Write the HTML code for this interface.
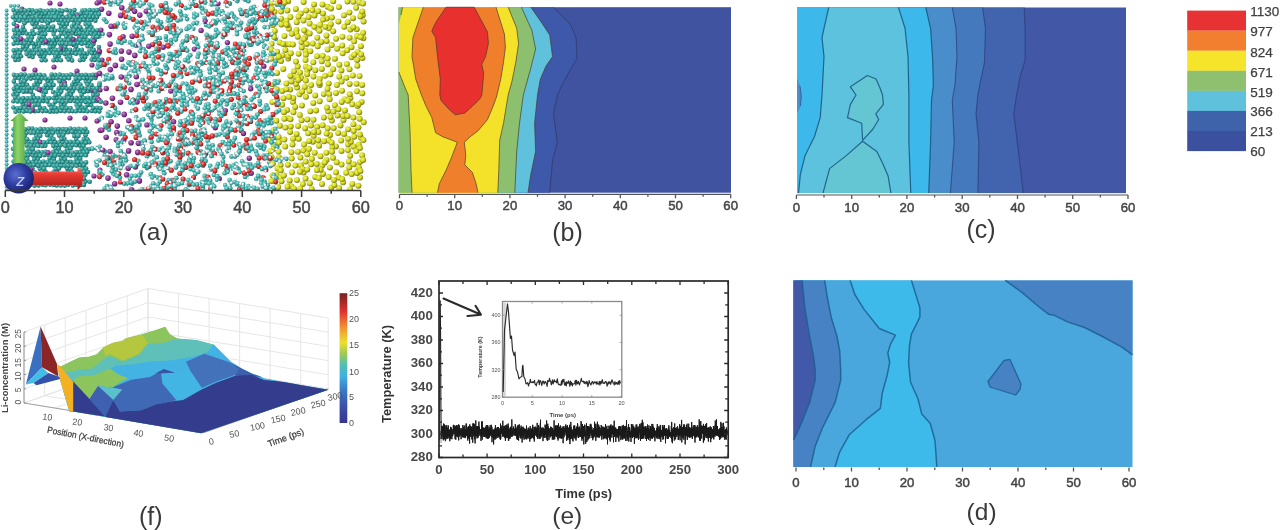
<!DOCTYPE html>
<html><head><meta charset="utf-8"><title>Figure</title>
<style>
html,body{margin:0;padding:0;background:#fff;}
body{width:1280px;height:530px;overflow:hidden;}
svg{display:block;font-family:"Liberation Sans", Arial, sans-serif;}
</style></head><body>
<svg width="1280" height="530" viewBox="0 0 1280 530">
<rect width="1280" height="530" fill="#fff"/>
<g>
<rect x="398.8" y="7.2" width="332.2" height="185.5" fill="#4053a0"/>
<polygon points="398.8,7.2 553.5,7.2 570.5,24.5 576.0,37.7 577.0,58.5 570.5,69.8 563.0,83.0 557.3,95.0 553.5,113.9 557.3,142.2 552.5,161.0 549.7,192.7 398.8,192.7" fill="#3e59a9"/>
<polygon points="398.8,7.2 530.8,7.2 540.3,20.8 549.7,34.9 552.5,56.6 546.0,66.0 540.3,79.2 537.5,95.0 534.6,123.3 535.6,151.6 530.8,174.2 528.0,192.7 398.8,192.7" fill="#5fc1dc"/>
<polygon points="398.8,7.2 521.4,7.2 531.8,30.2 535.6,49.0 530.8,68.0 526.1,85.0 523.3,95.0 519.5,123.3 516.7,151.6 514.8,192.7 398.8,192.7" fill="#8dc06e"/>
<polygon points="398.8,7.2 508.2,7.2 516.7,28.3 518.6,43.4 515.8,62.3 512.0,81.1 508.2,95.0 503.5,123.3 499.7,140.3 498.8,170.5 497.8,192.7 398.8,192.7" fill="#f4e12a"/>
<polygon points="423.3,7.2 412.9,37.7 412.0,56.6 415.8,79.2 421.4,95.0 426.1,106.3 431.8,117.6 435.6,132.7 442.2,136.5 457.3,142.2 451.6,157.3 445.9,170.5 439.3,183.7 437.5,192.7 478.0,192.7 476.1,183.7 472.4,172.4 464.8,164.8 465.8,155.4 464.3,142.2 470.5,136.5 478.0,130.8 487.5,119.5 493.1,106.3 496.5,97.0 500.7,79.2 503.5,62.3 505.4,47.2 504.4,34.0 496.0,7.2" fill="#f07f2c"/>
<polygon points="446.0,7.2 474.2,7.2 487.5,32.0 488.4,43.4 485.6,56.6 481.8,64.2 483.7,73.6 482.7,85.0 481.8,95.0 479.9,98.8 472.4,106.3 464.8,113.0 455.4,114.8 449.7,110.0 441.2,100.7 439.8,95.0 440.3,79.2 437.5,56.6 435.6,37.7 431.8,31.1 435.6,22.6" fill="#e8302f"/>
<polygon points="398.8,7.2 402.5,7.2 401.0,15.0 398.8,24.5" fill="#8dc06e"/>
<polygon points="398.8,72.0 402.0,80.0 406.0,90.0 408.2,95.0 410.1,132.7 411.0,170.5 412.0,192.7 398.8,192.7" fill="#8dc06e"/>
<polyline points="553.5,7.2 570.5,24.5 576.0,37.7 577.0,58.5 570.5,69.8 563.0,83.0 557.3,95.0 553.5,113.9 557.3,142.2 552.5,161.0 549.7,192.7" fill="none" stroke="rgba(40,40,70,0.55)" stroke-width="0.90" stroke-linejoin="round"/>
<polyline points="530.8,7.2 540.3,20.8 549.7,34.9 552.5,56.6 546.0,66.0 540.3,79.2 537.5,95.0 534.6,123.3 535.6,151.6 530.8,174.2 528.0,192.7" fill="none" stroke="rgba(70,55,40,0.75)" stroke-width="0.90" stroke-linejoin="round"/>
<polyline points="521.4,7.2 531.8,30.2 535.6,49.0 530.8,68.0 526.1,85.0 523.3,95.0 519.5,123.3 516.7,151.6 514.8,192.7" fill="none" stroke="rgba(70,55,40,0.75)" stroke-width="0.90" stroke-linejoin="round"/>
<polyline points="508.2,7.2 516.7,28.3 518.6,43.4 515.8,62.3 512.0,81.1 508.2,95.0 503.5,123.3 499.7,140.3 498.8,170.5 497.8,192.7" fill="none" stroke="rgba(70,55,40,0.75)" stroke-width="0.90" stroke-linejoin="round"/>
<polyline points="423.3,7.2 412.9,37.7 412.0,56.6 415.8,79.2 421.4,95.0 426.1,106.3 431.8,117.6 435.6,132.7 442.2,136.5 457.3,142.2 451.6,157.3 445.9,170.5 439.3,183.7 437.5,192.7" fill="none" stroke="rgba(70,55,40,0.75)" stroke-width="0.90" stroke-linejoin="round"/>
<polyline points="496.0,7.2 504.4,34.0 505.4,47.2 503.5,62.3 500.7,79.2 496.5,97.0 493.1,106.3 487.5,119.5 478.0,130.8 470.5,136.5 464.3,142.2 465.8,155.4 464.8,164.8 472.4,172.4 476.1,183.7 478.0,192.7" fill="none" stroke="rgba(70,55,40,0.75)" stroke-width="0.90" stroke-linejoin="round"/>
<polyline points="446.0,7.2 474.2,7.2 487.5,32.0 488.4,43.4 485.6,56.6 481.8,64.2 483.7,73.6 482.7,85.0 481.8,95.0 479.9,98.8 472.4,106.3 464.8,113.0 455.4,114.8 449.7,110.0 441.2,100.7 439.8,95.0 440.3,79.2 437.5,56.6 435.6,37.7 431.8,31.1 435.6,22.6 446.0,7.2" fill="none" stroke="rgba(70,55,40,0.75)" stroke-width="0.90" stroke-linejoin="round"/>
<polyline points="402.5,7.2 401.0,15.0" fill="none" stroke="rgba(70,55,40,0.75)" stroke-width="0.90" stroke-linejoin="round"/>
<polyline points="398.8,72.0 402.0,80.0 406.0,90.0 408.2,95.0 410.1,132.7 411.0,170.5 412.0,192.7" fill="none" stroke="rgba(70,55,40,0.75)" stroke-width="0.90" stroke-linejoin="round"/>
</g>
<line x1="399.5" y1="194.3" x2="730.7" y2="194.3" stroke="#555" stroke-width="1.2"/>
<line x1="399.5" y1="194.3" x2="399.5" y2="198.3" stroke="#555" stroke-width="1.3"/>
<text x="399.5" y="210.2" font-size="13.2" text-anchor="middle" font-weight="normal" fill="#444" stroke="#444" stroke-width="0.45">0</text>
<line x1="427.1" y1="194.3" x2="427.1" y2="196.8" stroke="#555" stroke-width="1.3"/>
<line x1="454.7" y1="194.3" x2="454.7" y2="198.3" stroke="#555" stroke-width="1.3"/>
<text x="454.7" y="210.2" font-size="13.2" text-anchor="middle" font-weight="normal" fill="#444" stroke="#444" stroke-width="0.45">10</text>
<line x1="482.3" y1="194.3" x2="482.3" y2="196.8" stroke="#555" stroke-width="1.3"/>
<line x1="509.9" y1="194.3" x2="509.9" y2="198.3" stroke="#555" stroke-width="1.3"/>
<text x="509.9" y="210.2" font-size="13.2" text-anchor="middle" font-weight="normal" fill="#444" stroke="#444" stroke-width="0.45">20</text>
<line x1="537.5" y1="194.3" x2="537.5" y2="196.8" stroke="#555" stroke-width="1.3"/>
<line x1="565.1" y1="194.3" x2="565.1" y2="198.3" stroke="#555" stroke-width="1.3"/>
<text x="565.1" y="210.2" font-size="13.2" text-anchor="middle" font-weight="normal" fill="#444" stroke="#444" stroke-width="0.45">30</text>
<line x1="592.7" y1="194.3" x2="592.7" y2="196.8" stroke="#555" stroke-width="1.3"/>
<line x1="620.3" y1="194.3" x2="620.3" y2="198.3" stroke="#555" stroke-width="1.3"/>
<text x="620.3" y="210.2" font-size="13.2" text-anchor="middle" font-weight="normal" fill="#444" stroke="#444" stroke-width="0.45">40</text>
<line x1="647.9" y1="194.3" x2="647.9" y2="196.8" stroke="#555" stroke-width="1.3"/>
<line x1="675.5" y1="194.3" x2="675.5" y2="198.3" stroke="#555" stroke-width="1.3"/>
<text x="675.5" y="210.2" font-size="13.2" text-anchor="middle" font-weight="normal" fill="#444" stroke="#444" stroke-width="0.45">50</text>
<line x1="703.1" y1="194.3" x2="703.1" y2="196.8" stroke="#555" stroke-width="1.3"/>
<line x1="730.7" y1="194.3" x2="730.7" y2="198.3" stroke="#555" stroke-width="1.3"/>
<text x="730.7" y="210.2" font-size="13.2" text-anchor="middle" font-weight="normal" fill="#444" stroke="#444" stroke-width="0.45">60</text>
<text x="567.5" y="240.5" font-size="25.0" text-anchor="middle" font-weight="normal" fill="#3a3a3a">(b)</text>
<g>
<rect x="797.2" y="7.5" width="328.8" height="185.6" fill="#4257a5"/>
<polygon points="797.2,7.5 1024.2,7.5 1025.1,28.3 1025.1,60.4 1020.4,75.5 1016.6,95.0 1013.8,113.9 1018.5,151.6 1023.2,193.1 797.2,193.1" fill="#4264ae"/>
<polygon points="797.2,7.5 982.6,7.5 985.5,28.3 984.5,62.3 979.8,85.0 977.9,95.0 976.0,113.9 978.9,142.2 977.9,193.1 797.2,193.1" fill="#4479bd"/>
<polygon points="797.2,7.5 952.3,7.5 956.0,28.3 957.0,56.6 955.0,85.0 952.3,100.0 954.2,142.2 950.4,193.1 797.2,193.1" fill="#4a8dcb"/>
<polygon points="797.2,7.5 925.8,7.5 930.6,28.3 932.5,56.6 933.4,85.0 931.5,100.0 930.6,142.2 928.7,193.1 797.2,193.1" fill="#3db8ea"/>
<polygon points="797.2,7.5 898.5,7.5 905.0,28.3 908.0,56.6 908.9,95.0 908.9,142.2 910.8,193.1 797.2,193.1" fill="#5cc2de"/>
<polygon points="797.2,7.5 828.7,7.5 824.0,28.3 822.0,37.7 824.0,56.6 823.0,75.5 822.0,95.0 820.2,117.6 814.5,136.5 805.1,155.4 800.4,174.2 798.5,193.1 797.2,193.1" fill="#3db8ea"/>
<polygon points="867.4,75.5 876.0,79.0 880.0,88.0 882.5,95.0 883.4,104.4 875.8,113.9 878.7,119.5 873.0,129.0 862.6,140.3 861.7,123.3 847.5,117.6 850.4,104.4 856.0,95.0 850.4,86.8" fill="#64c5d3"/>
<polygon points="862.6,141.2 876.8,151.6 882.5,162.9 888.1,176.1 891.0,193.1 823.0,193.1 829.6,168.6 846.6,155.4" fill="#64c5d3"/>
<polygon points="797.2,78.0 800.0,86.0 801.3,96.0 800.5,106.0 797.2,113.5" fill="#4a8dcb"/>
<polyline points="828.7,7.5 824.0,28.3 822.0,37.7 824.0,56.6 823.0,75.5 822.0,95.0 820.2,117.6 814.5,136.5 805.1,155.4 800.4,174.2 798.5,193.1" fill="none" stroke="rgba(25,85,125,0.85)" stroke-width="1.20" stroke-linejoin="round"/>
<polyline points="898.5,7.5 905.0,28.3 908.0,56.6 908.9,95.0 908.9,142.2 910.8,193.1" fill="none" stroke="rgba(25,85,125,0.85)" stroke-width="1.20" stroke-linejoin="round"/>
<polyline points="925.8,7.5 930.6,28.3 932.5,56.6 933.4,85.0 931.5,100.0 930.6,142.2 928.7,193.1" fill="none" stroke="rgba(25,85,125,0.85)" stroke-width="1.20" stroke-linejoin="round"/>
<polyline points="952.3,7.5 956.0,28.3 957.0,56.6 955.0,85.0 952.3,100.0 954.2,142.2 950.4,193.1" fill="none" stroke="rgba(40,60,120,0.7)" stroke-width="1.10" stroke-linejoin="round"/>
<polyline points="982.6,7.5 985.5,28.3 984.5,62.3 979.8,85.0 977.9,95.0 976.0,113.9 978.9,142.2 977.9,193.1" fill="none" stroke="rgba(40,60,120,0.7)" stroke-width="1.10" stroke-linejoin="round"/>
<polyline points="1024.2,7.5 1025.1,28.3 1025.1,60.4 1020.4,75.5 1016.6,95.0 1013.8,113.9 1018.5,151.6 1023.2,193.1" fill="none" stroke="rgba(40,60,120,0.7)" stroke-width="1.10" stroke-linejoin="round"/>
<polyline points="867.4,75.5 876.0,79.0 880.0,88.0 882.5,95.0 883.4,104.4 875.8,113.9 878.7,119.5 873.0,129.0 862.6,140.3 861.7,123.3 847.5,117.6 850.4,104.4 856.0,95.0 850.4,86.8 867.4,75.5" fill="none" stroke="rgba(25,85,125,0.85)" stroke-width="1.20" stroke-linejoin="round"/>
<polyline points="823.0,193.1 829.6,168.6 846.6,155.4 862.6,141.2 876.8,151.6 882.5,162.9 888.1,176.1 891.0,193.1" fill="none" stroke="rgba(25,85,125,0.85)" stroke-width="1.20" stroke-linejoin="round"/>
<polyline points="800.0,86.0 801.3,96.0 800.5,106.0" fill="none" stroke="rgba(40,60,120,0.6)" stroke-width="1.00" stroke-linejoin="round"/>
</g>
<line x1="796.4" y1="195.0" x2="1128.0" y2="195.0" stroke="#555" stroke-width="1.2"/>
<line x1="796.4" y1="195.0" x2="796.4" y2="199.0" stroke="#555" stroke-width="1.3"/>
<text x="796.4" y="211.8" font-size="13.2" text-anchor="middle" font-weight="normal" fill="#444" stroke="#444" stroke-width="0.45">0</text>
<line x1="824.0" y1="195.0" x2="824.0" y2="197.5" stroke="#555" stroke-width="1.3"/>
<line x1="851.7" y1="195.0" x2="851.7" y2="199.0" stroke="#555" stroke-width="1.3"/>
<text x="851.7" y="211.8" font-size="13.2" text-anchor="middle" font-weight="normal" fill="#444" stroke="#444" stroke-width="0.45">10</text>
<line x1="879.3" y1="195.0" x2="879.3" y2="197.5" stroke="#555" stroke-width="1.3"/>
<line x1="906.9" y1="195.0" x2="906.9" y2="199.0" stroke="#555" stroke-width="1.3"/>
<text x="906.9" y="211.8" font-size="13.2" text-anchor="middle" font-weight="normal" fill="#444" stroke="#444" stroke-width="0.45">20</text>
<line x1="934.6" y1="195.0" x2="934.6" y2="197.5" stroke="#555" stroke-width="1.3"/>
<line x1="962.2" y1="195.0" x2="962.2" y2="199.0" stroke="#555" stroke-width="1.3"/>
<text x="962.2" y="211.8" font-size="13.2" text-anchor="middle" font-weight="normal" fill="#444" stroke="#444" stroke-width="0.45">30</text>
<line x1="989.8" y1="195.0" x2="989.8" y2="197.5" stroke="#555" stroke-width="1.3"/>
<line x1="1017.5" y1="195.0" x2="1017.5" y2="199.0" stroke="#555" stroke-width="1.3"/>
<text x="1017.5" y="211.8" font-size="13.2" text-anchor="middle" font-weight="normal" fill="#444" stroke="#444" stroke-width="0.45">40</text>
<line x1="1045.1" y1="195.0" x2="1045.1" y2="197.5" stroke="#555" stroke-width="1.3"/>
<line x1="1072.7" y1="195.0" x2="1072.7" y2="199.0" stroke="#555" stroke-width="1.3"/>
<text x="1072.7" y="211.8" font-size="13.2" text-anchor="middle" font-weight="normal" fill="#444" stroke="#444" stroke-width="0.45">50</text>
<line x1="1100.4" y1="195.0" x2="1100.4" y2="197.5" stroke="#555" stroke-width="1.3"/>
<line x1="1128.0" y1="195.0" x2="1128.0" y2="199.0" stroke="#555" stroke-width="1.3"/>
<text x="1128.0" y="211.8" font-size="13.2" text-anchor="middle" font-weight="normal" fill="#444" stroke="#444" stroke-width="0.45">60</text>
<text x="981.0" y="237.5" font-size="25.0" text-anchor="middle" font-weight="normal" fill="#3a3a3a">(c)</text>
<rect x="1187.2" y="10.60" width="58.8" height="20.15" fill="#e73234"/>
<rect x="1187.2" y="30.66" width="58.8" height="20.15" fill="#f17f2f"/>
<rect x="1187.2" y="50.72" width="58.8" height="20.15" fill="#f5e42a"/>
<rect x="1187.2" y="70.78" width="58.8" height="20.15" fill="#8fc070"/>
<rect x="1187.2" y="90.84" width="58.8" height="20.15" fill="#5fc1dc"/>
<rect x="1187.2" y="110.90" width="58.8" height="20.15" fill="#3e63ab"/>
<rect x="1187.2" y="130.96" width="58.8" height="20.15" fill="#3c50a0"/>
<text x="1250.3" y="16.1" font-size="13.5" text-anchor="start" font-weight="normal" fill="#404040" stroke="#404040" stroke-width="0.25">1130</text>
<text x="1250.3" y="35.6" font-size="13.5" text-anchor="start" font-weight="normal" fill="#404040" stroke="#404040" stroke-width="0.25">977</text>
<text x="1250.3" y="56.6" font-size="13.5" text-anchor="start" font-weight="normal" fill="#404040" stroke="#404040" stroke-width="0.25">824</text>
<text x="1250.3" y="77.1" font-size="13.5" text-anchor="start" font-weight="normal" fill="#404040" stroke="#404040" stroke-width="0.25">671</text>
<text x="1250.3" y="96.9" font-size="13.5" text-anchor="start" font-weight="normal" fill="#404040" stroke="#404040" stroke-width="0.25">519</text>
<text x="1250.3" y="115.7" font-size="13.5" text-anchor="start" font-weight="normal" fill="#404040" stroke="#404040" stroke-width="0.25">366</text>
<text x="1250.3" y="135.6" font-size="13.5" text-anchor="start" font-weight="normal" fill="#404040" stroke="#404040" stroke-width="0.25">213</text>
<text x="1250.3" y="156.3" font-size="13.5" text-anchor="start" font-weight="normal" fill="#404040" stroke="#404040" stroke-width="0.25">60</text>
<g>
<rect x="793.5" y="280.4" width="339.0" height="186.6" fill="#49a7de"/>
<polygon points="793.5,280.4 911.4,280.4 915.2,292.6 919.9,307.7 919.9,317.2 911.4,334.2 909.5,345.5 908.6,362.5 910.5,382.0 918.0,399.0 921.8,414.1 930.3,423.5 935.0,440.5 936.9,467.0 793.5,467.0" fill="#3db9ea"/>
<polygon points="793.5,280.4 850.1,280.4 854.8,294.5 864.2,309.6 879.3,328.5 895.4,335.1 890.7,343.6 887.8,353.0 889.7,362.5 886.9,376.3 882.2,393.3 880.3,408.4 866.1,419.7 849.2,434.8 839.7,451.8 835.0,467.0 793.5,467.0" fill="#49a7de"/>
<polygon points="793.5,280.4 824.6,280.4 827.5,298.3 831.2,317.2 836.9,336.0 839.7,351.1 840.7,370.0 840.7,380.1 835.0,402.7 822.7,427.3 815.2,446.1 810.5,467.0 793.5,467.0" fill="#4682c4"/>
<polygon points="793.5,280.4 802.0,280.4 804.8,307.7 809.5,336.0 813.3,354.9 815.2,370.0 815.2,380.1 809.5,402.7 802.0,421.6 795.4,436.7 793.5,440.0 793.5,440.0" fill="#4159a8"/>
<polygon points="1005.3,280.4 1022.3,292.6 1035.5,304.0 1048.7,314.3 1054.3,315.3 1067.5,321.9 1084.5,327.5 1103.4,337.0 1122.3,347.4 1132.5,354.9 1132.5,280.4" fill="#4682c4"/>
<polygon points="1004.0,360.5 1010.0,359.4 1021.0,384.0 1020.0,389.5 1015.6,395.0 990.0,387.0 988.0,381.5" fill="#4682c4"/>
<polyline points="802.0,280.4 804.8,307.7 809.5,336.0 813.3,354.9 815.2,370.0 815.2,380.1 809.5,402.7 802.0,421.6 795.4,436.7 793.5,440.0" fill="none" stroke="rgba(28,95,145,0.85)" stroke-width="1.50" stroke-linejoin="round"/>
<polyline points="824.6,280.4 827.5,298.3 831.2,317.2 836.9,336.0 839.7,351.1 840.7,370.0 840.7,380.1 835.0,402.7 822.7,427.3 815.2,446.1 810.5,467.0" fill="none" stroke="rgba(28,95,145,0.85)" stroke-width="1.50" stroke-linejoin="round"/>
<polyline points="850.1,280.4 854.8,294.5 864.2,309.6 879.3,328.5 895.4,335.1 890.7,343.6 887.8,353.0 889.7,362.5 886.9,376.3 882.2,393.3 880.3,408.4 866.1,419.7 849.2,434.8 839.7,451.8 835.0,467.0" fill="none" stroke="rgba(28,95,145,0.85)" stroke-width="1.50" stroke-linejoin="round"/>
<polyline points="911.4,280.4 915.2,292.6 919.9,307.7 919.9,317.2 911.4,334.2 909.5,345.5 908.6,362.5 910.5,382.0 918.0,399.0 921.8,414.1 930.3,423.5 935.0,440.5 936.9,467.0" fill="none" stroke="rgba(28,95,145,0.85)" stroke-width="1.50" stroke-linejoin="round"/>
<polyline points="1005.3,280.4 1022.3,292.6 1035.5,304.0 1048.7,314.3 1054.3,315.3 1067.5,321.9 1084.5,327.5 1103.4,337.0 1122.3,347.4 1132.5,354.9" fill="none" stroke="rgba(28,95,145,0.85)" stroke-width="1.50" stroke-linejoin="round"/>
<polyline points="1004.0,360.5 1010.0,359.4 1021.0,384.0 1020.0,389.5 1015.6,395.0 990.0,387.0 988.0,381.5 1004.0,360.5" fill="none" stroke="rgba(28,95,145,0.85)" stroke-width="1.30" stroke-linejoin="round"/>
</g>
<line x1="796.0" y1="467.5" x2="796.0" y2="471.5" stroke="#555" stroke-width="1.3"/>
<text x="796.0" y="487.3" font-size="13.2" text-anchor="middle" font-weight="normal" fill="#444" stroke="#444" stroke-width="0.45">0</text>
<line x1="823.8" y1="467.5" x2="823.8" y2="470.0" stroke="#555" stroke-width="1.3"/>
<line x1="851.5" y1="467.5" x2="851.5" y2="471.5" stroke="#555" stroke-width="1.3"/>
<text x="851.5" y="487.3" font-size="13.2" text-anchor="middle" font-weight="normal" fill="#444" stroke="#444" stroke-width="0.45">10</text>
<line x1="879.2" y1="467.5" x2="879.2" y2="470.0" stroke="#555" stroke-width="1.3"/>
<line x1="907.0" y1="467.5" x2="907.0" y2="471.5" stroke="#555" stroke-width="1.3"/>
<text x="907.0" y="487.3" font-size="13.2" text-anchor="middle" font-weight="normal" fill="#444" stroke="#444" stroke-width="0.45">20</text>
<line x1="934.8" y1="467.5" x2="934.8" y2="470.0" stroke="#555" stroke-width="1.3"/>
<line x1="962.5" y1="467.5" x2="962.5" y2="471.5" stroke="#555" stroke-width="1.3"/>
<text x="962.5" y="487.3" font-size="13.2" text-anchor="middle" font-weight="normal" fill="#444" stroke="#444" stroke-width="0.45">30</text>
<line x1="990.2" y1="467.5" x2="990.2" y2="470.0" stroke="#555" stroke-width="1.3"/>
<line x1="1018.0" y1="467.5" x2="1018.0" y2="471.5" stroke="#555" stroke-width="1.3"/>
<text x="1018.0" y="487.3" font-size="13.2" text-anchor="middle" font-weight="normal" fill="#444" stroke="#444" stroke-width="0.45">40</text>
<line x1="1045.8" y1="467.5" x2="1045.8" y2="470.0" stroke="#555" stroke-width="1.3"/>
<line x1="1073.5" y1="467.5" x2="1073.5" y2="471.5" stroke="#555" stroke-width="1.3"/>
<text x="1073.5" y="487.3" font-size="13.2" text-anchor="middle" font-weight="normal" fill="#444" stroke="#444" stroke-width="0.45">50</text>
<line x1="1101.2" y1="467.5" x2="1101.2" y2="470.0" stroke="#555" stroke-width="1.3"/>
<line x1="1129.0" y1="467.5" x2="1129.0" y2="471.5" stroke="#555" stroke-width="1.3"/>
<text x="1129.0" y="487.3" font-size="13.2" text-anchor="middle" font-weight="normal" fill="#444" stroke="#444" stroke-width="0.45">60</text>
<text x="981.6" y="520.3" font-size="24.5" text-anchor="middle" font-weight="normal" fill="#3a3a3a">(d)</text>
<g>
<rect x="439.5" y="431" width="2.6" height="12" fill="#c8c8c8"/>
<polyline points="439.6,440.0 440.0,300.5 440.6,330.0 440.9,400.0 441.1,425.0 441.2,439.0 441.3,430.6 441.4,432.5 441.5,434.0 441.6,429.3 441.6,432.4 441.7,432.4 441.8,425.6 441.9,436.4 442.0,434.7 442.1,430.0 442.2,431.7 442.3,434.4 442.4,431.4 442.5,431.5 442.5,426.7 442.6,434.6 442.7,432.9 442.8,433.5 442.9,426.4 443.0,438.8 443.1,433.0 443.2,430.9 443.3,440.3 443.4,432.2 443.4,426.7 443.5,430.8 443.6,423.5 443.7,436.5 443.8,430.8 443.9,429.5 444.0,436.6 444.1,426.0 444.2,434.5 444.3,424.3 444.3,429.8 444.4,427.7 444.5,438.1 444.6,439.3 444.7,431.1 444.8,435.7 444.9,431.7 445.0,434.6 445.1,429.5 445.2,425.7 445.2,425.4 445.3,433.9 445.4,441.2 445.5,433.5 445.6,430.4 445.7,439.9 445.8,433.3 445.9,432.8 446.0,433.4 446.1,431.9 446.1,431.2 446.2,426.8 446.3,434.4 446.4,432.0 446.5,437.1 446.6,431.0 446.7,425.0 446.8,432.0 446.9,439.0 447.0,430.9 447.0,428.9 447.1,427.7 447.2,428.3 447.3,431.2 447.4,427.8 447.5,438.2 447.6,431.3 447.7,432.8 447.8,438.0 447.9,438.3 447.9,431.6 448.0,433.7 448.1,435.3 448.2,431.6 448.3,425.5 448.4,435.0 448.5,435.9 448.6,434.0 448.7,436.9 448.8,431.6 448.8,430.1 448.9,431.2 449.0,437.5 449.1,438.4 449.2,435.0 449.3,434.5 449.4,435.0 449.5,432.4 449.6,432.1 449.7,429.8 449.7,432.2 449.8,441.2 449.9,435.8 450.0,431.1 450.1,430.6 450.2,429.0 450.3,433.9 450.4,433.9 450.5,426.8 450.6,434.3 450.6,430.2 450.7,438.0 450.8,433.0 450.9,439.1 451.0,430.6 451.1,431.3 451.2,433.6 451.3,436.5 451.4,434.6 451.5,427.6 451.5,433.1 451.6,432.5 451.7,430.7 451.8,429.9 451.9,439.2 452.0,430.9 452.1,429.1 452.2,434.9 452.3,432.9 452.4,432.1 452.4,435.4 452.5,434.3 452.6,433.8 452.7,436.2 452.8,433.5 452.9,430.0 453.0,431.0 453.1,430.4 453.2,433.2 453.3,428.2 453.3,425.3 453.4,432.7 453.5,427.2 453.6,424.8 453.7,433.9 453.8,429.6 453.9,434.3 454.0,430.3 454.1,428.0 454.2,427.6 454.2,430.4 454.3,431.3 454.4,429.2 454.5,431.3 454.6,426.4 454.7,432.5 454.8,425.4 454.9,431.6 455.0,435.1 455.1,436.7 455.1,439.1 455.2,426.3 455.3,435.4 455.4,437.1 455.5,436.2 455.6,428.8 455.7,434.0 455.8,439.7 455.9,426.6 456.0,434.3 456.0,436.7 456.1,429.7 456.2,434.7 456.3,428.2 456.4,429.2 456.5,425.1 456.6,433.2 456.7,432.0 456.8,436.1 456.9,428.7 456.9,431.9 457.0,436.1 457.1,434.6 457.2,427.2 457.3,435.0 457.4,430.5 457.5,433.9 457.6,433.6 457.7,437.2 457.8,432.9 457.8,425.2 457.9,427.1 458.0,435.3 458.1,431.4 458.2,436.8 458.3,433.5 458.4,429.5 458.5,436.6 458.6,429.3 458.7,424.4 458.7,440.4 458.8,424.9 458.9,434.9 459.0,436.1 459.1,433.0 459.2,425.8 459.3,436.4 459.4,426.8 459.5,427.2 459.6,431.0 459.6,435.5 459.7,433.6 459.8,435.6 459.9,430.7 460.0,431.7 460.1,428.0 460.2,431.2 460.3,434.7 460.4,431.2 460.5,434.3 460.5,430.2 460.6,430.1 460.7,432.6 460.8,431.6 460.9,434.7 461.0,433.1 461.1,439.2 461.2,431.5 461.3,431.5 461.4,428.3 461.4,432.5 461.5,435.1 461.6,429.5 461.7,432.2 461.8,435.2 461.9,431.9 462.0,430.4 462.1,436.2 462.2,432.8 462.3,433.9 462.3,437.0 462.4,436.9 462.5,431.0 462.6,430.4 462.7,433.5 462.8,431.9 462.9,425.0 463.0,437.4 463.1,432.5 463.2,435.3 463.2,427.8 463.3,437.4 463.4,430.1 463.5,432.0 463.6,426.9 463.7,431.7 463.8,431.5 463.9,431.7 464.0,434.1 464.1,432.6 464.1,436.2 464.2,430.6 464.3,428.5 464.4,432.3 464.5,434.9 464.6,437.3 464.7,435.6 464.8,425.5 464.9,433.9 465.0,438.1 465.0,432.6 465.1,430.4 465.2,433.6 465.3,430.4 465.4,434.9 465.5,432.3 465.6,437.8 465.7,434.3 465.8,429.6 465.9,434.8 465.9,436.1 466.0,430.2 466.1,430.7 466.2,423.4 466.3,435.9 466.4,430.1 466.5,424.1 466.6,425.5 466.7,431.5 466.8,435.4 466.8,432.1 466.9,434.2 467.0,428.1 467.1,427.2 467.2,435.9 467.3,434.3 467.4,432.3 467.5,437.4 467.6,428.7 467.7,430.8 467.7,436.4 467.8,440.6 467.9,432.4 468.0,439.0 468.1,430.1 468.2,433.7 468.3,431.7 468.4,426.2 468.5,433.4 468.6,436.0 468.6,431.8 468.7,432.1 468.8,437.8 468.9,427.5 469.0,426.6 469.1,429.8 469.2,427.7 469.3,437.7 469.4,433.6 469.5,429.0 469.5,430.0 469.6,443.6 469.7,430.0 469.8,424.3 469.9,433.6 470.0,434.9 470.1,433.3 470.2,428.9 470.3,427.9 470.4,434.7 470.4,432.2 470.5,426.0 470.6,437.0 470.7,435.4 470.8,431.5 470.9,431.4 471.0,433.3 471.1,429.7 471.2,427.1 471.3,433.7 471.3,426.8 471.4,433.9 471.5,426.8 471.6,432.0 471.7,431.9 471.8,439.4 471.9,428.2 472.0,426.9 472.1,429.9 472.2,428.0 472.2,430.1 472.3,434.0 472.4,435.4 472.5,438.9 472.6,429.5 472.7,442.7 472.8,440.1 472.9,431.6 473.0,423.5 473.1,432.1 473.1,432.7 473.2,423.4 473.3,432.7 473.4,431.6 473.5,429.3 473.6,434.8 473.7,436.3 473.8,430.5 473.9,433.3 474.0,429.8 474.0,429.3 474.1,432.7 474.2,434.4 474.3,430.2 474.4,423.8 474.5,434.7 474.6,426.2 474.7,432.9 474.8,439.3 474.9,432.3 474.9,427.8 475.0,426.7 475.1,443.4 475.2,432.3 475.3,434.5 475.4,436.0 475.5,432.2 475.6,431.2 475.7,428.7 475.8,420.4 475.8,426.5 475.9,432.1 476.0,431.7 476.1,434.0 476.2,431.9 476.3,433.0 476.4,435.5 476.5,428.9 476.6,431.3 476.7,426.1 476.7,436.2 476.8,432.5 476.9,434.3 477.0,438.4 477.1,436.6 477.2,432.2 477.3,435.5 477.4,426.8 477.5,434.1 477.6,432.9 477.6,426.1 477.7,437.6 477.8,429.7 477.9,435.1 478.0,430.8 478.1,436.3 478.2,437.5 478.3,429.2 478.4,426.4 478.5,431.9 478.5,435.7 478.6,431.0 478.7,430.0 478.8,434.3 478.9,421.6 479.0,429.8 479.1,427.0 479.2,433.5 479.3,429.5 479.4,428.1 479.4,431.0 479.5,426.7 479.6,432.3 479.7,429.7 479.8,430.9 479.9,429.6 480.0,436.0 480.1,432.0 480.2,434.4 480.3,434.3 480.3,429.3 480.4,434.6 480.5,433.8 480.6,433.6 480.7,430.8 480.8,430.7 480.9,435.5 481.0,440.9 481.1,429.2 481.2,434.5 481.2,431.0 481.3,435.5 481.4,434.1 481.5,436.5 481.6,421.5 481.7,430.1 481.8,428.5 481.9,432.0 482.0,429.6 482.1,429.9 482.1,435.1 482.2,439.8 482.3,421.4 482.4,431.2 482.5,433.6 482.6,432.4 482.7,431.1 482.8,427.1 482.9,428.7 483.0,435.2 483.0,436.6 483.1,432.8 483.2,429.1 483.3,432.8 483.4,431.5 483.5,434.5 483.6,432.9 483.7,430.0 483.8,433.1 483.9,427.8 483.9,435.6 484.0,437.0 484.1,427.8 484.2,434.0 484.3,428.5 484.4,436.6 484.5,435.9 484.6,431.5 484.7,436.3 484.8,430.7 484.8,429.9 484.9,430.2 485.0,431.9 485.1,431.1 485.2,433.0 485.3,430.0 485.4,435.4 485.5,431.8 485.6,430.5 485.7,426.8 485.7,435.2 485.8,436.8 485.9,431.8 486.0,427.4 486.1,433.4 486.2,438.3 486.3,425.1 486.4,434.3 486.5,431.2 486.6,429.1 486.6,434.3 486.7,427.3 486.8,433.6 486.9,437.5 487.0,433.1 487.1,429.0 487.2,425.5 487.3,427.4 487.4,425.2 487.5,438.6 487.5,431.4 487.6,428.3 487.7,427.3 487.8,428.2 487.9,425.5 488.0,427.4 488.1,438.9 488.2,429.5 488.3,429.3 488.4,433.6 488.4,438.1 488.5,437.6 488.6,430.5 488.7,433.4 488.8,433.0 488.9,434.5 489.0,433.4 489.1,428.7 489.2,427.5 489.3,433.1 489.3,427.8 489.4,437.7 489.5,432.6 489.6,428.4 489.7,431.1 489.8,430.4 489.9,431.9 490.0,436.1 490.1,426.8 490.2,425.1 490.2,433.7 490.3,431.7 490.4,433.0 490.5,434.1 490.6,431.7 490.7,435.5 490.8,428.9 490.9,432.7 491.0,429.2 491.1,428.0 491.1,434.8 491.2,434.6 491.3,424.8 491.4,428.0 491.5,433.5 491.6,436.6 491.7,429.8 491.8,431.7 491.9,426.9 492.0,442.2 492.0,434.3 492.1,435.9 492.2,435.0 492.3,436.0 492.4,434.8 492.5,431.1 492.6,435.3 492.7,432.7 492.8,437.5 492.9,429.5 492.9,430.3 493.0,435.0 493.1,437.4 493.2,433.0 493.3,429.6 493.4,431.9 493.5,430.5 493.6,444.4 493.7,435.9 493.8,437.3 493.8,435.9 493.9,430.2 494.0,437.0 494.1,438.9 494.2,434.7 494.3,432.3 494.4,436.6 494.5,431.0 494.6,435.4 494.7,429.6 494.7,428.6 494.8,434.6 494.9,433.7 495.0,439.8 495.1,431.3 495.2,432.5 495.3,428.0 495.4,425.1 495.5,425.5 495.6,434.2 495.6,427.8 495.7,436.8 495.8,437.9 495.9,431.3 496.0,438.9 496.1,433.3 496.2,436.8 496.3,431.5 496.4,436.1 496.5,428.7 496.5,434.8 496.6,430.6 496.7,431.9 496.8,434.9 496.9,433.1 497.0,432.1 497.1,435.2 497.2,435.5 497.3,427.0 497.4,434.6 497.4,435.0 497.5,429.5 497.6,433.9 497.7,427.2 497.8,438.0 497.9,431.5 498.0,432.1 498.1,437.1 498.2,431.8 498.3,434.7 498.3,428.3 498.4,430.2 498.5,427.0 498.6,431.6 498.7,436.4 498.8,433.3 498.9,435.8 499.0,428.4 499.1,429.0 499.2,430.6 499.2,434.6 499.3,433.8 499.4,431.8 499.5,434.8 499.6,431.8 499.7,432.3 499.8,437.5 499.9,430.1 500.0,433.1 500.1,438.7 500.1,432.8 500.2,428.4 500.3,430.0 500.4,440.0 500.5,423.6 500.6,428.0 500.7,428.3 500.8,438.7 500.9,433.8 501.0,431.4 501.0,427.4 501.1,433.8 501.2,432.8 501.3,429.7 501.4,426.6 501.5,428.1 501.6,433.2 501.7,433.6 501.8,432.7 501.9,431.8 501.9,425.5 502.0,432.6 502.1,428.4 502.2,432.6 502.3,434.2 502.4,429.8 502.5,428.4 502.6,436.3 502.7,433.8 502.8,429.9 502.8,420.7 502.9,432.2 503.0,434.9 503.1,436.8 503.2,429.8 503.3,429.9 503.4,430.7 503.5,435.7 503.6,427.8 503.7,432.0 503.7,428.8 503.8,433.4 503.9,426.0 504.0,433.9 504.1,430.5 504.2,431.5 504.3,434.5 504.4,436.9 504.5,425.8 504.6,436.3 504.6,434.6 504.7,431.3 504.8,437.9 504.9,433.1 505.0,437.4 505.1,430.1 505.2,429.0 505.3,437.2 505.4,440.8 505.5,434.9 505.5,435.9 505.6,430.6 505.7,427.2 505.8,434.2 505.9,438.3 506.0,425.1 506.1,430.5 506.2,424.9 506.3,432.8 506.4,435.8 506.4,427.6 506.5,430.8 506.6,437.6 506.7,432.1 506.8,427.6 506.9,427.3 507.0,424.5 507.1,435.4 507.2,429.5 507.3,436.5 507.3,435.8 507.4,429.8 507.5,430.3 507.6,435.4 507.7,433.0 507.8,438.0 507.9,426.0 508.0,431.0 508.1,429.0 508.2,423.5 508.2,430.0 508.3,434.0 508.4,440.6 508.5,430.9 508.6,427.2 508.7,440.7 508.8,433.0 508.9,431.4 509.0,428.2 509.1,428.5 509.1,438.2 509.2,431.3 509.3,430.3 509.4,430.4 509.5,438.5 509.6,430.1 509.7,438.3 509.8,433.4 509.9,433.3 510.0,429.0 510.0,435.0 510.1,438.7 510.2,432.2 510.3,428.8 510.4,427.4 510.5,433.1 510.6,431.3 510.7,432.0 510.8,432.4 510.9,426.6 510.9,435.4 511.0,433.3 511.1,432.1 511.2,433.3 511.3,436.0 511.4,432.6 511.5,429.1 511.6,436.9 511.7,430.7 511.8,429.6 511.8,419.4 511.9,432.4 512.0,428.3 512.1,430.4 512.2,434.2 512.3,432.5 512.4,436.4 512.5,433.6 512.6,430.8 512.7,431.1 512.7,430.4 512.8,434.9 512.9,432.5 513.0,430.8 513.1,435.7 513.2,432.8 513.3,430.6 513.4,426.5 513.5,434.1 513.6,433.3 513.6,432.6 513.7,430.7 513.8,429.1 513.9,431.5 514.0,433.3 514.1,431.9 514.2,431.8 514.3,430.6 514.4,433.7 514.5,433.3 514.5,429.5 514.6,435.4 514.7,435.5 514.8,435.6 514.9,431.9 515.0,431.6 515.1,427.9 515.2,435.3 515.3,424.1 515.4,430.9 515.4,431.1 515.5,435.7 515.6,432.4 515.7,428.6 515.8,426.8 515.9,429.6 516.0,432.8 516.1,432.6 516.2,431.6 516.3,429.7 516.3,431.6 516.4,436.3 516.5,428.1 516.6,432.5 516.7,438.7 516.8,434.6 516.9,430.6 517.0,435.0 517.1,429.5 517.2,432.4 517.2,438.5 517.3,439.8 517.4,425.7 517.5,435.1 517.6,440.0 517.7,430.3 517.8,433.4 517.9,438.3 518.0,430.5 518.1,434.2 518.1,432.2 518.2,424.9 518.3,433.7 518.4,431.7 518.5,436.0 518.6,440.6 518.7,435.1 518.8,431.0 518.9,434.2 519.0,433.2 519.0,436.4 519.1,426.8 519.2,427.9 519.3,424.4 519.4,434.8 519.5,432.3 519.6,429.9 519.7,429.6 519.8,430.2 519.9,428.8 519.9,431.1 520.0,430.5 520.1,437.8 520.2,433.7 520.3,429.2 520.4,430.1 520.5,437.1 520.6,434.2 520.7,433.6 520.8,435.2 520.8,438.6 520.9,427.7 521.0,429.5 521.1,425.6 521.2,434.3 521.3,430.9 521.4,429.8 521.5,429.4 521.6,435.1 521.7,431.8 521.7,430.3 521.8,437.3 521.9,428.3 522.0,427.5 522.1,442.5 522.2,431.0 522.3,430.3 522.4,429.6 522.5,431.9 522.6,435.5 522.6,435.3 522.7,434.5 522.8,431.3 522.9,426.6 523.0,433.9 523.1,438.3 523.2,436.6 523.3,431.7 523.4,435.5 523.5,430.9 523.5,432.2 523.6,427.6 523.7,431.2 523.8,432.9 523.9,431.7 524.0,435.4 524.1,439.7 524.2,437.6 524.3,431.2 524.4,429.5 524.4,429.9 524.5,428.6 524.6,432.5 524.7,434.0 524.8,433.1 524.9,433.2 525.0,433.0 525.1,431.9 525.2,429.5 525.3,439.1 525.3,436.5 525.4,428.9 525.5,428.9 525.6,430.1 525.7,432.5 525.8,437.3 525.9,436.4 526.0,436.6 526.1,436.6 526.2,436.7 526.2,435.3 526.3,434.2 526.4,431.9 526.5,425.6 526.6,431.9 526.7,439.4 526.8,430.3 526.9,430.0 527.0,436.4 527.1,432.7 527.1,430.5 527.2,438.5 527.3,434.8 527.4,435.4 527.5,430.2 527.6,434.3 527.7,433.9 527.8,435.4 527.9,436.9 528.0,436.8 528.0,433.1 528.1,435.1 528.2,427.9 528.3,434.9 528.4,428.8 528.5,430.9 528.6,429.4 528.7,432.2 528.8,427.7 528.9,438.6 528.9,433.5 529.0,428.7 529.1,432.6 529.2,436.6 529.3,436.5 529.4,436.3 529.5,431.8 529.6,431.1 529.7,430.9 529.8,434.7 529.8,441.6 529.9,437.9 530.0,438.6 530.1,437.7 530.2,426.1 530.3,431.6 530.4,430.7 530.5,437.3 530.6,439.0 530.7,429.8 530.7,432.6 530.8,434.6 530.9,430.5 531.0,429.9 531.1,429.8 531.2,435.9 531.3,428.9 531.4,436.8 531.5,432.7 531.6,435.3 531.6,438.4 531.7,429.8 531.8,429.2 531.9,434.1 532.0,428.4 532.1,429.6 532.2,432.0 532.3,433.0 532.4,427.6 532.5,430.9 532.5,434.7 532.6,437.6 532.7,424.8 532.8,437.5 532.9,435.8 533.0,428.2 533.1,426.7 533.2,434.0 533.3,430.8 533.4,430.0 533.4,435.7 533.5,431.0 533.6,433.0 533.7,434.2 533.8,435.9 533.9,439.2 534.0,439.0 534.1,433.3 534.2,431.5 534.3,441.6 534.3,434.9 534.4,434.1 534.5,428.1 534.6,435.4 534.7,429.4 534.8,430.6 534.9,427.2 535.0,430.4 535.1,432.6 535.2,426.6 535.2,428.9 535.3,432.1 535.4,427.5 535.5,427.5 535.6,429.2 535.7,426.9 535.8,434.8 535.9,428.5 536.0,435.4 536.1,436.0 536.1,427.8 536.2,432.6 536.3,430.5 536.4,428.0 536.5,431.1 536.6,431.5 536.7,435.2 536.8,436.4 536.9,428.1 537.0,430.8 537.0,434.5 537.1,437.0 537.2,422.9 537.3,437.4 537.4,431.7 537.5,438.4 537.6,430.8 537.7,429.2 537.8,432.6 537.9,436.9 537.9,432.5 538.0,438.9 538.1,435.1 538.2,426.1 538.3,428.6 538.4,427.9 538.5,425.2 538.6,427.5 538.7,428.6 538.8,430.0 538.8,432.2 538.9,431.1 539.0,426.6 539.1,431.7 539.2,436.2 539.3,436.1 539.4,432.9 539.5,434.8 539.6,435.9 539.7,437.7 539.7,439.0 539.8,431.2 539.9,431.3 540.0,438.1 540.1,438.5 540.2,438.4 540.3,423.3 540.4,431.5 540.5,419.7 540.6,435.2 540.6,432.6 540.7,432.6 540.8,431.9 540.9,437.5 541.0,431.3 541.1,436.4 541.2,434.6 541.3,433.8 541.4,434.2 541.5,432.8 541.5,428.1 541.6,435.2 541.7,435.2 541.8,431.8 541.9,435.2 542.0,435.9 542.1,427.4 542.2,431.8 542.3,430.7 542.4,428.9 542.4,433.7 542.5,429.1 542.6,430.7 542.7,433.4 542.8,433.8 542.9,433.7 543.0,441.1 543.1,430.4 543.2,433.4 543.3,427.7 543.3,434.3 543.4,436.9 543.5,437.1 543.6,429.9 543.7,431.3 543.8,437.3 543.9,432.0 544.0,436.1 544.1,428.6 544.2,437.8 544.2,436.4 544.3,434.2 544.4,429.3 544.5,431.8 544.6,433.0 544.7,433.4 544.8,432.0 544.9,431.5 545.0,433.2 545.1,437.8 545.1,424.6 545.2,427.0 545.3,426.4 545.4,429.7 545.5,425.6 545.6,434.6 545.7,432.8 545.8,431.4 545.9,429.7 546.0,433.0 546.0,433.1 546.1,433.7 546.2,429.6 546.3,434.9 546.4,426.7 546.5,437.3 546.6,420.4 546.7,430.1 546.8,427.7 546.9,435.5 546.9,426.6 547.0,439.5 547.1,426.4 547.2,440.3 547.3,434.1 547.4,432.5 547.5,434.1 547.6,441.0 547.7,435.9 547.8,423.7 547.8,437.1 547.9,433.3 548.0,426.1 548.1,435.4 548.2,427.7 548.3,433.1 548.4,433.3 548.5,429.9 548.6,434.9 548.7,428.4 548.7,433.1 548.8,430.3 548.9,431.7 549.0,439.9 549.1,432.8 549.2,428.2 549.3,431.9 549.4,430.4 549.5,432.5 549.6,433.0 549.6,432.7 549.7,432.7 549.8,430.3 549.9,434.2 550.0,436.5 550.1,430.0 550.2,432.2 550.3,432.6 550.4,437.3 550.5,436.6 550.5,429.6 550.6,432.7 550.7,426.6 550.8,428.6 550.9,432.5 551.0,434.9 551.1,436.1 551.2,431.2 551.3,427.1 551.4,433.9 551.4,431.7 551.5,434.1 551.6,433.0 551.7,435.2 551.8,435.0 551.9,435.7 552.0,430.6 552.1,436.3 552.2,430.4 552.3,432.7 552.3,439.7 552.4,433.8 552.5,427.9 552.6,438.2 552.7,436.3 552.8,436.8 552.9,433.2 553.0,435.9 553.1,431.5 553.2,429.7 553.2,438.4 553.3,431.0 553.4,430.5 553.5,430.7 553.6,439.7 553.7,435.8 553.8,431.0 553.9,432.2 554.0,434.4 554.1,420.3 554.1,426.1 554.2,435.9 554.3,431.5 554.4,429.7 554.5,430.9 554.6,435.5 554.7,439.3 554.8,433.0 554.9,434.6 555.0,429.2 555.0,434.3 555.1,435.6 555.2,426.6 555.3,430.4 555.4,435.5 555.5,425.5 555.6,430.9 555.7,434.7 555.8,425.8 555.9,430.9 555.9,432.6 556.0,435.9 556.1,427.4 556.2,436.7 556.3,433.6 556.4,437.1 556.5,436.9 556.6,433.7 556.7,434.3 556.8,425.6 556.8,427.1 556.9,428.5 557.0,431.0 557.1,436.0 557.2,425.4 557.3,431.2 557.4,427.2 557.5,426.3 557.6,438.2 557.7,432.8 557.7,438.8 557.8,437.0 557.9,428.8 558.0,425.2 558.1,440.5 558.2,430.8 558.3,427.9 558.4,435.1 558.5,423.4 558.6,429.8 558.6,431.1 558.7,433.0 558.8,432.7 558.9,435.3 559.0,431.0 559.1,431.1 559.2,434.7 559.3,433.6 559.4,436.7 559.5,431.4 559.5,432.0 559.6,427.9 559.7,438.2 559.8,427.0 559.9,433.2 560.0,428.9 560.1,433.7 560.2,435.3 560.3,426.0 560.4,431.6 560.4,425.5 560.5,437.9 560.6,430.7 560.7,426.3 560.8,429.7 560.9,437.5 561.0,438.2 561.1,437.4 561.2,429.3 561.3,431.8 561.3,438.8 561.4,429.5 561.5,431.1 561.6,428.7 561.7,427.9 561.8,437.1 561.9,434.9 562.0,434.2 562.1,434.7 562.2,436.4 562.2,438.3 562.3,432.4 562.4,431.1 562.5,428.4 562.6,436.6 562.7,430.4 562.8,426.6 562.9,431.4 563.0,432.5 563.1,435.6 563.1,443.2 563.2,429.5 563.3,429.3 563.4,431.1 563.5,427.7 563.6,432.0 563.7,434.2 563.8,432.6 563.9,426.1 564.0,427.8 564.0,437.4 564.1,428.4 564.2,435.3 564.3,434.9 564.4,431.1 564.5,428.5 564.6,433.2 564.7,428.9 564.8,431.7 564.9,432.8 564.9,429.6 565.0,431.5 565.1,431.2 565.2,427.6 565.3,431.7 565.4,429.9 565.5,425.3 565.6,431.1 565.7,431.3 565.8,430.0 565.8,424.4 565.9,435.4 566.0,435.1 566.1,434.9 566.2,433.7 566.3,427.5 566.4,432.9 566.5,428.8 566.6,440.9 566.7,430.4 566.7,435.0 566.8,426.3 566.9,427.8 567.0,430.3 567.1,435.1 567.2,434.5 567.3,433.5 567.4,425.2 567.5,436.8 567.6,428.8 567.6,438.7 567.7,439.7 567.8,435.6 567.9,436.3 568.0,427.5 568.1,437.7 568.2,433.2 568.3,436.3 568.4,429.1 568.5,432.1 568.5,427.8 568.6,431.5 568.7,432.5 568.8,433.4 568.9,437.8 569.0,434.3 569.1,433.4 569.2,432.6 569.3,440.2 569.4,430.1 569.4,437.0 569.5,424.8 569.6,429.0 569.7,434.0 569.8,431.8 569.9,444.1 570.0,442.5 570.1,426.5 570.2,428.2 570.3,431.8 570.3,439.2 570.4,436.8 570.5,433.7 570.6,426.9 570.7,429.1 570.8,421.9 570.9,426.4 571.0,434.1 571.1,435.5 571.2,427.3 571.2,432.8 571.3,438.8 571.4,433.1 571.5,431.2 571.6,434.8 571.7,434.5 571.8,432.7 571.9,430.3 572.0,430.8 572.1,432.8 572.1,430.3 572.2,437.6 572.3,435.9 572.4,436.7 572.5,440.3 572.6,438.6 572.7,438.0 572.8,433.9 572.9,431.7 573.0,441.4 573.0,429.8 573.1,430.0 573.2,429.0 573.3,433.3 573.4,434.0 573.5,436.4 573.6,431.5 573.7,425.7 573.8,433.7 573.9,436.2 573.9,432.5 574.0,431.9 574.1,434.6 574.2,438.0 574.3,432.2 574.4,426.9 574.5,430.2 574.6,431.8 574.7,425.4 574.8,435.4 574.8,429.4 574.9,434.4 575.0,433.2 575.1,431.2 575.2,438.8 575.3,430.2 575.4,429.8 575.5,433.5 575.6,435.7 575.7,432.4 575.7,428.6 575.8,435.1 575.9,434.8 576.0,440.5 576.1,431.5 576.2,433.2 576.3,430.2 576.4,426.6 576.5,432.7 576.6,435.7 576.6,428.5 576.7,429.8 576.8,427.8 576.9,437.6 577.0,429.9 577.1,434.7 577.2,429.0 577.3,432.7 577.4,430.0 577.5,423.2 577.5,432.7 577.6,434.5 577.7,424.3 577.8,431.7 577.9,430.7 578.0,428.2 578.1,431.4 578.2,432.4 578.3,433.4 578.4,437.0 578.4,427.5 578.5,432.1 578.6,438.0 578.7,432.9 578.8,430.4 578.9,428.8 579.0,433.1 579.1,431.9 579.2,434.9 579.3,426.5 579.3,436.6 579.4,430.8 579.5,434.9 579.6,429.6 579.7,427.3 579.8,430.2 579.9,428.7 580.0,430.9 580.1,434.9 580.2,436.6 580.2,433.2 580.3,430.3 580.4,430.6 580.5,434.7 580.6,436.8 580.7,431.1 580.8,431.9 580.9,429.5 581.0,433.2 581.1,436.1 581.1,421.1 581.2,433.4 581.3,430.3 581.4,423.3 581.5,433.6 581.6,432.1 581.7,433.8 581.8,427.1 581.9,440.7 582.0,432.8 582.0,431.1 582.1,438.3 582.2,434.9 582.3,435.6 582.4,436.9 582.5,424.3 582.6,438.9 582.7,431.0 582.8,428.6 582.9,436.0 582.9,429.6 583.0,433.6 583.1,435.4 583.2,432.2 583.3,434.3 583.4,426.1 583.5,427.8 583.6,427.9 583.7,433.8 583.8,444.4 583.8,433.4 583.9,431.8 584.0,432.1 584.1,436.2 584.2,435.2 584.3,427.9 584.4,436.4 584.5,432.3 584.6,435.6 584.7,424.6 584.7,426.3 584.8,434.7 584.9,425.4 585.0,433.9 585.1,433.7 585.2,433.0 585.3,433.8 585.4,433.4 585.5,434.1 585.6,434.9 585.6,432.3 585.7,443.8 585.8,436.8 585.9,434.8 586.0,433.9 586.1,429.6 586.2,433.3 586.3,431.4 586.4,436.1 586.5,428.8 586.5,423.2 586.6,430.2 586.7,435.1 586.8,442.0 586.9,436.4 587.0,428.6 587.1,431.5 587.2,428.7 587.3,431.7 587.4,428.9 587.4,426.0 587.5,434.1 587.6,433.2 587.7,431.7 587.8,433.8 587.9,440.3 588.0,432.9 588.1,430.9 588.2,435.8 588.3,426.0 588.3,435.3 588.4,429.4 588.5,429.2 588.6,432.8 588.7,438.9 588.8,429.5 588.9,436.1 589.0,433.9 589.1,427.0 589.2,436.0 589.2,429.2 589.3,426.7 589.4,429.3 589.5,429.6 589.6,434.7 589.7,429.5 589.8,438.2 589.9,433.3 590.0,429.6 590.1,429.1 590.1,433.3 590.2,424.5 590.3,423.9 590.4,428.9 590.5,429.3 590.6,433.1 590.7,432.5 590.8,431.6 590.9,423.9 591.0,431.1 591.0,425.5 591.1,435.7 591.2,432.4 591.3,432.0 591.4,434.0 591.5,433.7 591.6,433.3 591.7,433.8 591.8,430.1 591.9,427.2 591.9,433.7 592.0,438.0 592.1,436.3 592.2,431.6 592.3,434.8 592.4,430.7 592.5,433.9 592.6,430.0 592.7,432.9 592.8,440.2 592.8,435.4 592.9,438.2 593.0,429.4 593.1,429.7 593.2,432.2 593.3,434.6 593.4,431.6 593.5,436.4 593.6,430.3 593.7,437.7 593.7,436.2 593.8,428.0 593.9,434.7 594.0,431.5 594.1,436.4 594.2,430.3 594.3,433.6 594.4,434.5 594.5,421.7 594.6,425.1 594.6,432.9 594.7,431.9 594.8,436.4 594.9,433.3 595.0,427.4 595.1,433.7 595.2,429.5 595.3,431.5 595.4,430.4 595.5,433.8 595.5,429.7 595.6,428.0 595.7,423.7 595.8,440.8 595.9,428.5 596.0,429.0 596.1,427.9 596.2,429.9 596.3,430.7 596.4,434.8 596.4,433.1 596.5,433.7 596.6,430.1 596.7,432.1 596.8,437.1 596.9,432.3 597.0,433.6 597.1,424.5 597.2,434.4 597.3,433.4 597.3,437.4 597.4,421.7 597.5,432.5 597.6,431.9 597.7,432.7 597.8,429.9 597.9,433.2 598.0,435.1 598.1,432.5 598.2,431.2 598.2,436.0 598.3,430.8 598.4,432.5 598.5,429.5 598.6,424.6 598.7,437.6 598.8,425.5 598.9,431.9 599.0,427.2 599.1,431.2 599.1,428.5 599.2,432.1 599.3,429.0 599.4,427.2 599.5,433.5 599.6,437.5 599.7,433.6 599.8,432.7 599.9,428.2 600.0,431.9 600.0,434.0 600.1,429.7 600.2,435.8 600.3,432.1 600.4,433.6 600.5,430.3 600.6,430.3 600.7,433.1 600.8,433.7 600.9,433.6 600.9,428.3 601.0,429.4 601.1,432.1 601.2,425.0 601.3,436.3 601.4,433.5 601.5,432.4 601.6,429.4 601.7,435.4 601.8,431.1 601.8,439.6 601.9,433.7 602.0,426.4 602.1,435.0 602.2,430.1 602.3,430.2 602.4,431.3 602.5,431.7 602.6,433.2 602.7,435.2 602.7,434.0 602.8,429.4 602.9,426.9 603.0,429.0 603.1,433.6 603.2,435.6 603.3,439.2 603.4,426.9 603.5,432.5 603.6,437.3 603.6,430.6 603.7,432.7 603.8,431.2 603.9,431.1 604.0,429.6 604.1,433.7 604.2,436.3 604.3,438.5 604.4,430.1 604.5,428.1 604.5,431.1 604.6,428.9 604.7,436.2 604.8,429.0 604.9,432.5 605.0,426.9 605.1,430.8 605.2,432.9 605.3,438.1 605.4,429.5 605.4,428.4 605.5,424.1 605.6,427.5 605.7,429.0 605.8,430.2 605.9,433.8 606.0,434.6 606.1,425.9 606.2,434.2 606.3,427.8 606.3,439.3 606.4,433.4 606.5,432.8 606.6,431.5 606.7,432.0 606.8,432.2 606.9,429.5 607.0,435.1 607.1,433.2 607.2,435.1 607.2,431.9 607.3,434.8 607.4,429.2 607.5,444.4 607.6,429.4 607.7,430.4 607.8,435.9 607.9,437.0 608.0,429.0 608.1,425.7 608.1,426.7 608.2,428.3 608.3,429.1 608.4,431.5 608.5,436.2 608.6,436.4 608.7,429.8 608.8,434.3 608.9,435.6 609.0,437.6 609.0,431.5 609.1,429.2 609.2,435.1 609.3,438.0 609.4,430.1 609.5,439.7 609.6,438.8 609.7,431.1 609.8,426.0 609.9,429.8 609.9,430.8 610.0,434.2 610.1,425.6 610.2,441.6 610.3,441.3 610.4,429.3 610.5,424.9 610.6,431.5 610.7,433.8 610.8,437.4 610.8,434.9 610.9,431.3 611.0,424.5 611.1,434.1 611.2,435.4 611.3,430.9 611.4,433.2 611.5,432.9 611.6,431.2 611.7,427.6 611.7,433.5 611.8,426.6 611.9,437.6 612.0,428.6 612.1,434.0 612.2,429.3 612.3,433.6 612.4,431.3 612.5,434.2 612.6,429.0 612.6,425.8 612.7,431.0 612.8,430.7 612.9,426.2 613.0,429.4 613.1,425.6 613.2,432.6 613.3,430.7 613.4,432.2 613.5,442.3 613.5,432.7 613.6,433.6 613.7,434.6 613.8,431.6 613.9,429.8 614.0,435.5 614.1,436.1 614.2,420.7 614.3,431.5 614.4,430.8 614.4,429.9 614.5,436.9 614.6,430.0 614.7,435.5 614.8,430.0 614.9,430.5 615.0,434.9 615.1,429.2 615.2,431.5 615.3,427.8 615.3,428.6 615.4,434.9 615.5,434.4 615.6,427.6 615.7,427.5 615.8,442.0 615.9,429.6 616.0,428.7 616.1,434.1 616.2,429.1 616.2,430.7 616.3,435.6 616.4,436.0 616.5,431.3 616.6,437.3 616.7,431.5 616.8,431.2 616.9,432.1 617.0,430.9 617.1,434.1 617.1,433.2 617.2,429.1 617.3,432.8 617.4,430.0 617.5,429.8 617.6,431.5 617.7,436.1 617.8,433.2 617.9,437.0 618.0,438.2 618.0,432.0 618.1,429.7 618.2,429.0 618.3,433.2 618.4,435.5 618.5,438.3 618.6,427.0 618.7,426.7 618.8,436.3 618.9,441.6 618.9,432.8 619.0,432.0 619.1,426.2 619.2,429.1 619.3,427.8 619.4,428.2 619.5,428.6 619.6,426.1 619.7,431.8 619.8,433.6 619.8,435.1 619.9,431.7 620.0,436.2 620.1,436.3 620.2,426.2 620.3,431.1 620.4,427.3 620.5,428.3 620.6,432.9 620.7,431.6 620.7,437.8 620.8,440.1 620.9,433.8 621.0,431.4 621.1,431.6 621.2,432.1 621.3,434.4 621.4,429.3 621.5,434.4 621.6,431.2 621.6,436.3 621.7,437.5 621.8,438.9 621.9,435.2 622.0,426.9 622.1,425.6 622.2,431.0 622.3,426.7 622.4,427.2 622.5,430.8 622.5,428.3 622.6,434.9 622.7,439.7 622.8,431.3 622.9,433.4 623.0,426.0 623.1,432.9 623.2,429.5 623.3,427.9 623.4,424.9 623.4,438.4 623.5,425.9 623.6,427.5 623.7,432.2 623.8,433.3 623.9,433.4 624.0,432.6 624.1,428.7 624.2,435.2 624.3,433.0 624.3,426.6 624.4,438.5 624.5,430.9 624.6,435.9 624.7,426.6 624.8,427.6 624.9,430.0 625.0,429.5 625.1,436.2 625.2,425.9 625.2,432.9 625.3,428.3 625.4,434.3 625.5,433.1 625.6,430.1 625.7,440.9 625.8,432.1 625.9,436.5 626.0,427.1 626.1,431.8 626.1,432.6 626.2,432.8 626.3,430.9 626.4,429.0 626.5,420.2 626.6,430.1 626.7,428.7 626.8,431.3 626.9,435.6 627.0,440.9 627.0,434.4 627.1,436.3 627.2,434.7 627.3,435.1 627.4,434.6 627.5,431.3 627.6,431.0 627.7,433.6 627.8,439.3 627.9,435.4 627.9,438.6 628.0,427.3 628.1,433.4 628.2,433.9 628.3,434.4 628.4,427.0 628.5,425.2 628.6,424.1 628.7,430.8 628.8,441.5 628.8,433.2 628.9,427.6 629.0,433.7 629.1,431.2 629.2,433.0 629.3,430.6 629.4,427.3 629.5,430.3 629.6,435.2 629.7,433.6 629.7,437.2 629.8,428.2 629.9,436.5 630.0,432.6 630.1,433.2 630.2,437.3 630.3,431.9 630.4,433.4 630.5,434.9 630.6,435.0 630.6,435.6 630.7,437.5 630.8,434.5 630.9,430.8 631.0,442.0 631.1,432.4 631.2,434.0 631.3,429.6 631.4,424.0 631.5,429.5 631.5,432.8 631.6,434.6 631.7,432.6 631.8,435.6 631.9,436.4 632.0,436.4 632.1,432.6 632.2,432.9 632.3,431.7 632.4,429.1 632.4,438.1 632.5,427.7 632.6,432.3 632.7,433.4 632.8,424.2 632.9,435.5 633.0,431.2 633.1,433.4 633.2,431.3 633.3,426.6 633.3,433.3 633.4,433.0 633.5,436.5 633.6,434.4 633.7,426.0 633.8,436.9 633.9,435.7 634.0,435.6 634.1,434.5 634.2,429.8 634.2,434.6 634.3,431.1 634.4,443.8 634.5,431.6 634.6,428.2 634.7,431.2 634.8,438.2 634.9,430.3 635.0,427.5 635.1,438.3 635.1,433.8 635.2,430.6 635.3,435.4 635.4,429.0 635.5,428.0 635.6,436.3 635.7,430.6 635.8,434.6 635.9,432.6 636.0,435.8 636.0,433.0 636.1,424.6 636.2,435.2 636.3,430.7 636.4,436.0 636.5,433.0 636.6,438.1 636.7,431.3 636.8,424.5 636.9,431.3 636.9,434.6 637.0,431.2 637.1,430.7 637.2,438.3 637.3,432.0 637.4,436.7 637.5,433.1 637.6,426.9 637.7,428.9 637.8,431.3 637.8,433.8 637.9,429.4 638.0,427.0 638.1,428.6 638.2,430.5 638.3,429.1 638.4,430.3 638.5,439.8 638.6,433.6 638.7,429.4 638.7,432.5 638.8,438.7 638.9,435.1 639.0,432.2 639.1,427.3 639.2,425.9 639.3,431.2 639.4,432.1 639.5,426.2 639.6,427.3 639.6,432.4 639.7,423.9 639.8,425.8 639.9,432.3 640.0,434.7 640.1,433.8 640.2,436.4 640.3,438.7 640.4,436.0 640.5,431.5 640.5,440.9 640.6,439.1 640.7,436.2 640.8,429.4 640.9,434.1 641.0,424.4 641.1,431.3 641.2,422.9 641.3,430.9 641.4,436.6 641.4,432.6 641.5,438.9 641.6,432.6 641.7,433.0 641.8,431.4 641.9,434.7 642.0,432.5 642.1,437.3 642.2,438.9 642.3,434.1 642.3,419.8 642.4,434.8 642.5,437.9 642.6,435.2 642.7,433.8 642.8,436.3 642.9,437.8 643.0,422.4 643.1,438.6 643.2,435.6 643.2,434.5 643.3,430.5 643.4,433.5 643.5,435.0 643.6,426.8 643.7,435.5 643.8,432.9 643.9,438.4 644.0,435.3 644.1,431.9 644.1,432.8 644.2,435.1 644.3,433.2 644.4,434.8 644.5,429.9 644.6,427.8 644.7,430.4 644.8,427.1 644.9,429.6 645.0,434.0 645.0,426.3 645.1,427.8 645.2,435.5 645.3,430.6 645.4,432.6 645.5,427.8 645.6,428.6 645.7,431.5 645.8,439.0 645.9,434.4 645.9,426.1 646.0,434.4 646.1,436.2 646.2,435.3 646.3,427.9 646.4,432.4 646.5,440.9 646.6,429.0 646.7,433.9 646.8,429.7 646.8,432.7 646.9,431.0 647.0,436.7 647.1,437.2 647.2,429.2 647.3,430.8 647.4,429.2 647.5,424.5 647.6,435.0 647.7,438.7 647.7,438.5 647.8,430.8 647.9,437.8 648.0,436.9 648.1,431.3 648.2,432.6 648.3,431.2 648.4,433.6 648.5,439.7 648.6,429.1 648.6,428.0 648.7,436.1 648.8,432.9 648.9,425.3 649.0,428.7 649.1,429.4 649.2,429.0 649.3,433.9 649.4,436.6 649.5,432.1 649.5,433.3 649.6,429.8 649.7,436.7 649.8,437.9 649.9,431.7 650.0,429.8 650.1,440.8 650.2,436.3 650.3,429.2 650.4,426.1 650.4,431.6 650.5,437.4 650.6,430.6 650.7,431.8 650.8,430.8 650.9,435.3 651.0,438.2 651.1,427.8 651.2,431.6 651.3,431.9 651.3,430.3 651.4,428.1 651.5,435.9 651.6,433.3 651.7,435.5 651.8,438.6 651.9,423.9 652.0,434.8 652.1,431.2 652.2,432.4 652.2,434.0 652.3,432.1 652.4,426.8 652.5,438.6 652.6,433.3 652.7,428.3 652.8,424.1 652.9,432.6 653.0,435.3 653.1,436.7 653.1,437.1 653.2,431.3 653.3,435.3 653.4,426.7 653.5,433.3 653.6,436.3 653.7,430.4 653.8,432.1 653.9,433.2 654.0,433.3 654.0,435.3 654.1,428.5 654.2,438.0 654.3,427.9 654.4,430.1 654.5,429.7 654.6,432.4 654.7,430.8 654.8,434.6 654.9,432.8 654.9,441.3 655.0,434.3 655.1,431.8 655.2,434.2 655.3,435.1 655.4,432.0 655.5,434.6 655.6,430.7 655.7,433.4 655.8,436.0 655.8,434.6 655.9,432.4 656.0,435.0 656.1,430.8 656.2,433.8 656.3,438.3 656.4,437.1 656.5,438.0 656.6,431.3 656.7,433.5 656.7,428.8 656.8,436.3 656.9,432.0 657.0,427.6 657.1,430.8 657.2,433.7 657.3,424.1 657.4,427.2 657.5,436.6 657.6,433.1 657.6,432.6 657.7,426.5 657.8,438.9 657.9,436.7 658.0,435.5 658.1,428.4 658.2,435.0 658.3,437.2 658.4,431.5 658.5,431.8 658.5,430.9 658.6,435.1 658.7,431.8 658.8,431.5 658.9,427.1 659.0,426.2 659.1,436.4 659.2,438.9 659.3,436.1 659.4,438.3 659.4,430.6 659.5,432.5 659.6,434.2 659.7,432.1 659.8,439.2 659.9,427.5 660.0,430.5 660.1,431.3 660.2,430.0 660.3,436.0 660.3,424.9 660.4,437.1 660.5,436.2 660.6,433.9 660.7,438.2 660.8,441.9 660.9,433.4 661.0,435.6 661.1,434.3 661.2,434.8 661.2,430.8 661.3,429.9 661.4,435.1 661.5,430.7 661.6,436.4 661.7,435.9 661.8,431.0 661.9,434.2 662.0,433.1 662.1,432.2 662.1,437.2 662.2,432.9 662.3,433.7 662.4,425.2 662.5,435.1 662.6,427.2 662.7,431.3 662.8,439.1 662.9,439.7 663.0,431.3 663.0,427.9 663.1,434.4 663.2,431.2 663.3,434.1 663.4,427.6 663.5,437.2 663.6,438.8 663.7,427.2 663.8,429.8 663.9,430.1 663.9,435.7 664.0,425.1 664.1,433.6 664.2,431.9 664.3,429.7 664.4,435.6 664.5,425.2 664.6,427.5 664.7,429.8 664.8,435.6 664.8,431.5 664.9,429.6 665.0,434.7 665.1,430.9 665.2,430.3 665.3,431.6 665.4,434.1 665.5,443.3 665.6,428.6 665.7,433.9 665.7,432.2 665.8,431.8 665.9,438.8 666.0,435.9 666.1,435.5 666.2,431.1 666.3,429.6 666.4,434.5 666.5,431.8 666.6,430.7 666.6,435.5 666.7,428.2 666.8,430.1 666.9,436.0 667.0,432.6 667.1,435.5 667.2,429.6 667.3,435.7 667.4,430.2 667.5,438.2 667.5,436.0 667.6,434.7 667.7,438.9 667.8,434.3 667.9,430.5 668.0,439.0 668.1,434.3 668.2,437.7 668.3,433.5 668.4,437.5 668.4,429.6 668.5,428.0 668.6,427.5 668.7,435.9 668.8,425.3 668.9,426.0 669.0,427.5 669.1,433.9 669.2,434.7 669.3,429.8 669.3,436.1 669.4,434.2 669.5,435.0 669.6,436.7 669.7,430.3 669.8,433.8 669.9,432.4 670.0,434.8 670.1,433.8 670.2,433.1 670.2,435.8 670.3,433.3 670.4,435.9 670.5,433.2 670.6,432.4 670.7,436.6 670.8,436.7 670.9,437.9 671.0,435.5 671.1,432.2 671.1,433.8 671.2,433.7 671.3,426.2 671.4,428.7 671.5,439.0 671.6,432.8 671.7,421.9 671.8,432.6 671.9,433.7 672.0,428.3 672.0,441.9 672.1,437.4 672.2,436.2 672.3,432.3 672.4,443.2 672.5,436.3 672.6,434.9 672.7,430.4 672.8,433.8 672.9,433.5 672.9,434.2 673.0,429.0 673.1,434.0 673.2,433.0 673.3,433.9 673.4,433.8 673.5,427.4 673.6,436.3 673.7,435.9 673.8,427.8 673.8,432.6 673.9,429.7 674.0,431.2 674.1,436.9 674.2,435.0 674.3,440.6 674.4,433.3 674.5,428.6 674.6,433.4 674.7,423.4 674.7,439.8 674.8,433.9 674.9,434.6 675.0,433.5 675.1,429.5 675.2,432.4 675.3,429.8 675.4,430.8 675.5,434.1 675.6,428.1 675.6,439.2 675.7,428.6 675.8,436.0 675.9,430.2 676.0,427.9 676.1,434.2 676.2,433.3 676.3,431.9 676.4,432.4 676.5,430.2 676.5,434.3 676.6,430.7 676.7,432.7 676.8,436.9 676.9,427.4 677.0,430.3 677.1,429.9 677.2,429.4 677.3,427.3 677.4,431.4 677.4,433.1 677.5,432.1 677.6,426.3 677.7,435.1 677.8,435.2 677.9,432.7 678.0,428.6 678.1,429.1 678.2,440.0 678.3,439.1 678.3,434.3 678.4,428.9 678.5,437.3 678.6,433.1 678.7,438.9 678.8,430.2 678.9,434.2 679.0,431.6 679.1,435.3 679.2,430.0 679.2,436.0 679.3,430.9 679.4,429.0 679.5,434.6 679.6,433.3 679.7,424.2 679.8,432.3 679.9,432.8 680.0,433.1 680.1,440.3 680.1,429.9 680.2,432.3 680.3,425.8 680.4,426.8 680.5,430.2 680.6,431.9 680.7,431.6 680.8,434.9 680.9,435.2 681.0,436.3 681.0,431.8 681.1,434.3 681.2,429.6 681.3,433.8 681.4,434.3 681.5,430.4 681.6,419.9 681.7,429.9 681.8,442.4 681.9,432.0 681.9,429.9 682.0,432.8 682.1,436.7 682.2,433.7 682.3,431.6 682.4,427.4 682.5,431.2 682.6,427.7 682.7,433.8 682.8,438.3 682.8,436.5 682.9,430.1 683.0,428.6 683.1,427.0 683.2,434.1 683.3,434.6 683.4,435.5 683.5,433.7 683.6,427.7 683.7,424.9 683.7,436.7 683.8,429.1 683.9,439.8 684.0,424.1 684.1,428.1 684.2,428.7 684.3,433.4 684.4,425.0 684.5,430.2 684.6,434.7 684.6,427.3 684.7,430.4 684.8,427.6 684.9,430.2 685.0,429.8 685.1,433.5 685.2,444.4 685.3,427.0 685.4,431.5 685.5,435.0 685.5,432.6 685.6,437.8 685.7,428.3 685.8,435.3 685.9,429.3 686.0,435.5 686.1,433.0 686.2,433.3 686.3,430.0 686.4,425.1 686.4,428.0 686.5,435.1 686.6,431.3 686.7,435.2 686.8,427.2 686.9,434.8 687.0,436.2 687.1,423.7 687.2,433.6 687.3,439.9 687.3,429.4 687.4,436.2 687.5,432.5 687.6,435.7 687.7,430.8 687.8,429.3 687.9,430.7 688.0,430.9 688.1,430.0 688.2,428.9 688.2,436.6 688.3,430.1 688.4,427.6 688.5,428.7 688.6,434.2 688.7,423.7 688.8,434.3 688.9,435.1 689.0,437.3 689.1,430.6 689.1,429.2 689.2,433.0 689.3,432.9 689.4,437.5 689.5,432.6 689.6,430.7 689.7,427.2 689.8,431.6 689.9,432.7 690.0,437.0 690.0,432.8 690.1,437.6 690.2,437.2 690.3,429.4 690.4,427.9 690.5,429.9 690.6,431.5 690.7,429.2 690.8,435.1 690.9,435.0 690.9,437.1 691.0,433.5 691.1,430.7 691.2,434.0 691.3,428.8 691.4,433.0 691.5,429.4 691.6,436.9 691.7,422.0 691.8,435.7 691.8,435.8 691.9,432.2 692.0,433.7 692.1,433.2 692.2,437.4 692.3,438.8 692.4,432.4 692.5,438.8 692.6,429.9 692.7,434.0 692.7,434.1 692.8,427.5 692.9,433.7 693.0,429.8 693.1,435.5 693.2,428.9 693.3,425.5 693.4,427.3 693.5,432.5 693.6,433.6 693.6,433.7 693.7,429.4 693.8,435.5 693.9,430.3 694.0,431.5 694.1,436.2 694.2,431.8 694.3,425.1 694.4,435.2 694.5,432.4 694.5,430.9 694.6,437.4 694.7,429.9 694.8,434.9 694.9,432.9 695.0,442.5 695.1,425.4 695.2,433.2 695.3,433.7 695.4,436.7 695.4,430.8 695.5,429.9 695.6,437.8 695.7,430.7 695.8,433.5 695.9,432.2 696.0,433.9 696.1,427.1 696.2,430.3 696.3,432.2 696.3,432.8 696.4,436.7 696.5,434.4 696.6,434.6 696.7,432.2 696.8,437.3 696.9,430.0 697.0,432.0 697.1,426.6 697.2,428.3 697.2,435.7 697.3,432.2 697.4,425.2 697.5,432.2 697.6,431.5 697.7,428.0 697.8,433.7 697.9,431.3 698.0,432.4 698.1,436.1 698.1,430.0 698.2,436.6 698.3,431.3 698.4,431.4 698.5,437.4 698.6,433.8 698.7,430.8 698.8,431.9 698.9,433.2 699.0,426.7 699.0,435.0 699.1,432.4 699.2,419.4 699.3,428.7 699.4,435.7 699.5,427.4 699.6,440.7 699.7,428.2 699.8,433.2 699.9,422.4 699.9,432.1 700.0,426.5 700.1,434.2 700.2,433.1 700.3,431.0 700.4,440.7 700.5,435.3 700.6,429.5 700.7,433.7 700.8,421.1 700.8,430.0 700.9,437.1 701.0,430.1 701.1,432.8 701.2,427.8 701.3,435.3 701.4,432.7 701.5,432.3 701.6,435.9 701.7,438.6 701.7,435.4 701.8,425.5 701.9,433.8 702.0,433.3 702.1,427.8 702.2,425.9 702.3,430.6 702.4,431.0 702.5,431.9 702.6,429.3 702.6,432.8 702.7,433.3 702.8,431.1 702.9,433.7 703.0,429.9 703.1,426.0 703.2,432.1 703.3,435.6 703.4,442.7 703.5,423.9 703.5,430.2 703.6,428.7 703.7,433.2 703.8,428.7 703.9,432.7 704.0,436.0 704.1,429.2 704.2,431.9 704.3,438.5 704.4,435.6 704.4,425.9 704.5,440.3 704.6,429.5 704.7,433.4 704.8,430.6 704.9,430.4 705.0,429.5 705.1,434.6 705.2,429.2 705.3,427.3 705.3,430.0 705.4,432.2 705.5,424.4 705.6,435.3 705.7,429.4 705.8,435.0 705.9,437.6 706.0,433.4 706.1,434.3 706.2,430.5 706.2,429.6 706.3,424.8 706.4,431.5 706.5,430.1 706.6,423.0 706.7,433.3 706.8,438.1 706.9,433.8 707.0,436.8 707.1,431.2 707.1,428.3 707.2,432.5 707.3,430.9 707.4,427.8 707.5,436.3 707.6,432.9 707.7,429.7 707.8,433.0 707.9,431.7 708.0,434.6 708.0,438.5 708.1,429.8 708.2,427.6 708.3,437.6 708.4,441.6 708.5,429.9 708.6,428.7 708.7,427.6 708.8,432.2 708.9,432.7 708.9,431.2 709.0,435.5 709.1,429.1 709.2,429.9 709.3,427.4 709.4,437.7 709.5,436.5 709.6,437.4 709.7,429.0 709.8,437.5 709.8,433.4 709.9,435.1 710.0,434.5 710.1,431.0 710.2,429.0 710.3,426.3 710.4,430.2 710.5,431.4 710.6,427.8 710.7,432.7 710.7,442.2 710.8,430.4 710.9,428.6 711.0,429.0 711.1,433.0 711.2,439.1 711.3,433.0 711.4,432.5 711.5,427.5 711.6,433.6 711.6,434.8 711.7,430.7 711.8,432.2 711.9,429.7 712.0,435.2 712.1,437.5 712.2,433.8 712.3,434.3 712.4,432.5 712.5,429.8 712.5,429.3 712.6,430.7 712.7,432.8 712.8,432.3 712.9,436.3 713.0,435.2 713.1,438.1 713.2,435.3 713.3,431.4 713.4,432.7 713.4,426.0 713.5,438.8 713.6,430.1 713.7,430.7 713.8,439.4 713.9,428.2 714.0,429.9 714.1,432.1 714.2,430.1 714.3,432.7 714.3,433.3 714.4,434.8 714.5,431.9 714.6,435.0 714.7,431.1 714.8,434.7 714.9,436.9 715.0,425.6 715.1,431.5 715.2,433.1 715.2,425.0 715.3,420.5 715.4,433.6 715.5,429.9 715.6,435.4 715.7,432.3 715.8,432.3 715.9,431.0 716.0,432.8 716.1,428.8 716.1,430.4 716.2,435.4 716.3,431.4 716.4,434.3 716.5,419.4 716.6,431.0 716.7,428.6 716.8,435.6 716.9,429.1 717.0,433.8 717.0,426.3 717.1,433.4 717.2,433.9 717.3,429.9 717.4,426.1 717.5,431.7 717.6,432.8 717.7,430.3 717.8,429.7 717.9,435.9 717.9,431.9 718.0,430.7 718.1,435.6 718.2,432.3 718.3,429.6 718.4,435.7 718.5,431.0 718.6,435.9 718.7,429.7 718.8,433.6 718.8,437.1 718.9,434.1 719.0,434.3 719.1,434.1 719.2,435.7 719.3,432.7 719.4,434.1 719.5,431.5 719.6,439.8 719.7,429.0 719.7,435.6 719.8,428.6 719.9,434.4 720.0,437.4 720.1,428.1 720.2,439.1 720.3,428.7 720.4,429.2 720.5,433.6 720.6,428.1 720.6,436.1 720.7,434.3 720.8,421.9 720.9,426.9 721.0,429.6 721.1,434.0 721.2,428.2 721.3,429.6 721.4,434.7 721.5,428.5 721.5,433.5 721.6,427.1 721.7,436.2 721.8,437.8 721.9,427.9 722.0,423.2 722.1,425.9 722.2,436.0 722.3,430.1 722.4,436.4 722.4,427.2 722.5,428.7 722.6,431.8 722.7,436.4 722.8,431.5 722.9,428.3 723.0,433.4 723.1,432.6 723.2,434.2 723.3,431.6 723.3,429.9 723.4,432.4 723.5,422.8 723.6,433.3 723.7,437.0 723.8,434.4 723.9,428.6 724.0,426.4 724.1,437.4 724.2,430.3 724.2,431.5 724.3,433.1 724.4,430.0 724.5,432.4 724.6,438.1 724.7,430.4 724.8,439.7 724.9,433.8 725.0,433.5 725.1,435.9 725.1,435.8 725.2,436.4 725.3,434.4 725.4,430.1 725.5,438.6 725.6,431.7 725.7,429.1 725.8,435.8 725.9,434.8 726.0,432.2 726.0,432.6 726.1,434.6 726.2,439.7 726.3,432.0 726.4,427.5 726.5,430.1 726.6,434.3 726.7,431.5 726.8,429.7 726.9,435.1 726.9,435.1 727.0,431.5 727.1,433.4 727.2,429.9 727.3,430.0" fill="none" stroke="#1a1a1a" stroke-width="1.00" stroke-linejoin="round"/>
<rect x="439.0" y="281.0" width="289.2" height="176.5" fill="none" stroke="#2a2a2a" stroke-width="1.7"/>
<path d="M438.9 457.5v-4.0M438.9 281.0v4.0M463.0 457.5v-3.0M463.0 281.0v3.0M487.1 457.5v-4.0M487.1 281.0v4.0M511.2 457.5v-3.0M511.2 281.0v3.0M535.3 457.5v-4.0M535.3 281.0v4.0M559.4 457.5v-3.0M559.4 281.0v3.0M583.5 457.5v-4.0M583.5 281.0v4.0M607.7 457.5v-3.0M607.7 281.0v3.0M631.8 457.5v-4.0M631.8 281.0v4.0M655.9 457.5v-3.0M655.9 281.0v3.0M680.0 457.5v-4.0M680.0 281.0v4.0M704.1 457.5v-3.0M704.1 281.0v3.0M728.2 457.5v-4.0M728.2 281.0v4.0M439.0 457.5h4.0M728.2 457.5h-4.0M439.0 445.8h3.0M728.2 445.8h-3.0M439.0 434.0h4.0M728.2 434.0h-4.0M439.0 422.2h3.0M728.2 422.2h-3.0M439.0 410.5h4.0M728.2 410.5h-4.0M439.0 398.8h3.0M728.2 398.8h-3.0M439.0 387.0h4.0M728.2 387.0h-4.0M439.0 375.2h3.0M728.2 375.2h-3.0M439.0 363.5h4.0M728.2 363.5h-4.0M439.0 351.8h3.0M728.2 351.8h-3.0M439.0 340.0h4.0M728.2 340.0h-4.0M439.0 328.2h3.0M728.2 328.2h-3.0M439.0 316.5h4.0M728.2 316.5h-4.0M439.0 304.8h3.0M728.2 304.8h-3.0M439.0 293.0h4.0M728.2 293.0h-4.0" stroke="#2a2a2a" stroke-width="1.3" fill="none"/>
<text x="432.8" y="461.0" font-size="13.2" text-anchor="end" font-weight="bold" fill="#474747">280</text>
<text x="432.8" y="437.5" font-size="13.2" text-anchor="end" font-weight="bold" fill="#474747">300</text>
<text x="432.8" y="414.0" font-size="13.2" text-anchor="end" font-weight="bold" fill="#474747">320</text>
<text x="432.8" y="390.5" font-size="13.2" text-anchor="end" font-weight="bold" fill="#474747">340</text>
<text x="432.8" y="367.0" font-size="13.2" text-anchor="end" font-weight="bold" fill="#474747">360</text>
<text x="432.8" y="343.5" font-size="13.2" text-anchor="end" font-weight="bold" fill="#474747">380</text>
<text x="432.8" y="320.0" font-size="13.2" text-anchor="end" font-weight="bold" fill="#474747">400</text>
<text x="432.8" y="296.5" font-size="13.2" text-anchor="end" font-weight="bold" fill="#474747">420</text>
<text x="438.9" y="474.3" font-size="13.2" text-anchor="middle" font-weight="bold" fill="#474747">0</text>
<text x="487.1" y="474.3" font-size="13.2" text-anchor="middle" font-weight="bold" fill="#474747">50</text>
<text x="535.3" y="474.3" font-size="13.2" text-anchor="middle" font-weight="bold" fill="#474747">100</text>
<text x="583.5" y="474.3" font-size="13.2" text-anchor="middle" font-weight="bold" fill="#474747">150</text>
<text x="631.8" y="474.3" font-size="13.2" text-anchor="middle" font-weight="bold" fill="#474747">200</text>
<text x="680.0" y="474.3" font-size="13.2" text-anchor="middle" font-weight="bold" fill="#474747">250</text>
<text x="728.2" y="474.3" font-size="13.2" text-anchor="middle" font-weight="bold" fill="#474747">300</text>
<text x="583.7" y="498.0" font-size="12.8" text-anchor="middle" font-weight="bold" fill="#333">Time (ps)</text>
<text x="0.0" y="0.0" font-size="12.8" text-anchor="middle" font-weight="bold" fill="#333" transform="translate(391.2,374) rotate(-90)">Temperature (K)</text>
<text x="567.2" y="524.0" font-size="24.5" text-anchor="middle" font-weight="normal" fill="#3a3a3a">(e)</text>
<path d="M443.5 298.5 L480 314.3 M467.5 316 L481 314.7 L475.5 305.8" stroke="#2a2a2a" stroke-width="2.1" fill="none" stroke-linecap="round" stroke-linejoin="round"/>
<rect x="502.5" y="301.5" width="119.3" height="95.7" fill="#fff" stroke="#8a8a8a" stroke-width="1.3"/>
<rect x="503.2" y="302.3" width="2.6" height="94" fill="#d4d4d4"/>
<polyline points="503.2,392.0 504.5,330.0 507.5,303.8 508.5,312.0 510.4,338.4 511.5,336.0 512.5,350.0 514.2,355.7 515.0,352.0 516.2,369.2 517.5,372.0 519.0,378.8 520.5,377.0 521.9,376.8 522.5,366.0 522.9,365.3 523.8,376.8 525.0,379.0 526.0,384.0 527.7,382.6 528.5,386.0 529.1,383.6 529.7,383.0 530.3,379.4 530.9,382.3 531.5,382.2 532.1,382.7 532.7,381.7 533.3,382.7 533.9,381.9 534.5,380.4 535.1,384.4 535.7,384.4 536.3,385.9 536.9,382.9 537.5,382.1 538.1,381.8 538.7,380.0 539.3,384.6 539.9,380.8 540.5,380.7 541.1,382.4 541.7,385.5 542.3,383.2 542.9,381.0 543.5,381.5 544.1,383.9 544.7,382.5 545.3,381.4 545.9,382.4 546.5,384.1 547.1,386.4 547.7,380.6 548.3,381.7 548.9,381.4 549.5,378.4 550.1,381.1 550.7,381.0 551.3,384.8 551.9,382.6 552.5,379.9 553.1,384.0 553.7,382.2 554.3,379.7 554.9,381.7 555.5,381.7 556.1,381.2 556.7,382.9 557.3,378.8 557.9,382.3 558.5,384.6 559.1,384.3 559.7,384.8 560.3,384.8 560.9,385.5 561.5,380.8 562.1,384.3 562.7,379.5 563.3,381.7 563.9,379.4 564.5,384.7 565.1,385.2 565.7,382.4 566.3,386.0 566.9,381.6 567.5,383.1 568.1,383.1 568.7,380.9 569.3,383.6 569.9,386.3 570.5,381.0 571.1,384.4 571.7,382.5 572.3,386.0 572.9,383.7 573.5,384.0 574.1,384.0 574.7,383.2 575.3,380.3 575.9,385.3 576.5,380.3 577.1,383.2 577.7,383.9 578.3,381.3 578.9,383.1 579.5,384.9 580.1,382.8 580.7,381.2 581.3,378.3 581.9,381.1 582.5,381.7 583.1,381.9 583.7,381.1 584.3,383.5 584.9,381.8 585.5,382.6 586.1,384.0 586.7,381.3 587.3,382.3 587.9,386.7 588.5,384.4 589.1,380.5 589.7,382.7 590.3,383.8 590.9,385.0 591.5,383.1 592.1,381.8 592.7,381.5 593.3,384.0 593.9,383.4 594.5,381.9 595.1,382.5 595.7,382.1 596.3,384.1 596.9,381.6 597.5,383.7 598.1,384.3 598.7,383.7 599.3,381.3 599.9,385.2 600.5,381.6 601.1,383.6 601.7,381.4 602.3,379.7 602.9,383.2 603.5,383.3 604.1,382.7 604.7,383.3 605.3,381.6 605.9,381.5 606.5,382.5 607.1,386.2 607.7,384.3 608.3,381.9 608.9,383.8 609.5,381.9 610.1,382.0 610.7,384.3 611.3,381.9 611.9,379.8 612.5,381.2 613.1,383.0 613.7,383.0 614.3,385.0 614.9,381.5 615.5,384.1 616.1,383.6 616.7,382.5 617.3,384.3 617.9,383.7 618.5,381.2 619.1,384.7 619.7,380.6 620.3,382.9 620.9,382.8" fill="none" stroke="#2a2a2a" stroke-width="1.15" stroke-linejoin="round"/>
<path d="M502.5 397.2v-2M502.5 301.5v2M532.2 397.2v-2M532.2 301.5v2M562.0 397.2v-2M562.0 301.5v2M591.8 397.2v-2M591.8 301.5v2M621.5 397.2v-2M621.5 301.5v2M502.5 396.9h2M621.8 396.9h-2M502.5 369.7h2M621.8 369.7h-2M502.5 342.5h2M621.8 342.5h-2M502.5 315.3h2M621.8 315.3h-2" stroke="#8a8a8a" stroke-width="0.8" fill="none"/>
<text x="500.5" y="398.8" font-size="5.4" text-anchor="end" font-weight="normal" fill="#555">280</text>
<text x="500.5" y="371.6" font-size="5.4" text-anchor="end" font-weight="normal" fill="#555">320</text>
<text x="500.5" y="344.4" font-size="5.4" text-anchor="end" font-weight="normal" fill="#555">360</text>
<text x="500.5" y="317.2" font-size="5.4" text-anchor="end" font-weight="normal" fill="#555">400</text>
<text x="502.5" y="405.0" font-size="5.6" text-anchor="middle" font-weight="normal" fill="#555">0</text>
<text x="532.2" y="405.0" font-size="5.6" text-anchor="middle" font-weight="normal" fill="#555">5</text>
<text x="562.0" y="405.0" font-size="5.6" text-anchor="middle" font-weight="normal" fill="#555">10</text>
<text x="591.8" y="405.0" font-size="5.6" text-anchor="middle" font-weight="normal" fill="#555">15</text>
<text x="621.5" y="405.0" font-size="5.6" text-anchor="middle" font-weight="normal" fill="#555">20</text>
<text x="562.7" y="416.6" font-size="6.0" text-anchor="middle" font-weight="bold" fill="#444">Time (ps)</text>
<text x="0.0" y="0.0" font-size="5.4" text-anchor="middle" font-weight="bold" fill="#444" transform="translate(481.8,357) rotate(-90)">Temperature (K)</text>
</g>
<defs>
<radialGradient id="gT" cx="38%" cy="35%" r="65%"><stop offset="0" stop-color="#a6e8e2"/><stop offset="0.55" stop-color="#3fb0ab"/><stop offset="1" stop-color="#237a78"/></radialGradient>
<radialGradient id="gG" cx="38%" cy="35%" r="65%"><stop offset="0" stop-color="#74cfc6"/><stop offset="0.55" stop-color="#2b9792"/><stop offset="1" stop-color="#1a605e"/></radialGradient>
<radialGradient id="gR" cx="38%" cy="35%" r="65%"><stop offset="0" stop-color="#ff8a80"/><stop offset="0.55" stop-color="#d93030"/><stop offset="1" stop-color="#8e1a1a"/></radialGradient>
<radialGradient id="gP" cx="38%" cy="35%" r="65%"><stop offset="0" stop-color="#c78ad0"/><stop offset="0.55" stop-color="#8c3894"/><stop offset="1" stop-color="#5a1d63"/></radialGradient>
<radialGradient id="gY" cx="38%" cy="35%" r="65%"><stop offset="0" stop-color="#f2f84a"/><stop offset="0.5" stop-color="#d6dc2c"/><stop offset="1" stop-color="#7d7818"/></radialGradient>
<radialGradient id="gW" cx="38%" cy="35%" r="65%"><stop offset="0" stop-color="#ffffff"/><stop offset="0.6" stop-color="#f1eaee"/><stop offset="1" stop-color="#cbbcc6"/></radialGradient>
<radialGradient id="gB" cx="40%" cy="38%" r="62%"><stop offset="0" stop-color="#5a6fd0"/><stop offset="0.6" stop-color="#2c3a9e"/><stop offset="1" stop-color="#1b2470"/></radialGradient>
<linearGradient id="gRed" x1="0" y1="0" x2="0" y2="1"><stop offset="0" stop-color="#ff7a70"/><stop offset="0.35" stop-color="#e53a32"/><stop offset="1" stop-color="#a41c1a"/></linearGradient>
<linearGradient id="gGrn" x1="0" y1="0" x2="1" y2="0"><stop offset="0" stop-color="#3d9a2a"/><stop offset="0.4" stop-color="#8fd46a"/><stop offset="1" stop-color="#4aa03a"/></linearGradient>
<clipPath id="clipA"><rect x="0" y="0" width="368" height="190.6"/></clipPath>
</defs>
<g clip-path="url(#clipA)"><circle cx="98.8" cy="117.7" r="1.3" fill="url(#gW)"/><circle cx="205.0" cy="21.1" r="1.3" fill="url(#gW)"/><circle cx="175.8" cy="165.4" r="1.3" fill="url(#gW)"/><circle cx="123.3" cy="66.4" r="1.3" fill="url(#gW)"/><circle cx="145.7" cy="109.2" r="1.3" fill="url(#gW)"/><circle cx="177.8" cy="18.7" r="1.3" fill="url(#gW)"/><circle cx="173.2" cy="107.9" r="1.3" fill="url(#gW)"/><circle cx="109.7" cy="187.4" r="1.3" fill="url(#gW)"/><circle cx="149.7" cy="89.9" r="1.3" fill="url(#gW)"/><circle cx="189.3" cy="52.6" r="1.3" fill="url(#gW)"/><circle cx="201.9" cy="-0.5" r="1.3" fill="url(#gW)"/><circle cx="228.0" cy="88.2" r="1.3" fill="url(#gW)"/><circle cx="208.7" cy="44.3" r="1.3" fill="url(#gW)"/><circle cx="177.1" cy="124.8" r="1.3" fill="url(#gW)"/><circle cx="150.8" cy="30.6" r="1.3" fill="url(#gW)"/><circle cx="175.5" cy="88.1" r="1.3" fill="url(#gW)"/><circle cx="178.6" cy="163.1" r="1.3" fill="url(#gW)"/><circle cx="175.7" cy="99.0" r="1.3" fill="url(#gW)"/><circle cx="138.0" cy="96.9" r="1.3" fill="url(#gW)"/><circle cx="132.4" cy="18.5" r="1.3" fill="url(#gW)"/><circle cx="152.8" cy="189.6" r="1.3" fill="url(#gW)"/><circle cx="111.7" cy="156.9" r="1.3" fill="url(#gW)"/><circle cx="142.0" cy="142.8" r="1.3" fill="url(#gW)"/><circle cx="212.2" cy="5.1" r="1.3" fill="url(#gW)"/><circle cx="229.0" cy="132.1" r="1.3" fill="url(#gW)"/><circle cx="259.6" cy="14.2" r="1.3" fill="url(#gW)"/><circle cx="274.0" cy="144.0" r="1.3" fill="url(#gW)"/><circle cx="157.5" cy="12.8" r="1.3" fill="url(#gW)"/><circle cx="182.7" cy="119.6" r="1.3" fill="url(#gW)"/><circle cx="263.3" cy="-0.3" r="1.3" fill="url(#gW)"/><circle cx="154.5" cy="128.0" r="1.3" fill="url(#gW)"/><circle cx="109.3" cy="162.0" r="1.3" fill="url(#gW)"/><circle cx="248.4" cy="171.5" r="1.3" fill="url(#gW)"/><circle cx="150.1" cy="114.3" r="1.3" fill="url(#gW)"/><circle cx="204.5" cy="119.2" r="1.3" fill="url(#gW)"/><circle cx="177.7" cy="89.8" r="1.3" fill="url(#gW)"/><circle cx="234.6" cy="61.1" r="1.3" fill="url(#gW)"/><circle cx="220.4" cy="116.9" r="1.3" fill="url(#gW)"/><circle cx="274.9" cy="134.5" r="1.3" fill="url(#gW)"/><circle cx="242.0" cy="107.2" r="1.3" fill="url(#gW)"/><circle cx="188.9" cy="96.4" r="1.3" fill="url(#gW)"/><circle cx="157.7" cy="103.9" r="1.3" fill="url(#gW)"/><circle cx="224.3" cy="128.9" r="1.3" fill="url(#gW)"/><circle cx="147.5" cy="165.1" r="1.3" fill="url(#gW)"/><circle cx="232.4" cy="-3.3" r="1.3" fill="url(#gW)"/><circle cx="222.2" cy="16.3" r="1.3" fill="url(#gW)"/><circle cx="162.5" cy="103.0" r="1.3" fill="url(#gW)"/><circle cx="251.5" cy="138.7" r="1.3" fill="url(#gW)"/><circle cx="137.4" cy="127.0" r="1.3" fill="url(#gW)"/><circle cx="263.1" cy="83.5" r="1.3" fill="url(#gW)"/><circle cx="147.4" cy="79.2" r="1.3" fill="url(#gW)"/><circle cx="247.4" cy="46.6" r="1.3" fill="url(#gW)"/><circle cx="202.2" cy="162.8" r="1.3" fill="url(#gW)"/><circle cx="215.7" cy="81.3" r="1.3" fill="url(#gW)"/><circle cx="119.6" cy="156.1" r="1.3" fill="url(#gW)"/><circle cx="183.6" cy="164.0" r="1.3" fill="url(#gW)"/><circle cx="194.1" cy="100.2" r="1.3" fill="url(#gW)"/><circle cx="220.8" cy="140.0" r="1.3" fill="url(#gW)"/><circle cx="206.4" cy="26.6" r="1.3" fill="url(#gW)"/><circle cx="132.8" cy="178.7" r="1.3" fill="url(#gW)"/><circle cx="213.3" cy="77.1" r="1.3" fill="url(#gW)"/><circle cx="260.5" cy="56.5" r="1.3" fill="url(#gW)"/><circle cx="205.0" cy="157.8" r="1.3" fill="url(#gW)"/><circle cx="204.8" cy="7.0" r="1.3" fill="url(#gW)"/><circle cx="234.5" cy="185.7" r="1.3" fill="url(#gW)"/><circle cx="182.5" cy="46.1" r="1.3" fill="url(#gW)"/><circle cx="200.6" cy="170.1" r="1.3" fill="url(#gW)"/><circle cx="254.2" cy="53.7" r="1.3" fill="url(#gW)"/><circle cx="193.5" cy="169.3" r="1.3" fill="url(#gW)"/><circle cx="131.7" cy="127.0" r="1.3" fill="url(#gW)"/><circle cx="148.0" cy="117.7" r="1.3" fill="url(#gW)"/><circle cx="154.9" cy="61.8" r="1.3" fill="url(#gW)"/><circle cx="135.4" cy="72.5" r="1.3" fill="url(#gW)"/><circle cx="179.0" cy="100.8" r="1.3" fill="url(#gW)"/><circle cx="221.9" cy="174.3" r="1.3" fill="url(#gW)"/><circle cx="145.8" cy="103.6" r="1.3" fill="url(#gW)"/><circle cx="238.1" cy="68.7" r="1.3" fill="url(#gW)"/><circle cx="181.0" cy="91.9" r="1.3" fill="url(#gW)"/><circle cx="191.2" cy="9.6" r="1.3" fill="url(#gW)"/><circle cx="140.5" cy="49.3" r="1.3" fill="url(#gW)"/><circle cx="199.5" cy="130.7" r="1.3" fill="url(#gW)"/><circle cx="136.8" cy="96.1" r="1.3" fill="url(#gW)"/><circle cx="204.1" cy="103.0" r="1.3" fill="url(#gW)"/><circle cx="196.2" cy="136.5" r="1.3" fill="url(#gW)"/><circle cx="270.5" cy="125.0" r="1.3" fill="url(#gW)"/><circle cx="171.4" cy="17.0" r="1.3" fill="url(#gW)"/><circle cx="114.7" cy="80.0" r="1.3" fill="url(#gW)"/><circle cx="166.3" cy="138.8" r="1.3" fill="url(#gW)"/><circle cx="228.0" cy="51.8" r="1.3" fill="url(#gW)"/><circle cx="165.3" cy="60.5" r="1.3" fill="url(#gW)"/><circle cx="243.0" cy="61.3" r="1.3" fill="url(#gW)"/><circle cx="193.5" cy="176.3" r="1.3" fill="url(#gW)"/><circle cx="228.7" cy="61.3" r="1.3" fill="url(#gW)"/><circle cx="160.6" cy="160.6" r="1.3" fill="url(#gW)"/><circle cx="251.4" cy="152.8" r="1.3" fill="url(#gW)"/><circle cx="156.2" cy="160.2" r="1.3" fill="url(#gW)"/><circle cx="106.5" cy="21.1" r="1.3" fill="url(#gW)"/><circle cx="202.7" cy="177.0" r="1.3" fill="url(#gW)"/><circle cx="112.7" cy="115.1" r="1.3" fill="url(#gW)"/><circle cx="256.6" cy="24.8" r="1.3" fill="url(#gW)"/><circle cx="268.3" cy="10.7" r="1.3" fill="url(#gW)"/><circle cx="189.8" cy="121.8" r="1.3" fill="url(#gW)"/><circle cx="186.6" cy="55.3" r="1.3" fill="url(#gW)"/><circle cx="176.2" cy="65.4" r="1.3" fill="url(#gW)"/><circle cx="260.7" cy="89.8" r="1.3" fill="url(#gW)"/><circle cx="269.1" cy="32.1" r="1.3" fill="url(#gW)"/><circle cx="179.3" cy="153.9" r="1.3" fill="url(#gW)"/><circle cx="128.3" cy="7.3" r="1.3" fill="url(#gW)"/><circle cx="167.6" cy="57.3" r="1.3" fill="url(#gW)"/><circle cx="188.8" cy="99.7" r="1.3" fill="url(#gW)"/><circle cx="255.4" cy="34.4" r="1.3" fill="url(#gW)"/><circle cx="265.6" cy="85.0" r="1.3" fill="url(#gW)"/><circle cx="251.4" cy="5.2" r="1.3" fill="url(#gW)"/><circle cx="256.4" cy="93.3" r="1.3" fill="url(#gW)"/><circle cx="219.2" cy="104.5" r="1.3" fill="url(#gW)"/><circle cx="125.1" cy="163.1" r="1.3" fill="url(#gW)"/><circle cx="148.4" cy="96.0" r="1.3" fill="url(#gW)"/><circle cx="121.9" cy="-3.5" r="1.3" fill="url(#gW)"/><circle cx="225.6" cy="100.4" r="1.3" fill="url(#gW)"/><circle cx="170.5" cy="185.5" r="1.3" fill="url(#gW)"/><circle cx="178.6" cy="112.6" r="1.3" fill="url(#gW)"/><circle cx="232.7" cy="78.3" r="1.3" fill="url(#gW)"/><circle cx="219.9" cy="6.7" r="1.3" fill="url(#gW)"/><circle cx="268.8" cy="24.1" r="1.3" fill="url(#gW)"/><circle cx="205.9" cy="36.9" r="1.3" fill="url(#gW)"/><circle cx="152.4" cy="154.5" r="1.3" fill="url(#gW)"/><circle cx="173.6" cy="65.7" r="1.3" fill="url(#gW)"/><circle cx="273.8" cy="63.5" r="1.3" fill="url(#gW)"/><circle cx="152.1" cy="93.0" r="1.3" fill="url(#gW)"/><circle cx="251.1" cy="21.9" r="1.3" fill="url(#gW)"/><circle cx="263.4" cy="143.9" r="1.3" fill="url(#gW)"/><circle cx="221.0" cy="131.6" r="1.3" fill="url(#gW)"/><circle cx="267.5" cy="166.5" r="1.3" fill="url(#gW)"/><circle cx="107.6" cy="161.2" r="1.3" fill="url(#gW)"/><circle cx="189.1" cy="86.5" r="1.3" fill="url(#gW)"/><circle cx="221.0" cy="113.0" r="1.3" fill="url(#gW)"/><circle cx="185.1" cy="121.7" r="1.3" fill="url(#gW)"/><circle cx="172.9" cy="118.2" r="1.3" fill="url(#gW)"/><circle cx="268.4" cy="117.0" r="1.3" fill="url(#gW)"/><circle cx="130.2" cy="101.8" r="1.3" fill="url(#gW)"/><circle cx="200.7" cy="-2.9" r="1.3" fill="url(#gW)"/><circle cx="167.3" cy="154.1" r="1.3" fill="url(#gW)"/><circle cx="197.9" cy="187.4" r="1.3" fill="url(#gW)"/><circle cx="146.4" cy="97.3" r="1.3" fill="url(#gW)"/><circle cx="219.8" cy="99.2" r="1.3" fill="url(#gW)"/><circle cx="155.8" cy="41.3" r="1.3" fill="url(#gW)"/><circle cx="184.9" cy="168.7" r="1.3" fill="url(#gW)"/><circle cx="240.6" cy="94.6" r="1.3" fill="url(#gW)"/><circle cx="239.2" cy="23.6" r="1.3" fill="url(#gW)"/><circle cx="112.7" cy="51.1" r="1.3" fill="url(#gW)"/><circle cx="271.7" cy="63.8" r="1.3" fill="url(#gW)"/><circle cx="167.1" cy="27.2" r="1.3" fill="url(#gW)"/><circle cx="194.0" cy="169.8" r="1.3" fill="url(#gW)"/><circle cx="227.8" cy="67.8" r="1.3" fill="url(#gW)"/><circle cx="129.6" cy="6.8" r="1.3" fill="url(#gW)"/><circle cx="185.9" cy="41.6" r="1.3" fill="url(#gW)"/><circle cx="196.2" cy="16.2" r="1.3" fill="url(#gW)"/><circle cx="113.5" cy="152.2" r="1.3" fill="url(#gW)"/><circle cx="206.7" cy="105.4" r="1.3" fill="url(#gW)"/><circle cx="247.7" cy="34.5" r="1.3" fill="url(#gW)"/><circle cx="187.7" cy="14.4" r="1.3" fill="url(#gW)"/><circle cx="217.5" cy="11.5" r="1.3" fill="url(#gW)"/><circle cx="207.5" cy="39.2" r="1.3" fill="url(#gW)"/><circle cx="148.3" cy="91.3" r="1.3" fill="url(#gW)"/><circle cx="243.5" cy="106.4" r="1.3" fill="url(#gW)"/><circle cx="217.9" cy="103.0" r="1.3" fill="url(#gW)"/><circle cx="198.6" cy="123.2" r="1.3" fill="url(#gW)"/><circle cx="188.6" cy="177.1" r="1.3" fill="url(#gW)"/><circle cx="127.4" cy="43.7" r="1.3" fill="url(#gW)"/><circle cx="155.5" cy="125.0" r="1.3" fill="url(#gW)"/><circle cx="148.2" cy="175.5" r="1.3" fill="url(#gW)"/><circle cx="180.9" cy="132.3" r="1.3" fill="url(#gW)"/><circle cx="188.7" cy="31.1" r="1.3" fill="url(#gW)"/><circle cx="100.0" cy="69.4" r="1.3" fill="url(#gW)"/><circle cx="188.6" cy="-0.5" r="1.3" fill="url(#gW)"/><circle cx="258.1" cy="125.3" r="1.3" fill="url(#gW)"/><circle cx="117.3" cy="133.4" r="1.3" fill="url(#gW)"/><circle cx="232.5" cy="121.1" r="1.3" fill="url(#gW)"/><circle cx="167.0" cy="14.8" r="1.3" fill="url(#gW)"/><circle cx="237.7" cy="65.1" r="1.3" fill="url(#gW)"/><circle cx="263.4" cy="160.0" r="1.3" fill="url(#gW)"/><circle cx="214.1" cy="50.1" r="1.3" fill="url(#gW)"/><circle cx="201.9" cy="116.5" r="1.3" fill="url(#gW)"/><circle cx="252.8" cy="11.7" r="1.3" fill="url(#gW)"/><circle cx="264.6" cy="49.7" r="1.3" fill="url(#gW)"/><circle cx="163.4" cy="5.9" r="1.3" fill="url(#gW)"/><circle cx="133.9" cy="184.0" r="1.3" fill="url(#gW)"/><circle cx="264.4" cy="134.9" r="1.3" fill="url(#gW)"/><circle cx="271.9" cy="11.4" r="1.3" fill="url(#gW)"/><circle cx="181.7" cy="183.0" r="1.3" fill="url(#gW)"/><circle cx="210.8" cy="187.4" r="1.3" fill="url(#gW)"/><circle cx="205.8" cy="89.0" r="1.3" fill="url(#gW)"/><circle cx="206.8" cy="101.7" r="1.3" fill="url(#gW)"/><circle cx="151.3" cy="159.6" r="1.3" fill="url(#gW)"/><circle cx="198.2" cy="50.1" r="1.3" fill="url(#gW)"/><circle cx="251.5" cy="185.5" r="1.3" fill="url(#gW)"/><circle cx="176.6" cy="70.6" r="1.3" fill="url(#gW)"/><circle cx="212.5" cy="63.8" r="1.3" fill="url(#gW)"/><circle cx="169.1" cy="19.9" r="1.3" fill="url(#gW)"/><circle cx="216.5" cy="164.2" r="1.3" fill="url(#gW)"/><circle cx="267.6" cy="17.4" r="1.3" fill="url(#gW)"/><circle cx="171.2" cy="187.4" r="1.3" fill="url(#gW)"/><circle cx="236.3" cy="140.5" r="1.3" fill="url(#gW)"/><circle cx="156.5" cy="164.3" r="1.3" fill="url(#gW)"/><circle cx="213.6" cy="66.8" r="1.3" fill="url(#gW)"/><circle cx="140.5" cy="123.0" r="1.3" fill="url(#gW)"/><circle cx="267.4" cy="72.9" r="1.3" fill="url(#gW)"/><circle cx="191.3" cy="159.7" r="1.3" fill="url(#gW)"/><circle cx="168.6" cy="132.7" r="1.3" fill="url(#gW)"/><circle cx="198.5" cy="12.5" r="1.3" fill="url(#gW)"/><circle cx="258.7" cy="178.7" r="1.3" fill="url(#gW)"/><circle cx="187.9" cy="138.4" r="1.3" fill="url(#gW)"/><circle cx="115.9" cy="108.9" r="1.3" fill="url(#gW)"/><circle cx="275.8" cy="86.2" r="1.3" fill="url(#gW)"/><circle cx="230.5" cy="127.6" r="1.3" fill="url(#gW)"/><circle cx="266.2" cy="117.8" r="1.3" fill="url(#gW)"/><circle cx="240.6" cy="86.6" r="1.3" fill="url(#gW)"/><circle cx="174.4" cy="42.1" r="1.3" fill="url(#gW)"/><circle cx="118.6" cy="52.7" r="1.3" fill="url(#gW)"/><circle cx="263.4" cy="136.7" r="1.3" fill="url(#gW)"/><circle cx="160.3" cy="88.6" r="1.3" fill="url(#gW)"/><circle cx="128.0" cy="65.8" r="1.3" fill="url(#gW)"/><circle cx="187.2" cy="193.8" r="1.3" fill="url(#gW)"/><circle cx="227.3" cy="97.9" r="1.3" fill="url(#gW)"/><circle cx="176.8" cy="151.0" r="1.3" fill="url(#gW)"/><circle cx="263.4" cy="128.0" r="1.3" fill="url(#gW)"/><circle cx="184.9" cy="136.8" r="1.3" fill="url(#gW)"/><circle cx="112.2" cy="73.5" r="1.3" fill="url(#gW)"/><circle cx="253.6" cy="167.6" r="1.3" fill="url(#gW)"/><circle cx="245.4" cy="73.3" r="1.3" fill="url(#gW)"/><circle cx="244.9" cy="146.5" r="1.3" fill="url(#gW)"/><circle cx="180.8" cy="56.5" r="1.3" fill="url(#gW)"/><circle cx="197.2" cy="71.4" r="1.3" fill="url(#gW)"/><circle cx="189.6" cy="35.0" r="1.3" fill="url(#gW)"/><circle cx="256.4" cy="173.5" r="1.3" fill="url(#gW)"/><circle cx="182.4" cy="47.8" r="1.3" fill="url(#gW)"/><circle cx="261.8" cy="174.6" r="1.3" fill="url(#gW)"/><circle cx="176.8" cy="149.4" r="1.3" fill="url(#gW)"/><circle cx="150.3" cy="150.5" r="1.3" fill="url(#gW)"/><circle cx="133.7" cy="127.4" r="1.3" fill="url(#gW)"/><circle cx="251.2" cy="169.1" r="1.3" fill="url(#gW)"/><circle cx="143.6" cy="186.7" r="1.3" fill="url(#gW)"/><circle cx="194.8" cy="20.3" r="1.3" fill="url(#gW)"/><circle cx="210.9" cy="85.8" r="1.3" fill="url(#gW)"/><circle cx="180.5" cy="124.7" r="1.3" fill="url(#gW)"/><circle cx="228.9" cy="141.4" r="1.3" fill="url(#gW)"/><circle cx="218.3" cy="101.4" r="1.3" fill="url(#gW)"/><circle cx="131.8" cy="182.1" r="1.3" fill="url(#gW)"/><circle cx="162.8" cy="25.1" r="1.3" fill="url(#gW)"/><circle cx="225.1" cy="95.5" r="1.3" fill="url(#gW)"/><circle cx="186.4" cy="146.9" r="1.3" fill="url(#gW)"/><circle cx="144.2" cy="137.9" r="1.3" fill="url(#gW)"/><circle cx="278.0" cy="143.9" r="1.3" fill="url(#gW)"/><circle cx="144.4" cy="69.3" r="1.3" fill="url(#gW)"/><circle cx="257.0" cy="142.1" r="1.3" fill="url(#gW)"/><circle cx="182.8" cy="189.5" r="1.3" fill="url(#gW)"/><circle cx="140.2" cy="37.2" r="1.3" fill="url(#gW)"/><circle cx="161.1" cy="5.8" r="1.3" fill="url(#gW)"/><circle cx="150.8" cy="176.8" r="1.3" fill="url(#gW)"/><circle cx="136.1" cy="26.1" r="1.3" fill="url(#gW)"/><circle cx="210.7" cy="34.9" r="1.3" fill="url(#gW)"/><circle cx="239.6" cy="145.1" r="1.3" fill="url(#gW)"/><circle cx="234.0" cy="79.8" r="1.3" fill="url(#gW)"/><circle cx="247.9" cy="162.4" r="1.3" fill="url(#gW)"/><circle cx="265.0" cy="107.2" r="1.3" fill="url(#gW)"/><circle cx="141.2" cy="145.3" r="1.3" fill="url(#gW)"/><circle cx="213.2" cy="38.8" r="1.3" fill="url(#gW)"/><circle cx="198.9" cy="20.6" r="1.3" fill="url(#gW)"/><circle cx="140.9" cy="69.4" r="1.3" fill="url(#gW)"/><circle cx="256.5" cy="126.5" r="1.3" fill="url(#gW)"/><circle cx="214.6" cy="177.6" r="1.3" fill="url(#gW)"/><circle cx="93.5" cy="160.6" r="1.3" fill="url(#gW)"/><circle cx="279.2" cy="7.7" r="1.3" fill="url(#gW)"/><circle cx="222.3" cy="71.6" r="1.3" fill="url(#gW)"/><circle cx="255.9" cy="154.4" r="1.3" fill="url(#gW)"/><circle cx="214.4" cy="9.6" r="1.3" fill="url(#gW)"/><circle cx="174.7" cy="34.6" r="1.3" fill="url(#gW)"/><circle cx="278.9" cy="106.8" r="1.3" fill="url(#gW)"/><circle cx="120.7" cy="143.0" r="1.3" fill="url(#gW)"/><circle cx="240.2" cy="123.7" r="1.3" fill="url(#gW)"/><circle cx="234.3" cy="96.5" r="1.3" fill="url(#gW)"/><circle cx="230.0" cy="102.8" r="1.3" fill="url(#gW)"/><circle cx="276.0" cy="138.1" r="1.3" fill="url(#gW)"/><circle cx="129.3" cy="13.3" r="1.3" fill="url(#gW)"/><circle cx="174.4" cy="81.9" r="1.3" fill="url(#gW)"/><circle cx="276.3" cy="25.9" r="1.3" fill="url(#gW)"/><circle cx="193.7" cy="99.8" r="1.3" fill="url(#gW)"/><circle cx="165.2" cy="68.3" r="1.3" fill="url(#gW)"/><circle cx="128.9" cy="159.8" r="1.3" fill="url(#gW)"/><circle cx="256.1" cy="24.8" r="1.3" fill="url(#gW)"/><circle cx="158.2" cy="160.7" r="1.3" fill="url(#gW)"/><circle cx="211.1" cy="174.2" r="1.3" fill="url(#gW)"/><circle cx="278.0" cy="87.4" r="1.3" fill="url(#gW)"/><circle cx="228.1" cy="51.0" r="1.3" fill="url(#gW)"/><circle cx="244.8" cy="76.8" r="1.3" fill="url(#gW)"/><circle cx="147.5" cy="108.7" r="1.3" fill="url(#gW)"/><circle cx="263.6" cy="106.7" r="1.3" fill="url(#gW)"/><circle cx="263.9" cy="22.8" r="1.3" fill="url(#gW)"/><circle cx="254.9" cy="113.1" r="1.3" fill="url(#gW)"/><circle cx="171.9" cy="138.3" r="1.3" fill="url(#gW)"/><circle cx="276.7" cy="93.1" r="1.3" fill="url(#gW)"/><circle cx="247.7" cy="178.3" r="1.3" fill="url(#gW)"/><circle cx="228.4" cy="190.7" r="1.3" fill="url(#gW)"/><circle cx="164.3" cy="152.2" r="1.3" fill="url(#gW)"/><circle cx="231.4" cy="11.6" r="1.3" fill="url(#gW)"/><circle cx="195.6" cy="112.7" r="1.3" fill="url(#gW)"/><circle cx="166.5" cy="119.7" r="1.3" fill="url(#gW)"/><circle cx="203.2" cy="71.0" r="1.3" fill="url(#gW)"/><circle cx="159.2" cy="168.2" r="1.3" fill="url(#gW)"/><circle cx="160.4" cy="54.7" r="1.3" fill="url(#gW)"/><circle cx="191.8" cy="93.9" r="1.3" fill="url(#gW)"/><circle cx="206.7" cy="51.6" r="1.3" fill="url(#gW)"/><circle cx="153.3" cy="13.0" r="1.3" fill="url(#gW)"/><circle cx="239.7" cy="29.0" r="1.3" fill="url(#gW)"/><circle cx="190.0" cy="84.1" r="1.3" fill="url(#gW)"/><circle cx="208.3" cy="141.5" r="1.3" fill="url(#gW)"/><circle cx="280.3" cy="9.3" r="1.3" fill="url(#gW)"/><circle cx="148.4" cy="27.1" r="1.3" fill="url(#gW)"/><circle cx="176.7" cy="110.6" r="1.3" fill="url(#gW)"/><circle cx="173.3" cy="8.9" r="1.3" fill="url(#gW)"/><circle cx="164.0" cy="89.8" r="1.3" fill="url(#gW)"/><circle cx="104.3" cy="76.4" r="1.3" fill="url(#gW)"/><circle cx="254.8" cy="107.2" r="1.3" fill="url(#gW)"/><circle cx="212.8" cy="154.5" r="1.3" fill="url(#gW)"/><circle cx="170.9" cy="26.5" r="1.3" fill="url(#gW)"/><circle cx="265.3" cy="121.4" r="1.3" fill="url(#gW)"/><circle cx="249.2" cy="-1.6" r="1.3" fill="url(#gW)"/><circle cx="244.3" cy="16.5" r="1.3" fill="url(#gW)"/><circle cx="161.3" cy="179.1" r="1.3" fill="url(#gW)"/><circle cx="146.0" cy="71.0" r="1.3" fill="url(#gW)"/><circle cx="132.7" cy="3.2" r="1.3" fill="url(#gW)"/><circle cx="209.8" cy="185.3" r="1.3" fill="url(#gW)"/><circle cx="222.1" cy="152.7" r="1.3" fill="url(#gW)"/><circle cx="272.4" cy="120.3" r="1.3" fill="url(#gW)"/><circle cx="256.7" cy="30.9" r="1.3" fill="url(#gW)"/><circle cx="207.3" cy="81.8" r="1.3" fill="url(#gW)"/><circle cx="177.4" cy="33.1" r="1.3" fill="url(#gW)"/><circle cx="186.0" cy="26.1" r="1.3" fill="url(#gW)"/><circle cx="143.3" cy="38.4" r="1.3" fill="url(#gW)"/><circle cx="236.9" cy="58.6" r="1.3" fill="url(#gW)"/><circle cx="157.0" cy="37.6" r="1.3" fill="url(#gW)"/><circle cx="261.0" cy="162.1" r="1.3" fill="url(#gW)"/><circle cx="193.3" cy="69.4" r="1.3" fill="url(#gW)"/><circle cx="189.0" cy="37.7" r="1.3" fill="url(#gW)"/><circle cx="137.1" cy="125.2" r="1.3" fill="url(#gW)"/><circle cx="158.9" cy="29.9" r="1.3" fill="url(#gW)"/><circle cx="131.4" cy="186.6" r="1.3" fill="url(#gW)"/><circle cx="172.5" cy="53.4" r="1.3" fill="url(#gW)"/><circle cx="256.5" cy="125.1" r="1.3" fill="url(#gW)"/><circle cx="187.2" cy="159.7" r="1.3" fill="url(#gW)"/><circle cx="226.7" cy="61.4" r="1.3" fill="url(#gW)"/><circle cx="165.0" cy="140.2" r="1.3" fill="url(#gW)"/><circle cx="240.4" cy="184.8" r="1.3" fill="url(#gW)"/><circle cx="265.7" cy="123.2" r="1.3" fill="url(#gW)"/><circle cx="114.0" cy="173.3" r="1.3" fill="url(#gW)"/><circle cx="160.9" cy="104.8" r="1.3" fill="url(#gW)"/><circle cx="221.4" cy="57.0" r="1.3" fill="url(#gW)"/><circle cx="230.6" cy="169.2" r="1.3" fill="url(#gW)"/><circle cx="243.6" cy="33.6" r="1.3" fill="url(#gW)"/><circle cx="217.0" cy="121.8" r="1.3" fill="url(#gW)"/><circle cx="225.3" cy="28.0" r="1.3" fill="url(#gW)"/><circle cx="97.3" cy="174.7" r="1.3" fill="url(#gW)"/><circle cx="260.0" cy="155.2" r="1.3" fill="url(#gW)"/><circle cx="139.6" cy="100.9" r="1.3" fill="url(#gW)"/><circle cx="264.7" cy="186.7" r="1.3" fill="url(#gW)"/><circle cx="226.5" cy="118.7" r="1.3" fill="url(#gW)"/><circle cx="177.1" cy="74.8" r="1.3" fill="url(#gW)"/><circle cx="100.8" cy="62.5" r="1.3" fill="url(#gW)"/><circle cx="153.3" cy="152.0" r="1.3" fill="url(#gW)"/><circle cx="192.0" cy="52.9" r="1.3" fill="url(#gW)"/><circle cx="153.8" cy="107.3" r="1.3" fill="url(#gW)"/><circle cx="214.7" cy="32.6" r="1.3" fill="url(#gW)"/><circle cx="201.4" cy="100.1" r="1.3" fill="url(#gW)"/><circle cx="206.4" cy="109.4" r="1.3" fill="url(#gW)"/><circle cx="216.0" cy="86.4" r="1.3" fill="url(#gW)"/><circle cx="180.6" cy="149.3" r="1.3" fill="url(#gW)"/><circle cx="158.3" cy="72.5" r="1.3" fill="url(#gW)"/><circle cx="99.9" cy="32.9" r="1.3" fill="url(#gW)"/><circle cx="250.6" cy="44.8" r="1.3" fill="url(#gW)"/><circle cx="239.3" cy="125.6" r="1.3" fill="url(#gW)"/><circle cx="190.3" cy="117.0" r="1.3" fill="url(#gW)"/><circle cx="194.2" cy="38.8" r="1.3" fill="url(#gW)"/><circle cx="266.0" cy="69.8" r="1.3" fill="url(#gW)"/><circle cx="204.1" cy="180.3" r="1.3" fill="url(#gW)"/><circle cx="193.4" cy="70.8" r="1.3" fill="url(#gW)"/><circle cx="150.9" cy="135.9" r="1.3" fill="url(#gW)"/><circle cx="182.7" cy="142.2" r="1.3" fill="url(#gW)"/><circle cx="160.8" cy="48.6" r="1.3" fill="url(#gW)"/><circle cx="109.5" cy="167.6" r="1.3" fill="url(#gW)"/><circle cx="266.9" cy="134.0" r="1.3" fill="url(#gW)"/><circle cx="187.1" cy="182.5" r="1.3" fill="url(#gW)"/><circle cx="237.6" cy="56.8" r="1.3" fill="url(#gW)"/><circle cx="235.7" cy="172.5" r="2.6" fill="url(#gR)"/><circle cx="167.1" cy="68.4" r="2.4" fill="url(#gT)"/><circle cx="168.3" cy="13.1" r="2.6" fill="url(#gR)"/><circle cx="350.3" cy="29.6" r="3" fill="url(#gY)"/><circle cx="172.7" cy="58.7" r="2.6" fill="url(#gR)"/><circle cx="149.4" cy="56.1" r="2.4" fill="url(#gT)"/><circle cx="243.6" cy="91.1" r="2.4" fill="url(#gT)"/><circle cx="259.9" cy="104.6" r="2.4" fill="url(#gT)"/><circle cx="115.3" cy="111.8" r="2.4" fill="url(#gT)"/><circle cx="57.5" cy="91.6" r="2.3" fill="url(#gG)"/><circle cx="112.8" cy="27.2" r="2.4" fill="url(#gT)"/><circle cx="97.5" cy="30.2" r="2.3" fill="url(#gG)"/><circle cx="49.2" cy="132.6" r="2.3" fill="url(#gG)"/><circle cx="349.4" cy="12.4" r="3" fill="url(#gY)"/><circle cx="235.4" cy="44.1" r="2.6" fill="url(#gR)"/><circle cx="237.6" cy="111.3" r="2.6" fill="url(#gR)"/><circle cx="274.8" cy="30.9" r="3" fill="url(#gY)"/><circle cx="334.9" cy="105.2" r="3" fill="url(#gY)"/><circle cx="182.3" cy="170.3" r="2.4" fill="url(#gT)"/><circle cx="136.0" cy="45.8" r="2.4" fill="url(#gT)"/><circle cx="348.8" cy="161.4" r="3" fill="url(#gY)"/><circle cx="45.4" cy="20.8" r="2.3" fill="url(#gG)"/><circle cx="356.1" cy="7.8" r="3" fill="url(#gY)"/><circle cx="6.6" cy="141.7" r="1.9" fill="url(#gT)"/><circle cx="37.8" cy="159.0" r="2.3" fill="url(#gG)"/><circle cx="250.6" cy="145.7" r="2.4" fill="url(#gT)"/><circle cx="45.6" cy="171.7" r="2.3" fill="url(#gG)"/><circle cx="201.4" cy="99.1" r="2.4" fill="url(#gT)"/><circle cx="333.2" cy="1.3" r="3" fill="url(#gY)"/><circle cx="57.6" cy="13.6" r="2.3" fill="url(#gG)"/><circle cx="255.1" cy="28.3" r="2.4" fill="url(#gT)"/><circle cx="42.4" cy="111.1" r="2.3" fill="url(#gG)"/><circle cx="217.5" cy="93.1" r="2.4" fill="url(#gT)"/><circle cx="62.7" cy="142.1" r="2.3" fill="url(#gG)"/><circle cx="209.0" cy="137.3" r="2.6" fill="url(#gR)"/><circle cx="162.4" cy="88.5" r="2.4" fill="url(#gT)"/><circle cx="250.2" cy="164.3" r="2.4" fill="url(#gT)"/><circle cx="36.2" cy="74.5" r="2.3" fill="url(#gG)"/><circle cx="124.3" cy="154.6" r="2.4" fill="url(#gT)"/><circle cx="6.6" cy="21.6" r="1.9" fill="url(#gT)"/><circle cx="155.4" cy="149.1" r="2.6" fill="url(#gR)"/><circle cx="137.0" cy="102.0" r="2.8" fill="url(#gP)"/><circle cx="137.3" cy="164.2" r="2.4" fill="url(#gT)"/><circle cx="291.4" cy="152.3" r="3" fill="url(#gY)"/><circle cx="158.6" cy="50.6" r="2.4" fill="url(#gT)"/><circle cx="97.6" cy="94.5" r="2.3" fill="url(#gG)"/><circle cx="91.7" cy="91.2" r="2.3" fill="url(#gG)"/><circle cx="210.1" cy="180.6" r="2.4" fill="url(#gT)"/><circle cx="130.9" cy="8.7" r="2.4" fill="url(#gT)"/><circle cx="281.3" cy="24.4" r="3" fill="url(#gY)"/><circle cx="34.3" cy="145.6" r="2.3" fill="url(#gG)"/><circle cx="277.4" cy="59.6" r="3" fill="url(#gY)"/><circle cx="275.3" cy="88.7" r="2.4" fill="url(#gT)"/><circle cx="22.9" cy="158.5" r="2.3" fill="url(#gG)"/><circle cx="222.9" cy="161.5" r="2.4" fill="url(#gT)"/><circle cx="28.9" cy="107.8" r="2.3" fill="url(#gG)"/><circle cx="303.6" cy="172.4" r="3" fill="url(#gY)"/><circle cx="312.3" cy="10.3" r="3" fill="url(#gY)"/><circle cx="310.3" cy="111.2" r="3" fill="url(#gY)"/><circle cx="269.1" cy="73.8" r="2.4" fill="url(#gT)"/><circle cx="87.4" cy="139.3" r="2.3" fill="url(#gG)"/><circle cx="136.3" cy="76.7" r="2.8" fill="url(#gP)"/><circle cx="83.8" cy="33.5" r="2.3" fill="url(#gG)"/><circle cx="38.6" cy="46.5" r="2.3" fill="url(#gG)"/><circle cx="183.1" cy="66.8" r="2.4" fill="url(#gT)"/><circle cx="122.4" cy="164.4" r="2.4" fill="url(#gT)"/><circle cx="170.4" cy="9.8" r="2.4" fill="url(#gT)"/><circle cx="92.7" cy="90.1" r="2.5" fill="url(#gP)"/><circle cx="15.7" cy="85.1" r="2.3" fill="url(#gG)"/><circle cx="274.5" cy="11.8" r="3" fill="url(#gY)"/><circle cx="135.7" cy="3.6" r="2.4" fill="url(#gT)"/><circle cx="123.8" cy="94.9" r="2.4" fill="url(#gT)"/><circle cx="238.4" cy="168.8" r="2.4" fill="url(#gT)"/><circle cx="175.8" cy="52.3" r="2.6" fill="url(#gR)"/><circle cx="178.7" cy="135.0" r="2.4" fill="url(#gT)"/><circle cx="13.7" cy="168.4" r="2.3" fill="url(#gG)"/><circle cx="101.5" cy="9.3" r="2.8" fill="url(#gP)"/><circle cx="112.6" cy="158.6" r="2.4" fill="url(#gT)"/><circle cx="232.4" cy="23.1" r="2.4" fill="url(#gT)"/><circle cx="53.9" cy="158.8" r="2.3" fill="url(#gG)"/><circle cx="115.2" cy="107.9" r="2.4" fill="url(#gT)"/><circle cx="74.6" cy="17.5" r="2.3" fill="url(#gG)"/><circle cx="188.4" cy="118.5" r="2.4" fill="url(#gT)"/><circle cx="13.4" cy="101.2" r="2.3" fill="url(#gG)"/><circle cx="15.3" cy="59.9" r="2.3" fill="url(#gG)"/><circle cx="82.3" cy="169.1" r="2.3" fill="url(#gG)"/><circle cx="14.0" cy="141.7" r="2.3" fill="url(#gG)"/><circle cx="217.3" cy="56.1" r="2.6" fill="url(#gR)"/><circle cx="67.1" cy="155.2" r="2.3" fill="url(#gG)"/><circle cx="58.8" cy="108.4" r="2.3" fill="url(#gG)"/><circle cx="227.0" cy="64.9" r="2.4" fill="url(#gT)"/><circle cx="257.4" cy="86.2" r="2.4" fill="url(#gT)"/><circle cx="175.2" cy="31.6" r="2.4" fill="url(#gT)"/><circle cx="105.8" cy="103.0" r="2.8" fill="url(#gP)"/><circle cx="164.1" cy="188.4" r="2.6" fill="url(#gR)"/><circle cx="198.6" cy="133.5" r="2.4" fill="url(#gT)"/><circle cx="204.6" cy="18.1" r="2.4" fill="url(#gT)"/><circle cx="255.5" cy="75.0" r="2.4" fill="url(#gT)"/><circle cx="208.4" cy="79.0" r="2.4" fill="url(#gT)"/><circle cx="13.4" cy="94.5" r="2.3" fill="url(#gG)"/><circle cx="353.7" cy="146.4" r="3" fill="url(#gY)"/><circle cx="151.5" cy="119.8" r="2.4" fill="url(#gT)"/><circle cx="282.8" cy="158.9" r="2.4" fill="url(#gT)"/><circle cx="248.4" cy="166.6" r="2.4" fill="url(#gT)"/><circle cx="334.9" cy="58.7" r="3" fill="url(#gY)"/><circle cx="238.1" cy="111.0" r="2.4" fill="url(#gT)"/><circle cx="43.7" cy="37.2" r="2.3" fill="url(#gG)"/><circle cx="209.7" cy="45.3" r="2.4" fill="url(#gT)"/><circle cx="290.7" cy="126.5" r="3" fill="url(#gY)"/><circle cx="326.6" cy="40.9" r="3" fill="url(#gY)"/><circle cx="18.4" cy="5.8" r="1.9" fill="url(#gT)"/><circle cx="38.0" cy="98.0" r="2.3" fill="url(#gG)"/><circle cx="32.3" cy="50.5" r="2.3" fill="url(#gG)"/><circle cx="64.4" cy="97.9" r="2.3" fill="url(#gG)"/><circle cx="27.2" cy="46.6" r="2.3" fill="url(#gG)"/><circle cx="222.9" cy="37.1" r="2.4" fill="url(#gT)"/><circle cx="215.5" cy="119.2" r="2.4" fill="url(#gT)"/><circle cx="180.6" cy="147.8" r="2.6" fill="url(#gR)"/><circle cx="211.2" cy="24.2" r="2.6" fill="url(#gR)"/><circle cx="350.1" cy="155.8" r="3" fill="url(#gY)"/><circle cx="269.8" cy="190.5" r="2.6" fill="url(#gR)"/><circle cx="270.0" cy="139.7" r="3" fill="url(#gY)"/><circle cx="176.0" cy="167.5" r="2.4" fill="url(#gT)"/><circle cx="51.6" cy="175.0" r="2.3" fill="url(#gG)"/><circle cx="113.7" cy="174.3" r="2.4" fill="url(#gT)"/><circle cx="143.3" cy="95.6" r="2.6" fill="url(#gR)"/><circle cx="23.0" cy="104.4" r="2.3" fill="url(#gG)"/><circle cx="10.8" cy="5.8" r="1.9" fill="url(#gT)"/><circle cx="22.5" cy="152.0" r="2.3" fill="url(#gG)"/><circle cx="267.4" cy="47.8" r="2.4" fill="url(#gT)"/><circle cx="178.5" cy="109.6" r="2.4" fill="url(#gT)"/><circle cx="6.6" cy="44.1" r="1.9" fill="url(#gT)"/><circle cx="237.9" cy="127.9" r="2.4" fill="url(#gT)"/><circle cx="172.2" cy="55.3" r="2.4" fill="url(#gT)"/><circle cx="81.7" cy="148.7" r="2.3" fill="url(#gG)"/><circle cx="53.7" cy="171.8" r="2.3" fill="url(#gG)"/><circle cx="358.7" cy="144.4" r="3" fill="url(#gY)"/><circle cx="244.9" cy="61.8" r="2.6" fill="url(#gR)"/><circle cx="216.1" cy="30.0" r="2.4" fill="url(#gT)"/><circle cx="233.8" cy="145.1" r="2.6" fill="url(#gR)"/><circle cx="211.9" cy="110.3" r="2.4" fill="url(#gT)"/><circle cx="201.7" cy="161.7" r="2.6" fill="url(#gR)"/><circle cx="80.1" cy="111.0" r="2.3" fill="url(#gG)"/><circle cx="59.1" cy="94.4" r="2.3" fill="url(#gG)"/><circle cx="114.7" cy="183.7" r="2.8" fill="url(#gP)"/><circle cx="234.2" cy="86.3" r="2.4" fill="url(#gT)"/><circle cx="204.4" cy="133.6" r="2.4" fill="url(#gT)"/><circle cx="213.5" cy="77.3" r="2.4" fill="url(#gT)"/><circle cx="176.4" cy="60.3" r="2.4" fill="url(#gT)"/><circle cx="165.9" cy="151.6" r="2.4" fill="url(#gT)"/><circle cx="229.9" cy="3.8" r="2.4" fill="url(#gT)"/><circle cx="74.5" cy="10.1" r="2.3" fill="url(#gG)"/><circle cx="205.5" cy="62.2" r="2.6" fill="url(#gR)"/><circle cx="247.6" cy="174.4" r="2.4" fill="url(#gT)"/><circle cx="134.7" cy="131.1" r="2.4" fill="url(#gT)"/><circle cx="13.7" cy="43.7" r="2.3" fill="url(#gG)"/><circle cx="254.1" cy="187.9" r="2.4" fill="url(#gT)"/><circle cx="131.5" cy="71.3" r="2.4" fill="url(#gT)"/><circle cx="83.8" cy="40.1" r="2.3" fill="url(#gG)"/><circle cx="160.0" cy="38.1" r="2.4" fill="url(#gT)"/><circle cx="87.9" cy="91.2" r="2.3" fill="url(#gG)"/><circle cx="171.3" cy="43.6" r="2.4" fill="url(#gT)"/><circle cx="159.3" cy="43.4" r="2.6" fill="url(#gR)"/><circle cx="262.1" cy="80.6" r="2.4" fill="url(#gT)"/><circle cx="197.7" cy="-3.2" r="2.4" fill="url(#gT)"/><circle cx="248.6" cy="24.6" r="2.4" fill="url(#gT)"/><circle cx="170.5" cy="161.2" r="2.4" fill="url(#gT)"/><circle cx="66.7" cy="101.5" r="2.3" fill="url(#gG)"/><circle cx="256.0" cy="94.3" r="2.6" fill="url(#gR)"/><circle cx="70.6" cy="161.9" r="2.3" fill="url(#gG)"/><circle cx="274.3" cy="21.1" r="2.4" fill="url(#gT)"/><circle cx="76.6" cy="104.8" r="2.3" fill="url(#gG)"/><circle cx="252.2" cy="42.2" r="2.4" fill="url(#gT)"/><circle cx="30.2" cy="34.1" r="2.3" fill="url(#gG)"/><circle cx="85.3" cy="88.7" r="2.3" fill="url(#gG)"/><circle cx="236.0" cy="113.8" r="2.4" fill="url(#gT)"/><circle cx="205.2" cy="160.8" r="2.4" fill="url(#gT)"/><circle cx="239.5" cy="115.7" r="2.6" fill="url(#gR)"/><circle cx="120.6" cy="1.1" r="2.4" fill="url(#gT)"/><circle cx="230.1" cy="123.3" r="2.4" fill="url(#gT)"/><circle cx="265.4" cy="86.9" r="2.6" fill="url(#gR)"/><circle cx="250.6" cy="85.0" r="2.4" fill="url(#gT)"/><circle cx="198.6" cy="53.6" r="2.4" fill="url(#gT)"/><circle cx="138.3" cy="160.9" r="2.4" fill="url(#gT)"/><circle cx="242.2" cy="161.2" r="2.4" fill="url(#gT)"/><circle cx="21.3" cy="88.0" r="2.3" fill="url(#gG)"/><circle cx="19.4" cy="111.1" r="2.3" fill="url(#gG)"/><circle cx="43.8" cy="17.0" r="2.3" fill="url(#gG)"/><circle cx="344.5" cy="99.2" r="3" fill="url(#gY)"/><circle cx="53.1" cy="132.8" r="2.3" fill="url(#gG)"/><circle cx="244.1" cy="51.0" r="2.4" fill="url(#gT)"/><circle cx="41.9" cy="13.9" r="2.3" fill="url(#gG)"/><circle cx="217.5" cy="70.2" r="2.4" fill="url(#gT)"/><circle cx="338.9" cy="7.0" r="3" fill="url(#gY)"/><circle cx="360.8" cy="137.4" r="3" fill="url(#gY)"/><circle cx="174.6" cy="189.6" r="2.4" fill="url(#gT)"/><circle cx="115.2" cy="49.5" r="2.4" fill="url(#gT)"/><circle cx="78.2" cy="49.7" r="2.3" fill="url(#gG)"/><circle cx="153.6" cy="16.5" r="2.4" fill="url(#gT)"/><circle cx="335.9" cy="146.4" r="3" fill="url(#gY)"/><circle cx="282.2" cy="91.0" r="3" fill="url(#gY)"/><circle cx="81.9" cy="49.8" r="2.3" fill="url(#gG)"/><circle cx="155.8" cy="13.8" r="2.4" fill="url(#gT)"/><circle cx="328.7" cy="177.1" r="3" fill="url(#gY)"/><circle cx="270.2" cy="189.1" r="2.4" fill="url(#gT)"/><circle cx="14.0" cy="30.0" r="2.3" fill="url(#gG)"/><circle cx="91.8" cy="111.0" r="2.3" fill="url(#gG)"/><circle cx="217.6" cy="20.3" r="2.4" fill="url(#gT)"/><circle cx="353.4" cy="1.8" r="3" fill="url(#gY)"/><circle cx="231.2" cy="49.6" r="2.4" fill="url(#gT)"/><circle cx="32.9" cy="162.0" r="2.3" fill="url(#gG)"/><circle cx="63.1" cy="75.2" r="2.3" fill="url(#gG)"/><circle cx="180.0" cy="125.1" r="2.4" fill="url(#gT)"/><circle cx="74.6" cy="75.0" r="2.3" fill="url(#gG)"/><circle cx="272.7" cy="175.2" r="3" fill="url(#gY)"/><circle cx="91.1" cy="105.1" r="2.3" fill="url(#gG)"/><circle cx="206.9" cy="83.3" r="2.4" fill="url(#gT)"/><circle cx="353.4" cy="117.6" r="3" fill="url(#gY)"/><circle cx="15.6" cy="20.0" r="2.3" fill="url(#gG)"/><circle cx="198.2" cy="47.1" r="2.4" fill="url(#gT)"/><circle cx="68.9" cy="145.5" r="2.3" fill="url(#gG)"/><circle cx="229.9" cy="77.2" r="2.4" fill="url(#gT)"/><circle cx="264.7" cy="45.7" r="2.4" fill="url(#gT)"/><circle cx="333.2" cy="69.3" r="3" fill="url(#gY)"/><circle cx="265.8" cy="87.1" r="2.6" fill="url(#gR)"/><circle cx="74.6" cy="101.0" r="2.3" fill="url(#gG)"/><circle cx="316.8" cy="164.0" r="3" fill="url(#gY)"/><circle cx="306.2" cy="10.4" r="3" fill="url(#gY)"/><circle cx="64.5" cy="104.7" r="2.3" fill="url(#gG)"/><circle cx="268.1" cy="27.1" r="2.4" fill="url(#gT)"/><circle cx="139.7" cy="193.6" r="2.4" fill="url(#gT)"/><circle cx="178.2" cy="148.3" r="2.4" fill="url(#gT)"/><circle cx="70.7" cy="155.8" r="2.3" fill="url(#gG)"/><circle cx="172.7" cy="28.8" r="2.6" fill="url(#gR)"/><circle cx="45.6" cy="60.3" r="2.3" fill="url(#gG)"/><circle cx="200.7" cy="151.3" r="2.4" fill="url(#gT)"/><circle cx="116.3" cy="26.7" r="2.4" fill="url(#gT)"/><circle cx="212.0" cy="47.9" r="2.4" fill="url(#gT)"/><circle cx="273.9" cy="144.9" r="3" fill="url(#gY)"/><circle cx="29.2" cy="43.4" r="2.3" fill="url(#gG)"/><circle cx="22.0" cy="9.0" r="2.6" fill="url(#gP)"/><circle cx="51.4" cy="10.2" r="2.3" fill="url(#gG)"/><circle cx="361.6" cy="102.0" r="3" fill="url(#gY)"/><circle cx="133.4" cy="100.1" r="2.6" fill="url(#gR)"/><circle cx="213.9" cy="85.4" r="2.4" fill="url(#gT)"/><circle cx="337.2" cy="48.8" r="3" fill="url(#gY)"/><circle cx="178.5" cy="148.9" r="2.6" fill="url(#gR)"/><circle cx="142.0" cy="35.8" r="2.4" fill="url(#gT)"/><circle cx="338.7" cy="177.5" r="3" fill="url(#gY)"/><circle cx="215.1" cy="122.7" r="2.4" fill="url(#gT)"/><circle cx="243.3" cy="102.7" r="2.6" fill="url(#gR)"/><circle cx="234.8" cy="137.9" r="2.4" fill="url(#gT)"/><circle cx="6.6" cy="171.7" r="1.9" fill="url(#gT)"/><circle cx="311.7" cy="189.0" r="3" fill="url(#gY)"/><circle cx="153.9" cy="161.2" r="2.4" fill="url(#gT)"/><circle cx="155.1" cy="102.5" r="2.6" fill="url(#gR)"/><circle cx="149.0" cy="166.3" r="2.6" fill="url(#gR)"/><circle cx="271.6" cy="43.8" r="3" fill="url(#gY)"/><circle cx="145.6" cy="66.3" r="2.6" fill="url(#gR)"/><circle cx="273.9" cy="94.0" r="2.4" fill="url(#gT)"/><circle cx="6.6" cy="152.9" r="1.9" fill="url(#gT)"/><circle cx="215.7" cy="23.3" r="2.4" fill="url(#gT)"/><circle cx="188.2" cy="153.2" r="2.6" fill="url(#gR)"/><circle cx="40.0" cy="82.0" r="2.3" fill="url(#gG)"/><circle cx="42.3" cy="165.5" r="2.3" fill="url(#gG)"/><circle cx="229.3" cy="3.1" r="2.4" fill="url(#gT)"/><circle cx="266.3" cy="105.4" r="2.4" fill="url(#gT)"/><circle cx="166.0" cy="39.9" r="2.4" fill="url(#gT)"/><circle cx="39.8" cy="168.7" r="2.3" fill="url(#gG)"/><circle cx="170.9" cy="182.7" r="2.4" fill="url(#gT)"/><circle cx="75.7" cy="20.5" r="2.3" fill="url(#gG)"/><circle cx="167.9" cy="20.7" r="2.4" fill="url(#gT)"/><circle cx="117.0" cy="173.2" r="2.4" fill="url(#gT)"/><circle cx="145.8" cy="-0.1" r="2.6" fill="url(#gR)"/><circle cx="249.8" cy="117.5" r="2.4" fill="url(#gT)"/><circle cx="51.3" cy="136.1" r="2.3" fill="url(#gG)"/><circle cx="97.0" cy="107.7" r="2.3" fill="url(#gG)"/><circle cx="149.1" cy="74.0" r="2.4" fill="url(#gT)"/><circle cx="44.2" cy="75.2" r="2.3" fill="url(#gG)"/><circle cx="18.8" cy="59.8" r="2.3" fill="url(#gG)"/><circle cx="53.8" cy="178.1" r="2.3" fill="url(#gG)"/><circle cx="72.2" cy="97.9" r="2.3" fill="url(#gG)"/><circle cx="75.8" cy="132.0" r="2.3" fill="url(#gG)"/><circle cx="219.5" cy="119.8" r="2.6" fill="url(#gR)"/><circle cx="58.7" cy="56.4" r="2.3" fill="url(#gG)"/><circle cx="73.9" cy="44.7" r="2.5" fill="url(#gP)"/><circle cx="53.4" cy="46.6" r="2.3" fill="url(#gG)"/><circle cx="49.3" cy="27.2" r="2.3" fill="url(#gG)"/><circle cx="42.1" cy="171.8" r="2.3" fill="url(#gG)"/><circle cx="188.8" cy="185.0" r="2.4" fill="url(#gT)"/><circle cx="161.7" cy="27.1" r="2.4" fill="url(#gT)"/><circle cx="245.8" cy="35.7" r="2.4" fill="url(#gT)"/><circle cx="32.4" cy="87.9" r="2.3" fill="url(#gG)"/><circle cx="38.0" cy="40.5" r="2.3" fill="url(#gG)"/><circle cx="203.1" cy="165.7" r="2.4" fill="url(#gT)"/><circle cx="159.6" cy="169.0" r="2.4" fill="url(#gT)"/><circle cx="220.9" cy="103.4" r="2.4" fill="url(#gT)"/><circle cx="72.6" cy="165.7" r="2.3" fill="url(#gG)"/><circle cx="89.2" cy="88.6" r="2.3" fill="url(#gG)"/><circle cx="64.9" cy="20.9" r="2.3" fill="url(#gG)"/><circle cx="109.3" cy="158.7" r="2.4" fill="url(#gT)"/><circle cx="186.6" cy="28.9" r="2.4" fill="url(#gT)"/><circle cx="357.2" cy="171.0" r="3" fill="url(#gY)"/><circle cx="89.7" cy="181.8" r="2.3" fill="url(#gG)"/><circle cx="341.5" cy="151.0" r="3" fill="url(#gY)"/><circle cx="97.5" cy="56.7" r="2.3" fill="url(#gG)"/><circle cx="205.2" cy="2.5" r="2.4" fill="url(#gT)"/><circle cx="211.2" cy="64.0" r="2.4" fill="url(#gT)"/><circle cx="216.3" cy="3.5" r="2.4" fill="url(#gT)"/><circle cx="202.4" cy="118.1" r="2.4" fill="url(#gT)"/><circle cx="193.2" cy="117.4" r="2.4" fill="url(#gT)"/><circle cx="267.5" cy="35.2" r="2.4" fill="url(#gT)"/><circle cx="54.9" cy="43.7" r="2.3" fill="url(#gG)"/><circle cx="181.7" cy="44.9" r="2.4" fill="url(#gT)"/><circle cx="272.4" cy="114.6" r="2.6" fill="url(#gR)"/><circle cx="165.8" cy="3.2" r="2.4" fill="url(#gT)"/><circle cx="298.7" cy="138.8" r="3" fill="url(#gY)"/><circle cx="15.1" cy="91.5" r="2.3" fill="url(#gG)"/><circle cx="59.3" cy="30.0" r="2.3" fill="url(#gG)"/><circle cx="49.5" cy="104.8" r="2.3" fill="url(#gG)"/><circle cx="15.8" cy="165.6" r="2.3" fill="url(#gG)"/><circle cx="182.8" cy="83.6" r="2.4" fill="url(#gT)"/><circle cx="349.6" cy="37.7" r="3" fill="url(#gY)"/><circle cx="143.9" cy="95.7" r="2.4" fill="url(#gT)"/><circle cx="206.0" cy="45.6" r="2.4" fill="url(#gT)"/><circle cx="289.0" cy="28.8" r="3" fill="url(#gY)"/><circle cx="272.7" cy="163.4" r="2.4" fill="url(#gT)"/><circle cx="353.7" cy="164.3" r="3" fill="url(#gY)"/><circle cx="278.2" cy="187.1" r="3" fill="url(#gY)"/><circle cx="119.9" cy="177.6" r="2.4" fill="url(#gT)"/><circle cx="61.4" cy="165.6" r="2.3" fill="url(#gG)"/><circle cx="77.0" cy="71.0" r="2.6" fill="url(#gP)"/><circle cx="123.6" cy="140.2" r="2.8" fill="url(#gP)"/><circle cx="267.4" cy="155.3" r="2.4" fill="url(#gT)"/><circle cx="43.7" cy="30.4" r="2.3" fill="url(#gG)"/><circle cx="89.5" cy="75.2" r="2.3" fill="url(#gG)"/><circle cx="278.8" cy="157.2" r="3" fill="url(#gY)"/><circle cx="80.1" cy="178.9" r="2.3" fill="url(#gG)"/><circle cx="76.0" cy="34.0" r="2.3" fill="url(#gG)"/><circle cx="111.9" cy="171.3" r="2.4" fill="url(#gT)"/><circle cx="192.5" cy="92.8" r="2.4" fill="url(#gT)"/><circle cx="55.1" cy="175.4" r="2.3" fill="url(#gG)"/><circle cx="297.9" cy="151.7" r="3" fill="url(#gY)"/><circle cx="66.7" cy="57.0" r="2.3" fill="url(#gG)"/><circle cx="317.6" cy="28.5" r="3" fill="url(#gY)"/><circle cx="270.5" cy="166.1" r="2.4" fill="url(#gT)"/><circle cx="160.9" cy="27.7" r="2.4" fill="url(#gT)"/><circle cx="119.4" cy="157.3" r="2.6" fill="url(#gR)"/><circle cx="219.3" cy="178.8" r="2.7" fill="url(#gP)"/><circle cx="135.2" cy="132.4" r="2.4" fill="url(#gT)"/><circle cx="66.8" cy="75.2" r="2.3" fill="url(#gG)"/><circle cx="246.4" cy="144.3" r="2.6" fill="url(#gR)"/><circle cx="353.7" cy="130.9" r="3" fill="url(#gY)"/><circle cx="169.1" cy="16.9" r="2.4" fill="url(#gT)"/><circle cx="72.2" cy="40.6" r="2.3" fill="url(#gG)"/><circle cx="114.5" cy="25.8" r="2.6" fill="url(#gR)"/><circle cx="182.9" cy="154.5" r="2.4" fill="url(#gT)"/><circle cx="183.1" cy="179.1" r="2.6" fill="url(#gR)"/><circle cx="352.3" cy="183.9" r="3" fill="url(#gY)"/><circle cx="332.2" cy="147.1" r="3" fill="url(#gY)"/><circle cx="304.8" cy="86.9" r="3" fill="url(#gY)"/><circle cx="178.7" cy="165.3" r="2.4" fill="url(#gT)"/><circle cx="163.2" cy="47.3" r="2.7" fill="url(#gP)"/><circle cx="164.5" cy="164.8" r="2.4" fill="url(#gT)"/><circle cx="45.6" cy="40.4" r="2.3" fill="url(#gG)"/><circle cx="6.6" cy="96.7" r="1.9" fill="url(#gT)"/><circle cx="287.1" cy="110.1" r="3" fill="url(#gY)"/><circle cx="240.6" cy="50.5" r="2.4" fill="url(#gT)"/><circle cx="55.5" cy="148.5" r="2.3" fill="url(#gG)"/><circle cx="17.4" cy="94.4" r="2.3" fill="url(#gG)"/><circle cx="222.1" cy="11.3" r="2.4" fill="url(#gT)"/><circle cx="100.0" cy="86.6" r="2.4" fill="url(#gT)"/><circle cx="359.2" cy="112.2" r="3" fill="url(#gY)"/><circle cx="259.5" cy="35.8" r="2.6" fill="url(#gR)"/><circle cx="213.4" cy="80.1" r="2.4" fill="url(#gT)"/><circle cx="13.8" cy="23.8" r="2.3" fill="url(#gG)"/><circle cx="34.7" cy="111.3" r="2.3" fill="url(#gG)"/><circle cx="99.7" cy="146.8" r="2.4" fill="url(#gT)"/><circle cx="270.5" cy="54.4" r="2.4" fill="url(#gT)"/><circle cx="227.7" cy="48.0" r="2.4" fill="url(#gT)"/><circle cx="255.4" cy="57.4" r="2.4" fill="url(#gT)"/><circle cx="262.9" cy="37.6" r="2.4" fill="url(#gT)"/><circle cx="15.5" cy="111.8" r="2.3" fill="url(#gG)"/><circle cx="139.2" cy="175.5" r="2.4" fill="url(#gT)"/><circle cx="206.2" cy="105.2" r="2.4" fill="url(#gT)"/><circle cx="70.5" cy="108.1" r="2.3" fill="url(#gG)"/><circle cx="196.9" cy="22.9" r="2.4" fill="url(#gT)"/><circle cx="284.3" cy="139.6" r="3" fill="url(#gY)"/><circle cx="343.5" cy="119.9" r="3" fill="url(#gY)"/><circle cx="177.8" cy="86.4" r="2.4" fill="url(#gT)"/><circle cx="188.3" cy="180.1" r="2.4" fill="url(#gT)"/><circle cx="54.9" cy="155.7" r="2.3" fill="url(#gG)"/><circle cx="177.0" cy="55.0" r="2.6" fill="url(#gR)"/><circle cx="142.1" cy="189.3" r="2.4" fill="url(#gT)"/><circle cx="99.3" cy="53.5" r="2.3" fill="url(#gG)"/><circle cx="145.7" cy="92.7" r="2.4" fill="url(#gT)"/><circle cx="81.7" cy="101.3" r="2.3" fill="url(#gG)"/><circle cx="360.9" cy="46.2" r="3" fill="url(#gY)"/><circle cx="169.8" cy="145.0" r="2.4" fill="url(#gT)"/><circle cx="55.3" cy="74.9" r="2.3" fill="url(#gG)"/><circle cx="168.1" cy="188.0" r="2.4" fill="url(#gT)"/><circle cx="178.4" cy="-1.6" r="2.6" fill="url(#gR)"/><circle cx="233.9" cy="104.9" r="2.4" fill="url(#gT)"/><circle cx="344.1" cy="133.9" r="3" fill="url(#gY)"/><circle cx="162.7" cy="9.2" r="2.4" fill="url(#gT)"/><circle cx="314.0" cy="4.4" r="3" fill="url(#gY)"/><circle cx="117.8" cy="23.6" r="2.4" fill="url(#gT)"/><circle cx="62.7" cy="88.2" r="2.3" fill="url(#gG)"/><circle cx="130.2" cy="129.5" r="2.4" fill="url(#gT)"/><circle cx="74.5" cy="129.0" r="2.3" fill="url(#gG)"/><circle cx="128.6" cy="62.6" r="2.4" fill="url(#gT)"/><circle cx="97.5" cy="67.6" r="2.4" fill="url(#gT)"/><circle cx="91.0" cy="98.5" r="2.3" fill="url(#gG)"/><circle cx="162.9" cy="83.4" r="2.4" fill="url(#gT)"/><circle cx="72.7" cy="152.5" r="2.3" fill="url(#gG)"/><circle cx="277.1" cy="99.2" r="3" fill="url(#gY)"/><circle cx="179.9" cy="160.4" r="2.4" fill="url(#gT)"/><circle cx="51.6" cy="128.7" r="2.3" fill="url(#gG)"/><circle cx="151.0" cy="117.2" r="2.4" fill="url(#gT)"/><circle cx="241.4" cy="110.1" r="2.4" fill="url(#gT)"/><circle cx="176.3" cy="64.4" r="2.4" fill="url(#gT)"/><circle cx="219.6" cy="145.6" r="2.4" fill="url(#gT)"/><circle cx="264.3" cy="59.4" r="2.4" fill="url(#gT)"/><circle cx="150.2" cy="138.7" r="2.4" fill="url(#gT)"/><circle cx="205.7" cy="11.1" r="2.4" fill="url(#gT)"/><circle cx="110.0" cy="151.5" r="2.8" fill="url(#gP)"/><circle cx="40.5" cy="56.2" r="2.3" fill="url(#gG)"/><circle cx="47.8" cy="23.2" r="2.3" fill="url(#gG)"/><circle cx="28.9" cy="101.3" r="2.3" fill="url(#gG)"/><circle cx="194.3" cy="13.8" r="2.4" fill="url(#gT)"/><circle cx="99.7" cy="83.1" r="2.4" fill="url(#gT)"/><circle cx="164.0" cy="136.9" r="2.4" fill="url(#gT)"/><circle cx="30.7" cy="53.2" r="2.3" fill="url(#gG)"/><circle cx="100.0" cy="170.0" r="2.6" fill="url(#gP)"/><circle cx="13.7" cy="155.3" r="2.3" fill="url(#gG)"/><circle cx="264.3" cy="146.7" r="2.4" fill="url(#gT)"/><circle cx="98.8" cy="150.2" r="2.4" fill="url(#gT)"/><circle cx="153.5" cy="10.0" r="2.4" fill="url(#gT)"/><circle cx="194.5" cy="72.5" r="2.4" fill="url(#gT)"/><circle cx="224.6" cy="29.2" r="2.4" fill="url(#gT)"/><circle cx="340.5" cy="125.4" r="3" fill="url(#gY)"/><circle cx="292.0" cy="172.2" r="3" fill="url(#gY)"/><circle cx="204.1" cy="115.1" r="2.4" fill="url(#gT)"/><circle cx="362.1" cy="155.3" r="3" fill="url(#gY)"/><circle cx="239.4" cy="25.8" r="2.4" fill="url(#gT)"/><circle cx="167.5" cy="122.4" r="2.6" fill="url(#gR)"/><circle cx="13.0" cy="17.2" r="2.3" fill="url(#gG)"/><circle cx="167.5" cy="163.0" r="2.4" fill="url(#gT)"/><circle cx="145.3" cy="66.1" r="2.4" fill="url(#gT)"/><circle cx="143.6" cy="63.1" r="2.4" fill="url(#gT)"/><circle cx="280.6" cy="165.0" r="3" fill="url(#gY)"/><circle cx="170.9" cy="20.0" r="2.4" fill="url(#gT)"/><circle cx="178.8" cy="2.3" r="2.4" fill="url(#gT)"/><circle cx="207.2" cy="39.6" r="2.4" fill="url(#gT)"/><circle cx="251.0" cy="108.6" r="2.4" fill="url(#gT)"/><circle cx="187.1" cy="19.1" r="2.4" fill="url(#gT)"/><circle cx="266.6" cy="57.3" r="2.4" fill="url(#gT)"/><circle cx="118.0" cy="88.7" r="2.6" fill="url(#gR)"/><circle cx="264.7" cy="83.0" r="2.4" fill="url(#gT)"/><circle cx="30.6" cy="13.9" r="2.3" fill="url(#gG)"/><circle cx="56.8" cy="98.0" r="2.3" fill="url(#gG)"/><circle cx="85.9" cy="81.6" r="2.3" fill="url(#gG)"/><circle cx="161.0" cy="188.9" r="2.4" fill="url(#gT)"/><circle cx="37.7" cy="84.8" r="2.3" fill="url(#gG)"/><circle cx="79.6" cy="37.3" r="2.5" fill="url(#gP)"/><circle cx="108.4" cy="112.2" r="2.4" fill="url(#gT)"/><circle cx="165.3" cy="165.7" r="2.4" fill="url(#gT)"/><circle cx="179.8" cy="173.5" r="2.6" fill="url(#gR)"/><circle cx="300.7" cy="165.3" r="3" fill="url(#gY)"/><circle cx="197.1" cy="100.1" r="2.6" fill="url(#gR)"/><circle cx="63.1" cy="181.6" r="2.3" fill="url(#gG)"/><circle cx="187.6" cy="144.1" r="2.4" fill="url(#gT)"/><circle cx="82.1" cy="107.5" r="2.3" fill="url(#gG)"/><circle cx="62.9" cy="129.0" r="2.3" fill="url(#gG)"/><circle cx="217.2" cy="179.7" r="2.4" fill="url(#gT)"/><circle cx="172.9" cy="180.4" r="2.6" fill="url(#gR)"/><circle cx="158.1" cy="48.9" r="2.6" fill="url(#gR)"/><circle cx="251.4" cy="44.7" r="2.4" fill="url(#gT)"/><circle cx="320.3" cy="24.8" r="3" fill="url(#gY)"/><circle cx="216.9" cy="85.0" r="2.6" fill="url(#gR)"/><circle cx="49.8" cy="139.2" r="2.3" fill="url(#gG)"/><circle cx="175.0" cy="88.6" r="2.4" fill="url(#gT)"/><circle cx="224.7" cy="173.2" r="2.4" fill="url(#gT)"/><circle cx="39.9" cy="175.5" r="2.3" fill="url(#gG)"/><circle cx="266.9" cy="87.6" r="2.4" fill="url(#gT)"/><circle cx="221.3" cy="108.1" r="2.4" fill="url(#gT)"/><circle cx="27.3" cy="98.4" r="2.3" fill="url(#gG)"/><circle cx="135.7" cy="63.6" r="2.4" fill="url(#gT)"/><circle cx="189.0" cy="26.4" r="2.4" fill="url(#gT)"/><circle cx="141.4" cy="142.3" r="2.4" fill="url(#gT)"/><circle cx="143.4" cy="149.0" r="2.4" fill="url(#gT)"/><circle cx="53.3" cy="78.3" r="2.3" fill="url(#gG)"/><circle cx="348.0" cy="144.3" r="3" fill="url(#gY)"/><circle cx="76.4" cy="184.7" r="2.3" fill="url(#gG)"/><circle cx="261.3" cy="177.6" r="2.4" fill="url(#gT)"/><circle cx="162.2" cy="8.6" r="2.4" fill="url(#gT)"/><circle cx="309.9" cy="183.2" r="3" fill="url(#gY)"/><circle cx="168.6" cy="148.2" r="2.4" fill="url(#gT)"/><circle cx="144.8" cy="141.4" r="2.4" fill="url(#gT)"/><circle cx="216.0" cy="35.3" r="2.4" fill="url(#gT)"/><circle cx="232.8" cy="62.2" r="2.6" fill="url(#gR)"/><circle cx="189.5" cy="159.5" r="2.4" fill="url(#gT)"/><circle cx="181.4" cy="111.6" r="2.4" fill="url(#gT)"/><circle cx="161.2" cy="74.2" r="2.4" fill="url(#gT)"/><circle cx="248.4" cy="33.3" r="2.4" fill="url(#gT)"/><circle cx="28.7" cy="149.2" r="2.3" fill="url(#gG)"/><circle cx="45.9" cy="165.2" r="2.3" fill="url(#gG)"/><circle cx="91.6" cy="78.6" r="2.3" fill="url(#gG)"/><circle cx="225.2" cy="22.2" r="2.4" fill="url(#gT)"/><circle cx="272.8" cy="161.9" r="2.4" fill="url(#gT)"/><circle cx="227.1" cy="169.4" r="2.6" fill="url(#gR)"/><circle cx="180.1" cy="132.8" r="2.6" fill="url(#gR)"/><circle cx="168.9" cy="137.6" r="2.4" fill="url(#gT)"/><circle cx="212.6" cy="145.5" r="2.4" fill="url(#gT)"/><circle cx="174.3" cy="108.8" r="2.4" fill="url(#gT)"/><circle cx="339.3" cy="64.8" r="3" fill="url(#gY)"/><circle cx="128.2" cy="168.2" r="2.8" fill="url(#gP)"/><circle cx="240.8" cy="79.7" r="2.6" fill="url(#gR)"/><circle cx="89.8" cy="101.9" r="2.3" fill="url(#gG)"/><circle cx="163.8" cy="120.9" r="2.4" fill="url(#gT)"/><circle cx="180.0" cy="50.3" r="2.4" fill="url(#gT)"/><circle cx="59.2" cy="155.0" r="2.3" fill="url(#gG)"/><circle cx="232.4" cy="76.9" r="2.6" fill="url(#gR)"/><circle cx="167.8" cy="192.0" r="2.6" fill="url(#gR)"/><circle cx="212.8" cy="13.2" r="2.6" fill="url(#gR)"/><circle cx="161.2" cy="166.0" r="2.4" fill="url(#gT)"/><circle cx="79.8" cy="152.4" r="2.3" fill="url(#gG)"/><circle cx="237.4" cy="27.2" r="2.4" fill="url(#gT)"/><circle cx="271.9" cy="68.0" r="2.6" fill="url(#gR)"/><circle cx="134.8" cy="181.7" r="2.4" fill="url(#gT)"/><circle cx="162.1" cy="55.8" r="2.4" fill="url(#gT)"/><circle cx="75.8" cy="40.2" r="2.3" fill="url(#gG)"/><circle cx="219.1" cy="110.6" r="2.4" fill="url(#gT)"/><circle cx="243.2" cy="184.1" r="2.4" fill="url(#gT)"/><circle cx="246.9" cy="29.6" r="2.6" fill="url(#gR)"/><circle cx="81.8" cy="37.0" r="2.3" fill="url(#gG)"/><circle cx="106.5" cy="21.8" r="2.4" fill="url(#gT)"/><circle cx="175.5" cy="67.8" r="2.4" fill="url(#gT)"/><circle cx="248.5" cy="186.1" r="2.4" fill="url(#gT)"/><circle cx="94.8" cy="40.3" r="2.3" fill="url(#gG)"/><circle cx="170.1" cy="117.1" r="2.4" fill="url(#gT)"/><circle cx="40.4" cy="10.3" r="2.3" fill="url(#gG)"/><circle cx="104.5" cy="65.2" r="2.4" fill="url(#gT)"/><circle cx="80.1" cy="165.2" r="2.3" fill="url(#gG)"/><circle cx="41.9" cy="20.7" r="2.3" fill="url(#gG)"/><circle cx="305.6" cy="50.9" r="3" fill="url(#gY)"/><circle cx="32.4" cy="10.2" r="2.3" fill="url(#gG)"/><circle cx="130.8" cy="8.2" r="2.6" fill="url(#gR)"/><circle cx="276.7" cy="89.6" r="3" fill="url(#gY)"/><circle cx="80.2" cy="184.9" r="2.3" fill="url(#gG)"/><circle cx="149.7" cy="131.1" r="2.4" fill="url(#gT)"/><circle cx="191.5" cy="155.5" r="2.4" fill="url(#gT)"/><circle cx="209.8" cy="109.8" r="2.4" fill="url(#gT)"/><circle cx="251.7" cy="20.6" r="2.4" fill="url(#gT)"/><circle cx="120.3" cy="89.2" r="2.4" fill="url(#gT)"/><circle cx="57.1" cy="171.8" r="2.3" fill="url(#gG)"/><circle cx="293.1" cy="138.7" r="3" fill="url(#gY)"/><circle cx="144.5" cy="108.8" r="2.4" fill="url(#gT)"/><circle cx="158.2" cy="166.7" r="2.4" fill="url(#gT)"/><circle cx="204.7" cy="176.0" r="2.4" fill="url(#gT)"/><circle cx="300.0" cy="72.6" r="3" fill="url(#gY)"/><circle cx="197.9" cy="150.9" r="2.4" fill="url(#gT)"/><circle cx="259.5" cy="13.4" r="2.6" fill="url(#gR)"/><circle cx="76.2" cy="14.2" r="2.3" fill="url(#gG)"/><circle cx="178.0" cy="163.3" r="2.4" fill="url(#gT)"/><circle cx="39.9" cy="88.7" r="2.3" fill="url(#gG)"/><circle cx="218.1" cy="96.8" r="2.4" fill="url(#gT)"/><circle cx="85.5" cy="24.1" r="2.3" fill="url(#gG)"/><circle cx="232.9" cy="62.1" r="2.6" fill="url(#gR)"/><circle cx="91.4" cy="27.0" r="2.3" fill="url(#gG)"/><circle cx="254.0" cy="78.4" r="2.6" fill="url(#gR)"/><circle cx="32.3" cy="101.4" r="2.3" fill="url(#gG)"/><circle cx="152.0" cy="105.0" r="2.4" fill="url(#gT)"/><circle cx="358.4" cy="185.7" r="3" fill="url(#gY)"/><circle cx="99.3" cy="111.4" r="2.3" fill="url(#gG)"/><circle cx="256.0" cy="40.5" r="2.4" fill="url(#gT)"/><circle cx="237.3" cy="1.0" r="2.4" fill="url(#gT)"/><circle cx="156.8" cy="163.1" r="2.4" fill="url(#gT)"/><circle cx="122.0" cy="154.3" r="2.4" fill="url(#gT)"/><circle cx="99.0" cy="119.8" r="2.4" fill="url(#gT)"/><circle cx="239.5" cy="189.1" r="2.6" fill="url(#gR)"/><circle cx="15.4" cy="145.1" r="2.3" fill="url(#gG)"/><circle cx="46.0" cy="98.6" r="2.3" fill="url(#gG)"/><circle cx="263.8" cy="134.0" r="2.4" fill="url(#gT)"/><circle cx="78.0" cy="175.6" r="2.3" fill="url(#gG)"/><circle cx="83.9" cy="184.9" r="2.3" fill="url(#gG)"/><circle cx="30.8" cy="172.4" r="2.3" fill="url(#gG)"/><circle cx="146.9" cy="168.0" r="2.4" fill="url(#gT)"/><circle cx="260.7" cy="111.3" r="2.6" fill="url(#gR)"/><circle cx="301.7" cy="47.5" r="3" fill="url(#gY)"/><circle cx="120.7" cy="15.4" r="2.8" fill="url(#gP)"/><circle cx="360.0" cy="177.6" r="3" fill="url(#gY)"/><circle cx="201.0" cy="139.9" r="2.4" fill="url(#gT)"/><circle cx="62.5" cy="81.6" r="2.3" fill="url(#gG)"/><circle cx="348.2" cy="129.2" r="3" fill="url(#gY)"/><circle cx="74.1" cy="142.2" r="2.3" fill="url(#gG)"/><circle cx="236.5" cy="154.2" r="2.4" fill="url(#gT)"/><circle cx="47.2" cy="135.3" r="2.3" fill="url(#gG)"/><circle cx="81.9" cy="175.4" r="2.3" fill="url(#gG)"/><circle cx="255.9" cy="151.4" r="2.4" fill="url(#gT)"/><circle cx="87.4" cy="53.6" r="2.3" fill="url(#gG)"/><circle cx="89.4" cy="149.0" r="2.3" fill="url(#gG)"/><circle cx="168.1" cy="135.4" r="2.4" fill="url(#gT)"/><circle cx="6.6" cy="145.4" r="1.9" fill="url(#gT)"/><circle cx="142.7" cy="191.8" r="2.4" fill="url(#gT)"/><circle cx="27.2" cy="104.7" r="2.3" fill="url(#gG)"/><circle cx="225.4" cy="110.6" r="2.7" fill="url(#gP)"/><circle cx="25.3" cy="155.6" r="2.3" fill="url(#gG)"/><circle cx="124.7" cy="23.5" r="2.6" fill="url(#gR)"/><circle cx="214.0" cy="174.9" r="2.4" fill="url(#gT)"/><circle cx="255.6" cy="165.4" r="2.4" fill="url(#gT)"/><circle cx="275.7" cy="61.2" r="2.4" fill="url(#gT)"/><circle cx="305.8" cy="54.7" r="3" fill="url(#gY)"/><circle cx="261.2" cy="122.6" r="2.6" fill="url(#gR)"/><circle cx="250.2" cy="166.3" r="2.4" fill="url(#gT)"/><circle cx="166.4" cy="68.7" r="2.4" fill="url(#gT)"/><circle cx="240.4" cy="89.6" r="2.4" fill="url(#gT)"/><circle cx="288.2" cy="58.4" r="3" fill="url(#gY)"/><circle cx="14.6" cy="5.8" r="1.9" fill="url(#gT)"/><circle cx="110.4" cy="186.9" r="2.4" fill="url(#gT)"/><circle cx="267.6" cy="15.4" r="2.6" fill="url(#gR)"/><circle cx="108.9" cy="129.7" r="2.4" fill="url(#gT)"/><circle cx="302.8" cy="184.0" r="3" fill="url(#gY)"/><circle cx="232.4" cy="108.0" r="2.4" fill="url(#gT)"/><circle cx="185.2" cy="69.5" r="2.4" fill="url(#gT)"/><circle cx="66.3" cy="49.8" r="2.3" fill="url(#gG)"/><circle cx="277.0" cy="100.7" r="2.4" fill="url(#gT)"/><circle cx="15.1" cy="77.9" r="2.3" fill="url(#gG)"/><circle cx="87.1" cy="26.9" r="2.3" fill="url(#gG)"/><circle cx="357.3" cy="65.8" r="3" fill="url(#gY)"/><circle cx="323.8" cy="93.9" r="3" fill="url(#gY)"/><circle cx="51.2" cy="88.0" r="2.3" fill="url(#gG)"/><circle cx="89.8" cy="30.0" r="2.3" fill="url(#gG)"/><circle cx="205.5" cy="160.9" r="2.4" fill="url(#gT)"/><circle cx="251.2" cy="173.2" r="2.7" fill="url(#gP)"/><circle cx="162.5" cy="59.3" r="2.4" fill="url(#gT)"/><circle cx="150.9" cy="174.2" r="2.4" fill="url(#gT)"/><circle cx="325.0" cy="75.8" r="3" fill="url(#gY)"/><circle cx="40.5" cy="16.9" r="2.3" fill="url(#gG)"/><circle cx="174.8" cy="148.8" r="2.4" fill="url(#gT)"/><circle cx="99.4" cy="172.6" r="2.4" fill="url(#gT)"/><circle cx="60.7" cy="98.2" r="2.3" fill="url(#gG)"/><circle cx="180.4" cy="72.8" r="2.6" fill="url(#gR)"/><circle cx="34.6" cy="77.9" r="2.3" fill="url(#gG)"/><circle cx="275.0" cy="140.5" r="2.6" fill="url(#gR)"/><circle cx="315.2" cy="176.9" r="3" fill="url(#gY)"/><circle cx="271.5" cy="123.1" r="2.4" fill="url(#gT)"/><circle cx="343.9" cy="15.3" r="3" fill="url(#gY)"/><circle cx="140.2" cy="51.2" r="2.4" fill="url(#gT)"/><circle cx="209.5" cy="94.7" r="2.4" fill="url(#gT)"/><circle cx="104.7" cy="155.5" r="2.4" fill="url(#gT)"/><circle cx="36.6" cy="17.5" r="2.3" fill="url(#gG)"/><circle cx="45.0" cy="120.0" r="2.6" fill="url(#gP)"/><circle cx="194.6" cy="166.8" r="2.4" fill="url(#gT)"/><circle cx="210.7" cy="188.3" r="2.6" fill="url(#gR)"/><circle cx="95.6" cy="14.1" r="2.3" fill="url(#gG)"/><circle cx="66.8" cy="174.8" r="2.3" fill="url(#gG)"/><circle cx="259.6" cy="92.6" r="2.4" fill="url(#gT)"/><circle cx="291.2" cy="186.3" r="3" fill="url(#gY)"/><circle cx="79.6" cy="145.5" r="2.3" fill="url(#gG)"/><circle cx="243.7" cy="164.4" r="2.4" fill="url(#gT)"/><circle cx="191.3" cy="112.1" r="2.6" fill="url(#gR)"/><circle cx="250.6" cy="121.5" r="2.6" fill="url(#gR)"/><circle cx="198.8" cy="78.3" r="2.4" fill="url(#gT)"/><circle cx="106.1" cy="126.8" r="2.6" fill="url(#gR)"/><circle cx="243.5" cy="54.9" r="2.4" fill="url(#gT)"/><circle cx="206.1" cy="24.9" r="2.4" fill="url(#gT)"/><circle cx="239.0" cy="122.9" r="2.4" fill="url(#gT)"/><circle cx="290.4" cy="17.1" r="3" fill="url(#gY)"/><circle cx="6.6" cy="17.9" r="1.9" fill="url(#gT)"/><circle cx="209.3" cy="26.3" r="2.4" fill="url(#gT)"/><circle cx="240.2" cy="44.0" r="2.4" fill="url(#gT)"/><circle cx="61.0" cy="26.7" r="2.3" fill="url(#gG)"/><circle cx="48.1" cy="43.5" r="2.3" fill="url(#gG)"/><circle cx="91.2" cy="33.7" r="2.3" fill="url(#gG)"/><circle cx="104.6" cy="2.2" r="2.6" fill="url(#gR)"/><circle cx="74.8" cy="49.9" r="2.3" fill="url(#gG)"/><circle cx="257.0" cy="67.9" r="2.4" fill="url(#gT)"/><circle cx="97.0" cy="121.0" r="2.6" fill="url(#gP)"/><circle cx="122.3" cy="67.3" r="2.4" fill="url(#gT)"/><circle cx="241.2" cy="22.8" r="2.4" fill="url(#gT)"/><circle cx="214.9" cy="36.4" r="2.4" fill="url(#gT)"/><circle cx="276.5" cy="175.1" r="3" fill="url(#gY)"/><circle cx="239.2" cy="144.4" r="2.4" fill="url(#gT)"/><circle cx="302.4" cy="169.0" r="3" fill="url(#gY)"/><circle cx="296.5" cy="30.0" r="3" fill="url(#gY)"/><circle cx="40.6" cy="43.1" r="2.3" fill="url(#gG)"/><circle cx="81.6" cy="30.0" r="2.3" fill="url(#gG)"/><circle cx="179.1" cy="65.9" r="2.4" fill="url(#gT)"/><circle cx="293.0" cy="101.9" r="3" fill="url(#gY)"/><circle cx="323.0" cy="13.4" r="3" fill="url(#gY)"/><circle cx="276.6" cy="96.7" r="2.6" fill="url(#gR)"/><circle cx="28.5" cy="90.9" r="2.5" fill="url(#gP)"/><circle cx="263.4" cy="52.4" r="2.4" fill="url(#gT)"/><circle cx="171.0" cy="109.9" r="2.4" fill="url(#gT)"/><circle cx="45.7" cy="53.6" r="2.3" fill="url(#gG)"/><circle cx="43.8" cy="11.0" r="2.3" fill="url(#gG)"/><circle cx="317.0" cy="56.3" r="3" fill="url(#gY)"/><circle cx="61.2" cy="46.6" r="2.3" fill="url(#gG)"/><circle cx="296.7" cy="22.2" r="3" fill="url(#gY)"/><circle cx="264.6" cy="27.1" r="2.4" fill="url(#gT)"/><circle cx="32.2" cy="128.6" r="2.3" fill="url(#gG)"/><circle cx="43.4" cy="101.1" r="2.3" fill="url(#gG)"/><circle cx="331.9" cy="17.6" r="3" fill="url(#gY)"/><circle cx="296.2" cy="33.2" r="3" fill="url(#gY)"/><circle cx="83.7" cy="139.1" r="2.3" fill="url(#gG)"/><circle cx="174.8" cy="151.5" r="2.4" fill="url(#gT)"/><circle cx="288.2" cy="56.1" r="3" fill="url(#gY)"/><circle cx="37.6" cy="164.9" r="2.5" fill="url(#gP)"/><circle cx="300.4" cy="157.6" r="3" fill="url(#gY)"/><circle cx="24.4" cy="88.5" r="2.3" fill="url(#gG)"/><circle cx="177.9" cy="101.3" r="2.6" fill="url(#gR)"/><circle cx="173.6" cy="25.3" r="2.6" fill="url(#gR)"/><circle cx="121.6" cy="59.3" r="2.8" fill="url(#gP)"/><circle cx="80.2" cy="158.7" r="2.3" fill="url(#gG)"/><circle cx="138.2" cy="98.2" r="2.4" fill="url(#gT)"/><circle cx="47.3" cy="101.4" r="2.3" fill="url(#gG)"/><circle cx="265.7" cy="72.8" r="2.4" fill="url(#gT)"/><circle cx="148.7" cy="108.5" r="2.4" fill="url(#gT)"/><circle cx="326.7" cy="18.6" r="3" fill="url(#gY)"/><circle cx="275.7" cy="38.8" r="2.4" fill="url(#gT)"/><circle cx="26.7" cy="91.4" r="2.3" fill="url(#gG)"/><circle cx="124.9" cy="91.6" r="2.4" fill="url(#gT)"/><circle cx="175.9" cy="185.9" r="2.4" fill="url(#gT)"/><circle cx="34.3" cy="158.9" r="2.3" fill="url(#gG)"/><circle cx="264.1" cy="46.8" r="2.4" fill="url(#gT)"/><circle cx="343.0" cy="116.1" r="3" fill="url(#gY)"/><circle cx="160.9" cy="115.8" r="2.4" fill="url(#gT)"/><circle cx="226.7" cy="104.3" r="2.4" fill="url(#gT)"/><circle cx="350.4" cy="98.0" r="3" fill="url(#gY)"/><circle cx="50.0" cy="3.0" r="2.6" fill="url(#gP)"/><circle cx="132.2" cy="36.2" r="2.8" fill="url(#gP)"/><circle cx="159.5" cy="107.5" r="2.4" fill="url(#gT)"/><circle cx="219.5" cy="114.1" r="2.4" fill="url(#gT)"/><circle cx="279.3" cy="110.3" r="2.4" fill="url(#gT)"/><circle cx="187.3" cy="97.9" r="2.4" fill="url(#gT)"/><circle cx="306.2" cy="31.9" r="3" fill="url(#gY)"/><circle cx="265.9" cy="169.7" r="2.6" fill="url(#gR)"/><circle cx="238.1" cy="111.2" r="2.4" fill="url(#gT)"/><circle cx="204.9" cy="86.1" r="2.4" fill="url(#gT)"/><circle cx="270.5" cy="18.1" r="2.4" fill="url(#gT)"/><circle cx="197.7" cy="63.6" r="2.6" fill="url(#gR)"/><circle cx="363.6" cy="21.5" r="3" fill="url(#gY)"/><circle cx="278.1" cy="81.6" r="3" fill="url(#gY)"/><circle cx="126.2" cy="76.8" r="2.4" fill="url(#gT)"/><circle cx="54.8" cy="10.6" r="2.3" fill="url(#gG)"/><circle cx="341.5" cy="164.6" r="3" fill="url(#gY)"/><circle cx="327.6" cy="49.5" r="3" fill="url(#gY)"/><circle cx="245.1" cy="176.9" r="2.4" fill="url(#gT)"/><circle cx="263.8" cy="149.2" r="2.4" fill="url(#gT)"/><circle cx="47.3" cy="10.9" r="2.3" fill="url(#gG)"/><circle cx="103.1" cy="76.1" r="2.4" fill="url(#gT)"/><circle cx="120.3" cy="133.0" r="2.4" fill="url(#gT)"/><circle cx="72.1" cy="52.9" r="2.3" fill="url(#gG)"/><circle cx="322.0" cy="184.0" r="3" fill="url(#gY)"/><circle cx="68.2" cy="132.3" r="2.3" fill="url(#gG)"/><circle cx="211.2" cy="91.7" r="2.4" fill="url(#gT)"/><circle cx="208.0" cy="177.2" r="2.6" fill="url(#gR)"/><circle cx="107.9" cy="164.6" r="2.4" fill="url(#gT)"/><circle cx="147.4" cy="83.0" r="2.4" fill="url(#gT)"/><circle cx="187.1" cy="73.5" r="2.6" fill="url(#gR)"/><circle cx="170.8" cy="130.6" r="2.4" fill="url(#gT)"/><circle cx="73.8" cy="175.0" r="2.3" fill="url(#gG)"/><circle cx="202.2" cy="8.5" r="2.4" fill="url(#gT)"/><circle cx="51.3" cy="81.8" r="2.3" fill="url(#gG)"/><circle cx="61.2" cy="33.6" r="2.3" fill="url(#gG)"/><circle cx="257.5" cy="78.0" r="2.4" fill="url(#gT)"/><circle cx="159.9" cy="11.3" r="2.4" fill="url(#gT)"/><circle cx="98.4" cy="64.2" r="2.4" fill="url(#gT)"/><circle cx="281.0" cy="18.8" r="3" fill="url(#gY)"/><circle cx="23.5" cy="77.8" r="2.3" fill="url(#gG)"/><circle cx="138.4" cy="143.3" r="2.8" fill="url(#gP)"/><circle cx="206.4" cy="96.0" r="2.4" fill="url(#gT)"/><circle cx="142.8" cy="145.6" r="2.4" fill="url(#gT)"/><circle cx="193.7" cy="158.2" r="2.4" fill="url(#gT)"/><circle cx="145.6" cy="51.9" r="2.4" fill="url(#gT)"/><circle cx="222.9" cy="142.1" r="2.4" fill="url(#gT)"/><circle cx="277.1" cy="51.7" r="3" fill="url(#gY)"/><circle cx="183.4" cy="192.7" r="2.6" fill="url(#gR)"/><circle cx="271.3" cy="14.2" r="2.6" fill="url(#gR)"/><circle cx="123.0" cy="36.7" r="2.8" fill="url(#gP)"/><circle cx="204.2" cy="164.1" r="2.4" fill="url(#gT)"/><circle cx="283.5" cy="98.2" r="3" fill="url(#gY)"/><circle cx="161.8" cy="139.6" r="2.4" fill="url(#gT)"/><circle cx="93.6" cy="10.4" r="2.3" fill="url(#gG)"/><circle cx="160.0" cy="24.1" r="2.4" fill="url(#gT)"/><circle cx="315.3" cy="70.2" r="3" fill="url(#gY)"/><circle cx="81.8" cy="75.0" r="2.3" fill="url(#gG)"/><circle cx="274.2" cy="35.6" r="2.4" fill="url(#gT)"/><circle cx="115.9" cy="169.4" r="2.4" fill="url(#gT)"/><circle cx="16.8" cy="142.4" r="2.3" fill="url(#gG)"/><circle cx="108.9" cy="124.8" r="2.4" fill="url(#gT)"/><circle cx="208.3" cy="48.3" r="2.4" fill="url(#gT)"/><circle cx="93.5" cy="43.9" r="2.3" fill="url(#gG)"/><circle cx="265.1" cy="56.0" r="2.4" fill="url(#gT)"/><circle cx="153.2" cy="85.4" r="2.4" fill="url(#gT)"/><circle cx="287.6" cy="25.3" r="3" fill="url(#gY)"/><circle cx="86.1" cy="168.5" r="2.3" fill="url(#gG)"/><circle cx="227.7" cy="94.1" r="2.4" fill="url(#gT)"/><circle cx="13.8" cy="88.7" r="2.3" fill="url(#gG)"/><circle cx="282.4" cy="55.5" r="3" fill="url(#gY)"/><circle cx="315.2" cy="95.4" r="3" fill="url(#gY)"/><circle cx="70.1" cy="10.8" r="2.3" fill="url(#gG)"/><circle cx="53.3" cy="145.7" r="2.3" fill="url(#gG)"/><circle cx="281.0" cy="60.9" r="3" fill="url(#gY)"/><circle cx="185.2" cy="163.4" r="2.4" fill="url(#gT)"/><circle cx="208.5" cy="52.6" r="2.6" fill="url(#gR)"/><circle cx="179.6" cy="53.8" r="2.4" fill="url(#gT)"/><circle cx="24.8" cy="74.5" r="2.3" fill="url(#gG)"/><circle cx="153.6" cy="126.1" r="2.4" fill="url(#gT)"/><circle cx="132.3" cy="5.5" r="2.4" fill="url(#gT)"/><circle cx="154.5" cy="13.1" r="2.4" fill="url(#gT)"/><circle cx="202.8" cy="122.3" r="2.6" fill="url(#gR)"/><circle cx="19.5" cy="185.1" r="2.3" fill="url(#gG)"/><circle cx="221.2" cy="92.0" r="2.6" fill="url(#gR)"/><circle cx="112.9" cy="105.3" r="2.4" fill="url(#gT)"/><circle cx="227.3" cy="136.8" r="2.6" fill="url(#gR)"/><circle cx="96.0" cy="148.1" r="2.4" fill="url(#gT)"/><circle cx="21.1" cy="148.9" r="2.3" fill="url(#gG)"/><circle cx="145.1" cy="191.9" r="2.6" fill="url(#gR)"/><circle cx="293.9" cy="71.3" r="3" fill="url(#gY)"/><circle cx="41.9" cy="78.5" r="2.3" fill="url(#gG)"/><circle cx="319.1" cy="145.7" r="3" fill="url(#gY)"/><circle cx="248.5" cy="37.3" r="2.6" fill="url(#gR)"/><circle cx="327.7" cy="128.3" r="3" fill="url(#gY)"/><circle cx="235.2" cy="130.2" r="2.6" fill="url(#gR)"/><circle cx="295.3" cy="165.6" r="3" fill="url(#gY)"/><circle cx="59.2" cy="175.6" r="2.3" fill="url(#gG)"/><circle cx="256.4" cy="69.5" r="2.4" fill="url(#gT)"/><circle cx="109.4" cy="112.6" r="2.4" fill="url(#gT)"/><circle cx="255.7" cy="117.6" r="2.4" fill="url(#gT)"/><circle cx="233.5" cy="141.1" r="2.4" fill="url(#gT)"/><circle cx="85.3" cy="174.8" r="2.3" fill="url(#gG)"/><circle cx="151.5" cy="86.8" r="2.4" fill="url(#gT)"/><circle cx="158.5" cy="83.5" r="2.4" fill="url(#gT)"/><circle cx="234.0" cy="16.7" r="2.4" fill="url(#gT)"/><circle cx="249.5" cy="58.3" r="2.6" fill="url(#gR)"/><circle cx="149.6" cy="66.1" r="2.4" fill="url(#gT)"/><circle cx="107.0" cy="186.1" r="2.4" fill="url(#gT)"/><circle cx="357.0" cy="172.9" r="3" fill="url(#gY)"/><circle cx="121.3" cy="77.0" r="2.8" fill="url(#gP)"/><circle cx="238.4" cy="98.1" r="2.6" fill="url(#gR)"/><circle cx="131.1" cy="142.7" r="2.8" fill="url(#gP)"/><circle cx="174.8" cy="17.6" r="2.6" fill="url(#gR)"/><circle cx="89.3" cy="43.6" r="2.3" fill="url(#gG)"/><circle cx="311.2" cy="164.3" r="3" fill="url(#gY)"/><circle cx="273.9" cy="175.1" r="2.4" fill="url(#gT)"/><circle cx="290.8" cy="53.3" r="3" fill="url(#gY)"/><circle cx="28.6" cy="17.6" r="2.3" fill="url(#gG)"/><circle cx="48.2" cy="154.9" r="2.3" fill="url(#gG)"/><circle cx="149.0" cy="71.0" r="2.4" fill="url(#gT)"/><circle cx="290.1" cy="131.9" r="3" fill="url(#gY)"/><circle cx="97.1" cy="101.0" r="2.3" fill="url(#gG)"/><circle cx="229.9" cy="22.9" r="2.4" fill="url(#gT)"/><circle cx="77.5" cy="15.2" r="2.5" fill="url(#gP)"/><circle cx="97.1" cy="17.1" r="2.3" fill="url(#gG)"/><circle cx="170.8" cy="91.1" r="2.7" fill="url(#gP)"/><circle cx="134.7" cy="27.4" r="2.4" fill="url(#gT)"/><circle cx="175.5" cy="56.2" r="2.4" fill="url(#gT)"/><circle cx="227.3" cy="31.5" r="2.4" fill="url(#gT)"/><circle cx="119.3" cy="-2.1" r="2.4" fill="url(#gT)"/><circle cx="68.2" cy="171.7" r="2.3" fill="url(#gG)"/><circle cx="47.3" cy="174.9" r="2.3" fill="url(#gG)"/><circle cx="165.8" cy="36.4" r="2.4" fill="url(#gT)"/><circle cx="230.2" cy="188.2" r="2.4" fill="url(#gT)"/><circle cx="174.5" cy="76.4" r="2.4" fill="url(#gT)"/><circle cx="171.3" cy="134.1" r="2.4" fill="url(#gT)"/><circle cx="38.2" cy="111.0" r="2.3" fill="url(#gG)"/><circle cx="327.6" cy="6.7" r="3" fill="url(#gY)"/><circle cx="298.1" cy="126.0" r="3" fill="url(#gY)"/><circle cx="250.4" cy="138.8" r="2.4" fill="url(#gT)"/><circle cx="196.9" cy="147.6" r="2.4" fill="url(#gT)"/><circle cx="224.2" cy="67.0" r="2.4" fill="url(#gT)"/><circle cx="201.7" cy="63.7" r="2.4" fill="url(#gT)"/><circle cx="308.1" cy="133.3" r="3" fill="url(#gY)"/><circle cx="180.8" cy="19.4" r="2.4" fill="url(#gT)"/><circle cx="247.6" cy="105.3" r="2.6" fill="url(#gR)"/><circle cx="359.9" cy="161.9" r="3" fill="url(#gY)"/><circle cx="267.7" cy="185.2" r="2.4" fill="url(#gT)"/><circle cx="24.8" cy="135.7" r="2.3" fill="url(#gG)"/><circle cx="71.9" cy="26.6" r="2.3" fill="url(#gG)"/><circle cx="276.8" cy="4.5" r="2.4" fill="url(#gT)"/><circle cx="115.4" cy="65.4" r="2.8" fill="url(#gP)"/><circle cx="121.8" cy="157.0" r="2.4" fill="url(#gT)"/><circle cx="251.9" cy="11.4" r="2.6" fill="url(#gR)"/><circle cx="266.8" cy="59.0" r="2.4" fill="url(#gT)"/><circle cx="275.5" cy="181.8" r="2.6" fill="url(#gR)"/><circle cx="246.3" cy="188.8" r="2.4" fill="url(#gT)"/><circle cx="39.9" cy="107.6" r="2.3" fill="url(#gG)"/><circle cx="168.4" cy="61.2" r="2.4" fill="url(#gT)"/><circle cx="179.4" cy="145.0" r="2.4" fill="url(#gT)"/><circle cx="148.3" cy="14.7" r="2.4" fill="url(#gT)"/><circle cx="129.0" cy="83.2" r="2.4" fill="url(#gT)"/><circle cx="336.7" cy="162.3" r="3" fill="url(#gY)"/><circle cx="42.3" cy="152.2" r="2.3" fill="url(#gG)"/><circle cx="211.5" cy="149.3" r="2.6" fill="url(#gR)"/><circle cx="118.3" cy="3.8" r="2.4" fill="url(#gT)"/><circle cx="112.1" cy="105.4" r="2.6" fill="url(#gR)"/><circle cx="223.1" cy="13.6" r="2.4" fill="url(#gT)"/><circle cx="148.5" cy="67.6" r="2.4" fill="url(#gT)"/><circle cx="273.2" cy="20.4" r="2.4" fill="url(#gT)"/><circle cx="241.0" cy="56.0" r="2.6" fill="url(#gR)"/><circle cx="186.8" cy="40.1" r="2.6" fill="url(#gR)"/><circle cx="338.5" cy="109.3" r="3" fill="url(#gY)"/><circle cx="322.8" cy="55.7" r="3" fill="url(#gY)"/><circle cx="66.3" cy="181.6" r="2.3" fill="url(#gG)"/><circle cx="13.5" cy="37.2" r="2.3" fill="url(#gG)"/><circle cx="251.5" cy="117.6" r="2.4" fill="url(#gT)"/><circle cx="38.4" cy="185.4" r="2.3" fill="url(#gG)"/><circle cx="58.9" cy="17.5" r="2.3" fill="url(#gG)"/><circle cx="13.8" cy="81.4" r="2.3" fill="url(#gG)"/><circle cx="67.0" cy="149.0" r="2.3" fill="url(#gG)"/><circle cx="226.6" cy="78.4" r="2.4" fill="url(#gT)"/><circle cx="209.5" cy="68.9" r="2.4" fill="url(#gT)"/><circle cx="70.4" cy="175.2" r="2.3" fill="url(#gG)"/><circle cx="328.1" cy="111.2" r="3" fill="url(#gY)"/><circle cx="160.7" cy="177.8" r="2.6" fill="url(#gR)"/><circle cx="115.6" cy="52.9" r="2.4" fill="url(#gT)"/><circle cx="89.6" cy="50.5" r="2.3" fill="url(#gG)"/><circle cx="146.5" cy="87.1" r="2.4" fill="url(#gT)"/><circle cx="303.4" cy="20.5" r="3" fill="url(#gY)"/><circle cx="81.8" cy="142.2" r="2.3" fill="url(#gG)"/><circle cx="38.1" cy="179.0" r="2.3" fill="url(#gG)"/><circle cx="74.2" cy="88.6" r="2.3" fill="url(#gG)"/><circle cx="231.3" cy="99.3" r="2.6" fill="url(#gR)"/><circle cx="190.4" cy="95.4" r="2.4" fill="url(#gT)"/><circle cx="79.8" cy="172.4" r="2.3" fill="url(#gG)"/><circle cx="118.8" cy="173.7" r="2.6" fill="url(#gR)"/><circle cx="70.6" cy="148.3" r="2.3" fill="url(#gG)"/><circle cx="33.9" cy="13.4" r="2.3" fill="url(#gG)"/><circle cx="253.9" cy="97.2" r="2.4" fill="url(#gT)"/><circle cx="143.7" cy="95.6" r="2.4" fill="url(#gT)"/><circle cx="100.0" cy="90.0" r="2.6" fill="url(#gP)"/><circle cx="93.8" cy="88.3" r="2.3" fill="url(#gG)"/><circle cx="77.7" cy="107.6" r="2.3" fill="url(#gG)"/><circle cx="65.2" cy="47.1" r="2.3" fill="url(#gG)"/><circle cx="133.2" cy="19.3" r="2.6" fill="url(#gR)"/><circle cx="297.8" cy="36.7" r="3" fill="url(#gY)"/><circle cx="169.6" cy="123.6" r="2.4" fill="url(#gT)"/><circle cx="84.1" cy="171.8" r="2.3" fill="url(#gG)"/><circle cx="271.1" cy="118.4" r="2.4" fill="url(#gT)"/><circle cx="328.7" cy="83.5" r="3" fill="url(#gY)"/><circle cx="6.6" cy="14.2" r="1.9" fill="url(#gT)"/><circle cx="139.2" cy="191.3" r="2.4" fill="url(#gT)"/><circle cx="207.2" cy="147.4" r="2.4" fill="url(#gT)"/><circle cx="327.6" cy="58.6" r="3" fill="url(#gY)"/><circle cx="243.9" cy="58.4" r="2.4" fill="url(#gT)"/><circle cx="263.7" cy="37.8" r="2.4" fill="url(#gT)"/><circle cx="177.0" cy="56.1" r="2.4" fill="url(#gT)"/><circle cx="180.5" cy="69.1" r="2.4" fill="url(#gT)"/><circle cx="274.6" cy="149.1" r="2.4" fill="url(#gT)"/><circle cx="95.0" cy="53.1" r="2.3" fill="url(#gG)"/><circle cx="43.6" cy="95.3" r="2.3" fill="url(#gG)"/><circle cx="356.6" cy="83.8" r="3" fill="url(#gY)"/><circle cx="27.1" cy="84.9" r="2.3" fill="url(#gG)"/><circle cx="147.5" cy="166.9" r="2.4" fill="url(#gT)"/><circle cx="310.3" cy="51.2" r="3" fill="url(#gY)"/><circle cx="227.8" cy="132.4" r="2.6" fill="url(#gR)"/><circle cx="42.4" cy="184.7" r="2.3" fill="url(#gG)"/><circle cx="307.4" cy="119.4" r="3" fill="url(#gY)"/><circle cx="346.2" cy="172.8" r="3" fill="url(#gY)"/><circle cx="353.4" cy="124.2" r="3" fill="url(#gY)"/><circle cx="173.4" cy="130.3" r="2.6" fill="url(#gR)"/><circle cx="39.8" cy="101.5" r="2.3" fill="url(#gG)"/><circle cx="157.5" cy="109.1" r="2.4" fill="url(#gT)"/><circle cx="41.6" cy="91.3" r="2.3" fill="url(#gG)"/><circle cx="139.4" cy="94.7" r="2.4" fill="url(#gT)"/><circle cx="77.9" cy="43.2" r="2.3" fill="url(#gG)"/><circle cx="358.8" cy="167.5" r="3" fill="url(#gY)"/><circle cx="249.8" cy="21.3" r="2.4" fill="url(#gT)"/><circle cx="59.6" cy="74.6" r="2.3" fill="url(#gG)"/><circle cx="267.4" cy="60.7" r="2.4" fill="url(#gT)"/><circle cx="68.9" cy="91.1" r="2.3" fill="url(#gG)"/><circle cx="309.6" cy="23.6" r="3" fill="url(#gY)"/><circle cx="179.8" cy="91.1" r="2.4" fill="url(#gT)"/><circle cx="62.5" cy="30.2" r="2.3" fill="url(#gG)"/><circle cx="151.6" cy="106.6" r="2.4" fill="url(#gT)"/><circle cx="96.8" cy="165.3" r="2.4" fill="url(#gT)"/><circle cx="277.6" cy="3.1" r="3" fill="url(#gY)"/><circle cx="225.5" cy="34.7" r="2.4" fill="url(#gT)"/><circle cx="275.8" cy="141.1" r="2.4" fill="url(#gT)"/><circle cx="15.0" cy="53.5" r="2.3" fill="url(#gG)"/><circle cx="363.1" cy="160.0" r="3" fill="url(#gY)"/><circle cx="205.6" cy="153.8" r="2.6" fill="url(#gR)"/><circle cx="287.9" cy="164.7" r="3" fill="url(#gY)"/><circle cx="333.0" cy="157.8" r="3" fill="url(#gY)"/><circle cx="187.6" cy="123.4" r="2.4" fill="url(#gT)"/><circle cx="61.2" cy="91.6" r="2.3" fill="url(#gG)"/><circle cx="217.2" cy="46.4" r="2.6" fill="url(#gR)"/><circle cx="83.8" cy="110.9" r="2.3" fill="url(#gG)"/><circle cx="34.3" cy="84.8" r="2.3" fill="url(#gG)"/><circle cx="352.8" cy="75.5" r="3" fill="url(#gY)"/><circle cx="61.2" cy="84.9" r="2.3" fill="url(#gG)"/><circle cx="191.6" cy="0.1" r="2.4" fill="url(#gT)"/><circle cx="337.6" cy="115.5" r="3" fill="url(#gY)"/><circle cx="249.4" cy="28.5" r="2.6" fill="url(#gR)"/><circle cx="317.1" cy="126.8" r="3" fill="url(#gY)"/><circle cx="239.8" cy="71.1" r="2.4" fill="url(#gT)"/><circle cx="135.4" cy="167.0" r="2.8" fill="url(#gP)"/><circle cx="6.6" cy="32.9" r="1.9" fill="url(#gT)"/><circle cx="262.8" cy="84.1" r="2.4" fill="url(#gT)"/><circle cx="52.0" cy="161.8" r="2.3" fill="url(#gG)"/><circle cx="107.6" cy="-0.7" r="2.4" fill="url(#gT)"/><circle cx="168.7" cy="17.3" r="2.4" fill="url(#gT)"/><circle cx="176.9" cy="154.3" r="2.4" fill="url(#gT)"/><circle cx="70.8" cy="74.6" r="2.3" fill="url(#gG)"/><circle cx="197.0" cy="23.2" r="2.4" fill="url(#gT)"/><circle cx="321.8" cy="68.9" r="3" fill="url(#gY)"/><circle cx="351.5" cy="57.3" r="3" fill="url(#gY)"/><circle cx="227.4" cy="132.8" r="2.4" fill="url(#gT)"/><circle cx="87.8" cy="104.9" r="2.3" fill="url(#gG)"/><circle cx="99.1" cy="1.7" r="2.8" fill="url(#gP)"/><circle cx="110.6" cy="4.4" r="2.4" fill="url(#gT)"/><circle cx="6.6" cy="70.4" r="1.9" fill="url(#gT)"/><circle cx="243.7" cy="73.0" r="2.4" fill="url(#gT)"/><circle cx="60.9" cy="53.0" r="2.3" fill="url(#gG)"/><circle cx="181.3" cy="5.5" r="2.6" fill="url(#gR)"/><circle cx="30.9" cy="132.8" r="2.3" fill="url(#gG)"/><circle cx="6.6" cy="126.7" r="1.9" fill="url(#gT)"/><circle cx="63.0" cy="17.3" r="2.3" fill="url(#gG)"/><circle cx="165.4" cy="7.2" r="2.6" fill="url(#gR)"/><circle cx="299.5" cy="94.3" r="3" fill="url(#gY)"/><circle cx="178.9" cy="184.1" r="2.4" fill="url(#gT)"/><circle cx="134.5" cy="66.8" r="2.4" fill="url(#gT)"/><circle cx="360.9" cy="36.6" r="3" fill="url(#gY)"/><circle cx="264.3" cy="109.6" r="2.4" fill="url(#gT)"/><circle cx="270.1" cy="71.5" r="2.4" fill="url(#gT)"/><circle cx="64.5" cy="82.8" r="2.5" fill="url(#gP)"/><circle cx="17.1" cy="17.5" r="2.3" fill="url(#gG)"/><circle cx="139.5" cy="124.9" r="2.4" fill="url(#gT)"/><circle cx="166.5" cy="151.2" r="2.4" fill="url(#gT)"/><circle cx="16.9" cy="26.3" r="2.5" fill="url(#gP)"/><circle cx="38.4" cy="33.2" r="2.3" fill="url(#gG)"/><circle cx="17.3" cy="148.7" r="2.3" fill="url(#gG)"/><circle cx="319.7" cy="84.9" r="3" fill="url(#gY)"/><circle cx="202.5" cy="12.4" r="2.4" fill="url(#gT)"/><circle cx="97.0" cy="3.0" r="2.6" fill="url(#gP)"/><circle cx="113.0" cy="167.4" r="2.4" fill="url(#gT)"/><circle cx="80.4" cy="84.6" r="2.3" fill="url(#gG)"/><circle cx="217.9" cy="163.9" r="2.4" fill="url(#gT)"/><circle cx="193.1" cy="143.5" r="2.4" fill="url(#gT)"/><circle cx="328.5" cy="140.5" r="3" fill="url(#gY)"/><circle cx="157.4" cy="63.6" r="2.4" fill="url(#gT)"/><circle cx="219.4" cy="74.2" r="2.6" fill="url(#gR)"/><circle cx="234.6" cy="181.8" r="2.4" fill="url(#gT)"/><circle cx="36.2" cy="136.0" r="2.3" fill="url(#gG)"/><circle cx="61.2" cy="20.6" r="2.3" fill="url(#gG)"/><circle cx="192.6" cy="120.9" r="2.4" fill="url(#gT)"/><circle cx="226.6" cy="123.6" r="2.4" fill="url(#gT)"/><circle cx="174.3" cy="33.6" r="2.6" fill="url(#gR)"/><circle cx="357.0" cy="91.3" r="3" fill="url(#gY)"/><circle cx="212.2" cy="0.4" r="2.6" fill="url(#gR)"/><circle cx="41.6" cy="132.0" r="2.3" fill="url(#gG)"/><circle cx="54.4" cy="184.1" r="2.5" fill="url(#gP)"/><circle cx="237.9" cy="53.4" r="2.4" fill="url(#gT)"/><circle cx="137.8" cy="44.1" r="2.4" fill="url(#gT)"/><circle cx="210.4" cy="152.7" r="2.4" fill="url(#gT)"/><circle cx="51.3" cy="50.5" r="2.3" fill="url(#gG)"/><circle cx="166.2" cy="99.2" r="2.4" fill="url(#gT)"/><circle cx="32.9" cy="94.8" r="2.3" fill="url(#gG)"/><circle cx="51.2" cy="155.5" r="2.3" fill="url(#gG)"/><circle cx="24.7" cy="108.2" r="2.3" fill="url(#gG)"/><circle cx="274.1" cy="37.1" r="3" fill="url(#gY)"/><circle cx="152.4" cy="34.5" r="2.6" fill="url(#gR)"/><circle cx="155.6" cy="41.8" r="2.4" fill="url(#gT)"/><circle cx="350.8" cy="141.7" r="3" fill="url(#gY)"/><circle cx="237.1" cy="184.2" r="2.4" fill="url(#gT)"/><circle cx="276.9" cy="159.8" r="2.4" fill="url(#gT)"/><circle cx="253.0" cy="104.8" r="2.4" fill="url(#gT)"/><circle cx="298.6" cy="53.7" r="3" fill="url(#gY)"/><circle cx="274.0" cy="138.1" r="2.4" fill="url(#gT)"/><circle cx="208.1" cy="51.8" r="2.4" fill="url(#gT)"/><circle cx="321.8" cy="61.3" r="3" fill="url(#gY)"/><circle cx="6.6" cy="107.9" r="1.9" fill="url(#gT)"/><circle cx="217.1" cy="43.2" r="2.4" fill="url(#gT)"/><circle cx="162.8" cy="152.8" r="2.6" fill="url(#gR)"/><circle cx="131.9" cy="183.6" r="2.4" fill="url(#gT)"/><circle cx="326.5" cy="160.0" r="3" fill="url(#gY)"/><circle cx="287.4" cy="10.5" r="3" fill="url(#gY)"/><circle cx="53.4" cy="98.1" r="2.3" fill="url(#gG)"/><circle cx="67.0" cy="168.6" r="2.3" fill="url(#gG)"/><circle cx="344.9" cy="110.4" r="3" fill="url(#gY)"/><circle cx="19.7" cy="85.3" r="2.3" fill="url(#gG)"/><circle cx="240.4" cy="52.6" r="2.6" fill="url(#gR)"/><circle cx="38.3" cy="13.6" r="2.3" fill="url(#gG)"/><circle cx="32.6" cy="57.0" r="2.3" fill="url(#gG)"/><circle cx="190.5" cy="169.1" r="2.4" fill="url(#gT)"/><circle cx="18.7" cy="13.4" r="2.3" fill="url(#gG)"/><circle cx="199.7" cy="6.2" r="2.4" fill="url(#gT)"/><circle cx="99.0" cy="14.1" r="2.3" fill="url(#gG)"/><circle cx="149.4" cy="154.0" r="2.4" fill="url(#gT)"/><circle cx="297.2" cy="87.6" r="3" fill="url(#gY)"/><circle cx="144.2" cy="165.9" r="2.4" fill="url(#gT)"/><circle cx="83.8" cy="13.3" r="2.3" fill="url(#gG)"/><circle cx="210.2" cy="118.8" r="2.6" fill="url(#gR)"/><circle cx="76.2" cy="139.0" r="2.3" fill="url(#gG)"/><circle cx="61.3" cy="14.2" r="2.3" fill="url(#gG)"/><circle cx="200.2" cy="71.5" r="2.4" fill="url(#gT)"/><circle cx="249.8" cy="106.3" r="2.4" fill="url(#gT)"/><circle cx="150.8" cy="150.3" r="2.4" fill="url(#gT)"/><circle cx="241.1" cy="130.4" r="2.6" fill="url(#gR)"/><circle cx="179.4" cy="87.2" r="2.6" fill="url(#gR)"/><circle cx="21.0" cy="56.3" r="2.3" fill="url(#gG)"/><circle cx="58.8" cy="148.4" r="2.3" fill="url(#gG)"/><circle cx="134.6" cy="127.6" r="2.4" fill="url(#gT)"/><circle cx="6.6" cy="81.7" r="1.9" fill="url(#gT)"/><circle cx="178.0" cy="75.7" r="2.4" fill="url(#gT)"/><circle cx="197.5" cy="137.4" r="2.6" fill="url(#gR)"/><circle cx="51.5" cy="43.5" r="2.3" fill="url(#gG)"/><circle cx="244.9" cy="119.1" r="2.4" fill="url(#gT)"/><circle cx="160.8" cy="80.2" r="2.6" fill="url(#gR)"/><circle cx="95.4" cy="20.7" r="2.3" fill="url(#gG)"/><circle cx="149.1" cy="32.3" r="2.4" fill="url(#gT)"/><circle cx="140.9" cy="97.9" r="2.4" fill="url(#gT)"/><circle cx="205.6" cy="50.0" r="2.6" fill="url(#gR)"/><circle cx="227.4" cy="42.6" r="2.7" fill="url(#gP)"/><circle cx="191.2" cy="98.2" r="2.4" fill="url(#gT)"/><circle cx="303.6" cy="2.0" r="3" fill="url(#gY)"/><circle cx="361.7" cy="12.9" r="3" fill="url(#gY)"/><circle cx="245.0" cy="97.8" r="2.6" fill="url(#gR)"/><circle cx="45.7" cy="151.7" r="2.3" fill="url(#gG)"/><circle cx="356.4" cy="151.1" r="3" fill="url(#gY)"/><circle cx="279.7" cy="42.4" r="3" fill="url(#gY)"/><circle cx="95.5" cy="77.9" r="2.3" fill="url(#gG)"/><circle cx="305.7" cy="161.6" r="3" fill="url(#gY)"/><circle cx="188.4" cy="86.6" r="2.4" fill="url(#gT)"/><circle cx="261.7" cy="16.2" r="2.6" fill="url(#gR)"/><circle cx="197.0" cy="15.1" r="2.4" fill="url(#gT)"/><circle cx="201.6" cy="131.4" r="2.4" fill="url(#gT)"/><circle cx="182.2" cy="165.4" r="2.4" fill="url(#gT)"/><circle cx="82.3" cy="10.5" r="2.3" fill="url(#gG)"/><circle cx="72.5" cy="145.2" r="2.3" fill="url(#gG)"/><circle cx="181.8" cy="46.3" r="2.4" fill="url(#gT)"/><circle cx="254.2" cy="35.2" r="2.4" fill="url(#gT)"/><circle cx="151.1" cy="192.2" r="2.4" fill="url(#gT)"/><circle cx="91.7" cy="13.6" r="2.3" fill="url(#gG)"/><circle cx="122.9" cy="66.1" r="2.4" fill="url(#gT)"/><circle cx="6.6" cy="175.4" r="1.9" fill="url(#gT)"/><circle cx="259.0" cy="126.8" r="2.4" fill="url(#gT)"/><circle cx="234.6" cy="-1.2" r="2.4" fill="url(#gT)"/><circle cx="42.3" cy="33.8" r="2.3" fill="url(#gG)"/><circle cx="285.4" cy="50.0" r="3" fill="url(#gY)"/><circle cx="92.5" cy="148.5" r="2.4" fill="url(#gT)"/><circle cx="88.0" cy="172.0" r="2.3" fill="url(#gG)"/><circle cx="213.6" cy="83.6" r="2.4" fill="url(#gT)"/><circle cx="153.4" cy="56.6" r="2.4" fill="url(#gT)"/><circle cx="111.1" cy="26.3" r="2.8" fill="url(#gP)"/><circle cx="190.0" cy="115.8" r="2.4" fill="url(#gT)"/><circle cx="159.9" cy="136.6" r="2.4" fill="url(#gT)"/><circle cx="286.4" cy="83.6" r="3" fill="url(#gY)"/><circle cx="357.2" cy="59.9" r="3" fill="url(#gY)"/><circle cx="99.5" cy="73.5" r="2.8" fill="url(#gP)"/><circle cx="305.5" cy="178.6" r="3" fill="url(#gY)"/><circle cx="165.4" cy="102.6" r="2.4" fill="url(#gT)"/><circle cx="13.7" cy="50.4" r="2.3" fill="url(#gG)"/><circle cx="190.5" cy="4.0" r="2.4" fill="url(#gT)"/><circle cx="151.8" cy="53.5" r="2.4" fill="url(#gT)"/><circle cx="108.8" cy="13.3" r="2.8" fill="url(#gP)"/><circle cx="354.1" cy="41.3" r="3" fill="url(#gY)"/><circle cx="244.4" cy="173.1" r="2.4" fill="url(#gT)"/><circle cx="102.6" cy="34.1" r="2.4" fill="url(#gT)"/><circle cx="362.8" cy="15.2" r="3" fill="url(#gY)"/><circle cx="70.5" cy="101.0" r="2.3" fill="url(#gG)"/><circle cx="170.6" cy="32.2" r="2.4" fill="url(#gT)"/><circle cx="57.1" cy="152.1" r="2.3" fill="url(#gG)"/><circle cx="282.8" cy="4.7" r="3" fill="url(#gY)"/><circle cx="252.4" cy="40.4" r="2.6" fill="url(#gR)"/><circle cx="30.8" cy="78.6" r="2.3" fill="url(#gG)"/><circle cx="270.9" cy="34.5" r="2.4" fill="url(#gT)"/><circle cx="159.3" cy="101.4" r="2.4" fill="url(#gT)"/><circle cx="263.7" cy="155.7" r="2.4" fill="url(#gT)"/><circle cx="48.1" cy="30.0" r="2.3" fill="url(#gG)"/><circle cx="72.2" cy="84.6" r="2.3" fill="url(#gG)"/><circle cx="327.9" cy="64.2" r="3" fill="url(#gY)"/><circle cx="36.5" cy="88.5" r="2.3" fill="url(#gG)"/><circle cx="178.4" cy="139.0" r="2.6" fill="url(#gR)"/><circle cx="122.7" cy="94.3" r="2.4" fill="url(#gT)"/><circle cx="299.8" cy="115.1" r="3" fill="url(#gY)"/><circle cx="211.0" cy="91.0" r="2.6" fill="url(#gR)"/><circle cx="15.9" cy="184.7" r="2.3" fill="url(#gG)"/><circle cx="25.2" cy="49.6" r="2.3" fill="url(#gG)"/><circle cx="216.3" cy="135.2" r="2.4" fill="url(#gT)"/><circle cx="143.0" cy="87.2" r="2.4" fill="url(#gT)"/><circle cx="187.9" cy="58.0" r="2.4" fill="url(#gT)"/><circle cx="227.3" cy="151.1" r="2.4" fill="url(#gT)"/><circle cx="6.6" cy="85.4" r="1.9" fill="url(#gT)"/><circle cx="50.0" cy="184.6" r="2.3" fill="url(#gG)"/><circle cx="133.7" cy="6.5" r="2.4" fill="url(#gT)"/><circle cx="318.8" cy="178.1" r="3" fill="url(#gY)"/><circle cx="252.1" cy="135.7" r="2.4" fill="url(#gT)"/><circle cx="6.6" cy="160.4" r="1.9" fill="url(#gT)"/><circle cx="170.0" cy="100.4" r="2.6" fill="url(#gR)"/><circle cx="44.0" cy="50.4" r="2.3" fill="url(#gG)"/><circle cx="26.8" cy="111.0" r="2.3" fill="url(#gG)"/><circle cx="108.0" cy="178.1" r="2.8" fill="url(#gP)"/><circle cx="260.1" cy="120.7" r="2.6" fill="url(#gR)"/><circle cx="318.1" cy="11.2" r="3" fill="url(#gY)"/><circle cx="269.3" cy="162.5" r="2.4" fill="url(#gT)"/><circle cx="40.1" cy="155.9" r="2.3" fill="url(#gG)"/><circle cx="218.8" cy="55.5" r="2.4" fill="url(#gT)"/><circle cx="54.9" cy="162.3" r="2.3" fill="url(#gG)"/><circle cx="252.3" cy="134.8" r="2.4" fill="url(#gT)"/><circle cx="68.5" cy="33.8" r="2.3" fill="url(#gG)"/><circle cx="194.3" cy="41.8" r="2.4" fill="url(#gT)"/><circle cx="247.5" cy="108.9" r="2.4" fill="url(#gT)"/><circle cx="280.5" cy="177.4" r="3" fill="url(#gY)"/><circle cx="99.1" cy="84.9" r="2.3" fill="url(#gG)"/><circle cx="49.3" cy="14.1" r="2.3" fill="url(#gG)"/><circle cx="126.2" cy="16.7" r="2.4" fill="url(#gT)"/><circle cx="28.9" cy="87.8" r="2.3" fill="url(#gG)"/><circle cx="57.2" cy="145.1" r="2.3" fill="url(#gG)"/><circle cx="322.3" cy="165.3" r="3" fill="url(#gY)"/><circle cx="194.5" cy="142.6" r="2.6" fill="url(#gR)"/><circle cx="167.0" cy="9.1" r="2.4" fill="url(#gT)"/><circle cx="276.7" cy="91.9" r="2.4" fill="url(#gT)"/><circle cx="217.6" cy="104.4" r="2.4" fill="url(#gT)"/><circle cx="129.6" cy="75.8" r="2.4" fill="url(#gT)"/><circle cx="291.8" cy="33.8" r="3" fill="url(#gY)"/><circle cx="53.2" cy="104.6" r="2.3" fill="url(#gG)"/><circle cx="205.3" cy="98.0" r="2.6" fill="url(#gR)"/><circle cx="263.2" cy="137.7" r="2.4" fill="url(#gT)"/><circle cx="250.7" cy="88.8" r="2.7" fill="url(#gP)"/><circle cx="268.3" cy="121.7" r="2.4" fill="url(#gT)"/><circle cx="28.3" cy="168.8" r="2.3" fill="url(#gG)"/><circle cx="277.6" cy="20.0" r="2.4" fill="url(#gT)"/><circle cx="64.5" cy="132.8" r="2.3" fill="url(#gG)"/><circle cx="246.9" cy="79.2" r="2.4" fill="url(#gT)"/><circle cx="226.1" cy="2.7" r="2.6" fill="url(#gR)"/><circle cx="161.4" cy="166.0" r="2.4" fill="url(#gT)"/><circle cx="187.6" cy="141.4" r="2.4" fill="url(#gT)"/><circle cx="139.4" cy="180.9" r="2.8" fill="url(#gP)"/><circle cx="273.5" cy="129.9" r="3" fill="url(#gY)"/><circle cx="348.0" cy="138.7" r="3" fill="url(#gY)"/><circle cx="65.1" cy="145.8" r="2.3" fill="url(#gG)"/><circle cx="205.2" cy="21.6" r="2.4" fill="url(#gT)"/><circle cx="78.3" cy="30.3" r="2.3" fill="url(#gG)"/><circle cx="149.9" cy="80.8" r="2.4" fill="url(#gT)"/><circle cx="181.2" cy="14.7" r="2.4" fill="url(#gT)"/><circle cx="171.4" cy="188.4" r="2.4" fill="url(#gT)"/><circle cx="69.1" cy="111.1" r="2.3" fill="url(#gG)"/><circle cx="70.1" cy="49.8" r="2.3" fill="url(#gG)"/><circle cx="285.9" cy="44.2" r="3" fill="url(#gY)"/><circle cx="221.9" cy="21.0" r="2.4" fill="url(#gT)"/><circle cx="254.0" cy="106.0" r="2.6" fill="url(#gR)"/><circle cx="108.3" cy="125.7" r="2.6" fill="url(#gR)"/><circle cx="249.6" cy="44.6" r="2.4" fill="url(#gT)"/><circle cx="106.4" cy="127.2" r="2.4" fill="url(#gT)"/><circle cx="59.5" cy="10.4" r="2.3" fill="url(#gG)"/><circle cx="24.5" cy="142.3" r="2.3" fill="url(#gG)"/><circle cx="157.0" cy="177.3" r="2.4" fill="url(#gT)"/><circle cx="193.1" cy="162.0" r="2.4" fill="url(#gT)"/><circle cx="83.6" cy="145.8" r="2.3" fill="url(#gG)"/><circle cx="186.9" cy="36.1" r="2.4" fill="url(#gT)"/><circle cx="142.5" cy="39.2" r="2.4" fill="url(#gT)"/><circle cx="208.3" cy="104.3" r="2.4" fill="url(#gT)"/><circle cx="31.0" cy="91.7" r="2.3" fill="url(#gG)"/><circle cx="24.7" cy="101.0" r="2.3" fill="url(#gG)"/><circle cx="34.1" cy="47.0" r="2.3" fill="url(#gG)"/><circle cx="187.9" cy="88.9" r="2.4" fill="url(#gT)"/><circle cx="259.9" cy="69.8" r="2.4" fill="url(#gT)"/><circle cx="48.2" cy="152.6" r="2.5" fill="url(#gP)"/><circle cx="171.1" cy="186.1" r="2.4" fill="url(#gT)"/><circle cx="34.1" cy="97.9" r="2.3" fill="url(#gG)"/><circle cx="257.7" cy="43.6" r="2.4" fill="url(#gT)"/><circle cx="147.9" cy="69.2" r="2.4" fill="url(#gT)"/><circle cx="273.5" cy="148.7" r="3" fill="url(#gY)"/><circle cx="58.8" cy="142.6" r="2.3" fill="url(#gG)"/><circle cx="174.1" cy="101.6" r="2.4" fill="url(#gT)"/><circle cx="158.3" cy="56.9" r="2.6" fill="url(#gR)"/><circle cx="80.1" cy="98.3" r="2.3" fill="url(#gG)"/><circle cx="302.1" cy="91.5" r="3" fill="url(#gY)"/><circle cx="146.2" cy="98.0" r="2.4" fill="url(#gT)"/><circle cx="360.4" cy="171.0" r="3" fill="url(#gY)"/><circle cx="23.1" cy="84.8" r="2.3" fill="url(#gG)"/><circle cx="242.6" cy="83.3" r="2.4" fill="url(#gT)"/><circle cx="193.8" cy="170.3" r="2.4" fill="url(#gT)"/><circle cx="301.9" cy="105.4" r="3" fill="url(#gY)"/><circle cx="56.8" cy="40.2" r="2.3" fill="url(#gG)"/><circle cx="78.6" cy="128.9" r="2.3" fill="url(#gG)"/><circle cx="165.4" cy="72.0" r="2.6" fill="url(#gR)"/><circle cx="83.5" cy="59.8" r="2.3" fill="url(#gG)"/><circle cx="213.3" cy="52.8" r="2.4" fill="url(#gT)"/><circle cx="219.4" cy="72.4" r="2.4" fill="url(#gT)"/><circle cx="182.9" cy="141.2" r="2.4" fill="url(#gT)"/><circle cx="173.4" cy="105.5" r="2.4" fill="url(#gT)"/><circle cx="85.9" cy="149.3" r="2.3" fill="url(#gG)"/><circle cx="283.1" cy="43.9" r="3" fill="url(#gY)"/><circle cx="305.2" cy="37.5" r="3" fill="url(#gY)"/><circle cx="77.9" cy="101.8" r="2.3" fill="url(#gG)"/><circle cx="212.5" cy="67.1" r="2.4" fill="url(#gT)"/><circle cx="336.9" cy="85.1" r="3" fill="url(#gY)"/><circle cx="40.3" cy="135.7" r="2.3" fill="url(#gG)"/><circle cx="44.1" cy="129.0" r="2.3" fill="url(#gG)"/><circle cx="149.4" cy="4.6" r="2.4" fill="url(#gT)"/><circle cx="55.7" cy="49.8" r="2.3" fill="url(#gG)"/><circle cx="257.1" cy="18.7" r="2.6" fill="url(#gR)"/><circle cx="316.1" cy="110.5" r="3" fill="url(#gY)"/><circle cx="276.3" cy="120.7" r="3" fill="url(#gY)"/><circle cx="108.7" cy="59.4" r="2.6" fill="url(#gR)"/><circle cx="180.5" cy="152.6" r="2.6" fill="url(#gR)"/><circle cx="329.9" cy="167.4" r="3" fill="url(#gY)"/><circle cx="150.0" cy="87.0" r="2.4" fill="url(#gT)"/><circle cx="134.0" cy="103.2" r="2.4" fill="url(#gT)"/><circle cx="70.0" cy="118.0" r="2.6" fill="url(#gP)"/><circle cx="223.5" cy="126.0" r="2.4" fill="url(#gT)"/><circle cx="211.7" cy="37.7" r="2.4" fill="url(#gT)"/><circle cx="208.3" cy="113.4" r="2.6" fill="url(#gR)"/><circle cx="96.3" cy="161.8" r="2.4" fill="url(#gT)"/><circle cx="357.1" cy="36.1" r="3" fill="url(#gY)"/><circle cx="305.9" cy="66.7" r="3" fill="url(#gY)"/><circle cx="73.2" cy="39.3" r="2.5" fill="url(#gP)"/><circle cx="170.7" cy="190.2" r="2.6" fill="url(#gR)"/><circle cx="250.3" cy="120.9" r="2.4" fill="url(#gT)"/><circle cx="43.9" cy="175.1" r="2.3" fill="url(#gG)"/><circle cx="216.4" cy="11.8" r="2.4" fill="url(#gT)"/><circle cx="228.0" cy="128.5" r="2.4" fill="url(#gT)"/><circle cx="313.3" cy="62.3" r="3" fill="url(#gY)"/><circle cx="83.8" cy="152.3" r="2.3" fill="url(#gG)"/><circle cx="53.8" cy="53.1" r="2.3" fill="url(#gG)"/><circle cx="128.6" cy="150.9" r="2.8" fill="url(#gP)"/><circle cx="61.3" cy="78.3" r="2.3" fill="url(#gG)"/><circle cx="17.2" cy="155.5" r="2.3" fill="url(#gG)"/><circle cx="246.4" cy="75.8" r="2.4" fill="url(#gT)"/><circle cx="6.6" cy="66.7" r="1.9" fill="url(#gT)"/><circle cx="34.1" cy="53.5" r="2.3" fill="url(#gG)"/><circle cx="53.9" cy="165.8" r="2.3" fill="url(#gG)"/><circle cx="180.8" cy="30.7" r="2.4" fill="url(#gT)"/><circle cx="124.6" cy="40.9" r="2.4" fill="url(#gT)"/><circle cx="89.2" cy="81.6" r="2.3" fill="url(#gG)"/><circle cx="47.5" cy="88.3" r="2.3" fill="url(#gG)"/><circle cx="159.9" cy="181.7" r="2.4" fill="url(#gT)"/><circle cx="42.4" cy="98.3" r="2.3" fill="url(#gG)"/><circle cx="222.2" cy="94.1" r="2.4" fill="url(#gT)"/><circle cx="226.5" cy="65.5" r="2.4" fill="url(#gT)"/><circle cx="186.8" cy="140.1" r="2.6" fill="url(#gR)"/><circle cx="258.4" cy="130.6" r="2.6" fill="url(#gR)"/><circle cx="59.0" cy="36.9" r="2.3" fill="url(#gG)"/><circle cx="109.7" cy="162.2" r="2.4" fill="url(#gT)"/><circle cx="313.5" cy="119.8" r="3" fill="url(#gY)"/><circle cx="363.7" cy="122.3" r="3" fill="url(#gY)"/><circle cx="152.9" cy="154.5" r="2.4" fill="url(#gT)"/><circle cx="95.5" cy="91.4" r="2.3" fill="url(#gG)"/><circle cx="23.4" cy="20.7" r="2.3" fill="url(#gG)"/><circle cx="132.0" cy="110.9" r="2.4" fill="url(#gT)"/><circle cx="106.2" cy="137.2" r="2.8" fill="url(#gP)"/><circle cx="95.3" cy="111.2" r="2.3" fill="url(#gG)"/><circle cx="185.0" cy="144.1" r="2.6" fill="url(#gR)"/><circle cx="32.4" cy="30.7" r="2.3" fill="url(#gG)"/><circle cx="44.1" cy="87.8" r="2.3" fill="url(#gG)"/><circle cx="144.9" cy="21.9" r="2.4" fill="url(#gT)"/><circle cx="351.5" cy="47.3" r="3" fill="url(#gY)"/><circle cx="217.5" cy="84.7" r="2.6" fill="url(#gR)"/><circle cx="127.0" cy="97.4" r="2.6" fill="url(#gR)"/><circle cx="202.8" cy="116.0" r="2.6" fill="url(#gR)"/><circle cx="243.8" cy="45.8" r="2.6" fill="url(#gR)"/><circle cx="20.7" cy="128.7" r="2.3" fill="url(#gG)"/><circle cx="236.3" cy="78.0" r="2.4" fill="url(#gT)"/><circle cx="256.4" cy="39.9" r="2.4" fill="url(#gT)"/><circle cx="6.6" cy="186.7" r="1.9" fill="url(#gT)"/><circle cx="27.0" cy="152.1" r="2.3" fill="url(#gG)"/><circle cx="102.3" cy="174.6" r="2.4" fill="url(#gT)"/><circle cx="86.1" cy="162.4" r="2.3" fill="url(#gG)"/><circle cx="19.0" cy="171.5" r="2.3" fill="url(#gG)"/><circle cx="19.2" cy="20.7" r="2.3" fill="url(#gG)"/><circle cx="354.2" cy="136.7" r="3" fill="url(#gY)"/><circle cx="66.7" cy="88.5" r="2.3" fill="url(#gG)"/><circle cx="246.0" cy="101.6" r="2.4" fill="url(#gT)"/><circle cx="88.0" cy="20.1" r="2.3" fill="url(#gG)"/><circle cx="55.6" cy="168.9" r="2.3" fill="url(#gG)"/><circle cx="187.0" cy="130.4" r="2.6" fill="url(#gR)"/><circle cx="87.1" cy="78.2" r="2.3" fill="url(#gG)"/><circle cx="132.6" cy="100.0" r="2.4" fill="url(#gT)"/><circle cx="23.1" cy="178.7" r="2.3" fill="url(#gG)"/><circle cx="64.5" cy="165.6" r="2.3" fill="url(#gG)"/><circle cx="13.5" cy="135.3" r="2.3" fill="url(#gG)"/><circle cx="146.9" cy="124.9" r="2.7" fill="url(#gP)"/><circle cx="6.6" cy="51.6" r="1.9" fill="url(#gT)"/><circle cx="256.8" cy="32.9" r="2.4" fill="url(#gT)"/><circle cx="95.3" cy="97.9" r="2.3" fill="url(#gG)"/><circle cx="259.7" cy="101.1" r="2.4" fill="url(#gT)"/><circle cx="130.1" cy="42.4" r="2.4" fill="url(#gT)"/><circle cx="85.6" cy="181.4" r="2.3" fill="url(#gG)"/><circle cx="185.1" cy="108.9" r="2.6" fill="url(#gR)"/><circle cx="23.4" cy="184.9" r="2.3" fill="url(#gG)"/><circle cx="185.0" cy="47.8" r="2.4" fill="url(#gT)"/><circle cx="97.3" cy="33.8" r="2.5" fill="url(#gP)"/><circle cx="245.7" cy="11.6" r="2.6" fill="url(#gR)"/><circle cx="195.3" cy="69.1" r="2.4" fill="url(#gT)"/><circle cx="267.9" cy="7.8" r="2.4" fill="url(#gT)"/><circle cx="142.5" cy="79.8" r="2.4" fill="url(#gT)"/><circle cx="21.2" cy="174.7" r="2.3" fill="url(#gG)"/><circle cx="59.5" cy="23.3" r="2.3" fill="url(#gG)"/><circle cx="161.0" cy="125.5" r="2.6" fill="url(#gR)"/><circle cx="313.7" cy="135.8" r="3" fill="url(#gY)"/><circle cx="228.5" cy="16.6" r="2.6" fill="url(#gR)"/><circle cx="267.7" cy="-1.7" r="2.6" fill="url(#gR)"/><circle cx="208.4" cy="83.0" r="2.6" fill="url(#gR)"/><circle cx="76.4" cy="158.8" r="2.3" fill="url(#gG)"/><circle cx="363.4" cy="38.3" r="3" fill="url(#gY)"/><circle cx="194.3" cy="68.1" r="2.4" fill="url(#gT)"/><circle cx="124.4" cy="87.1" r="2.6" fill="url(#gR)"/><circle cx="57.1" cy="165.7" r="2.3" fill="url(#gG)"/><circle cx="277.0" cy="72.9" r="3" fill="url(#gY)"/><circle cx="173.5" cy="29.4" r="2.6" fill="url(#gR)"/><circle cx="81.7" cy="162.5" r="2.3" fill="url(#gG)"/><circle cx="18.9" cy="132.5" r="2.3" fill="url(#gG)"/><circle cx="6.6" cy="115.4" r="1.9" fill="url(#gT)"/><circle cx="6.6" cy="25.4" r="1.9" fill="url(#gT)"/><circle cx="206.8" cy="179.5" r="2.4" fill="url(#gT)"/><circle cx="17.7" cy="36.9" r="2.3" fill="url(#gG)"/><circle cx="151.5" cy="128.1" r="2.4" fill="url(#gT)"/><circle cx="87.9" cy="97.7" r="2.3" fill="url(#gG)"/><circle cx="6.6" cy="190.4" r="1.9" fill="url(#gT)"/><circle cx="166.8" cy="151.2" r="2.4" fill="url(#gT)"/><circle cx="15.0" cy="97.6" r="2.3" fill="url(#gG)"/><circle cx="148.0" cy="105.7" r="2.6" fill="url(#gR)"/><circle cx="203.8" cy="61.0" r="2.4" fill="url(#gT)"/><circle cx="163.0" cy="107.0" r="2.4" fill="url(#gT)"/><circle cx="197.0" cy="184.5" r="2.4" fill="url(#gT)"/><circle cx="61.0" cy="104.5" r="2.3" fill="url(#gG)"/><circle cx="70.9" cy="94.6" r="2.3" fill="url(#gG)"/><circle cx="248.3" cy="1.2" r="2.4" fill="url(#gT)"/><circle cx="152.6" cy="44.5" r="2.6" fill="url(#gR)"/><circle cx="240.0" cy="151.2" r="2.4" fill="url(#gT)"/><circle cx="63.3" cy="49.9" r="2.3" fill="url(#gG)"/><circle cx="263.3" cy="177.9" r="2.6" fill="url(#gR)"/><circle cx="213.3" cy="56.3" r="2.4" fill="url(#gT)"/><circle cx="347.1" cy="50.3" r="3" fill="url(#gY)"/><circle cx="235.0" cy="156.6" r="2.4" fill="url(#gT)"/><circle cx="20.8" cy="81.8" r="2.3" fill="url(#gG)"/><circle cx="362.3" cy="93.3" r="3" fill="url(#gY)"/><circle cx="203.2" cy="164.2" r="2.6" fill="url(#gR)"/><circle cx="85.3" cy="30.5" r="2.3" fill="url(#gG)"/><circle cx="82.0" cy="16.9" r="2.3" fill="url(#gG)"/><circle cx="138.0" cy="70.4" r="2.4" fill="url(#gT)"/><circle cx="319.7" cy="79.1" r="3" fill="url(#gY)"/><circle cx="226.6" cy="121.7" r="2.4" fill="url(#gT)"/><circle cx="230.8" cy="87.1" r="2.4" fill="url(#gT)"/><circle cx="183.1" cy="151.0" r="2.4" fill="url(#gT)"/><circle cx="32.5" cy="168.8" r="2.3" fill="url(#gG)"/><circle cx="204.6" cy="111.8" r="2.4" fill="url(#gT)"/><circle cx="339.2" cy="188.1" r="3" fill="url(#gY)"/><circle cx="158.5" cy="116.4" r="2.4" fill="url(#gT)"/><circle cx="161.1" cy="85.2" r="2.4" fill="url(#gT)"/><circle cx="153.5" cy="189.5" r="2.4" fill="url(#gT)"/><circle cx="220.7" cy="145.5" r="2.6" fill="url(#gR)"/><circle cx="180.6" cy="98.3" r="2.4" fill="url(#gT)"/><circle cx="75.8" cy="84.5" r="2.3" fill="url(#gG)"/><circle cx="270.3" cy="117.4" r="2.4" fill="url(#gT)"/><circle cx="180.2" cy="156.7" r="2.4" fill="url(#gT)"/><circle cx="218.4" cy="66.8" r="2.4" fill="url(#gT)"/><circle cx="214.2" cy="45.1" r="2.4" fill="url(#gT)"/><circle cx="107.3" cy="63.1" r="2.4" fill="url(#gT)"/><circle cx="44.1" cy="56.6" r="2.3" fill="url(#gG)"/><circle cx="136.2" cy="117.2" r="2.4" fill="url(#gT)"/><circle cx="72.4" cy="20.1" r="2.3" fill="url(#gG)"/><circle cx="265.1" cy="76.4" r="2.4" fill="url(#gT)"/><circle cx="113.7" cy="160.6" r="2.6" fill="url(#gR)"/><circle cx="200.8" cy="143.9" r="2.6" fill="url(#gR)"/><circle cx="40.4" cy="142.3" r="2.3" fill="url(#gG)"/><circle cx="199.7" cy="80.8" r="2.6" fill="url(#gR)"/><circle cx="68.4" cy="20.7" r="2.3" fill="url(#gG)"/><circle cx="278.6" cy="137.1" r="3" fill="url(#gY)"/><circle cx="91.6" cy="59.6" r="2.3" fill="url(#gG)"/><circle cx="85.3" cy="57.0" r="2.3" fill="url(#gG)"/><circle cx="127.7" cy="183.5" r="2.4" fill="url(#gT)"/><circle cx="87.6" cy="46.3" r="2.3" fill="url(#gG)"/><circle cx="96.0" cy="75.0" r="2.6" fill="url(#gP)"/><circle cx="225.7" cy="144.2" r="2.4" fill="url(#gT)"/><circle cx="265.6" cy="1.7" r="2.4" fill="url(#gT)"/><circle cx="32.6" cy="107.9" r="2.3" fill="url(#gG)"/><circle cx="50.1" cy="78.2" r="2.3" fill="url(#gG)"/><circle cx="92.0" cy="65.0" r="2.6" fill="url(#gP)"/><circle cx="208.3" cy="14.1" r="2.6" fill="url(#gR)"/><circle cx="17.4" cy="108.3" r="2.3" fill="url(#gG)"/><circle cx="105.4" cy="155.1" r="2.4" fill="url(#gT)"/><circle cx="94.8" cy="59.9" r="2.3" fill="url(#gG)"/><circle cx="249.2" cy="36.6" r="2.4" fill="url(#gT)"/><circle cx="60.8" cy="110.9" r="2.3" fill="url(#gG)"/><circle cx="22.6" cy="33.3" r="2.3" fill="url(#gG)"/><circle cx="132.5" cy="132.0" r="2.4" fill="url(#gT)"/><circle cx="65.1" cy="27.1" r="2.3" fill="url(#gG)"/><circle cx="110.1" cy="44.1" r="2.8" fill="url(#gP)"/><circle cx="195.1" cy="90.4" r="2.4" fill="url(#gT)"/><circle cx="27.2" cy="40.1" r="2.3" fill="url(#gG)"/><circle cx="331.6" cy="142.6" r="3" fill="url(#gY)"/><circle cx="173.0" cy="54.7" r="2.4" fill="url(#gT)"/><circle cx="239.9" cy="185.3" r="2.4" fill="url(#gT)"/><circle cx="162.5" cy="148.3" r="2.4" fill="url(#gT)"/><circle cx="240.3" cy="9.9" r="2.4" fill="url(#gT)"/><circle cx="290.2" cy="89.5" r="3" fill="url(#gY)"/><circle cx="151.2" cy="137.2" r="2.6" fill="url(#gR)"/><circle cx="196.4" cy="147.5" r="2.4" fill="url(#gT)"/><circle cx="254.1" cy="23.2" r="2.4" fill="url(#gT)"/><circle cx="78.2" cy="155.2" r="2.3" fill="url(#gG)"/><circle cx="120.7" cy="151.1" r="2.4" fill="url(#gT)"/><circle cx="245.7" cy="69.5" r="2.6" fill="url(#gR)"/><circle cx="189.0" cy="143.5" r="2.4" fill="url(#gT)"/><circle cx="216.8" cy="167.2" r="2.4" fill="url(#gT)"/><circle cx="6.6" cy="77.9" r="1.9" fill="url(#gT)"/><circle cx="244.7" cy="65.8" r="2.4" fill="url(#gT)"/><circle cx="225.1" cy="126.6" r="2.4" fill="url(#gT)"/><circle cx="265.6" cy="132.2" r="2.4" fill="url(#gT)"/><circle cx="56.7" cy="185.4" r="2.3" fill="url(#gG)"/><circle cx="273.7" cy="188.9" r="2.4" fill="url(#gT)"/><circle cx="226.2" cy="168.8" r="2.4" fill="url(#gT)"/><circle cx="135.4" cy="110.0" r="2.4" fill="url(#gT)"/><circle cx="205.5" cy="57.3" r="2.4" fill="url(#gT)"/><circle cx="247.2" cy="164.5" r="2.4" fill="url(#gT)"/><circle cx="121.4" cy="51.1" r="2.8" fill="url(#gP)"/><circle cx="299.8" cy="171.7" r="3" fill="url(#gY)"/><circle cx="6.6" cy="29.1" r="1.9" fill="url(#gT)"/><circle cx="248.3" cy="167.2" r="2.4" fill="url(#gT)"/><circle cx="157.8" cy="126.9" r="2.4" fill="url(#gT)"/><circle cx="255.5" cy="13.2" r="2.4" fill="url(#gT)"/><circle cx="245.2" cy="-0.5" r="2.4" fill="url(#gT)"/><circle cx="288.1" cy="118.3" r="3" fill="url(#gY)"/><circle cx="100.3" cy="130.3" r="2.8" fill="url(#gP)"/><circle cx="260.6" cy="123.7" r="2.4" fill="url(#gT)"/><circle cx="34.4" cy="185.6" r="2.3" fill="url(#gG)"/><circle cx="301.2" cy="77.9" r="3" fill="url(#gY)"/><circle cx="272.1" cy="84.2" r="3" fill="url(#gY)"/><circle cx="44.3" cy="108.0" r="2.3" fill="url(#gG)"/><circle cx="21.4" cy="17.2" r="2.3" fill="url(#gG)"/><circle cx="259.2" cy="42.0" r="2.4" fill="url(#gT)"/><circle cx="53.4" cy="111.4" r="2.3" fill="url(#gG)"/><circle cx="362.3" cy="11.4" r="3" fill="url(#gY)"/><circle cx="167.6" cy="45.0" r="2.6" fill="url(#gR)"/><circle cx="20.7" cy="50.1" r="2.3" fill="url(#gG)"/><circle cx="258.1" cy="95.8" r="2.4" fill="url(#gT)"/><circle cx="224.4" cy="34.2" r="2.6" fill="url(#gR)"/><circle cx="87.9" cy="40.3" r="2.3" fill="url(#gG)"/><circle cx="17.5" cy="43.3" r="2.3" fill="url(#gG)"/><circle cx="205.1" cy="132.8" r="2.4" fill="url(#gT)"/><circle cx="92.9" cy="74.8" r="2.3" fill="url(#gG)"/><circle cx="6.6" cy="59.1" r="1.9" fill="url(#gT)"/><circle cx="153.9" cy="63.9" r="2.4" fill="url(#gT)"/><circle cx="303.4" cy="150.5" r="3" fill="url(#gY)"/><circle cx="57.1" cy="60.1" r="2.3" fill="url(#gG)"/><circle cx="61.1" cy="158.6" r="2.3" fill="url(#gG)"/><circle cx="174.8" cy="98.1" r="2.4" fill="url(#gT)"/><circle cx="218.8" cy="93.3" r="2.4" fill="url(#gT)"/><circle cx="239.0" cy="85.2" r="2.6" fill="url(#gR)"/><circle cx="272.9" cy="139.2" r="2.4" fill="url(#gT)"/><circle cx="181.3" cy="76.7" r="2.4" fill="url(#gT)"/><circle cx="145.6" cy="66.6" r="2.4" fill="url(#gT)"/><circle cx="198.2" cy="152.3" r="2.6" fill="url(#gR)"/><circle cx="174.9" cy="36.7" r="2.4" fill="url(#gT)"/><circle cx="57.0" cy="53.7" r="2.3" fill="url(#gG)"/><circle cx="308.9" cy="149.1" r="3" fill="url(#gY)"/><circle cx="26.6" cy="33.5" r="2.3" fill="url(#gG)"/><circle cx="59.1" cy="181.4" r="2.3" fill="url(#gG)"/><circle cx="191.6" cy="88.1" r="2.4" fill="url(#gT)"/><circle cx="80.1" cy="91.3" r="2.3" fill="url(#gG)"/><circle cx="19.0" cy="78.3" r="2.3" fill="url(#gG)"/><circle cx="139.8" cy="15.1" r="2.8" fill="url(#gP)"/><circle cx="357.7" cy="51.9" r="3" fill="url(#gY)"/><circle cx="98.9" cy="47.1" r="2.3" fill="url(#gG)"/><circle cx="141.1" cy="172.5" r="2.4" fill="url(#gT)"/><circle cx="256.1" cy="20.3" r="2.4" fill="url(#gT)"/><circle cx="76.0" cy="53.7" r="2.3" fill="url(#gG)"/><circle cx="223.0" cy="165.0" r="2.4" fill="url(#gT)"/><circle cx="284.5" cy="36.0" r="3" fill="url(#gY)"/><circle cx="107.9" cy="157.7" r="2.6" fill="url(#gR)"/><circle cx="271.6" cy="157.3" r="3" fill="url(#gY)"/><circle cx="26.7" cy="145.5" r="2.3" fill="url(#gG)"/><circle cx="26.3" cy="165.6" r="2.3" fill="url(#gG)"/><circle cx="215.3" cy="127.7" r="2.7" fill="url(#gP)"/><circle cx="182.6" cy="66.5" r="2.6" fill="url(#gR)"/><circle cx="276.4" cy="112.2" r="2.4" fill="url(#gT)"/><circle cx="70.4" cy="128.5" r="2.3" fill="url(#gG)"/><circle cx="139.7" cy="120.1" r="2.4" fill="url(#gT)"/><circle cx="215.0" cy="49.7" r="2.4" fill="url(#gT)"/><circle cx="82.0" cy="87.7" r="2.3" fill="url(#gG)"/><circle cx="203.1" cy="189.0" r="2.4" fill="url(#gT)"/><circle cx="297.7" cy="66.6" r="3" fill="url(#gY)"/><circle cx="32.8" cy="155.2" r="2.3" fill="url(#gG)"/><circle cx="23.1" cy="98.1" r="2.3" fill="url(#gG)"/><circle cx="309.7" cy="33.4" r="3" fill="url(#gY)"/><circle cx="137.3" cy="130.9" r="2.6" fill="url(#gR)"/><circle cx="359.3" cy="2.4" r="3" fill="url(#gY)"/><circle cx="217.1" cy="84.0" r="2.4" fill="url(#gT)"/><circle cx="314.5" cy="15.4" r="3" fill="url(#gY)"/><circle cx="6.6" cy="36.6" r="1.9" fill="url(#gT)"/><circle cx="124.2" cy="114.4" r="2.8" fill="url(#gP)"/><circle cx="218.5" cy="148.9" r="2.4" fill="url(#gT)"/><circle cx="322.5" cy="4.4" r="3" fill="url(#gY)"/><circle cx="47.6" cy="81.3" r="2.3" fill="url(#gG)"/><circle cx="202.3" cy="134.9" r="2.4" fill="url(#gT)"/><circle cx="89.3" cy="142.3" r="2.3" fill="url(#gG)"/><circle cx="257.1" cy="154.7" r="2.4" fill="url(#gT)"/><circle cx="64.7" cy="111.2" r="2.3" fill="url(#gG)"/><circle cx="34.9" cy="178.5" r="2.3" fill="url(#gG)"/><circle cx="183.0" cy="94.2" r="2.4" fill="url(#gT)"/><circle cx="141.1" cy="83.5" r="2.6" fill="url(#gR)"/><circle cx="39.7" cy="181.7" r="2.3" fill="url(#gG)"/><circle cx="170.9" cy="40.2" r="2.4" fill="url(#gT)"/><circle cx="201.5" cy="130.9" r="2.6" fill="url(#gR)"/><circle cx="91.3" cy="20.0" r="2.3" fill="url(#gG)"/><circle cx="143.7" cy="193.0" r="2.6" fill="url(#gR)"/><circle cx="18.9" cy="98.6" r="2.3" fill="url(#gG)"/><circle cx="60.0" cy="4.0" r="2.6" fill="url(#gP)"/><circle cx="78.2" cy="74.8" r="2.3" fill="url(#gG)"/><circle cx="45.7" cy="78.4" r="2.3" fill="url(#gG)"/><circle cx="183.3" cy="49.5" r="2.6" fill="url(#gR)"/><circle cx="281.5" cy="181.2" r="3" fill="url(#gY)"/><circle cx="29.1" cy="141.8" r="2.3" fill="url(#gG)"/><circle cx="266.5" cy="91.0" r="2.4" fill="url(#gT)"/><circle cx="217.0" cy="77.4" r="2.4" fill="url(#gT)"/><circle cx="130.0" cy="178.8" r="2.4" fill="url(#gT)"/><circle cx="189.9" cy="27.6" r="2.4" fill="url(#gT)"/><circle cx="17.5" cy="101.4" r="2.3" fill="url(#gG)"/><circle cx="74.2" cy="81.7" r="2.3" fill="url(#gG)"/><circle cx="222.9" cy="51.9" r="2.6" fill="url(#gR)"/><circle cx="201.3" cy="1.6" r="2.6" fill="url(#gR)"/><circle cx="84.2" cy="53.2" r="2.3" fill="url(#gG)"/><circle cx="138.8" cy="44.9" r="2.8" fill="url(#gP)"/><circle cx="202.4" cy="185.6" r="2.4" fill="url(#gT)"/><circle cx="156.5" cy="38.4" r="2.4" fill="url(#gT)"/><circle cx="225.2" cy="50.5" r="2.4" fill="url(#gT)"/><circle cx="79.9" cy="78.7" r="2.3" fill="url(#gG)"/><circle cx="167.9" cy="154.4" r="2.4" fill="url(#gT)"/><circle cx="300.8" cy="13.6" r="3" fill="url(#gY)"/><circle cx="64.6" cy="40.0" r="2.3" fill="url(#gG)"/><circle cx="272.9" cy="25.0" r="3" fill="url(#gY)"/><circle cx="346.9" cy="64.1" r="3" fill="url(#gY)"/><circle cx="104.5" cy="162.6" r="2.6" fill="url(#gR)"/><circle cx="286.4" cy="20.8" r="3" fill="url(#gY)"/><circle cx="195.3" cy="130.7" r="2.4" fill="url(#gT)"/><circle cx="109.4" cy="34.6" r="2.8" fill="url(#gP)"/><circle cx="359.9" cy="134.6" r="3" fill="url(#gY)"/><circle cx="125.2" cy="137.3" r="2.6" fill="url(#gR)"/><circle cx="318.4" cy="132.1" r="3" fill="url(#gY)"/><circle cx="21.1" cy="43.0" r="2.3" fill="url(#gG)"/><circle cx="242.0" cy="124.4" r="2.4" fill="url(#gT)"/><circle cx="21.2" cy="142.6" r="2.3" fill="url(#gG)"/><circle cx="349.5" cy="69.2" r="3" fill="url(#gY)"/><circle cx="132.7" cy="62.3" r="2.6" fill="url(#gR)"/><circle cx="224.2" cy="134.3" r="2.4" fill="url(#gT)"/><circle cx="275.2" cy="129.0" r="2.4" fill="url(#gT)"/><circle cx="209.5" cy="62.4" r="2.4" fill="url(#gT)"/><circle cx="251.6" cy="81.6" r="2.4" fill="url(#gT)"/><circle cx="24.4" cy="30.3" r="2.3" fill="url(#gG)"/><circle cx="36.6" cy="23.6" r="2.3" fill="url(#gG)"/><circle cx="181.1" cy="121.7" r="2.4" fill="url(#gT)"/><circle cx="268.9" cy="11.1" r="2.4" fill="url(#gT)"/><circle cx="341.7" cy="101.9" r="3" fill="url(#gY)"/><circle cx="140.2" cy="2.4" r="2.4" fill="url(#gT)"/><circle cx="353.0" cy="18.2" r="3" fill="url(#gY)"/><circle cx="81.6" cy="94.7" r="2.3" fill="url(#gG)"/><circle cx="66.9" cy="30.6" r="2.3" fill="url(#gG)"/><circle cx="32.4" cy="174.8" r="2.3" fill="url(#gG)"/><circle cx="76.5" cy="97.9" r="2.3" fill="url(#gG)"/><circle cx="85.3" cy="10.3" r="2.3" fill="url(#gG)"/><circle cx="235.9" cy="163.8" r="2.4" fill="url(#gT)"/><circle cx="112.9" cy="52.1" r="2.4" fill="url(#gT)"/><circle cx="100.5" cy="65.8" r="2.4" fill="url(#gT)"/><circle cx="37.9" cy="138.9" r="2.3" fill="url(#gG)"/><circle cx="318.2" cy="140.3" r="3" fill="url(#gY)"/><circle cx="264.5" cy="181.7" r="2.4" fill="url(#gT)"/><circle cx="50.0" cy="47.3" r="2.3" fill="url(#gG)"/><circle cx="176.7" cy="36.1" r="2.4" fill="url(#gT)"/><circle cx="192.9" cy="114.0" r="2.4" fill="url(#gT)"/><circle cx="129.0" cy="52.1" r="2.8" fill="url(#gP)"/><circle cx="191.1" cy="72.7" r="2.4" fill="url(#gT)"/><circle cx="172.9" cy="79.3" r="2.4" fill="url(#gT)"/><circle cx="104.1" cy="19.3" r="2.4" fill="url(#gT)"/><circle cx="168.2" cy="46.1" r="2.6" fill="url(#gR)"/><circle cx="273.6" cy="188.0" r="2.4" fill="url(#gT)"/><circle cx="130.2" cy="102.5" r="2.4" fill="url(#gT)"/><circle cx="210.0" cy="72.4" r="2.4" fill="url(#gT)"/><circle cx="278.8" cy="56.8" r="3" fill="url(#gY)"/><circle cx="271.9" cy="134.4" r="2.4" fill="url(#gT)"/><circle cx="329.2" cy="94.0" r="3" fill="url(#gY)"/><circle cx="236.3" cy="167.3" r="2.4" fill="url(#gT)"/><circle cx="224.1" cy="62.9" r="2.4" fill="url(#gT)"/><circle cx="275.8" cy="146.4" r="2.4" fill="url(#gT)"/><circle cx="87.4" cy="84.6" r="2.3" fill="url(#gG)"/><circle cx="153.0" cy="27.1" r="2.6" fill="url(#gR)"/><circle cx="180.2" cy="11.4" r="2.4" fill="url(#gT)"/><circle cx="266.0" cy="19.9" r="2.4" fill="url(#gT)"/><circle cx="291.7" cy="158.6" r="3" fill="url(#gY)"/><circle cx="45.7" cy="91.9" r="2.3" fill="url(#gG)"/><circle cx="36.5" cy="162.2" r="2.3" fill="url(#gG)"/><circle cx="36.6" cy="10.7" r="2.3" fill="url(#gG)"/><circle cx="81.8" cy="56.5" r="2.3" fill="url(#gG)"/><circle cx="19.5" cy="40.0" r="2.3" fill="url(#gG)"/><circle cx="212.3" cy="184.7" r="2.4" fill="url(#gT)"/><circle cx="49.4" cy="178.5" r="2.3" fill="url(#gG)"/><circle cx="229.2" cy="144.4" r="2.4" fill="url(#gT)"/><circle cx="146.6" cy="106.0" r="2.4" fill="url(#gT)"/><circle cx="212.6" cy="150.1" r="2.4" fill="url(#gT)"/><circle cx="254.9" cy="22.0" r="2.4" fill="url(#gT)"/><circle cx="258.5" cy="73.1" r="2.4" fill="url(#gT)"/><circle cx="203.5" cy="96.2" r="2.4" fill="url(#gT)"/><circle cx="143.0" cy="28.5" r="2.4" fill="url(#gT)"/><circle cx="134.6" cy="159.5" r="2.6" fill="url(#gR)"/><circle cx="286.3" cy="24.6" r="3" fill="url(#gY)"/><circle cx="248.3" cy="64.2" r="2.6" fill="url(#gR)"/><circle cx="301.5" cy="42.0" r="3" fill="url(#gY)"/><circle cx="269.3" cy="3.1" r="2.6" fill="url(#gR)"/><circle cx="110.4" cy="115.9" r="2.4" fill="url(#gT)"/><circle cx="151.6" cy="141.9" r="2.4" fill="url(#gT)"/><circle cx="121.6" cy="42.8" r="2.4" fill="url(#gT)"/><circle cx="350.0" cy="189.2" r="3" fill="url(#gY)"/><circle cx="208.5" cy="107.8" r="2.4" fill="url(#gT)"/><circle cx="169.5" cy="127.1" r="2.4" fill="url(#gT)"/><circle cx="304.1" cy="30.3" r="3" fill="url(#gY)"/><circle cx="168.8" cy="180.0" r="2.4" fill="url(#gT)"/><circle cx="67.2" cy="161.8" r="2.3" fill="url(#gG)"/><circle cx="36.0" cy="155.5" r="2.3" fill="url(#gG)"/><circle cx="191.8" cy="130.9" r="2.4" fill="url(#gT)"/><circle cx="260.6" cy="147.7" r="2.4" fill="url(#gT)"/><circle cx="26.7" cy="132.7" r="2.3" fill="url(#gG)"/><circle cx="322.6" cy="125.3" r="3" fill="url(#gY)"/><circle cx="249.7" cy="187.9" r="2.4" fill="url(#gT)"/><circle cx="27.2" cy="159.1" r="2.3" fill="url(#gG)"/><circle cx="238.4" cy="123.9" r="2.6" fill="url(#gR)"/><circle cx="214.6" cy="22.1" r="2.4" fill="url(#gT)"/><circle cx="352.3" cy="104.3" r="3" fill="url(#gY)"/><circle cx="313.4" cy="76.5" r="3" fill="url(#gY)"/><circle cx="196.5" cy="102.0" r="2.4" fill="url(#gT)"/><circle cx="243.5" cy="133.4" r="2.7" fill="url(#gP)"/><circle cx="156.3" cy="86.2" r="2.4" fill="url(#gT)"/><circle cx="13.7" cy="129.2" r="2.3" fill="url(#gG)"/><circle cx="138.0" cy="128.1" r="2.4" fill="url(#gT)"/><circle cx="29.1" cy="104.4" r="2.5" fill="url(#gP)"/><circle cx="203.9" cy="152.8" r="2.4" fill="url(#gT)"/><circle cx="301.6" cy="120.3" r="3" fill="url(#gY)"/><circle cx="236.4" cy="120.6" r="2.4" fill="url(#gT)"/><circle cx="257.8" cy="145.0" r="2.4" fill="url(#gT)"/><circle cx="231.2" cy="93.6" r="2.4" fill="url(#gT)"/><circle cx="204.8" cy="108.3" r="2.4" fill="url(#gT)"/><circle cx="66.9" cy="24.1" r="2.3" fill="url(#gG)"/><circle cx="237.5" cy="109.8" r="2.6" fill="url(#gR)"/><circle cx="148.8" cy="20.9" r="2.4" fill="url(#gT)"/><circle cx="190.0" cy="184.9" r="2.4" fill="url(#gT)"/><circle cx="50.0" cy="111.6" r="2.3" fill="url(#gG)"/><circle cx="195.4" cy="174.0" r="2.4" fill="url(#gT)"/><circle cx="53.6" cy="84.9" r="2.3" fill="url(#gG)"/><circle cx="196.1" cy="141.7" r="2.4" fill="url(#gT)"/><circle cx="247.0" cy="15.4" r="2.4" fill="url(#gT)"/><circle cx="53.6" cy="40.3" r="2.3" fill="url(#gG)"/><circle cx="207.7" cy="141.1" r="2.4" fill="url(#gT)"/><circle cx="247.9" cy="12.0" r="2.4" fill="url(#gT)"/><circle cx="262.4" cy="41.1" r="2.4" fill="url(#gT)"/><circle cx="28.8" cy="128.6" r="2.3" fill="url(#gG)"/><circle cx="295.9" cy="61.6" r="3" fill="url(#gY)"/><circle cx="230.4" cy="87.6" r="2.6" fill="url(#gR)"/><circle cx="104.4" cy="79.4" r="2.4" fill="url(#gT)"/><circle cx="128.5" cy="62.8" r="2.4" fill="url(#gT)"/><circle cx="51.6" cy="74.5" r="2.3" fill="url(#gG)"/><circle cx="66.4" cy="10.1" r="2.3" fill="url(#gG)"/><circle cx="185.1" cy="143.9" r="2.4" fill="url(#gT)"/><circle cx="60.6" cy="132.5" r="2.3" fill="url(#gG)"/><circle cx="66.7" cy="44.0" r="2.3" fill="url(#gG)"/><circle cx="102.0" cy="60.0" r="2.6" fill="url(#gP)"/><circle cx="146.7" cy="88.8" r="2.6" fill="url(#gR)"/><circle cx="27.2" cy="20.7" r="2.3" fill="url(#gG)"/><circle cx="65.2" cy="85.0" r="2.3" fill="url(#gG)"/><circle cx="182.9" cy="41.6" r="2.4" fill="url(#gT)"/><circle cx="120.2" cy="134.1" r="2.4" fill="url(#gT)"/><circle cx="268.0" cy="123.3" r="2.4" fill="url(#gT)"/><circle cx="349.6" cy="83.9" r="3" fill="url(#gY)"/><circle cx="343.1" cy="182.2" r="3" fill="url(#gY)"/><circle cx="28.7" cy="37.3" r="2.3" fill="url(#gG)"/><circle cx="240.5" cy="105.6" r="2.4" fill="url(#gT)"/><circle cx="120.0" cy="38.4" r="2.6" fill="url(#gR)"/><circle cx="65.0" cy="178.7" r="2.3" fill="url(#gG)"/><circle cx="331.7" cy="45.1" r="3" fill="url(#gY)"/><circle cx="124.2" cy="183.6" r="2.4" fill="url(#gT)"/><circle cx="19.4" cy="146.0" r="2.3" fill="url(#gG)"/><circle cx="286.3" cy="158.9" r="2.4" fill="url(#gT)"/><circle cx="190.0" cy="183.7" r="2.6" fill="url(#gR)"/><circle cx="93.4" cy="56.8" r="2.3" fill="url(#gG)"/><circle cx="185.1" cy="192.9" r="2.4" fill="url(#gT)"/><circle cx="144.1" cy="140.6" r="2.4" fill="url(#gT)"/><circle cx="296.9" cy="180.0" r="3" fill="url(#gY)"/><circle cx="30.6" cy="184.6" r="2.3" fill="url(#gG)"/><circle cx="161.2" cy="88.7" r="2.4" fill="url(#gT)"/><circle cx="156.4" cy="105.8" r="2.4" fill="url(#gT)"/><circle cx="17.1" cy="129.1" r="2.3" fill="url(#gG)"/><circle cx="277.6" cy="168.4" r="3" fill="url(#gY)"/><circle cx="60.6" cy="145.2" r="2.3" fill="url(#gG)"/><circle cx="151.5" cy="123.3" r="2.4" fill="url(#gT)"/><circle cx="210.2" cy="165.9" r="2.4" fill="url(#gT)"/><circle cx="211.1" cy="169.3" r="2.4" fill="url(#gT)"/><circle cx="277.1" cy="104.7" r="2.6" fill="url(#gR)"/><circle cx="271.1" cy="135.7" r="2.6" fill="url(#gR)"/><circle cx="344.2" cy="26.8" r="3" fill="url(#gY)"/><circle cx="33.9" cy="20.7" r="2.3" fill="url(#gG)"/><circle cx="359.6" cy="118.8" r="3" fill="url(#gY)"/><circle cx="264.5" cy="158.0" r="2.6" fill="url(#gR)"/><circle cx="342.4" cy="36.7" r="3" fill="url(#gY)"/><circle cx="162.5" cy="150.7" r="2.6" fill="url(#gR)"/><circle cx="126.6" cy="80.0" r="2.6" fill="url(#gR)"/><circle cx="236.7" cy="169.3" r="2.4" fill="url(#gT)"/><circle cx="239.4" cy="62.5" r="2.4" fill="url(#gT)"/><circle cx="254.3" cy="106.3" r="2.6" fill="url(#gR)"/><circle cx="198.2" cy="171.9" r="2.4" fill="url(#gT)"/><circle cx="40.2" cy="142.1" r="2.5" fill="url(#gP)"/><circle cx="271.7" cy="90.6" r="2.6" fill="url(#gR)"/><circle cx="110.2" cy="-2.0" r="2.6" fill="url(#gR)"/><circle cx="189.4" cy="92.0" r="2.4" fill="url(#gT)"/><circle cx="351.7" cy="174.1" r="3" fill="url(#gY)"/><circle cx="47.5" cy="142.1" r="2.3" fill="url(#gG)"/><circle cx="110.8" cy="1.0" r="2.4" fill="url(#gT)"/><circle cx="44.1" cy="168.7" r="2.3" fill="url(#gG)"/><circle cx="157.4" cy="27.6" r="2.4" fill="url(#gT)"/><circle cx="124.6" cy="12.7" r="2.6" fill="url(#gR)"/><circle cx="61.0" cy="40.1" r="2.3" fill="url(#gG)"/><circle cx="135.8" cy="109.6" r="2.6" fill="url(#gR)"/><circle cx="125.8" cy="16.4" r="2.6" fill="url(#gR)"/><circle cx="185.8" cy="189.5" r="2.4" fill="url(#gT)"/><circle cx="211.6" cy="4.4" r="2.4" fill="url(#gT)"/><circle cx="32.2" cy="142.4" r="2.3" fill="url(#gG)"/><circle cx="333.7" cy="127.9" r="3" fill="url(#gY)"/><circle cx="218.4" cy="32.7" r="2.4" fill="url(#gT)"/><circle cx="185.7" cy="167.4" r="2.6" fill="url(#gR)"/><circle cx="268.6" cy="83.5" r="2.6" fill="url(#gR)"/><circle cx="338.2" cy="133.1" r="3" fill="url(#gY)"/><circle cx="58.8" cy="88.3" r="2.3" fill="url(#gG)"/><circle cx="149.8" cy="77.3" r="2.4" fill="url(#gT)"/><circle cx="263.9" cy="73.1" r="2.4" fill="url(#gT)"/><circle cx="29.2" cy="75.5" r="2.3" fill="url(#gG)"/><circle cx="28.6" cy="175.1" r="2.3" fill="url(#gG)"/><circle cx="285.2" cy="146.6" r="3" fill="url(#gY)"/><circle cx="17.0" cy="49.7" r="2.3" fill="url(#gG)"/><circle cx="264.9" cy="121.0" r="2.4" fill="url(#gT)"/><circle cx="169.0" cy="85.6" r="2.6" fill="url(#gR)"/><circle cx="254.3" cy="6.8" r="2.4" fill="url(#gT)"/><circle cx="145.4" cy="56.4" r="2.6" fill="url(#gR)"/><circle cx="303.9" cy="39.1" r="3" fill="url(#gY)"/><circle cx="185.3" cy="16.1" r="2.4" fill="url(#gT)"/><circle cx="99.6" cy="176.6" r="2.6" fill="url(#gR)"/><circle cx="143.6" cy="3.3" r="2.4" fill="url(#gT)"/><circle cx="40.3" cy="50.2" r="2.3" fill="url(#gG)"/><circle cx="238.5" cy="61.1" r="2.4" fill="url(#gT)"/><circle cx="194.5" cy="-1.9" r="2.4" fill="url(#gT)"/><circle cx="13.9" cy="74.8" r="2.3" fill="url(#gG)"/><circle cx="30.5" cy="164.9" r="2.3" fill="url(#gG)"/><circle cx="217.7" cy="62.9" r="2.6" fill="url(#gR)"/><circle cx="199.7" cy="165.1" r="2.4" fill="url(#gT)"/><circle cx="290.5" cy="119.2" r="3" fill="url(#gY)"/><circle cx="139.5" cy="41.1" r="2.4" fill="url(#gT)"/><circle cx="48.0" cy="50.2" r="2.3" fill="url(#gG)"/><circle cx="274.8" cy="81.3" r="2.4" fill="url(#gT)"/><circle cx="126.0" cy="160.4" r="2.4" fill="url(#gT)"/><circle cx="73.9" cy="24.0" r="2.3" fill="url(#gG)"/><circle cx="201.9" cy="182.1" r="2.4" fill="url(#gT)"/><circle cx="47.6" cy="161.8" r="2.3" fill="url(#gG)"/><circle cx="267.0" cy="39.0" r="2.4" fill="url(#gT)"/><circle cx="241.0" cy="129.6" r="2.4" fill="url(#gT)"/><circle cx="158.7" cy="91.2" r="2.4" fill="url(#gT)"/><circle cx="6.6" cy="179.2" r="1.9" fill="url(#gT)"/><circle cx="21.2" cy="162.1" r="2.3" fill="url(#gG)"/><circle cx="257.1" cy="54.4" r="2.4" fill="url(#gT)"/><circle cx="176.3" cy="178.2" r="2.4" fill="url(#gT)"/><circle cx="295.9" cy="76.9" r="3" fill="url(#gY)"/><circle cx="349.2" cy="167.4" r="3" fill="url(#gY)"/><circle cx="179.9" cy="156.9" r="2.6" fill="url(#gR)"/><circle cx="195.8" cy="80.0" r="2.4" fill="url(#gT)"/><circle cx="198.0" cy="188.4" r="2.6" fill="url(#gR)"/><circle cx="223.1" cy="129.4" r="2.4" fill="url(#gT)"/><circle cx="57.6" cy="132.5" r="2.3" fill="url(#gG)"/><circle cx="136.4" cy="63.9" r="2.4" fill="url(#gT)"/><circle cx="272.6" cy="74.0" r="2.4" fill="url(#gT)"/><circle cx="141.3" cy="22.3" r="2.6" fill="url(#gR)"/><circle cx="305.1" cy="128.2" r="3" fill="url(#gY)"/><circle cx="6.6" cy="40.4" r="1.9" fill="url(#gT)"/><circle cx="59.5" cy="43.5" r="2.3" fill="url(#gG)"/><circle cx="99.8" cy="36.2" r="2.4" fill="url(#gT)"/><circle cx="68.9" cy="78.2" r="2.3" fill="url(#gG)"/><circle cx="311.1" cy="85.0" r="3" fill="url(#gY)"/><circle cx="23.4" cy="40.6" r="2.3" fill="url(#gG)"/><circle cx="26.5" cy="78.7" r="2.3" fill="url(#gG)"/><circle cx="229.0" cy="55.8" r="2.4" fill="url(#gT)"/><circle cx="272.3" cy="101.9" r="3" fill="url(#gY)"/><circle cx="336.0" cy="93.0" r="3" fill="url(#gY)"/><circle cx="45.3" cy="34.0" r="2.3" fill="url(#gG)"/><circle cx="205.8" cy="182.7" r="2.4" fill="url(#gT)"/><circle cx="286.4" cy="89.2" r="3" fill="url(#gY)"/><circle cx="201.7" cy="154.3" r="2.4" fill="url(#gT)"/><circle cx="138.1" cy="28.3" r="2.4" fill="url(#gT)"/><circle cx="167.4" cy="182.9" r="2.4" fill="url(#gT)"/><circle cx="201.2" cy="131.3" r="2.4" fill="url(#gT)"/><circle cx="19.4" cy="91.1" r="2.3" fill="url(#gG)"/><circle cx="17.4" cy="10.7" r="2.3" fill="url(#gG)"/><circle cx="200.6" cy="62.5" r="2.4" fill="url(#gT)"/><circle cx="70.3" cy="57.1" r="2.3" fill="url(#gG)"/><circle cx="234.9" cy="55.5" r="2.4" fill="url(#gT)"/><circle cx="272.8" cy="163.8" r="3" fill="url(#gY)"/><circle cx="17.2" cy="175.4" r="2.3" fill="url(#gG)"/><circle cx="190.8" cy="156.2" r="2.4" fill="url(#gT)"/><circle cx="41.7" cy="26.6" r="2.3" fill="url(#gG)"/><circle cx="112.4" cy="113.9" r="2.4" fill="url(#gT)"/><circle cx="91.6" cy="85.0" r="2.3" fill="url(#gG)"/><circle cx="93.2" cy="17.2" r="2.3" fill="url(#gG)"/><circle cx="289.7" cy="44.2" r="3" fill="url(#gY)"/><circle cx="195.8" cy="38.7" r="2.4" fill="url(#gT)"/><circle cx="72.8" cy="185.5" r="2.3" fill="url(#gG)"/><circle cx="259.2" cy="158.1" r="2.6" fill="url(#gR)"/><circle cx="93.2" cy="95.0" r="2.3" fill="url(#gG)"/><circle cx="13.4" cy="181.9" r="2.3" fill="url(#gG)"/><circle cx="238.1" cy="74.9" r="2.4" fill="url(#gT)"/><circle cx="26.9" cy="14.3" r="2.3" fill="url(#gG)"/><circle cx="155.1" cy="113.1" r="2.4" fill="url(#gT)"/><circle cx="22.9" cy="138.7" r="2.3" fill="url(#gG)"/><circle cx="137.7" cy="152.4" r="2.8" fill="url(#gP)"/><circle cx="297.5" cy="76.9" r="3" fill="url(#gY)"/><circle cx="258.0" cy="55.1" r="2.4" fill="url(#gT)"/><circle cx="140.8" cy="66.1" r="2.6" fill="url(#gR)"/><circle cx="15.3" cy="40.0" r="2.3" fill="url(#gG)"/><circle cx="204.4" cy="179.5" r="2.4" fill="url(#gT)"/><circle cx="49.5" cy="40.1" r="2.3" fill="url(#gG)"/><circle cx="84.1" cy="19.9" r="2.3" fill="url(#gG)"/><circle cx="210.0" cy="45.2" r="2.6" fill="url(#gR)"/><circle cx="80.1" cy="132.4" r="2.3" fill="url(#gG)"/><circle cx="53.0" cy="20.3" r="2.3" fill="url(#gG)"/><circle cx="320.5" cy="156.2" r="3" fill="url(#gY)"/><circle cx="284.4" cy="118.8" r="3" fill="url(#gY)"/><circle cx="81.7" cy="155.3" r="2.3" fill="url(#gG)"/><circle cx="131.0" cy="89.4" r="2.8" fill="url(#gP)"/><circle cx="216.6" cy="47.1" r="2.6" fill="url(#gR)"/><circle cx="104.9" cy="151.6" r="2.4" fill="url(#gT)"/><circle cx="327.5" cy="88.8" r="3" fill="url(#gY)"/><circle cx="32.3" cy="110.2" r="2.5" fill="url(#gP)"/><circle cx="19.6" cy="33.5" r="2.3" fill="url(#gG)"/><circle cx="288.1" cy="1.2" r="3" fill="url(#gY)"/><circle cx="209.5" cy="37.0" r="2.4" fill="url(#gT)"/><circle cx="138.0" cy="120.2" r="2.4" fill="url(#gT)"/><circle cx="263.8" cy="66.3" r="2.7" fill="url(#gP)"/><circle cx="72.6" cy="111.1" r="2.3" fill="url(#gG)"/><circle cx="187.2" cy="50.5" r="2.4" fill="url(#gT)"/><circle cx="216.7" cy="125.6" r="2.4" fill="url(#gT)"/><circle cx="226.6" cy="100.8" r="2.4" fill="url(#gT)"/><circle cx="250.8" cy="13.9" r="2.4" fill="url(#gT)"/><circle cx="256.2" cy="178.8" r="2.4" fill="url(#gT)"/><circle cx="44.3" cy="155.1" r="2.3" fill="url(#gG)"/><circle cx="330.1" cy="135.1" r="3" fill="url(#gY)"/><circle cx="6.6" cy="182.9" r="1.9" fill="url(#gT)"/><circle cx="35.8" cy="181.9" r="2.3" fill="url(#gG)"/><circle cx="230.5" cy="58.9" r="2.4" fill="url(#gT)"/><circle cx="64.7" cy="33.9" r="2.3" fill="url(#gG)"/><circle cx="125.3" cy="157.0" r="2.4" fill="url(#gT)"/><circle cx="296.0" cy="84.0" r="3" fill="url(#gY)"/><circle cx="24.5" cy="81.5" r="2.3" fill="url(#gG)"/><circle cx="298.3" cy="79.9" r="3" fill="url(#gY)"/><circle cx="75.8" cy="178.3" r="2.3" fill="url(#gG)"/><circle cx="169.5" cy="54.0" r="2.4" fill="url(#gT)"/><circle cx="98.9" cy="34.0" r="2.3" fill="url(#gG)"/><circle cx="38.0" cy="20.5" r="2.3" fill="url(#gG)"/><circle cx="204.3" cy="-0.9" r="2.4" fill="url(#gT)"/><circle cx="219.8" cy="150.9" r="2.4" fill="url(#gT)"/><circle cx="115.4" cy="1.9" r="2.4" fill="url(#gT)"/><circle cx="13.5" cy="10.1" r="2.3" fill="url(#gG)"/><circle cx="171.3" cy="170.2" r="2.6" fill="url(#gR)"/><circle cx="332.0" cy="151.7" r="3" fill="url(#gY)"/><circle cx="53.1" cy="92.0" r="2.3" fill="url(#gG)"/><circle cx="282.1" cy="104.8" r="3" fill="url(#gY)"/><circle cx="53.1" cy="151.8" r="2.3" fill="url(#gG)"/><circle cx="271.2" cy="58.8" r="3" fill="url(#gY)"/><circle cx="135.8" cy="134.2" r="2.6" fill="url(#gR)"/><circle cx="155.2" cy="160.6" r="2.4" fill="url(#gT)"/><circle cx="221.8" cy="90.7" r="2.6" fill="url(#gR)"/><circle cx="252.8" cy="19.4" r="2.4" fill="url(#gT)"/><circle cx="257.0" cy="62.5" r="2.4" fill="url(#gT)"/><circle cx="55.0" cy="30.6" r="2.3" fill="url(#gG)"/><circle cx="131.4" cy="126.7" r="2.6" fill="url(#gR)"/><circle cx="115.4" cy="156.6" r="2.4" fill="url(#gT)"/><circle cx="60.7" cy="152.3" r="2.3" fill="url(#gG)"/><circle cx="77.7" cy="81.3" r="2.3" fill="url(#gG)"/><circle cx="291.5" cy="81.4" r="3" fill="url(#gY)"/><circle cx="261.5" cy="179.9" r="2.4" fill="url(#gT)"/><circle cx="212.2" cy="155.7" r="2.4" fill="url(#gT)"/><circle cx="121.5" cy="142.5" r="2.4" fill="url(#gT)"/><circle cx="36.0" cy="129.5" r="2.3" fill="url(#gG)"/><circle cx="24.7" cy="181.8" r="2.3" fill="url(#gG)"/><circle cx="85.6" cy="101.9" r="2.3" fill="url(#gG)"/><circle cx="118.2" cy="42.0" r="2.4" fill="url(#gT)"/><circle cx="158.6" cy="112.9" r="2.4" fill="url(#gT)"/><circle cx="249.1" cy="150.9" r="2.4" fill="url(#gT)"/><circle cx="80.3" cy="27.3" r="2.3" fill="url(#gG)"/><circle cx="246.2" cy="148.1" r="2.6" fill="url(#gR)"/><circle cx="211.1" cy="188.0" r="2.4" fill="url(#gT)"/><circle cx="300.2" cy="188.7" r="3" fill="url(#gY)"/><circle cx="101.1" cy="64.4" r="2.4" fill="url(#gT)"/><circle cx="30.8" cy="20.6" r="2.3" fill="url(#gG)"/><circle cx="307.4" cy="70.5" r="3" fill="url(#gY)"/><circle cx="72.6" cy="91.4" r="2.3" fill="url(#gG)"/><circle cx="238.8" cy="107.6" r="2.4" fill="url(#gT)"/><circle cx="66.8" cy="17.1" r="2.3" fill="url(#gG)"/><circle cx="261.2" cy="183.4" r="2.4" fill="url(#gT)"/><circle cx="197.2" cy="43.7" r="2.4" fill="url(#gT)"/><circle cx="238.2" cy="47.5" r="2.6" fill="url(#gR)"/><circle cx="129.2" cy="74.0" r="2.4" fill="url(#gT)"/><circle cx="118.1" cy="141.5" r="2.4" fill="url(#gT)"/><circle cx="130.8" cy="165.8" r="2.4" fill="url(#gT)"/><circle cx="191.0" cy="182.2" r="2.4" fill="url(#gT)"/><circle cx="105.5" cy="125.4" r="2.4" fill="url(#gT)"/><circle cx="208.2" cy="38.6" r="2.6" fill="url(#gR)"/><circle cx="190.8" cy="67.7" r="2.4" fill="url(#gT)"/><circle cx="214.0" cy="0.9" r="2.4" fill="url(#gT)"/><circle cx="182.3" cy="183.0" r="2.4" fill="url(#gT)"/><circle cx="136.9" cy="84.5" r="2.8" fill="url(#gP)"/><circle cx="197.6" cy="56.9" r="2.4" fill="url(#gT)"/><circle cx="273.0" cy="114.4" r="2.6" fill="url(#gR)"/><circle cx="95.5" cy="33.6" r="2.3" fill="url(#gG)"/><circle cx="227.9" cy="171.9" r="2.4" fill="url(#gT)"/><circle cx="121.8" cy="7.7" r="2.8" fill="url(#gP)"/><circle cx="157.6" cy="184.3" r="2.4" fill="url(#gT)"/><circle cx="237.7" cy="183.3" r="2.4" fill="url(#gT)"/><circle cx="149.6" cy="153.4" r="2.4" fill="url(#gT)"/><circle cx="62.4" cy="10.9" r="2.3" fill="url(#gG)"/><circle cx="44.0" cy="43.2" r="2.3" fill="url(#gG)"/><circle cx="224.6" cy="113.6" r="2.6" fill="url(#gR)"/><circle cx="101.0" cy="30.0" r="2.6" fill="url(#gP)"/><circle cx="97.6" cy="98.6" r="2.5" fill="url(#gP)"/><circle cx="36.6" cy="81.4" r="2.3" fill="url(#gG)"/><circle cx="72.5" cy="13.7" r="2.3" fill="url(#gG)"/><circle cx="241.8" cy="13.7" r="2.6" fill="url(#gR)"/><circle cx="139.6" cy="135.6" r="2.4" fill="url(#gT)"/><circle cx="178.3" cy="33.2" r="2.4" fill="url(#gT)"/><circle cx="250.6" cy="81.5" r="2.4" fill="url(#gT)"/><circle cx="175.8" cy="85.1" r="2.4" fill="url(#gT)"/><circle cx="152.3" cy="147.1" r="2.4" fill="url(#gT)"/><circle cx="243.5" cy="101.8" r="2.4" fill="url(#gT)"/><circle cx="265.7" cy="82.2" r="2.4" fill="url(#gT)"/><circle cx="23.3" cy="165.3" r="2.3" fill="url(#gG)"/><circle cx="68.3" cy="151.9" r="2.3" fill="url(#gG)"/><circle cx="236.9" cy="30.6" r="2.4" fill="url(#gT)"/><circle cx="163.3" cy="101.7" r="2.6" fill="url(#gR)"/><circle cx="169.2" cy="118.1" r="2.6" fill="url(#gR)"/><circle cx="175.8" cy="39.5" r="2.4" fill="url(#gT)"/><circle cx="89.7" cy="16.8" r="2.3" fill="url(#gG)"/><circle cx="93.0" cy="108.1" r="2.3" fill="url(#gG)"/><circle cx="312.8" cy="43.5" r="3" fill="url(#gY)"/><circle cx="258.9" cy="132.0" r="2.6" fill="url(#gR)"/><circle cx="339.3" cy="76.7" r="3" fill="url(#gY)"/><circle cx="59.2" cy="135.6" r="2.3" fill="url(#gG)"/><circle cx="131.0" cy="65.2" r="2.4" fill="url(#gT)"/><circle cx="63.2" cy="135.1" r="2.3" fill="url(#gG)"/><circle cx="264.6" cy="183.7" r="2.4" fill="url(#gT)"/><circle cx="43.5" cy="161.5" r="2.3" fill="url(#gG)"/><circle cx="36.7" cy="175.0" r="2.3" fill="url(#gG)"/><circle cx="247.1" cy="123.6" r="2.6" fill="url(#gR)"/><circle cx="196.1" cy="105.5" r="2.4" fill="url(#gT)"/><circle cx="17.7" cy="87.8" r="2.3" fill="url(#gG)"/><circle cx="45.6" cy="132.1" r="2.3" fill="url(#gG)"/><circle cx="22.7" cy="13.6" r="2.3" fill="url(#gG)"/><circle cx="126.6" cy="174.8" r="2.8" fill="url(#gP)"/><circle cx="68.5" cy="40.3" r="2.3" fill="url(#gG)"/><circle cx="142.6" cy="143.8" r="2.4" fill="url(#gT)"/><circle cx="107.2" cy="74.9" r="2.4" fill="url(#gT)"/><circle cx="249.3" cy="158.2" r="2.7" fill="url(#gP)"/><circle cx="106.2" cy="88.5" r="2.8" fill="url(#gP)"/><circle cx="319.5" cy="30.8" r="3" fill="url(#gY)"/><circle cx="57.4" cy="19.9" r="2.3" fill="url(#gG)"/><circle cx="32.0" cy="37.4" r="2.3" fill="url(#gG)"/><circle cx="150.2" cy="17.6" r="2.4" fill="url(#gT)"/><circle cx="53.6" cy="34.1" r="2.3" fill="url(#gG)"/><circle cx="191.1" cy="165.5" r="2.6" fill="url(#gR)"/><circle cx="94.0" cy="176.0" r="2.6" fill="url(#gP)"/><circle cx="160.9" cy="22.3" r="2.4" fill="url(#gT)"/><circle cx="194.5" cy="138.6" r="2.4" fill="url(#gT)"/><circle cx="30.8" cy="145.6" r="2.3" fill="url(#gG)"/><circle cx="17.1" cy="162.1" r="2.3" fill="url(#gG)"/><circle cx="341.4" cy="70.4" r="3" fill="url(#gY)"/><circle cx="176.4" cy="90.7" r="2.4" fill="url(#gT)"/><circle cx="49.2" cy="98.3" r="2.3" fill="url(#gG)"/><circle cx="323.0" cy="173.9" r="3" fill="url(#gY)"/><circle cx="256.8" cy="58.4" r="2.6" fill="url(#gR)"/><circle cx="236.1" cy="63.7" r="2.4" fill="url(#gT)"/><circle cx="289.7" cy="180.4" r="3" fill="url(#gY)"/><circle cx="97.5" cy="37.0" r="2.3" fill="url(#gG)"/><circle cx="214.9" cy="170.7" r="2.6" fill="url(#gR)"/><circle cx="169.7" cy="25.6" r="2.4" fill="url(#gT)"/><circle cx="143.5" cy="49.1" r="2.4" fill="url(#gT)"/><circle cx="13.4" cy="56.5" r="2.3" fill="url(#gG)"/><circle cx="64.5" cy="53.7" r="2.3" fill="url(#gG)"/><circle cx="64.4" cy="138.8" r="2.3" fill="url(#gG)"/><circle cx="245.8" cy="79.6" r="2.4" fill="url(#gT)"/><circle cx="13.3" cy="175.3" r="2.3" fill="url(#gG)"/><circle cx="227.7" cy="100.9" r="2.4" fill="url(#gT)"/><circle cx="267.1" cy="35.0" r="2.6" fill="url(#gR)"/><circle cx="305.5" cy="60.1" r="3" fill="url(#gY)"/><circle cx="106.7" cy="158.3" r="2.4" fill="url(#gT)"/><circle cx="136.9" cy="31.6" r="2.4" fill="url(#gT)"/><circle cx="78.2" cy="88.6" r="2.3" fill="url(#gG)"/><circle cx="265.6" cy="1.6" r="2.4" fill="url(#gT)"/><circle cx="360.3" cy="16.4" r="3" fill="url(#gY)"/><circle cx="136.6" cy="126.9" r="2.4" fill="url(#gT)"/><circle cx="81.8" cy="43.7" r="2.3" fill="url(#gG)"/><circle cx="192.7" cy="134.8" r="2.6" fill="url(#gR)"/><circle cx="116.3" cy="139.7" r="2.8" fill="url(#gP)"/><circle cx="224.6" cy="18.7" r="2.4" fill="url(#gT)"/><circle cx="34.8" cy="26.9" r="2.3" fill="url(#gG)"/><circle cx="260.0" cy="60.6" r="2.4" fill="url(#gT)"/><circle cx="237.8" cy="154.5" r="2.4" fill="url(#gT)"/><circle cx="231.7" cy="13.6" r="2.4" fill="url(#gT)"/><circle cx="208.9" cy="144.4" r="2.4" fill="url(#gT)"/><circle cx="278.6" cy="151.6" r="3" fill="url(#gY)"/><circle cx="292.9" cy="44.4" r="3" fill="url(#gY)"/><circle cx="19.2" cy="178.4" r="2.3" fill="url(#gG)"/><circle cx="359.9" cy="148.0" r="3" fill="url(#gY)"/><circle cx="222.8" cy="72.9" r="2.4" fill="url(#gT)"/><circle cx="248.9" cy="170.6" r="2.6" fill="url(#gR)"/><circle cx="308.6" cy="17.0" r="3" fill="url(#gY)"/><circle cx="200.2" cy="125.3" r="2.4" fill="url(#gT)"/><circle cx="148.5" cy="105.0" r="2.4" fill="url(#gT)"/><circle cx="76.3" cy="145.3" r="2.3" fill="url(#gG)"/><circle cx="16.9" cy="169.0" r="2.3" fill="url(#gG)"/><circle cx="223.2" cy="157.0" r="2.4" fill="url(#gT)"/><circle cx="188.4" cy="61.3" r="2.4" fill="url(#gT)"/><circle cx="264.9" cy="5.2" r="2.6" fill="url(#gR)"/><circle cx="177.5" cy="20.6" r="2.4" fill="url(#gT)"/><circle cx="284.0" cy="112.2" r="3" fill="url(#gY)"/><circle cx="261.3" cy="144.9" r="2.4" fill="url(#gT)"/><circle cx="326.3" cy="152.8" r="3" fill="url(#gY)"/><circle cx="34.7" cy="172.4" r="2.3" fill="url(#gG)"/><circle cx="93.1" cy="37.4" r="2.3" fill="url(#gG)"/><circle cx="45.5" cy="27.1" r="2.3" fill="url(#gG)"/><circle cx="238.9" cy="-2.7" r="2.6" fill="url(#gR)"/><circle cx="28.3" cy="155.2" r="2.3" fill="url(#gG)"/><circle cx="146.9" cy="156.4" r="2.4" fill="url(#gT)"/><circle cx="70.5" cy="43.8" r="2.3" fill="url(#gG)"/><circle cx="257.4" cy="123.7" r="2.4" fill="url(#gT)"/><circle cx="60.9" cy="60.3" r="2.3" fill="url(#gG)"/><circle cx="51.4" cy="108.1" r="2.3" fill="url(#gG)"/><circle cx="239.1" cy="71.6" r="2.4" fill="url(#gT)"/><circle cx="248.7" cy="42.5" r="2.4" fill="url(#gT)"/><circle cx="314.7" cy="152.7" r="3" fill="url(#gY)"/><circle cx="74.3" cy="135.9" r="2.3" fill="url(#gG)"/><circle cx="104.6" cy="188.6" r="2.4" fill="url(#gT)"/><circle cx="116.9" cy="175.8" r="2.4" fill="url(#gT)"/><circle cx="155.3" cy="30.4" r="2.4" fill="url(#gT)"/><circle cx="165.4" cy="65.3" r="2.4" fill="url(#gT)"/><circle cx="19.5" cy="52.9" r="2.3" fill="url(#gG)"/><circle cx="259.5" cy="133.7" r="2.6" fill="url(#gR)"/><circle cx="140.3" cy="5.9" r="2.4" fill="url(#gT)"/><circle cx="91.9" cy="39.8" r="2.3" fill="url(#gG)"/><circle cx="197.7" cy="69.0" r="2.4" fill="url(#gT)"/><circle cx="51.2" cy="142.3" r="2.3" fill="url(#gG)"/><circle cx="210.0" cy="147.8" r="2.4" fill="url(#gT)"/><circle cx="134.6" cy="11.2" r="2.8" fill="url(#gP)"/><circle cx="124.3" cy="27.7" r="2.4" fill="url(#gT)"/><circle cx="146.2" cy="11.3" r="2.7" fill="url(#gP)"/><circle cx="54.0" cy="67.0" r="2.6" fill="url(#gP)"/><circle cx="349.7" cy="94.3" r="3" fill="url(#gY)"/><circle cx="175.9" cy="4.3" r="2.4" fill="url(#gT)"/><circle cx="293.3" cy="98.1" r="3" fill="url(#gY)"/><circle cx="123.7" cy="24.2" r="2.4" fill="url(#gT)"/><circle cx="236.0" cy="71.2" r="2.6" fill="url(#gR)"/><circle cx="30.7" cy="98.3" r="2.3" fill="url(#gG)"/><circle cx="155.2" cy="51.7" r="2.4" fill="url(#gT)"/><circle cx="120.7" cy="85.7" r="2.4" fill="url(#gT)"/><circle cx="85.4" cy="36.8" r="2.3" fill="url(#gG)"/><circle cx="224.1" cy="33.9" r="2.6" fill="url(#gR)"/><circle cx="153.3" cy="114.5" r="2.4" fill="url(#gT)"/><circle cx="30.9" cy="169.8" r="2.5" fill="url(#gP)"/><circle cx="257.5" cy="188.8" r="2.4" fill="url(#gT)"/><circle cx="225.7" cy="166.0" r="2.6" fill="url(#gR)"/><circle cx="331.8" cy="120.6" r="3" fill="url(#gY)"/><circle cx="55.4" cy="101.7" r="2.3" fill="url(#gG)"/><circle cx="45.7" cy="179.0" r="2.3" fill="url(#gG)"/><circle cx="148.2" cy="188.9" r="2.6" fill="url(#gR)"/><circle cx="39.9" cy="162.3" r="2.3" fill="url(#gG)"/><circle cx="185.6" cy="120.5" r="2.4" fill="url(#gT)"/><circle cx="161.7" cy="162.5" r="2.4" fill="url(#gT)"/><circle cx="347.9" cy="100.8" r="3" fill="url(#gY)"/><circle cx="228.1" cy="29.1" r="2.4" fill="url(#gT)"/><circle cx="163.4" cy="159.5" r="2.4" fill="url(#gT)"/><circle cx="182.8" cy="48.2" r="2.4" fill="url(#gT)"/><circle cx="6.6" cy="122.9" r="1.9" fill="url(#gT)"/><circle cx="116.8" cy="133.4" r="2.4" fill="url(#gT)"/><circle cx="263.4" cy="55.9" r="2.4" fill="url(#gT)"/><circle cx="148.0" cy="153.2" r="2.6" fill="url(#gR)"/><circle cx="214.5" cy="108.0" r="2.4" fill="url(#gT)"/><circle cx="50.0" cy="85.3" r="2.3" fill="url(#gG)"/><circle cx="242.0" cy="13.0" r="2.4" fill="url(#gT)"/><circle cx="55.1" cy="142.0" r="2.3" fill="url(#gG)"/><circle cx="269.3" cy="132.2" r="2.4" fill="url(#gT)"/><circle cx="36.1" cy="101.1" r="2.3" fill="url(#gG)"/><circle cx="165.5" cy="162.9" r="2.6" fill="url(#gR)"/><circle cx="219.2" cy="75.9" r="2.4" fill="url(#gT)"/><circle cx="107.7" cy="115.6" r="2.4" fill="url(#gT)"/><circle cx="220.5" cy="83.2" r="2.4" fill="url(#gT)"/><circle cx="201.9" cy="-3.5" r="2.4" fill="url(#gT)"/><circle cx="287.4" cy="186.6" r="3" fill="url(#gY)"/><circle cx="42.1" cy="178.1" r="2.3" fill="url(#gG)"/><circle cx="235.6" cy="74.5" r="2.4" fill="url(#gT)"/><circle cx="81.5" cy="129.5" r="2.3" fill="url(#gG)"/><circle cx="207.5" cy="119.4" r="2.4" fill="url(#gT)"/><circle cx="270.1" cy="158.2" r="2.6" fill="url(#gR)"/><circle cx="78.5" cy="181.8" r="2.3" fill="url(#gG)"/><circle cx="212.6" cy="60.8" r="2.4" fill="url(#gT)"/><circle cx="6.6" cy="10.4" r="1.9" fill="url(#gT)"/><circle cx="305.9" cy="96.8" r="3" fill="url(#gY)"/><circle cx="74.4" cy="162.3" r="2.3" fill="url(#gG)"/><circle cx="108.5" cy="1.6" r="2.4" fill="url(#gT)"/><circle cx="184.3" cy="125.8" r="2.6" fill="url(#gR)"/><circle cx="55.3" cy="37.3" r="2.3" fill="url(#gG)"/><circle cx="179.0" cy="62.6" r="2.4" fill="url(#gT)"/><circle cx="76.6" cy="152.1" r="2.3" fill="url(#gG)"/><circle cx="41.7" cy="60.3" r="2.3" fill="url(#gG)"/><circle cx="198.4" cy="120.2" r="2.4" fill="url(#gT)"/><circle cx="120.5" cy="102.2" r="2.8" fill="url(#gP)"/><circle cx="118.1" cy="146.0" r="2.4" fill="url(#gT)"/><circle cx="252.9" cy="10.9" r="2.4" fill="url(#gT)"/><circle cx="261.0" cy="62.6" r="2.6" fill="url(#gR)"/><circle cx="183.8" cy="133.5" r="2.4" fill="url(#gT)"/><circle cx="6.6" cy="104.2" r="1.9" fill="url(#gT)"/><circle cx="206.7" cy="34.9" r="2.4" fill="url(#gT)"/><circle cx="32.6" cy="17.2" r="2.3" fill="url(#gG)"/><circle cx="70.7" cy="88.1" r="2.3" fill="url(#gG)"/><circle cx="53.7" cy="13.5" r="2.3" fill="url(#gG)"/><circle cx="274.6" cy="64.6" r="2.4" fill="url(#gT)"/><circle cx="231.9" cy="14.5" r="2.4" fill="url(#gT)"/><circle cx="239.3" cy="102.4" r="2.4" fill="url(#gT)"/><circle cx="276.4" cy="132.3" r="2.4" fill="url(#gT)"/><circle cx="89.5" cy="24.1" r="2.3" fill="url(#gG)"/><circle cx="199.0" cy="117.2" r="2.4" fill="url(#gT)"/><circle cx="147.5" cy="24.2" r="2.4" fill="url(#gT)"/><circle cx="66.9" cy="142.1" r="2.3" fill="url(#gG)"/><circle cx="23.0" cy="46.8" r="2.3" fill="url(#gG)"/><circle cx="189.7" cy="161.3" r="2.4" fill="url(#gT)"/><circle cx="277.3" cy="146.8" r="2.4" fill="url(#gT)"/><circle cx="152.9" cy="111.5" r="2.6" fill="url(#gR)"/><circle cx="206.1" cy="136.6" r="2.6" fill="url(#gR)"/><circle cx="136.8" cy="35.6" r="2.6" fill="url(#gR)"/><circle cx="157.7" cy="187.8" r="2.4" fill="url(#gT)"/><circle cx="168.0" cy="167.9" r="2.4" fill="url(#gT)"/><circle cx="213.6" cy="88.2" r="2.4" fill="url(#gT)"/><circle cx="6.6" cy="89.2" r="1.9" fill="url(#gT)"/><circle cx="193.2" cy="101.1" r="2.4" fill="url(#gT)"/><circle cx="267.7" cy="108.6" r="2.4" fill="url(#gT)"/><circle cx="258.2" cy="175.9" r="2.4" fill="url(#gT)"/><circle cx="60.8" cy="185.5" r="2.3" fill="url(#gG)"/><circle cx="317.3" cy="37.7" r="3" fill="url(#gY)"/><circle cx="312.9" cy="141.7" r="3" fill="url(#gY)"/><circle cx="336.0" cy="38.8" r="3" fill="url(#gY)"/><circle cx="13.4" cy="107.5" r="2.3" fill="url(#gG)"/><circle cx="274.8" cy="83.4" r="2.4" fill="url(#gT)"/><circle cx="35.8" cy="44.0" r="2.3" fill="url(#gG)"/><circle cx="136.1" cy="24.8" r="2.4" fill="url(#gT)"/><circle cx="258.9" cy="166.5" r="2.6" fill="url(#gR)"/><circle cx="150.9" cy="90.3" r="2.4" fill="url(#gT)"/><circle cx="251.1" cy="8.2" r="2.4" fill="url(#gT)"/><circle cx="84.1" cy="91.9" r="2.3" fill="url(#gG)"/><circle cx="93.4" cy="30.4" r="2.3" fill="url(#gG)"/><circle cx="201.1" cy="30.4" r="2.7" fill="url(#gP)"/><circle cx="227.1" cy="5.8" r="2.4" fill="url(#gT)"/><circle cx="245.0" cy="76.2" r="2.4" fill="url(#gT)"/><circle cx="228.4" cy="14.9" r="2.4" fill="url(#gT)"/><circle cx="239.0" cy="151.7" r="2.4" fill="url(#gT)"/><circle cx="166.3" cy="109.1" r="2.6" fill="url(#gR)"/><circle cx="56.9" cy="78.3" r="2.3" fill="url(#gG)"/><circle cx="53.5" cy="139.0" r="2.3" fill="url(#gG)"/><circle cx="346.4" cy="77.8" r="3" fill="url(#gY)"/><circle cx="363.4" cy="140.1" r="3" fill="url(#gY)"/><circle cx="120.7" cy="161.3" r="2.4" fill="url(#gT)"/><circle cx="40.4" cy="30.4" r="2.3" fill="url(#gG)"/><circle cx="336.0" cy="172.3" r="3" fill="url(#gY)"/><circle cx="148.8" cy="46.2" r="2.7" fill="url(#gP)"/><circle cx="21.3" cy="10.4" r="2.3" fill="url(#gG)"/><circle cx="270.6" cy="151.1" r="3" fill="url(#gY)"/><circle cx="132.6" cy="44.8" r="2.4" fill="url(#gT)"/><circle cx="29.1" cy="56.3" r="2.3" fill="url(#gG)"/><circle cx="26.8" cy="172.1" r="2.3" fill="url(#gG)"/><circle cx="251.7" cy="167.9" r="2.4" fill="url(#gT)"/><circle cx="6.6" cy="164.2" r="1.9" fill="url(#gT)"/><circle cx="204.6" cy="156.2" r="2.4" fill="url(#gT)"/><circle cx="274.0" cy="54.1" r="2.4" fill="url(#gT)"/><circle cx="213.3" cy="20.8" r="2.4" fill="url(#gT)"/><circle cx="158.9" cy="112.9" r="2.4" fill="url(#gT)"/><circle cx="167.9" cy="141.0" r="2.4" fill="url(#gT)"/><circle cx="258.4" cy="85.6" r="2.4" fill="url(#gT)"/><circle cx="181.8" cy="101.6" r="2.4" fill="url(#gT)"/><circle cx="209.0" cy="122.6" r="2.4" fill="url(#gT)"/><circle cx="38.1" cy="146.0" r="2.3" fill="url(#gG)"/><circle cx="229.7" cy="166.4" r="2.4" fill="url(#gT)"/><circle cx="331.4" cy="187.4" r="3" fill="url(#gY)"/><circle cx="171.9" cy="134.0" r="2.4" fill="url(#gT)"/><circle cx="243.4" cy="122.2" r="2.4" fill="url(#gT)"/><circle cx="204.7" cy="92.9" r="2.4" fill="url(#gT)"/><circle cx="184.5" cy="138.1" r="2.4" fill="url(#gT)"/><circle cx="99.3" cy="51.3" r="2.8" fill="url(#gP)"/><circle cx="152.9" cy="78.1" r="2.6" fill="url(#gR)"/><circle cx="314.2" cy="26.8" r="3" fill="url(#gY)"/><circle cx="111.1" cy="121.7" r="2.8" fill="url(#gP)"/><circle cx="230.5" cy="183.5" r="2.4" fill="url(#gT)"/><circle cx="32.8" cy="74.7" r="2.3" fill="url(#gG)"/><circle cx="219.2" cy="59.0" r="2.4" fill="url(#gT)"/><circle cx="15.0" cy="13.5" r="2.3" fill="url(#gG)"/><circle cx="87.1" cy="13.5" r="2.3" fill="url(#gG)"/><circle cx="151.0" cy="12.4" r="2.4" fill="url(#gT)"/><circle cx="55.2" cy="107.9" r="2.3" fill="url(#gG)"/><circle cx="230.8" cy="83.6" r="2.4" fill="url(#gT)"/><circle cx="185.8" cy="8.0" r="2.4" fill="url(#gT)"/><circle cx="243.4" cy="115.9" r="2.4" fill="url(#gT)"/><circle cx="109.2" cy="50.6" r="2.6" fill="url(#gR)"/><circle cx="262.5" cy="20.2" r="2.4" fill="url(#gT)"/><circle cx="119.8" cy="164.7" r="2.4" fill="url(#gT)"/><circle cx="161.6" cy="88.3" r="2.6" fill="url(#gR)"/><circle cx="164.4" cy="140.3" r="2.4" fill="url(#gT)"/><circle cx="320.6" cy="169.7" r="3" fill="url(#gY)"/><circle cx="207.3" cy="79.8" r="2.4" fill="url(#gT)"/><circle cx="55.6" cy="129.5" r="2.3" fill="url(#gG)"/><circle cx="44.3" cy="183.0" r="2.5" fill="url(#gP)"/><circle cx="113.1" cy="155.2" r="2.4" fill="url(#gT)"/><circle cx="296.6" cy="133.9" r="3" fill="url(#gY)"/><circle cx="252.0" cy="148.9" r="2.4" fill="url(#gT)"/><circle cx="51.8" cy="30.2" r="2.3" fill="url(#gG)"/><circle cx="76.7" cy="165.8" r="2.3" fill="url(#gG)"/><circle cx="43.9" cy="182.9" r="2.5" fill="url(#gP)"/><circle cx="258.1" cy="162.9" r="2.4" fill="url(#gT)"/><circle cx="206.7" cy="111.3" r="2.4" fill="url(#gT)"/><circle cx="135.9" cy="73.2" r="2.4" fill="url(#gT)"/><circle cx="140.3" cy="47.7" r="2.4" fill="url(#gT)"/><circle cx="166.3" cy="6.7" r="2.4" fill="url(#gT)"/><circle cx="143.6" cy="101.0" r="2.6" fill="url(#gR)"/><circle cx="180.7" cy="136.8" r="2.6" fill="url(#gR)"/><circle cx="85.2" cy="43.1" r="2.3" fill="url(#gG)"/><circle cx="356.7" cy="29.2" r="3" fill="url(#gY)"/><circle cx="39.3" cy="89.7" r="2.5" fill="url(#gP)"/><circle cx="63.0" cy="24.1" r="2.3" fill="url(#gG)"/><circle cx="97.1" cy="88.4" r="2.3" fill="url(#gG)"/><circle cx="353.3" cy="27.2" r="3" fill="url(#gY)"/><circle cx="259.6" cy="88.9" r="2.4" fill="url(#gT)"/><circle cx="209.2" cy="183.5" r="2.4" fill="url(#gT)"/><circle cx="152.2" cy="5.8" r="2.4" fill="url(#gT)"/><circle cx="85.9" cy="155.3" r="2.3" fill="url(#gG)"/><circle cx="144.5" cy="140.9" r="2.4" fill="url(#gT)"/><circle cx="6.6" cy="55.4" r="1.9" fill="url(#gT)"/><circle cx="306.7" cy="43.9" r="3" fill="url(#gY)"/><circle cx="208.9" cy="86.1" r="2.6" fill="url(#gR)"/><circle cx="292.5" cy="144.4" r="3" fill="url(#gY)"/><circle cx="157.8" cy="20.7" r="2.4" fill="url(#gT)"/><circle cx="62.6" cy="174.8" r="2.3" fill="url(#gG)"/><circle cx="170.1" cy="101.2" r="2.6" fill="url(#gR)"/><circle cx="112.4" cy="98.3" r="2.8" fill="url(#gP)"/><circle cx="268.0" cy="120.1" r="2.4" fill="url(#gT)"/><circle cx="114.8" cy="164.4" r="2.4" fill="url(#gT)"/><circle cx="155.6" cy="48.8" r="2.4" fill="url(#gT)"/><circle cx="24.0" cy="69.0" r="2.6" fill="url(#gP)"/><circle cx="41.6" cy="40.4" r="2.3" fill="url(#gG)"/><circle cx="87.3" cy="151.9" r="2.3" fill="url(#gG)"/><circle cx="277.4" cy="143.3" r="2.4" fill="url(#gT)"/><circle cx="93.7" cy="41.0" r="2.5" fill="url(#gP)"/><circle cx="211.7" cy="43.2" r="2.4" fill="url(#gT)"/><circle cx="69.0" cy="14.3" r="2.3" fill="url(#gG)"/><circle cx="70.4" cy="16.7" r="2.3" fill="url(#gG)"/><circle cx="131.8" cy="175.9" r="2.4" fill="url(#gT)"/><circle cx="180.2" cy="138.8" r="2.6" fill="url(#gR)"/><circle cx="347.6" cy="116.0" r="3" fill="url(#gY)"/><circle cx="362.2" cy="84.9" r="3" fill="url(#gY)"/><circle cx="15.0" cy="132.7" r="2.3" fill="url(#gG)"/><circle cx="138.3" cy="72.1" r="2.4" fill="url(#gT)"/><circle cx="304.0" cy="144.6" r="3" fill="url(#gY)"/><circle cx="283.3" cy="68.9" r="3" fill="url(#gY)"/><circle cx="46.2" cy="110.9" r="2.3" fill="url(#gG)"/><circle cx="354.2" cy="54.7" r="3" fill="url(#gY)"/><circle cx="56.8" cy="111.4" r="2.3" fill="url(#gG)"/><circle cx="61.4" cy="138.9" r="2.3" fill="url(#gG)"/><circle cx="243.0" cy="187.1" r="2.4" fill="url(#gT)"/><circle cx="237.0" cy="34.1" r="2.4" fill="url(#gT)"/><circle cx="334.3" cy="185.0" r="3" fill="url(#gY)"/><circle cx="131.7" cy="64.3" r="2.4" fill="url(#gT)"/><circle cx="128.8" cy="120.7" r="2.8" fill="url(#gP)"/><circle cx="271.4" cy="49.5" r="3" fill="url(#gY)"/><circle cx="172.9" cy="15.6" r="2.6" fill="url(#gR)"/><circle cx="76.0" cy="46.3" r="2.3" fill="url(#gG)"/><circle cx="23.0" cy="27.1" r="2.3" fill="url(#gG)"/><circle cx="87.3" cy="132.0" r="2.3" fill="url(#gG)"/><circle cx="53.5" cy="185.0" r="2.3" fill="url(#gG)"/><circle cx="189.3" cy="7.3" r="2.4" fill="url(#gT)"/><circle cx="231.5" cy="156.5" r="2.4" fill="url(#gT)"/><circle cx="156.6" cy="110.0" r="2.4" fill="url(#gT)"/><circle cx="305.8" cy="80.6" r="3" fill="url(#gY)"/><circle cx="228.4" cy="125.4" r="2.4" fill="url(#gT)"/><circle cx="280.1" cy="161.1" r="2.4" fill="url(#gT)"/><circle cx="295.2" cy="106.9" r="3" fill="url(#gY)"/><circle cx="342.2" cy="45.5" r="3" fill="url(#gY)"/><circle cx="266.7" cy="10.5" r="2.6" fill="url(#gR)"/><circle cx="249.0" cy="81.1" r="2.4" fill="url(#gT)"/><circle cx="330.8" cy="24.2" r="3" fill="url(#gY)"/><circle cx="21.1" cy="74.6" r="2.3" fill="url(#gG)"/><circle cx="324.1" cy="141.2" r="3" fill="url(#gY)"/><circle cx="164.2" cy="173.3" r="2.4" fill="url(#gT)"/><circle cx="237.9" cy="57.2" r="2.6" fill="url(#gR)"/><circle cx="238.3" cy="67.9" r="2.4" fill="url(#gT)"/><circle cx="243.4" cy="79.9" r="2.4" fill="url(#gT)"/><circle cx="121.1" cy="154.5" r="2.4" fill="url(#gT)"/><circle cx="93.7" cy="101.3" r="2.3" fill="url(#gG)"/><circle cx="74.2" cy="43.8" r="2.3" fill="url(#gG)"/><circle cx="155.7" cy="162.3" r="2.4" fill="url(#gT)"/><circle cx="229.0" cy="148.1" r="2.4" fill="url(#gT)"/><circle cx="266.4" cy="136.3" r="2.4" fill="url(#gT)"/><circle cx="38.6" cy="27.4" r="2.3" fill="url(#gG)"/><circle cx="239.3" cy="126.6" r="2.4" fill="url(#gT)"/><circle cx="159.1" cy="163.3" r="2.4" fill="url(#gT)"/><circle cx="26.6" cy="53.8" r="2.3" fill="url(#gG)"/><circle cx="64.8" cy="78.5" r="2.3" fill="url(#gG)"/><circle cx="169.4" cy="29.1" r="2.4" fill="url(#gT)"/><circle cx="262.7" cy="186.5" r="2.4" fill="url(#gT)"/><circle cx="18.8" cy="152.6" r="2.3" fill="url(#gG)"/><circle cx="167.9" cy="114.4" r="2.4" fill="url(#gT)"/><circle cx="59.2" cy="161.9" r="2.3" fill="url(#gG)"/><circle cx="6.6" cy="100.4" r="1.9" fill="url(#gT)"/><circle cx="231.2" cy="130.0" r="2.4" fill="url(#gT)"/><circle cx="78.4" cy="23.5" r="2.3" fill="url(#gG)"/><circle cx="238.1" cy="-1.6" r="2.4" fill="url(#gT)"/><circle cx="27.0" cy="184.9" r="2.3" fill="url(#gG)"/><circle cx="25.1" cy="129.2" r="2.3" fill="url(#gG)"/><circle cx="328.8" cy="28.2" r="3" fill="url(#gY)"/><circle cx="70.6" cy="168.8" r="2.3" fill="url(#gG)"/><circle cx="221.4" cy="153.9" r="2.4" fill="url(#gT)"/><circle cx="329.6" cy="99.3" r="3" fill="url(#gY)"/><circle cx="106.0" cy="78.2" r="2.4" fill="url(#gT)"/><circle cx="276.1" cy="177.8" r="2.4" fill="url(#gT)"/><circle cx="20.9" cy="38.8" r="2.5" fill="url(#gP)"/><circle cx="281.1" cy="11.5" r="3" fill="url(#gY)"/><circle cx="68.2" cy="184.7" r="2.3" fill="url(#gG)"/><circle cx="316.9" cy="170.0" r="3" fill="url(#gY)"/><circle cx="127.4" cy="127.3" r="2.4" fill="url(#gT)"/><circle cx="30.3" cy="111.4" r="2.3" fill="url(#gG)"/><circle cx="41.6" cy="53.4" r="2.3" fill="url(#gG)"/><circle cx="55.6" cy="95.0" r="2.3" fill="url(#gG)"/><circle cx="177.8" cy="113.2" r="2.6" fill="url(#gR)"/><circle cx="363.1" cy="32.8" r="3" fill="url(#gY)"/><circle cx="78.1" cy="142.4" r="2.3" fill="url(#gG)"/><circle cx="174.6" cy="181.2" r="2.4" fill="url(#gT)"/><circle cx="219.6" cy="134.3" r="2.4" fill="url(#gT)"/><circle cx="290.4" cy="75.9" r="3" fill="url(#gY)"/><circle cx="23.5" cy="91.7" r="2.3" fill="url(#gG)"/><circle cx="231.5" cy="82.1" r="2.6" fill="url(#gR)"/><circle cx="347.9" cy="150.1" r="3" fill="url(#gY)"/><circle cx="341.6" cy="81.6" r="3" fill="url(#gY)"/><circle cx="15.0" cy="152.6" r="2.3" fill="url(#gG)"/><circle cx="307.1" cy="74.3" r="3" fill="url(#gY)"/><circle cx="173.6" cy="121.8" r="2.7" fill="url(#gP)"/><circle cx="185.5" cy="143.4" r="2.4" fill="url(#gT)"/><circle cx="222.6" cy="100.3" r="2.4" fill="url(#gT)"/><circle cx="17.2" cy="75.3" r="2.3" fill="url(#gG)"/><circle cx="220.1" cy="14.1" r="2.4" fill="url(#gT)"/><circle cx="210.5" cy="78.2" r="2.4" fill="url(#gT)"/><circle cx="131.3" cy="182.4" r="2.4" fill="url(#gT)"/><circle cx="60.6" cy="48.8" r="2.5" fill="url(#gP)"/><circle cx="99.0" cy="100.0" r="2.6" fill="url(#gP)"/><circle cx="170.4" cy="58.3" r="2.4" fill="url(#gT)"/><circle cx="47.8" cy="17.0" r="2.3" fill="url(#gG)"/><circle cx="72.1" cy="172.0" r="2.3" fill="url(#gG)"/><circle cx="363.0" cy="3.5" r="3" fill="url(#gY)"/><circle cx="30.2" cy="152.2" r="2.3" fill="url(#gG)"/><circle cx="185.2" cy="60.1" r="2.4" fill="url(#gT)"/><circle cx="214.4" cy="91.6" r="2.4" fill="url(#gT)"/><circle cx="32.9" cy="43.4" r="2.3" fill="url(#gG)"/><circle cx="215.2" cy="101.1" r="2.6" fill="url(#gR)"/><circle cx="197.4" cy="98.7" r="2.6" fill="url(#gR)"/><circle cx="116.8" cy="132.6" r="2.8" fill="url(#gP)"/><circle cx="215.1" cy="4.2" r="2.4" fill="url(#gT)"/><circle cx="231.4" cy="129.3" r="2.4" fill="url(#gT)"/><circle cx="134.3" cy="166.1" r="2.4" fill="url(#gT)"/><circle cx="144.6" cy="25.4" r="2.4" fill="url(#gT)"/><circle cx="131.3" cy="128.7" r="2.4" fill="url(#gT)"/><circle cx="80.1" cy="39.9" r="2.3" fill="url(#gG)"/><circle cx="280.3" cy="4.9" r="2.4" fill="url(#gT)"/><circle cx="254.1" cy="31.7" r="2.4" fill="url(#gT)"/><circle cx="133.5" cy="1.0" r="2.6" fill="url(#gR)"/><circle cx="233.1" cy="165.5" r="2.4" fill="url(#gT)"/><circle cx="265.6" cy="12.3" r="2.4" fill="url(#gT)"/><circle cx="166.4" cy="118.6" r="2.4" fill="url(#gT)"/><circle cx="161.0" cy="70.7" r="2.4" fill="url(#gT)"/><circle cx="202.2" cy="159.1" r="2.4" fill="url(#gT)"/><circle cx="159.3" cy="149.7" r="2.4" fill="url(#gT)"/><circle cx="84.0" cy="78.3" r="2.3" fill="url(#gG)"/><circle cx="199.9" cy="102.7" r="2.4" fill="url(#gT)"/><circle cx="13.6" cy="161.6" r="2.3" fill="url(#gG)"/><circle cx="245.7" cy="36.8" r="2.4" fill="url(#gT)"/><circle cx="67.0" cy="94.5" r="2.3" fill="url(#gG)"/><circle cx="101.8" cy="117.8" r="2.4" fill="url(#gT)"/><circle cx="151.3" cy="186.4" r="2.4" fill="url(#gT)"/><circle cx="75.8" cy="78.5" r="2.3" fill="url(#gG)"/><circle cx="21.0" cy="155.6" r="2.3" fill="url(#gG)"/><circle cx="221.4" cy="116.0" r="2.4" fill="url(#gT)"/><circle cx="20.7" cy="107.9" r="2.3" fill="url(#gG)"/><circle cx="150.8" cy="162.8" r="2.4" fill="url(#gT)"/><circle cx="194.4" cy="49.1" r="2.7" fill="url(#gP)"/><circle cx="6.6" cy="137.9" r="1.9" fill="url(#gT)"/><circle cx="283.8" cy="175.5" r="3" fill="url(#gY)"/><circle cx="183.0" cy="130.1" r="2.4" fill="url(#gT)"/><circle cx="40.1" cy="74.8" r="2.3" fill="url(#gG)"/><circle cx="219.6" cy="13.1" r="2.4" fill="url(#gT)"/><circle cx="269.0" cy="132.5" r="2.4" fill="url(#gT)"/><circle cx="275.8" cy="23.0" r="2.4" fill="url(#gT)"/><circle cx="326.5" cy="35.4" r="3" fill="url(#gY)"/><circle cx="21.0" cy="181.5" r="2.3" fill="url(#gG)"/><circle cx="202.9" cy="185.5" r="2.4" fill="url(#gT)"/><circle cx="318.8" cy="82.8" r="3" fill="url(#gY)"/><circle cx="100.5" cy="108.0" r="2.3" fill="url(#gG)"/><circle cx="252.7" cy="38.3" r="2.6" fill="url(#gR)"/><circle cx="161.2" cy="5.5" r="2.6" fill="url(#gR)"/><circle cx="59.0" cy="168.4" r="2.3" fill="url(#gG)"/><circle cx="85.5" cy="16.7" r="2.3" fill="url(#gG)"/><circle cx="167.3" cy="183.7" r="2.6" fill="url(#gR)"/><circle cx="347.7" cy="22.2" r="3" fill="url(#gY)"/><circle cx="171.1" cy="82.3" r="2.4" fill="url(#gT)"/><circle cx="262.0" cy="169.0" r="2.4" fill="url(#gT)"/><circle cx="222.8" cy="112.8" r="2.4" fill="url(#gT)"/><circle cx="24.8" cy="175.7" r="2.3" fill="url(#gG)"/><circle cx="117.3" cy="126.1" r="2.8" fill="url(#gP)"/><circle cx="214.7" cy="64.5" r="2.4" fill="url(#gT)"/><circle cx="240.6" cy="28.4" r="2.4" fill="url(#gT)"/><circle cx="137.3" cy="21.6" r="2.4" fill="url(#gT)"/><circle cx="180.5" cy="121.6" r="2.4" fill="url(#gT)"/><circle cx="142.3" cy="97.4" r="2.6" fill="url(#gR)"/><circle cx="232.1" cy="27.6" r="2.6" fill="url(#gR)"/><circle cx="280.8" cy="170.3" r="3" fill="url(#gY)"/><circle cx="254.4" cy="138.0" r="2.6" fill="url(#gR)"/><circle cx="38.3" cy="77.9" r="2.3" fill="url(#gG)"/><circle cx="243.6" cy="44.7" r="2.4" fill="url(#gT)"/><circle cx="265.4" cy="141.0" r="2.6" fill="url(#gR)"/><circle cx="91.8" cy="53.1" r="2.3" fill="url(#gG)"/><circle cx="163.4" cy="169.9" r="2.4" fill="url(#gT)"/><circle cx="278.6" cy="103.8" r="2.4" fill="url(#gT)"/><circle cx="110.3" cy="69.6" r="2.8" fill="url(#gP)"/><circle cx="244.5" cy="172.9" r="2.6" fill="url(#gR)"/><circle cx="333.2" cy="31.2" r="3" fill="url(#gY)"/><circle cx="64.7" cy="185.6" r="2.3" fill="url(#gG)"/><circle cx="313.3" cy="102.9" r="3" fill="url(#gY)"/><circle cx="6.6" cy="74.2" r="1.9" fill="url(#gT)"/><circle cx="271.7" cy="23.5" r="2.4" fill="url(#gT)"/><circle cx="129.5" cy="17.8" r="2.4" fill="url(#gT)"/><circle cx="265.3" cy="168.0" r="2.4" fill="url(#gT)"/><circle cx="152.0" cy="9.3" r="2.4" fill="url(#gT)"/><circle cx="111.4" cy="165.2" r="2.4" fill="url(#gT)"/><circle cx="162.8" cy="179.0" r="2.6" fill="url(#gR)"/><circle cx="167.5" cy="158.6" r="2.6" fill="url(#gR)"/><circle cx="171.6" cy="108.4" r="2.4" fill="url(#gT)"/><circle cx="166.8" cy="28.5" r="2.6" fill="url(#gR)"/><circle cx="135.0" cy="71.1" r="2.4" fill="url(#gT)"/><circle cx="218.0" cy="3.5" r="2.7" fill="url(#gP)"/><circle cx="213.2" cy="125.7" r="2.4" fill="url(#gT)"/><circle cx="80.2" cy="20.4" r="2.3" fill="url(#gG)"/><circle cx="242.6" cy="145.4" r="2.4" fill="url(#gT)"/><circle cx="33.9" cy="33.9" r="2.3" fill="url(#gG)"/><circle cx="257.5" cy="114.6" r="2.4" fill="url(#gT)"/><circle cx="6.6" cy="111.7" r="1.9" fill="url(#gT)"/><circle cx="319.5" cy="82.9" r="3" fill="url(#gY)"/><circle cx="58.7" cy="129.0" r="2.3" fill="url(#gG)"/><circle cx="125.0" cy="27.5" r="2.4" fill="url(#gT)"/><circle cx="72.3" cy="131.9" r="2.3" fill="url(#gG)"/><circle cx="342.0" cy="90.7" r="3" fill="url(#gY)"/><circle cx="46.0" cy="41.7" r="2.5" fill="url(#gP)"/><circle cx="142.6" cy="152.9" r="2.6" fill="url(#gR)"/><circle cx="53.2" cy="26.6" r="2.3" fill="url(#gG)"/><circle cx="70.6" cy="37.2" r="2.3" fill="url(#gG)"/><circle cx="72.1" cy="60.4" r="2.3" fill="url(#gG)"/><circle cx="309.4" cy="91.1" r="3" fill="url(#gY)"/><circle cx="187.8" cy="190.8" r="2.4" fill="url(#gT)"/><circle cx="261.4" cy="11.9" r="2.4" fill="url(#gT)"/><circle cx="158.0" cy="28.7" r="2.6" fill="url(#gR)"/><circle cx="25.1" cy="17.5" r="2.3" fill="url(#gG)"/><circle cx="15.6" cy="178.9" r="2.3" fill="url(#gG)"/><circle cx="181.9" cy="136.6" r="2.4" fill="url(#gT)"/><circle cx="254.5" cy="7.2" r="2.4" fill="url(#gT)"/><circle cx="165.0" cy="86.2" r="2.4" fill="url(#gT)"/><circle cx="139.1" cy="94.9" r="2.4" fill="url(#gT)"/><circle cx="253.2" cy="11.4" r="2.4" fill="url(#gT)"/><circle cx="282.7" cy="7.4" r="2.4" fill="url(#gT)"/><circle cx="265.9" cy="158.4" r="2.4" fill="url(#gT)"/><circle cx="174.3" cy="53.9" r="2.4" fill="url(#gT)"/><circle cx="143.9" cy="82.9" r="2.4" fill="url(#gT)"/><circle cx="244.5" cy="98.4" r="2.4" fill="url(#gT)"/><circle cx="19.6" cy="165.4" r="2.3" fill="url(#gG)"/><circle cx="239.7" cy="56.4" r="2.4" fill="url(#gT)"/><circle cx="165.2" cy="12.3" r="2.6" fill="url(#gR)"/><circle cx="236.5" cy="19.2" r="2.4" fill="url(#gT)"/><circle cx="193.5" cy="23.6" r="2.4" fill="url(#gT)"/><circle cx="34.9" cy="104.9" r="2.3" fill="url(#gG)"/><circle cx="15.1" cy="172.3" r="2.3" fill="url(#gG)"/><circle cx="41.6" cy="174.6" r="2.5" fill="url(#gP)"/><circle cx="152.5" cy="33.1" r="2.4" fill="url(#gT)"/><circle cx="150.4" cy="81.1" r="2.4" fill="url(#gT)"/><circle cx="62.8" cy="162.0" r="2.3" fill="url(#gG)"/><circle cx="247.6" cy="147.6" r="2.4" fill="url(#gT)"/><circle cx="217.5" cy="46.1" r="2.4" fill="url(#gT)"/><circle cx="17.8" cy="56.7" r="2.3" fill="url(#gG)"/><circle cx="6.6" cy="62.9" r="1.9" fill="url(#gT)"/><circle cx="89.6" cy="10.0" r="2.3" fill="url(#gG)"/><circle cx="134.8" cy="55.4" r="2.8" fill="url(#gP)"/><circle cx="224.3" cy="14.0" r="2.4" fill="url(#gT)"/><circle cx="74.1" cy="155.3" r="2.3" fill="url(#gG)"/><circle cx="177.5" cy="29.0" r="2.4" fill="url(#gT)"/><circle cx="225.3" cy="185.1" r="2.4" fill="url(#gT)"/><circle cx="342.6" cy="53.3" r="3" fill="url(#gY)"/><circle cx="226.4" cy="53.8" r="2.4" fill="url(#gT)"/><circle cx="205.2" cy="21.2" r="2.7" fill="url(#gP)"/><circle cx="131.1" cy="4.2" r="2.4" fill="url(#gT)"/><circle cx="264.4" cy="13.7" r="2.4" fill="url(#gT)"/><circle cx="173.4" cy="75.3" r="2.6" fill="url(#gR)"/><circle cx="27.1" cy="139.3" r="2.3" fill="url(#gG)"/><circle cx="236.0" cy="113.9" r="2.4" fill="url(#gT)"/><circle cx="311.9" cy="158.8" r="3" fill="url(#gY)"/><circle cx="200.7" cy="75.0" r="2.4" fill="url(#gT)"/><circle cx="271.9" cy="9.1" r="3" fill="url(#gY)"/><circle cx="158.4" cy="140.4" r="2.4" fill="url(#gT)"/><circle cx="269.1" cy="2.2" r="2.4" fill="url(#gT)"/><circle cx="173.5" cy="127.6" r="2.6" fill="url(#gR)"/><circle cx="217.6" cy="8.6" r="2.4" fill="url(#gT)"/><circle cx="76.1" cy="27.5" r="2.3" fill="url(#gG)"/><circle cx="85.0" cy="118.0" r="2.6" fill="url(#gP)"/><circle cx="143.2" cy="119.4" r="2.4" fill="url(#gT)"/><circle cx="85.9" cy="142.7" r="2.3" fill="url(#gG)"/><circle cx="49.7" cy="158.3" r="2.3" fill="url(#gG)"/><circle cx="35.0" cy="70.0" r="2.6" fill="url(#gP)"/><circle cx="228.0" cy="80.1" r="2.4" fill="url(#gT)"/><circle cx="217.9" cy="89.7" r="2.4" fill="url(#gT)"/><circle cx="70.2" cy="30.7" r="2.3" fill="url(#gG)"/><circle cx="153.7" cy="60.4" r="2.4" fill="url(#gT)"/><circle cx="87.4" cy="33.8" r="2.3" fill="url(#gG)"/><circle cx="157.7" cy="69.6" r="2.4" fill="url(#gT)"/><circle cx="160.2" cy="129.4" r="2.4" fill="url(#gT)"/><circle cx="19.7" cy="184.0" r="2.5" fill="url(#gP)"/><circle cx="152.4" cy="133.4" r="2.4" fill="url(#gT)"/><circle cx="362.4" cy="58.0" r="3" fill="url(#gY)"/><circle cx="49.7" cy="20.9" r="2.3" fill="url(#gG)"/><circle cx="100.8" cy="101.8" r="2.3" fill="url(#gG)"/><circle cx="227.7" cy="25.6" r="2.4" fill="url(#gT)"/><circle cx="6.6" cy="119.2" r="1.9" fill="url(#gT)"/><circle cx="45.5" cy="185.2" r="2.3" fill="url(#gG)"/><circle cx="274.3" cy="17.0" r="2.4" fill="url(#gT)"/><circle cx="148.5" cy="114.8" r="2.4" fill="url(#gT)"/><circle cx="38.2" cy="151.7" r="2.3" fill="url(#gG)"/><circle cx="321.3" cy="41.9" r="3" fill="url(#gY)"/><circle cx="298.5" cy="16.7" r="3" fill="url(#gY)"/><circle cx="230.0" cy="122.7" r="2.4" fill="url(#gT)"/><circle cx="218.0" cy="107.2" r="2.4" fill="url(#gT)"/><circle cx="148.8" cy="8.0" r="2.4" fill="url(#gT)"/><circle cx="198.7" cy="65.4" r="2.4" fill="url(#gT)"/><circle cx="323.8" cy="117.5" r="3" fill="url(#gY)"/><circle cx="331.0" cy="8.4" r="3" fill="url(#gY)"/><circle cx="24.9" cy="162.2" r="2.3" fill="url(#gG)"/><circle cx="204.9" cy="78.9" r="2.4" fill="url(#gT)"/><circle cx="84.0" cy="98.0" r="2.3" fill="url(#gG)"/><circle cx="357.5" cy="106.1" r="3" fill="url(#gY)"/><circle cx="27.1" cy="178.5" r="2.3" fill="url(#gG)"/><circle cx="187.6" cy="140.6" r="2.4" fill="url(#gT)"/><circle cx="62.5" cy="107.8" r="2.3" fill="url(#gG)"/><circle cx="278.1" cy="82.4" r="2.4" fill="url(#gT)"/><circle cx="28.9" cy="162.1" r="2.3" fill="url(#gG)"/><circle cx="145.7" cy="163.9" r="2.4" fill="url(#gT)"/><circle cx="68.5" cy="59.6" r="2.3" fill="url(#gG)"/><circle cx="192.4" cy="82.2" r="2.6" fill="url(#gR)"/><circle cx="262.1" cy="11.7" r="2.4" fill="url(#gT)"/><circle cx="49.8" cy="165.0" r="2.3" fill="url(#gG)"/><circle cx="168.3" cy="186.8" r="2.4" fill="url(#gT)"/><circle cx="64.8" cy="159.1" r="2.3" fill="url(#gG)"/><circle cx="152.3" cy="162.8" r="2.4" fill="url(#gT)"/><circle cx="360.8" cy="37.2" r="3" fill="url(#gY)"/><circle cx="62.9" cy="155.5" r="2.3" fill="url(#gG)"/><circle cx="21.1" cy="30.5" r="2.3" fill="url(#gG)"/><circle cx="309.5" cy="67.9" r="3" fill="url(#gY)"/><circle cx="66.3" cy="129.4" r="2.3" fill="url(#gG)"/><circle cx="271.4" cy="181.0" r="3" fill="url(#gY)"/><circle cx="6.6" cy="167.9" r="1.9" fill="url(#gT)"/><circle cx="198.0" cy="166.1" r="2.4" fill="url(#gT)"/><circle cx="24.6" cy="43.4" r="2.3" fill="url(#gG)"/><circle cx="33.9" cy="164.9" r="2.3" fill="url(#gG)"/><circle cx="38.6" cy="104.7" r="2.3" fill="url(#gG)"/><circle cx="29.1" cy="10.1" r="2.3" fill="url(#gG)"/><circle cx="238.4" cy="20.7" r="2.4" fill="url(#gT)"/><circle cx="284.5" cy="2.4" r="3" fill="url(#gY)"/><circle cx="194.3" cy="17.3" r="2.4" fill="url(#gT)"/><circle cx="190.2" cy="55.3" r="2.4" fill="url(#gT)"/><circle cx="271.5" cy="142.4" r="2.4" fill="url(#gT)"/><circle cx="326.6" cy="133.5" r="3" fill="url(#gY)"/><circle cx="185.3" cy="100.8" r="2.4" fill="url(#gT)"/><circle cx="182.7" cy="166.9" r="2.4" fill="url(#gT)"/><circle cx="326.9" cy="107.6" r="3" fill="url(#gY)"/><circle cx="24.5" cy="23.2" r="2.3" fill="url(#gG)"/><circle cx="155.4" cy="163.9" r="2.6" fill="url(#gR)"/><circle cx="83.9" cy="178.7" r="2.3" fill="url(#gG)"/><circle cx="167.0" cy="118.8" r="2.4" fill="url(#gT)"/><circle cx="83.9" cy="165.2" r="2.3" fill="url(#gG)"/><circle cx="13.0" cy="148.7" r="2.3" fill="url(#gG)"/><circle cx="191.5" cy="123.2" r="2.6" fill="url(#gR)"/><circle cx="231.6" cy="74.0" r="2.6" fill="url(#gR)"/><circle cx="36.7" cy="50.3" r="2.3" fill="url(#gG)"/><circle cx="150.0" cy="77.3" r="2.4" fill="url(#gT)"/><circle cx="68.6" cy="53.0" r="2.3" fill="url(#gG)"/><circle cx="215.1" cy="69.5" r="2.4" fill="url(#gT)"/><circle cx="153.7" cy="176.3" r="2.4" fill="url(#gT)"/><circle cx="201.4" cy="122.0" r="2.4" fill="url(#gT)"/><circle cx="237.6" cy="94.2" r="2.4" fill="url(#gT)"/><circle cx="199.2" cy="136.9" r="2.4" fill="url(#gT)"/><circle cx="279.8" cy="1.8" r="2.6" fill="url(#gR)"/><circle cx="278.9" cy="142.5" r="3" fill="url(#gY)"/><circle cx="17.6" cy="30.3" r="2.3" fill="url(#gG)"/><circle cx="77.8" cy="17.1" r="2.3" fill="url(#gG)"/><circle cx="111.9" cy="190.1" r="2.4" fill="url(#gT)"/><circle cx="251.4" cy="99.6" r="2.4" fill="url(#gT)"/><circle cx="65.0" cy="152.1" r="2.3" fill="url(#gG)"/><circle cx="62.5" cy="43.4" r="2.3" fill="url(#gG)"/><circle cx="80.0" cy="60.2" r="2.3" fill="url(#gG)"/><circle cx="99.1" cy="60.0" r="2.3" fill="url(#gG)"/><circle cx="224.5" cy="134.7" r="2.4" fill="url(#gT)"/><circle cx="22.9" cy="132.5" r="2.3" fill="url(#gG)"/><circle cx="25.1" cy="10.5" r="2.3" fill="url(#gG)"/><circle cx="273.8" cy="53.3" r="2.4" fill="url(#gT)"/><circle cx="214.7" cy="91.5" r="2.4" fill="url(#gT)"/><circle cx="112.4" cy="78.0" r="2.4" fill="url(#gT)"/><circle cx="55.4" cy="56.5" r="2.3" fill="url(#gG)"/><circle cx="254.9" cy="132.4" r="2.4" fill="url(#gT)"/><circle cx="80.2" cy="53.5" r="2.3" fill="url(#gG)"/><circle cx="247.6" cy="116.5" r="2.6" fill="url(#gR)"/><circle cx="47.9" cy="129.4" r="2.3" fill="url(#gG)"/><circle cx="196.9" cy="144.1" r="2.4" fill="url(#gT)"/><circle cx="100.5" cy="171.6" r="2.4" fill="url(#gT)"/><circle cx="70.5" cy="141.8" r="2.3" fill="url(#gG)"/><circle cx="29.2" cy="50.5" r="2.3" fill="url(#gG)"/><circle cx="6.6" cy="149.2" r="1.9" fill="url(#gT)"/><circle cx="317.7" cy="46.3" r="3" fill="url(#gY)"/><circle cx="38.2" cy="132.1" r="2.3" fill="url(#gG)"/><circle cx="229.3" cy="140.9" r="2.4" fill="url(#gT)"/><circle cx="45.6" cy="13.4" r="2.3" fill="url(#gG)"/><circle cx="45.7" cy="85.1" r="2.3" fill="url(#gG)"/><circle cx="229.4" cy="90.5" r="2.6" fill="url(#gR)"/><circle cx="361.1" cy="54.5" r="3" fill="url(#gY)"/><circle cx="234.2" cy="93.5" r="2.4" fill="url(#gT)"/><circle cx="233.5" cy="52.3" r="2.4" fill="url(#gT)"/><circle cx="128.0" cy="10.6" r="2.4" fill="url(#gT)"/><circle cx="55.7" cy="17.5" r="2.3" fill="url(#gG)"/><circle cx="38.7" cy="53.7" r="2.3" fill="url(#gG)"/><circle cx="263.7" cy="125.4" r="2.4" fill="url(#gT)"/><circle cx="181.9" cy="105.1" r="2.4" fill="url(#gT)"/><circle cx="262.4" cy="130.9" r="2.4" fill="url(#gT)"/><circle cx="99.5" cy="160.4" r="2.4" fill="url(#gT)"/><circle cx="323.0" cy="19.6" r="3" fill="url(#gY)"/><circle cx="186.3" cy="83.9" r="2.4" fill="url(#gT)"/><circle cx="334.0" cy="180.0" r="3" fill="url(#gY)"/><circle cx="39.6" cy="37.2" r="2.3" fill="url(#gG)"/><circle cx="34.1" cy="132.6" r="2.3" fill="url(#gG)"/><circle cx="330.4" cy="74.2" r="3" fill="url(#gY)"/><circle cx="87.5" cy="111.3" r="2.3" fill="url(#gG)"/><circle cx="148.1" cy="86.1" r="2.4" fill="url(#gT)"/><circle cx="161.8" cy="103.8" r="2.4" fill="url(#gT)"/><circle cx="163.2" cy="55.9" r="2.4" fill="url(#gT)"/><circle cx="45.3" cy="145.8" r="2.3" fill="url(#gG)"/><circle cx="222.7" cy="59.1" r="2.4" fill="url(#gT)"/><circle cx="293.4" cy="112.3" r="3" fill="url(#gY)"/><circle cx="66.6" cy="108.0" r="2.3" fill="url(#gG)"/><circle cx="333.4" cy="111.6" r="3" fill="url(#gY)"/><circle cx="104.2" cy="64.3" r="2.6" fill="url(#gR)"/><circle cx="324.7" cy="162.4" r="3" fill="url(#gY)"/><circle cx="111.8" cy="76.5" r="2.4" fill="url(#gT)"/><circle cx="197.9" cy="108.5" r="2.4" fill="url(#gT)"/><circle cx="239.6" cy="172.1" r="2.4" fill="url(#gT)"/><circle cx="6.6" cy="156.7" r="1.9" fill="url(#gT)"/><circle cx="68.7" cy="98.1" r="2.3" fill="url(#gG)"/><circle cx="289.0" cy="96.8" r="3" fill="url(#gY)"/><circle cx="123.7" cy="133.6" r="2.4" fill="url(#gT)"/><circle cx="85.5" cy="135.2" r="2.3" fill="url(#gG)"/><circle cx="338.4" cy="21.4" r="3" fill="url(#gY)"/><circle cx="313.9" cy="132.0" r="3" fill="url(#gY)"/><circle cx="49.7" cy="53.1" r="2.3" fill="url(#gG)"/><circle cx="341.1" cy="140.6" r="3" fill="url(#gY)"/><circle cx="175.1" cy="94.7" r="2.4" fill="url(#gT)"/><circle cx="23.4" cy="111.5" r="2.3" fill="url(#gG)"/><circle cx="204.2" cy="129.5" r="2.4" fill="url(#gT)"/><circle cx="330.5" cy="117.0" r="3" fill="url(#gY)"/><circle cx="102.0" cy="130.0" r="2.6" fill="url(#gP)"/><circle cx="131.6" cy="189.7" r="2.8" fill="url(#gP)"/><circle cx="307.2" cy="154.3" r="3" fill="url(#gY)"/><circle cx="358.4" cy="127.4" r="3" fill="url(#gY)"/><circle cx="266.4" cy="188.4" r="2.4" fill="url(#gT)"/><circle cx="72.8" cy="33.3" r="2.3" fill="url(#gG)"/><circle cx="34.2" cy="152.5" r="2.3" fill="url(#gG)"/><circle cx="214.5" cy="153.7" r="2.6" fill="url(#gR)"/><circle cx="211.3" cy="156.1" r="2.4" fill="url(#gT)"/><circle cx="6.6" cy="134.2" r="1.9" fill="url(#gT)"/><circle cx="21.3" cy="135.5" r="2.3" fill="url(#gG)"/><circle cx="192.0" cy="37.3" r="2.6" fill="url(#gR)"/><circle cx="32.7" cy="149.2" r="2.3" fill="url(#gG)"/><circle cx="190.2" cy="193.4" r="2.4" fill="url(#gT)"/><circle cx="120.7" cy="168.1" r="2.4" fill="url(#gT)"/><circle cx="325.3" cy="26.8" r="3" fill="url(#gY)"/><circle cx="193.2" cy="28.7" r="2.4" fill="url(#gT)"/><circle cx="211.1" cy="53.6" r="2.4" fill="url(#gT)"/><circle cx="209.5" cy="40.5" r="2.4" fill="url(#gT)"/><circle cx="187.8" cy="99.2" r="2.4" fill="url(#gT)"/><circle cx="127.3" cy="80.1" r="2.4" fill="url(#gT)"/><circle cx="125.7" cy="68.1" r="2.4" fill="url(#gT)"/><circle cx="342.2" cy="179.1" r="3" fill="url(#gY)"/><circle cx="43.8" cy="142.3" r="2.3" fill="url(#gG)"/><circle cx="51.5" cy="181.7" r="2.3" fill="url(#gG)"/><circle cx="93.7" cy="49.9" r="2.3" fill="url(#gG)"/><circle cx="347.5" cy="1.5" r="3" fill="url(#gY)"/><circle cx="272.0" cy="2.7" r="3" fill="url(#gY)"/><circle cx="243.7" cy="69.0" r="2.6" fill="url(#gR)"/><circle cx="6.6" cy="47.9" r="1.9" fill="url(#gT)"/><circle cx="184.1" cy="97.5" r="2.4" fill="url(#gT)"/><circle cx="156.8" cy="157.5" r="2.4" fill="url(#gT)"/><circle cx="193.5" cy="184.7" r="2.4" fill="url(#gT)"/><circle cx="74.1" cy="30.6" r="2.3" fill="url(#gG)"/><circle cx="245.5" cy="57.8" r="2.4" fill="url(#gT)"/><circle cx="15.1" cy="33.5" r="2.3" fill="url(#gG)"/><circle cx="251.5" cy="27.4" r="2.6" fill="url(#gR)"/><circle cx="78.5" cy="136.0" r="2.3" fill="url(#gG)"/><circle cx="59.3" cy="101.2" r="2.3" fill="url(#gG)"/><circle cx="56.8" cy="172.8" r="2.5" fill="url(#gP)"/><circle cx="53.5" cy="60.3" r="2.3" fill="url(#gG)"/><circle cx="136.1" cy="137.5" r="2.6" fill="url(#gR)"/><circle cx="186.7" cy="101.8" r="2.4" fill="url(#gT)"/><circle cx="156.3" cy="134.0" r="2.6" fill="url(#gR)"/><circle cx="118.0" cy="142.5" r="2.4" fill="url(#gT)"/><circle cx="295.9" cy="8.9" r="3" fill="url(#gY)"/><circle cx="214.2" cy="186.4" r="2.4" fill="url(#gT)"/><circle cx="253.9" cy="191.4" r="2.4" fill="url(#gT)"/><circle cx="83.5" cy="132.1" r="2.3" fill="url(#gG)"/><circle cx="40.3" cy="128.8" r="2.3" fill="url(#gG)"/><circle cx="62.6" cy="101.7" r="2.3" fill="url(#gG)"/><circle cx="157.0" cy="189.7" r="2.4" fill="url(#gT)"/><circle cx="75.9" cy="111.3" r="2.3" fill="url(#gG)"/><circle cx="173.9" cy="33.4" r="2.4" fill="url(#gT)"/><circle cx="138.7" cy="132.2" r="2.4" fill="url(#gT)"/><circle cx="186.8" cy="105.3" r="2.4" fill="url(#gT)"/><circle cx="153.2" cy="183.4" r="2.4" fill="url(#gT)"/><circle cx="103.0" cy="150.0" r="2.6" fill="url(#gP)"/><circle cx="219.0" cy="79.4" r="2.4" fill="url(#gT)"/><circle cx="6.6" cy="130.4" r="1.9" fill="url(#gT)"/><circle cx="30.7" cy="40.4" r="2.3" fill="url(#gG)"/><circle cx="234.2" cy="47.9" r="2.4" fill="url(#gT)"/><circle cx="226.7" cy="188.3" r="2.4" fill="url(#gT)"/><circle cx="163.0" cy="113.0" r="2.4" fill="url(#gT)"/><circle cx="193.5" cy="177.5" r="2.6" fill="url(#gR)"/><circle cx="176.4" cy="154.6" r="2.4" fill="url(#gT)"/><circle cx="152.3" cy="177.4" r="2.4" fill="url(#gT)"/><circle cx="85.4" cy="128.8" r="2.3" fill="url(#gG)"/><circle cx="216.6" cy="14.4" r="2.4" fill="url(#gT)"/><circle cx="66.3" cy="36.5" r="2.3" fill="url(#gG)"/><circle cx="236.0" cy="26.4" r="2.4" fill="url(#gT)"/><circle cx="311.0" cy="125.5" r="3" fill="url(#gY)"/><circle cx="307.2" cy="169.4" r="3" fill="url(#gY)"/><circle cx="309.2" cy="140.9" r="3" fill="url(#gY)"/><circle cx="240.3" cy="147.8" r="2.4" fill="url(#gT)"/><circle cx="36.3" cy="141.7" r="2.3" fill="url(#gG)"/><circle cx="59.1" cy="50.2" r="2.3" fill="url(#gG)"/><circle cx="80.5" cy="13.5" r="2.3" fill="url(#gG)"/><circle cx="195.9" cy="5.4" r="2.6" fill="url(#gR)"/><circle cx="51.2" cy="17.0" r="2.3" fill="url(#gG)"/><circle cx="285.3" cy="127.6" r="3" fill="url(#gY)"/><circle cx="6.6" cy="92.9" r="1.9" fill="url(#gT)"/><circle cx="74.8" cy="181.8" r="2.3" fill="url(#gG)"/><circle cx="120.5" cy="182.0" r="2.6" fill="url(#gR)"/><circle cx="79.6" cy="33.4" r="2.3" fill="url(#gG)"/><circle cx="229.6" cy="180.1" r="2.4" fill="url(#gT)"/><circle cx="109.0" cy="78.5" r="2.4" fill="url(#gT)"/><circle cx="212.3" cy="135.9" r="2.6" fill="url(#gR)"/><circle cx="68.3" cy="165.7" r="2.3" fill="url(#gG)"/><circle cx="91.2" cy="46.4" r="2.3" fill="url(#gG)"/><circle cx="224.1" cy="81.0" r="2.6" fill="url(#gR)"/><circle cx="217.3" cy="176.2" r="2.4" fill="url(#gT)"/><circle cx="279.8" cy="125.8" r="3" fill="url(#gY)"/><circle cx="166.4" cy="142.8" r="2.6" fill="url(#gR)"/><circle cx="42.2" cy="146.0" r="2.3" fill="url(#gG)"/><circle cx="358.6" cy="104.3" r="3" fill="url(#gY)"/><circle cx="192.5" cy="3.4" r="2.4" fill="url(#gT)"/><circle cx="85.5" cy="107.5" r="2.3" fill="url(#gG)"/><circle cx="149.0" cy="78.0" r="2.6" fill="url(#gR)"/><circle cx="359.5" cy="76.1" r="3" fill="url(#gY)"/><circle cx="246.5" cy="139.5" r="2.6" fill="url(#gR)"/><circle cx="32.5" cy="23.7" r="2.3" fill="url(#gG)"/><circle cx="135.3" cy="175.8" r="2.4" fill="url(#gT)"/><circle cx="294.0" cy="188.8" r="3" fill="url(#gY)"/><circle cx="85.8" cy="74.7" r="2.3" fill="url(#gG)"/><circle cx="319.7" cy="101.2" r="3" fill="url(#gY)"/><circle cx="97.2" cy="10.1" r="2.3" fill="url(#gG)"/><circle cx="59.4" cy="81.2" r="2.3" fill="url(#gG)"/><circle cx="261.4" cy="131.4" r="2.4" fill="url(#gT)"/><circle cx="233.2" cy="168.9" r="2.4" fill="url(#gT)"/><circle cx="115.7" cy="115.1" r="2.4" fill="url(#gT)"/><circle cx="230.9" cy="26.2" r="2.4" fill="url(#gT)"/><circle cx="77.9" cy="162.2" r="2.3" fill="url(#gG)"/><circle cx="21.4" cy="101.8" r="2.3" fill="url(#gG)"/><circle cx="60.8" cy="178.9" r="2.3" fill="url(#gG)"/><circle cx="163.9" cy="149.2" r="2.4" fill="url(#gT)"/><circle cx="118.6" cy="113.0" r="2.4" fill="url(#gT)"/><circle cx="186.7" cy="39.6" r="2.4" fill="url(#gT)"/><circle cx="80.0" cy="104.6" r="2.3" fill="url(#gG)"/><circle cx="246.7" cy="68.6" r="2.4" fill="url(#gT)"/><circle cx="204.8" cy="53.9" r="2.4" fill="url(#gT)"/><circle cx="38.2" cy="165.7" r="2.3" fill="url(#gG)"/><circle cx="34.4" cy="139.0" r="2.3" fill="url(#gG)"/><circle cx="111.2" cy="0.2" r="1.3" fill="url(#gW)"/><circle cx="240.6" cy="41.1" r="1.3" fill="url(#gW)"/><circle cx="251.0" cy="137.5" r="1.3" fill="url(#gW)"/><circle cx="170.9" cy="154.9" r="1.3" fill="url(#gW)"/><circle cx="101.6" cy="149.0" r="1.3" fill="url(#gW)"/><circle cx="236.7" cy="109.7" r="1.3" fill="url(#gW)"/><circle cx="262.6" cy="119.1" r="1.3" fill="url(#gW)"/><circle cx="104.7" cy="115.6" r="1.3" fill="url(#gW)"/><circle cx="107.1" cy="110.6" r="1.3" fill="url(#gW)"/><circle cx="233.8" cy="170.0" r="1.3" fill="url(#gW)"/><circle cx="107.2" cy="71.9" r="1.3" fill="url(#gW)"/><circle cx="228.0" cy="183.8" r="1.3" fill="url(#gW)"/><circle cx="173.9" cy="131.7" r="1.3" fill="url(#gW)"/><circle cx="215.6" cy="3.4" r="1.3" fill="url(#gW)"/><circle cx="215.7" cy="40.5" r="1.3" fill="url(#gW)"/><circle cx="152.9" cy="165.8" r="1.3" fill="url(#gW)"/><circle cx="135.6" cy="105.8" r="1.3" fill="url(#gW)"/><circle cx="266.1" cy="60.3" r="1.3" fill="url(#gW)"/><circle cx="161.7" cy="151.5" r="1.3" fill="url(#gW)"/><circle cx="204.7" cy="-0.5" r="1.3" fill="url(#gW)"/><circle cx="141.2" cy="84.2" r="1.3" fill="url(#gW)"/><circle cx="147.5" cy="20.4" r="1.3" fill="url(#gW)"/><circle cx="223.6" cy="32.4" r="1.3" fill="url(#gW)"/><circle cx="190.6" cy="140.2" r="1.3" fill="url(#gW)"/><circle cx="117.4" cy="135.0" r="1.3" fill="url(#gW)"/><circle cx="111.0" cy="112.9" r="1.3" fill="url(#gW)"/><circle cx="169.8" cy="151.1" r="1.3" fill="url(#gW)"/><circle cx="146.8" cy="80.0" r="1.3" fill="url(#gW)"/><circle cx="235.5" cy="178.9" r="1.3" fill="url(#gW)"/><circle cx="202.4" cy="123.3" r="1.3" fill="url(#gW)"/><circle cx="144.9" cy="143.4" r="1.3" fill="url(#gW)"/><circle cx="261.4" cy="128.4" r="1.3" fill="url(#gW)"/><circle cx="271.6" cy="15.7" r="1.3" fill="url(#gW)"/><circle cx="271.8" cy="81.6" r="1.3" fill="url(#gW)"/><circle cx="251.6" cy="136.0" r="1.3" fill="url(#gW)"/><circle cx="179.4" cy="83.9" r="1.3" fill="url(#gW)"/><circle cx="221.9" cy="136.3" r="1.3" fill="url(#gW)"/><circle cx="275.1" cy="51.4" r="1.3" fill="url(#gW)"/><circle cx="165.2" cy="89.2" r="1.3" fill="url(#gW)"/><circle cx="163.4" cy="41.3" r="1.3" fill="url(#gW)"/><circle cx="142.0" cy="146.8" r="1.3" fill="url(#gW)"/><circle cx="199.1" cy="153.6" r="1.3" fill="url(#gW)"/><circle cx="266.5" cy="150.5" r="1.3" fill="url(#gW)"/><circle cx="203.5" cy="111.1" r="1.3" fill="url(#gW)"/><circle cx="258.5" cy="83.4" r="1.3" fill="url(#gW)"/><circle cx="165.5" cy="22.5" r="1.3" fill="url(#gW)"/><circle cx="213.0" cy="80.7" r="1.3" fill="url(#gW)"/><circle cx="172.9" cy="111.1" r="1.3" fill="url(#gW)"/><circle cx="277.1" cy="108.4" r="1.3" fill="url(#gW)"/><circle cx="148.5" cy="187.5" r="1.3" fill="url(#gW)"/><circle cx="224.7" cy="95.7" r="1.3" fill="url(#gW)"/><circle cx="213.0" cy="148.5" r="1.3" fill="url(#gW)"/><circle cx="213.0" cy="21.9" r="1.3" fill="url(#gW)"/><circle cx="158.3" cy="30.6" r="1.3" fill="url(#gW)"/><circle cx="226.6" cy="12.0" r="1.3" fill="url(#gW)"/><circle cx="201.6" cy="0.5" r="1.3" fill="url(#gW)"/><circle cx="231.3" cy="54.3" r="1.3" fill="url(#gW)"/><circle cx="148.7" cy="85.9" r="1.3" fill="url(#gW)"/><circle cx="216.4" cy="90.3" r="1.3" fill="url(#gW)"/><circle cx="262.3" cy="142.1" r="1.3" fill="url(#gW)"/><circle cx="233.6" cy="119.5" r="1.3" fill="url(#gW)"/><circle cx="163.8" cy="120.0" r="1.3" fill="url(#gW)"/><circle cx="249.2" cy="120.4" r="1.3" fill="url(#gW)"/><circle cx="178.9" cy="31.6" r="1.3" fill="url(#gW)"/><circle cx="260.5" cy="75.3" r="1.3" fill="url(#gW)"/><circle cx="224.3" cy="34.4" r="1.3" fill="url(#gW)"/><circle cx="181.7" cy="66.4" r="1.3" fill="url(#gW)"/><circle cx="157.5" cy="115.6" r="1.3" fill="url(#gW)"/><circle cx="235.8" cy="66.3" r="1.3" fill="url(#gW)"/><circle cx="172.8" cy="30.2" r="1.3" fill="url(#gW)"/><circle cx="126.1" cy="61.0" r="1.3" fill="url(#gW)"/><circle cx="196.8" cy="170.6" r="1.3" fill="url(#gW)"/><circle cx="191.2" cy="60.3" r="1.3" fill="url(#gW)"/><circle cx="247.3" cy="99.0" r="1.3" fill="url(#gW)"/><circle cx="165.4" cy="147.5" r="1.3" fill="url(#gW)"/><circle cx="108.0" cy="188.6" r="1.3" fill="url(#gW)"/><circle cx="166.0" cy="71.2" r="1.3" fill="url(#gW)"/><circle cx="228.9" cy="125.4" r="1.3" fill="url(#gW)"/><circle cx="97.2" cy="162.3" r="1.3" fill="url(#gW)"/><circle cx="153.3" cy="107.7" r="1.3" fill="url(#gW)"/><circle cx="169.5" cy="185.4" r="1.3" fill="url(#gW)"/><circle cx="122.4" cy="63.1" r="1.3" fill="url(#gW)"/><circle cx="180.1" cy="8.4" r="1.3" fill="url(#gW)"/><circle cx="264.3" cy="82.7" r="1.3" fill="url(#gW)"/><circle cx="191.1" cy="156.7" r="1.3" fill="url(#gW)"/><circle cx="216.6" cy="93.6" r="1.3" fill="url(#gW)"/><circle cx="223.3" cy="146.0" r="1.3" fill="url(#gW)"/><circle cx="178.7" cy="78.2" r="1.3" fill="url(#gW)"/><circle cx="220.6" cy="70.9" r="1.3" fill="url(#gW)"/><circle cx="163.2" cy="101.2" r="1.3" fill="url(#gW)"/><circle cx="199.0" cy="65.1" r="1.3" fill="url(#gW)"/><circle cx="159.9" cy="168.6" r="1.3" fill="url(#gW)"/><circle cx="262.4" cy="90.0" r="1.3" fill="url(#gW)"/><circle cx="153.3" cy="49.4" r="1.3" fill="url(#gW)"/><circle cx="257.5" cy="59.5" r="1.3" fill="url(#gW)"/><circle cx="259.0" cy="70.1" r="1.3" fill="url(#gW)"/><circle cx="187.9" cy="108.1" r="1.3" fill="url(#gW)"/><circle cx="228.2" cy="6.2" r="1.3" fill="url(#gW)"/><circle cx="231.0" cy="163.3" r="1.3" fill="url(#gW)"/><circle cx="259.4" cy="57.8" r="1.3" fill="url(#gW)"/><circle cx="158.0" cy="83.8" r="1.3" fill="url(#gW)"/><circle cx="158.6" cy="160.4" r="1.3" fill="url(#gW)"/><circle cx="209.6" cy="143.5" r="1.3" fill="url(#gW)"/><circle cx="279.3" cy="161.6" r="1.3" fill="url(#gW)"/><circle cx="235.3" cy="-0.3" r="1.3" fill="url(#gW)"/><circle cx="241.3" cy="86.0" r="1.3" fill="url(#gW)"/><circle cx="145.3" cy="30.5" r="1.3" fill="url(#gW)"/><circle cx="210.9" cy="186.0" r="1.3" fill="url(#gW)"/><circle cx="175.6" cy="161.5" r="1.3" fill="url(#gW)"/><circle cx="202.9" cy="182.6" r="1.3" fill="url(#gW)"/><circle cx="193.4" cy="95.7" r="1.3" fill="url(#gW)"/><circle cx="237.1" cy="154.5" r="1.3" fill="url(#gW)"/><circle cx="225.2" cy="153.3" r="1.3" fill="url(#gW)"/><circle cx="160.4" cy="171.9" r="1.3" fill="url(#gW)"/><circle cx="155.0" cy="38.9" r="1.3" fill="url(#gW)"/><circle cx="135.5" cy="74.1" r="1.3" fill="url(#gW)"/><circle cx="252.0" cy="193.7" r="1.3" fill="url(#gW)"/><circle cx="158.3" cy="134.1" r="1.3" fill="url(#gW)"/><circle cx="117.5" cy="165.6" r="1.3" fill="url(#gW)"/><circle cx="150.3" cy="115.0" r="1.3" fill="url(#gW)"/><circle cx="229.5" cy="80.9" r="1.3" fill="url(#gW)"/><circle cx="125.9" cy="22.1" r="1.3" fill="url(#gW)"/><circle cx="143.1" cy="146.0" r="1.3" fill="url(#gW)"/><circle cx="260.5" cy="83.5" r="1.3" fill="url(#gW)"/><circle cx="179.1" cy="102.8" r="1.3" fill="url(#gW)"/><circle cx="216.6" cy="43.2" r="1.3" fill="url(#gW)"/><circle cx="272.0" cy="33.6" r="1.3" fill="url(#gW)"/><circle cx="118.1" cy="107.1" r="1.3" fill="url(#gW)"/><circle cx="220.6" cy="131.2" r="1.3" fill="url(#gW)"/><circle cx="183.5" cy="121.1" r="1.3" fill="url(#gW)"/><circle cx="203.2" cy="12.7" r="1.3" fill="url(#gW)"/><circle cx="160.2" cy="115.5" r="1.3" fill="url(#gW)"/><circle cx="250.7" cy="142.7" r="1.3" fill="url(#gW)"/><circle cx="194.9" cy="26.3" r="1.3" fill="url(#gW)"/><circle cx="253.6" cy="129.7" r="1.3" fill="url(#gW)"/><circle cx="232.0" cy="46.7" r="1.3" fill="url(#gW)"/><circle cx="154.9" cy="179.0" r="1.3" fill="url(#gW)"/><circle cx="208.6" cy="113.5" r="1.3" fill="url(#gW)"/><circle cx="194.2" cy="146.1" r="1.3" fill="url(#gW)"/><circle cx="101.9" cy="118.9" r="1.3" fill="url(#gW)"/><circle cx="218.2" cy="1.2" r="1.3" fill="url(#gW)"/><circle cx="264.1" cy="38.1" r="1.3" fill="url(#gW)"/><circle cx="261.4" cy="153.8" r="1.3" fill="url(#gW)"/><circle cx="256.1" cy="181.8" r="1.3" fill="url(#gW)"/><circle cx="236.4" cy="153.3" r="1.3" fill="url(#gW)"/><circle cx="235.8" cy="55.5" r="1.3" fill="url(#gW)"/><circle cx="120.4" cy="154.1" r="1.3" fill="url(#gW)"/><circle cx="170.3" cy="182.0" r="1.3" fill="url(#gW)"/><circle cx="125.6" cy="131.3" r="1.3" fill="url(#gW)"/><circle cx="220.2" cy="44.7" r="1.3" fill="url(#gW)"/><circle cx="184.1" cy="18.6" r="1.3" fill="url(#gW)"/><circle cx="274.7" cy="109.7" r="1.3" fill="url(#gW)"/><circle cx="205.7" cy="190.5" r="1.3" fill="url(#gW)"/><circle cx="112.2" cy="30.1" r="1.3" fill="url(#gW)"/><circle cx="177.2" cy="59.1" r="1.3" fill="url(#gW)"/><circle cx="283.8" cy="156.1" r="1.3" fill="url(#gW)"/><circle cx="151.5" cy="83.9" r="1.3" fill="url(#gW)"/><circle cx="171.9" cy="36.7" r="1.3" fill="url(#gW)"/><circle cx="203.2" cy="130.4" r="1.3" fill="url(#gW)"/><circle cx="170.5" cy="79.4" r="1.3" fill="url(#gW)"/><circle cx="157.1" cy="160.5" r="1.3" fill="url(#gW)"/><circle cx="208.3" cy="22.9" r="1.3" fill="url(#gW)"/><circle cx="274.3" cy="2.8" r="1.3" fill="url(#gW)"/><circle cx="277.9" cy="134.9" r="1.3" fill="url(#gW)"/><circle cx="228.8" cy="34.1" r="1.3" fill="url(#gW)"/><circle cx="221.0" cy="159.2" r="1.3" fill="url(#gW)"/><circle cx="199.8" cy="24.3" r="1.3" fill="url(#gW)"/><circle cx="210.7" cy="124.1" r="1.3" fill="url(#gW)"/><circle cx="204.6" cy="89.9" r="1.3" fill="url(#gW)"/><circle cx="193.4" cy="106.8" r="1.3" fill="url(#gW)"/><circle cx="153.2" cy="186.5" r="1.3" fill="url(#gW)"/><circle cx="248.4" cy="118.6" r="1.3" fill="url(#gW)"/><circle cx="105.1" cy="122.5" r="1.3" fill="url(#gW)"/><circle cx="229.0" cy="91.5" r="1.3" fill="url(#gW)"/><circle cx="170.3" cy="137.4" r="1.3" fill="url(#gW)"/><circle cx="250.3" cy="114.9" r="1.3" fill="url(#gW)"/><circle cx="229.5" cy="151.0" r="1.3" fill="url(#gW)"/><circle cx="146.7" cy="143.7" r="1.3" fill="url(#gW)"/><circle cx="265.9" cy="48.4" r="1.3" fill="url(#gW)"/><circle cx="277.9" cy="36.7" r="1.3" fill="url(#gW)"/><circle cx="149.0" cy="121.3" r="1.3" fill="url(#gW)"/><circle cx="202.5" cy="112.5" r="1.3" fill="url(#gW)"/><circle cx="196.8" cy="74.5" r="1.3" fill="url(#gW)"/><circle cx="182.2" cy="60.1" r="1.3" fill="url(#gW)"/><circle cx="208.6" cy="4.4" r="1.3" fill="url(#gW)"/><circle cx="195.8" cy="168.2" r="1.3" fill="url(#gW)"/><circle cx="110.8" cy="50.0" r="1.3" fill="url(#gW)"/><circle cx="145.5" cy="84.3" r="1.3" fill="url(#gW)"/><circle cx="193.5" cy="128.5" r="1.3" fill="url(#gW)"/><circle cx="179.6" cy="28.0" r="1.3" fill="url(#gW)"/><circle cx="241.5" cy="53.4" r="1.3" fill="url(#gW)"/><circle cx="222.0" cy="14.3" r="1.3" fill="url(#gW)"/><circle cx="271.0" cy="190.1" r="1.3" fill="url(#gW)"/><circle cx="256.4" cy="54.6" r="1.3" fill="url(#gW)"/><circle cx="221.2" cy="65.7" r="1.3" fill="url(#gW)"/><circle cx="187.7" cy="141.4" r="1.3" fill="url(#gW)"/><circle cx="145.8" cy="88.1" r="1.3" fill="url(#gW)"/><circle cx="97.1" cy="148.3" r="1.3" fill="url(#gW)"/><circle cx="260.7" cy="14.3" r="1.3" fill="url(#gW)"/><circle cx="109.5" cy="75.6" r="1.3" fill="url(#gW)"/><circle cx="267.8" cy="55.7" r="1.3" fill="url(#gW)"/><circle cx="154.5" cy="149.2" r="1.3" fill="url(#gW)"/><circle cx="177.8" cy="30.2" r="1.3" fill="url(#gW)"/><circle cx="138.8" cy="118.8" r="1.3" fill="url(#gW)"/><circle cx="135.0" cy="163.1" r="1.3" fill="url(#gW)"/><circle cx="248.4" cy="71.1" r="1.3" fill="url(#gW)"/><circle cx="283.9" cy="160.8" r="1.3" fill="url(#gW)"/><circle cx="187.1" cy="98.1" r="1.3" fill="url(#gW)"/><circle cx="199.6" cy="65.8" r="1.3" fill="url(#gW)"/><circle cx="263.7" cy="70.1" r="1.3" fill="url(#gW)"/><circle cx="252.7" cy="105.6" r="1.3" fill="url(#gW)"/><circle cx="219.3" cy="92.3" r="1.3" fill="url(#gW)"/><circle cx="223.0" cy="23.8" r="1.3" fill="url(#gW)"/><circle cx="238.1" cy="128.9" r="1.3" fill="url(#gW)"/><circle cx="99.9" cy="80.1" r="1.3" fill="url(#gW)"/><circle cx="149.3" cy="23.9" r="1.3" fill="url(#gW)"/><circle cx="211.1" cy="54.8" r="1.3" fill="url(#gW)"/><circle cx="118.4" cy="1.5" r="1.3" fill="url(#gW)"/><circle cx="276.2" cy="186.5" r="1.3" fill="url(#gW)"/><circle cx="130.3" cy="128.2" r="1.3" fill="url(#gW)"/><circle cx="150.4" cy="128.2" r="1.3" fill="url(#gW)"/><circle cx="243.9" cy="78.7" r="1.3" fill="url(#gW)"/><circle cx="121.7" cy="29.3" r="1.3" fill="url(#gW)"/><circle cx="142.1" cy="94.7" r="1.3" fill="url(#gW)"/><circle cx="219.0" cy="67.6" r="1.3" fill="url(#gW)"/><circle cx="270.0" cy="114.5" r="1.3" fill="url(#gW)"/><circle cx="268.3" cy="191.3" r="1.3" fill="url(#gW)"/><circle cx="256.3" cy="9.0" r="1.3" fill="url(#gW)"/><circle cx="195.8" cy="78.4" r="1.3" fill="url(#gW)"/><circle cx="191.1" cy="1.1" r="1.3" fill="url(#gW)"/><circle cx="148.9" cy="74.6" r="1.3" fill="url(#gW)"/><circle cx="272.1" cy="20.7" r="1.3" fill="url(#gW)"/><circle cx="154.0" cy="108.6" r="1.3" fill="url(#gW)"/><circle cx="122.7" cy="155.5" r="1.3" fill="url(#gW)"/><circle cx="129.1" cy="186.2" r="1.3" fill="url(#gW)"/><circle cx="221.8" cy="147.7" r="1.3" fill="url(#gW)"/><circle cx="212.4" cy="48.2" r="1.3" fill="url(#gW)"/><circle cx="117.5" cy="158.8" r="1.3" fill="url(#gW)"/><circle cx="199.7" cy="42.1" r="1.3" fill="url(#gW)"/><circle cx="130.2" cy="80.7" r="1.3" fill="url(#gW)"/><circle cx="258.4" cy="191.7" r="1.3" fill="url(#gW)"/><circle cx="242.0" cy="143.3" r="1.3" fill="url(#gW)"/><circle cx="241.0" cy="110.1" r="1.3" fill="url(#gW)"/><circle cx="143.0" cy="60.2" r="1.3" fill="url(#gW)"/><circle cx="142.8" cy="0.8" r="1.3" fill="url(#gW)"/><circle cx="246.4" cy="122.3" r="1.3" fill="url(#gW)"/><circle cx="202.5" cy="5.0" r="1.3" fill="url(#gW)"/><circle cx="262.2" cy="11.6" r="1.3" fill="url(#gW)"/><circle cx="117.3" cy="115.7" r="1.3" fill="url(#gW)"/><circle cx="138.1" cy="61.4" r="1.3" fill="url(#gW)"/><circle cx="141.2" cy="169.5" r="1.3" fill="url(#gW)"/><circle cx="276.6" cy="131.7" r="1.3" fill="url(#gW)"/><circle cx="204.1" cy="156.1" r="1.3" fill="url(#gW)"/><circle cx="103.1" cy="77.2" r="1.3" fill="url(#gW)"/><circle cx="265.5" cy="171.0" r="1.3" fill="url(#gW)"/><circle cx="142.4" cy="8.0" r="1.3" fill="url(#gW)"/><circle cx="251.5" cy="25.4" r="1.3" fill="url(#gW)"/><circle cx="211.7" cy="96.7" r="1.3" fill="url(#gW)"/><circle cx="115.6" cy="159.2" r="1.3" fill="url(#gW)"/><circle cx="173.9" cy="58.6" r="1.3" fill="url(#gW)"/><circle cx="159.4" cy="80.6" r="1.3" fill="url(#gW)"/><circle cx="263.9" cy="58.3" r="1.3" fill="url(#gW)"/><circle cx="197.2" cy="-3.0" r="1.3" fill="url(#gW)"/><circle cx="264.8" cy="184.9" r="1.3" fill="url(#gW)"/><circle cx="110.0" cy="61.9" r="1.3" fill="url(#gW)"/><circle cx="162.4" cy="136.6" r="1.3" fill="url(#gW)"/><circle cx="213.4" cy="62.0" r="1.3" fill="url(#gW)"/><circle cx="274.9" cy="72.1" r="1.3" fill="url(#gW)"/><circle cx="266.8" cy="24.4" r="1.3" fill="url(#gW)"/><circle cx="222.2" cy="22.0" r="1.3" fill="url(#gW)"/><circle cx="263.9" cy="85.9" r="1.3" fill="url(#gW)"/><circle cx="102.6" cy="37.0" r="1.3" fill="url(#gW)"/><circle cx="212.5" cy="167.7" r="1.3" fill="url(#gW)"/><circle cx="121.0" cy="167.5" r="1.3" fill="url(#gW)"/><circle cx="262.2" cy="106.6" r="1.3" fill="url(#gW)"/><circle cx="157.5" cy="112.1" r="1.3" fill="url(#gW)"/><circle cx="264.8" cy="178.7" r="1.3" fill="url(#gW)"/><circle cx="269.4" cy="45.6" r="1.3" fill="url(#gW)"/><circle cx="132.2" cy="47.8" r="1.3" fill="url(#gW)"/><circle cx="206.5" cy="40.7" r="1.3" fill="url(#gW)"/><circle cx="142.4" cy="65.6" r="1.3" fill="url(#gW)"/><circle cx="219.9" cy="151.6" r="1.3" fill="url(#gW)"/><circle cx="103.5" cy="171.3" r="1.3" fill="url(#gW)"/><circle cx="263.9" cy="129.8" r="1.3" fill="url(#gW)"/><circle cx="246.3" cy="170.8" r="1.3" fill="url(#gW)"/><circle cx="226.7" cy="129.8" r="1.3" fill="url(#gW)"/><circle cx="138.9" cy="72.7" r="1.3" fill="url(#gW)"/><circle cx="211.1" cy="49.3" r="1.3" fill="url(#gW)"/><circle cx="102.7" cy="87.7" r="1.3" fill="url(#gW)"/><circle cx="180.3" cy="77.6" r="1.3" fill="url(#gW)"/><circle cx="121.4" cy="154.3" r="1.3" fill="url(#gW)"/><circle cx="223.7" cy="167.9" r="1.3" fill="url(#gW)"/><circle cx="246.1" cy="117.3" r="1.3" fill="url(#gW)"/><circle cx="140.0" cy="162.9" r="1.3" fill="url(#gW)"/><circle cx="231.2" cy="182.6" r="1.3" fill="url(#gW)"/><circle cx="266.4" cy="161.6" r="1.3" fill="url(#gW)"/><circle cx="149.0" cy="164.3" r="1.3" fill="url(#gW)"/><circle cx="236.7" cy="100.8" r="1.3" fill="url(#gW)"/><circle cx="264.5" cy="112.6" r="1.3" fill="url(#gW)"/><circle cx="174.2" cy="58.9" r="1.3" fill="url(#gW)"/><circle cx="203.5" cy="152.3" r="1.3" fill="url(#gW)"/><circle cx="133.3" cy="61.8" r="1.3" fill="url(#gW)"/><circle cx="273.3" cy="176.7" r="1.3" fill="url(#gW)"/><circle cx="119.1" cy="139.7" r="1.3" fill="url(#gW)"/><circle cx="185.7" cy="135.8" r="1.3" fill="url(#gW)"/><circle cx="204.3" cy="98.1" r="1.3" fill="url(#gW)"/><circle cx="202.5" cy="179.2" r="1.3" fill="url(#gW)"/><circle cx="198.2" cy="131.5" r="1.3" fill="url(#gW)"/><circle cx="203.4" cy="141.7" r="1.3" fill="url(#gW)"/><circle cx="176.7" cy="97.2" r="1.3" fill="url(#gW)"/><circle cx="237.2" cy="125.0" r="1.3" fill="url(#gW)"/><circle cx="246.2" cy="56.2" r="1.3" fill="url(#gW)"/><circle cx="224.0" cy="15.8" r="1.3" fill="url(#gW)"/><circle cx="110.7" cy="187.3" r="1.3" fill="url(#gW)"/><circle cx="218.9" cy="16.1" r="1.3" fill="url(#gW)"/><circle cx="190.6" cy="156.7" r="1.3" fill="url(#gW)"/><circle cx="244.2" cy="164.5" r="1.3" fill="url(#gW)"/><circle cx="185.2" cy="183.7" r="1.3" fill="url(#gW)"/><circle cx="237.4" cy="27.7" r="1.3" fill="url(#gW)"/><circle cx="152.5" cy="109.5" r="1.3" fill="url(#gW)"/><circle cx="191.1" cy="21.9" r="1.3" fill="url(#gW)"/><circle cx="136.7" cy="6.6" r="1.3" fill="url(#gW)"/><circle cx="163.3" cy="100.0" r="1.3" fill="url(#gW)"/><circle cx="217.7" cy="84.2" r="1.3" fill="url(#gW)"/><circle cx="242.7" cy="184.1" r="1.3" fill="url(#gW)"/><circle cx="155.2" cy="165.3" r="1.3" fill="url(#gW)"/><circle cx="266.4" cy="57.2" r="1.3" fill="url(#gW)"/><circle cx="235.7" cy="170.6" r="1.3" fill="url(#gW)"/><circle cx="206.2" cy="97.4" r="1.3" fill="url(#gW)"/><circle cx="109.9" cy="105.7" r="1.3" fill="url(#gW)"/><circle cx="184.1" cy="85.9" r="1.3" fill="url(#gW)"/><circle cx="234.0" cy="34.5" r="1.3" fill="url(#gW)"/><circle cx="197.0" cy="88.1" r="1.3" fill="url(#gW)"/><circle cx="132.3" cy="67.9" r="1.3" fill="url(#gW)"/><circle cx="133.0" cy="179.4" r="1.3" fill="url(#gW)"/><circle cx="191.5" cy="30.1" r="1.3" fill="url(#gW)"/><circle cx="249.8" cy="84.0" r="1.3" fill="url(#gW)"/><circle cx="224.3" cy="4.9" r="1.3" fill="url(#gW)"/><circle cx="253.7" cy="68.0" r="1.3" fill="url(#gW)"/><circle cx="254.2" cy="40.0" r="1.3" fill="url(#gW)"/><circle cx="146.3" cy="159.3" r="1.3" fill="url(#gW)"/><circle cx="184.7" cy="45.6" r="1.3" fill="url(#gW)"/><circle cx="192.3" cy="70.4" r="1.3" fill="url(#gW)"/><circle cx="153.5" cy="10.9" r="1.3" fill="url(#gW)"/><circle cx="162.1" cy="58.8" r="1.3" fill="url(#gW)"/><circle cx="271.5" cy="136.5" r="1.3" fill="url(#gW)"/><circle cx="123.6" cy="85.3" r="1.3" fill="url(#gW)"/><circle cx="225.3" cy="69.8" r="1.3" fill="url(#gW)"/><circle cx="265.6" cy="187.5" r="1.3" fill="url(#gW)"/><circle cx="145.0" cy="161.0" r="1.3" fill="url(#gW)"/><circle cx="154.5" cy="123.0" r="1.3" fill="url(#gW)"/><circle cx="256.8" cy="77.8" r="1.3" fill="url(#gW)"/><circle cx="240.3" cy="183.6" r="1.3" fill="url(#gW)"/><circle cx="108.9" cy="20.0" r="1.3" fill="url(#gW)"/><circle cx="267.1" cy="46.7" r="1.3" fill="url(#gW)"/><circle cx="162.4" cy="68.0" r="1.3" fill="url(#gW)"/><circle cx="168.9" cy="165.6" r="1.3" fill="url(#gW)"/><circle cx="135.8" cy="28.9" r="1.3" fill="url(#gW)"/><circle cx="156.3" cy="61.8" r="1.3" fill="url(#gW)"/><circle cx="191.1" cy="117.1" r="1.3" fill="url(#gW)"/><circle cx="147.1" cy="6.5" r="1.3" fill="url(#gW)"/><circle cx="260.0" cy="36.9" r="1.3" fill="url(#gW)"/><circle cx="257.2" cy="40.6" r="1.3" fill="url(#gW)"/><circle cx="172.6" cy="145.8" r="1.3" fill="url(#gW)"/><circle cx="188.4" cy="118.4" r="1.3" fill="url(#gW)"/><circle cx="237.2" cy="164.4" r="1.3" fill="url(#gW)"/><circle cx="164.2" cy="70.6" r="1.3" fill="url(#gW)"/><circle cx="154.9" cy="8.4" r="1.3" fill="url(#gW)"/><circle cx="247.4" cy="19.6" r="1.3" fill="url(#gW)"/><circle cx="171.9" cy="97.6" r="1.3" fill="url(#gW)"/><circle cx="240.7" cy="109.6" r="1.3" fill="url(#gW)"/><circle cx="187.9" cy="99.4" r="1.3" fill="url(#gW)"/><circle cx="208.9" cy="85.5" r="1.3" fill="url(#gW)"/><circle cx="274.0" cy="101.1" r="1.3" fill="url(#gW)"/><circle cx="156.5" cy="114.2" r="1.3" fill="url(#gW)"/><circle cx="179.5" cy="166.7" r="1.3" fill="url(#gW)"/><circle cx="155.0" cy="13.9" r="1.3" fill="url(#gW)"/><circle cx="212.9" cy="107.5" r="1.3" fill="url(#gW)"/><circle cx="127.8" cy="92.4" r="1.3" fill="url(#gW)"/><circle cx="121.9" cy="91.7" r="1.3" fill="url(#gW)"/><circle cx="168.6" cy="132.7" r="1.3" fill="url(#gW)"/><circle cx="236.1" cy="77.5" r="1.3" fill="url(#gW)"/><circle cx="188.4" cy="6.4" r="1.3" fill="url(#gW)"/><circle cx="269.8" cy="157.1" r="1.3" fill="url(#gW)"/><circle cx="205.2" cy="126.6" r="1.3" fill="url(#gW)"/><circle cx="106.9" cy="2.3" r="1.3" fill="url(#gW)"/><circle cx="134.4" cy="134.0" r="1.3" fill="url(#gW)"/><circle cx="132.4" cy="100.5" r="1.3" fill="url(#gW)"/><circle cx="274.3" cy="90.1" r="1.3" fill="url(#gW)"/><circle cx="146.5" cy="34.0" r="1.3" fill="url(#gW)"/><circle cx="113.5" cy="111.1" r="1.3" fill="url(#gW)"/><circle cx="175.9" cy="192.3" r="1.3" fill="url(#gW)"/><circle cx="204.6" cy="131.0" r="1.3" fill="url(#gW)"/><circle cx="235.0" cy="166.7" r="1.3" fill="url(#gW)"/><circle cx="134.1" cy="178.5" r="1.3" fill="url(#gW)"/><circle cx="98.2" cy="150.2" r="1.3" fill="url(#gW)"/><circle cx="162.8" cy="37.0" r="1.3" fill="url(#gW)"/><circle cx="165.0" cy="137.4" r="1.3" fill="url(#gW)"/><circle cx="123.6" cy="168.9" r="1.3" fill="url(#gW)"/><circle cx="233.8" cy="155.4" r="1.3" fill="url(#gW)"/><circle cx="264.5" cy="35.2" r="1.3" fill="url(#gW)"/><circle cx="137.5" cy="195.6" r="1.3" fill="url(#gW)"/><circle cx="240.2" cy="156.3" r="1.3" fill="url(#gW)"/><circle cx="160.5" cy="159.7" r="1.3" fill="url(#gW)"/><circle cx="257.6" cy="39.5" r="1.3" fill="url(#gW)"/><circle cx="138.3" cy="48.9" r="1.3" fill="url(#gW)"/><circle cx="136.9" cy="25.3" r="1.3" fill="url(#gW)"/><circle cx="204.2" cy="60.0" r="1.3" fill="url(#gW)"/><circle cx="211.2" cy="47.9" r="1.3" fill="url(#gW)"/><circle cx="219.1" cy="182.1" r="1.3" fill="url(#gW)"/><circle cx="115.8" cy="166.4" r="1.3" fill="url(#gW)"/><circle cx="245.2" cy="78.5" r="1.3" fill="url(#gW)"/><circle cx="225.1" cy="80.5" r="1.3" fill="url(#gW)"/><circle cx="193.7" cy="155.3" r="1.3" fill="url(#gW)"/><circle cx="133.7" cy="165.1" r="1.3" fill="url(#gW)"/><circle cx="236.3" cy="142.2" r="1.3" fill="url(#gW)"/><circle cx="181.5" cy="109.1" r="1.3" fill="url(#gW)"/><circle cx="189.7" cy="96.2" r="1.3" fill="url(#gW)"/><circle cx="216.9" cy="77.2" r="1.3" fill="url(#gW)"/><circle cx="202.4" cy="115.1" r="1.3" fill="url(#gW)"/><circle cx="189.5" cy="3.4" r="1.3" fill="url(#gW)"/><circle cx="130.7" cy="73.0" r="1.3" fill="url(#gW)"/><circle cx="267.8" cy="3.7" r="1.3" fill="url(#gW)"/><circle cx="231.1" cy="16.0" r="1.3" fill="url(#gW)"/><circle cx="238.1" cy="21.7" r="1.3" fill="url(#gW)"/><circle cx="150.3" cy="86.3" r="1.3" fill="url(#gW)"/><circle cx="229.1" cy="64.1" r="1.3" fill="url(#gW)"/><circle cx="267.5" cy="27.7" r="1.3" fill="url(#gW)"/><circle cx="246.3" cy="164.5" r="1.3" fill="url(#gW)"/><circle cx="264.9" cy="85.3" r="1.3" fill="url(#gW)"/><circle cx="142.9" cy="50.7" r="1.3" fill="url(#gW)"/><circle cx="229.7" cy="120.3" r="1.3" fill="url(#gW)"/><circle cx="280.9" cy="83.6" r="1.3" fill="url(#gW)"/><circle cx="211.7" cy="23.3" r="1.3" fill="url(#gW)"/><circle cx="254.4" cy="80.4" r="1.3" fill="url(#gW)"/><circle cx="251.3" cy="185.4" r="1.3" fill="url(#gW)"/><circle cx="242.4" cy="47.4" r="1.3" fill="url(#gW)"/><circle cx="208.4" cy="90.6" r="1.3" fill="url(#gW)"/><circle cx="139.1" cy="25.0" r="1.3" fill="url(#gW)"/><circle cx="213.7" cy="189.4" r="1.3" fill="url(#gW)"/><circle cx="225.0" cy="131.4" r="1.3" fill="url(#gW)"/><circle cx="217.5" cy="92.6" r="1.3" fill="url(#gW)"/><circle cx="156.4" cy="181.6" r="1.3" fill="url(#gW)"/><circle cx="159.7" cy="178.6" r="1.3" fill="url(#gW)"/><circle cx="113.7" cy="0.3" r="1.3" fill="url(#gW)"/><circle cx="170.5" cy="104.8" r="1.3" fill="url(#gW)"/><circle cx="141.2" cy="38.6" r="1.3" fill="url(#gW)"/><circle cx="147.2" cy="138.1" r="1.3" fill="url(#gW)"/><circle cx="146.0" cy="16.6" r="1.3" fill="url(#gW)"/><circle cx="170.4" cy="112.6" r="1.3" fill="url(#gW)"/><circle cx="279.4" cy="17.6" r="1.3" fill="url(#gW)"/><circle cx="271.7" cy="164.7" r="1.3" fill="url(#gW)"/><circle cx="268.5" cy="135.5" r="1.3" fill="url(#gW)"/><circle cx="251.3" cy="189.0" r="1.3" fill="url(#gW)"/><circle cx="209.1" cy="80.9" r="1.3" fill="url(#gW)"/><circle cx="213.0" cy="67.0" r="1.3" fill="url(#gW)"/><circle cx="198.9" cy="162.2" r="1.3" fill="url(#gW)"/><circle cx="269.8" cy="76.8" r="1.3" fill="url(#gW)"/><circle cx="183.1" cy="151.5" r="1.3" fill="url(#gW)"/><circle cx="179.5" cy="103.2" r="1.3" fill="url(#gW)"/><circle cx="150.3" cy="59.0" r="1.3" fill="url(#gW)"/><circle cx="276.5" cy="149.3" r="1.3" fill="url(#gW)"/><circle cx="174.0" cy="185.4" r="1.3" fill="url(#gW)"/><circle cx="205.2" cy="81.9" r="1.3" fill="url(#gW)"/><circle cx="211.7" cy="108.8" r="1.3" fill="url(#gW)"/><circle cx="198.6" cy="79.1" r="1.3" fill="url(#gW)"/><circle cx="256.8" cy="96.4" r="1.3" fill="url(#gW)"/><circle cx="239.5" cy="20.3" r="1.3" fill="url(#gW)"/><circle cx="165.2" cy="169.1" r="1.3" fill="url(#gW)"/><circle cx="244.7" cy="159.6" r="1.3" fill="url(#gW)"/><circle cx="221.5" cy="110.1" r="1.3" fill="url(#gW)"/><circle cx="128.7" cy="77.0" r="1.3" fill="url(#gW)"/><circle cx="183.4" cy="161.0" r="1.3" fill="url(#gW)"/><circle cx="192.3" cy="187.5" r="1.3" fill="url(#gW)"/><circle cx="218.5" cy="109.1" r="1.3" fill="url(#gW)"/><circle cx="215.1" cy="156.2" r="1.3" fill="url(#gW)"/><circle cx="117.7" cy="172.9" r="1.3" fill="url(#gW)"/><circle cx="258.4" cy="35.3" r="1.3" fill="url(#gW)"/><circle cx="150.8" cy="69.5" r="1.3" fill="url(#gW)"/><circle cx="193.6" cy="104.0" r="1.3" fill="url(#gW)"/><circle cx="140.6" cy="3.1" r="1.3" fill="url(#gW)"/><circle cx="237.7" cy="28.9" r="1.3" fill="url(#gW)"/><circle cx="123.9" cy="154.9" r="1.3" fill="url(#gW)"/><circle cx="126.1" cy="24.7" r="1.3" fill="url(#gW)"/><circle cx="104.1" cy="172.1" r="1.3" fill="url(#gW)"/><circle cx="139.1" cy="138.6" r="1.3" fill="url(#gW)"/><circle cx="123.0" cy="97.8" r="1.3" fill="url(#gW)"/><circle cx="139.5" cy="19.5" r="1.3" fill="url(#gW)"/><circle cx="133.2" cy="134.6" r="1.3" fill="url(#gW)"/><circle cx="135.3" cy="118.9" r="1.3" fill="url(#gW)"/><circle cx="208.6" cy="170.9" r="1.3" fill="url(#gW)"/><circle cx="242.3" cy="57.9" r="1.3" fill="url(#gW)"/><circle cx="107.4" cy="154.3" r="1.3" fill="url(#gW)"/><circle cx="223.8" cy="104.8" r="1.3" fill="url(#gW)"/><circle cx="148.7" cy="141.1" r="1.3" fill="url(#gW)"/><circle cx="181.1" cy="64.5" r="1.3" fill="url(#gW)"/><circle cx="177.3" cy="-0.2" r="1.3" fill="url(#gW)"/><circle cx="105.6" cy="111.1" r="1.3" fill="url(#gW)"/><circle cx="226.1" cy="13.2" r="1.3" fill="url(#gW)"/><circle cx="112.2" cy="176.9" r="1.3" fill="url(#gW)"/><circle cx="118.3" cy="-0.8" r="1.3" fill="url(#gW)"/><circle cx="177.7" cy="137.9" r="1.3" fill="url(#gW)"/><circle cx="229.4" cy="58.8" r="1.3" fill="url(#gW)"/><circle cx="277.2" cy="20.5" r="1.3" fill="url(#gW)"/><circle cx="263.7" cy="92.1" r="1.3" fill="url(#gW)"/><circle cx="94.9" cy="146.7" r="1.3" fill="url(#gW)"/><circle cx="163.3" cy="150.0" r="1.3" fill="url(#gW)"/><circle cx="185.9" cy="140.6" r="1.3" fill="url(#gW)"/><circle cx="152.6" cy="66.0" r="1.3" fill="url(#gW)"/><circle cx="165.7" cy="60.1" r="1.3" fill="url(#gW)"/><circle cx="256.7" cy="17.4" r="1.3" fill="url(#gW)"/><circle cx="228.9" cy="185.5" r="1.3" fill="url(#gW)"/><circle cx="170.1" cy="177.3" r="1.3" fill="url(#gW)"/><circle cx="240.8" cy="90.1" r="1.3" fill="url(#gW)"/><circle cx="158.0" cy="189.3" r="1.3" fill="url(#gW)"/><circle cx="132.8" cy="111.7" r="1.3" fill="url(#gW)"/><circle cx="149.8" cy="66.8" r="1.3" fill="url(#gW)"/><circle cx="240.6" cy="102.8" r="1.3" fill="url(#gW)"/><circle cx="138.9" cy="45.0" r="1.3" fill="url(#gW)"/><circle cx="156.9" cy="11.6" r="1.3" fill="url(#gW)"/><circle cx="251.8" cy="35.0" r="1.3" fill="url(#gW)"/><circle cx="229.6" cy="154.1" r="1.3" fill="url(#gW)"/><circle cx="173.9" cy="153.9" r="1.3" fill="url(#gW)"/><circle cx="250.2" cy="78.5" r="1.3" fill="url(#gW)"/><circle cx="248.6" cy="100.6" r="1.3" fill="url(#gW)"/><circle cx="274.4" cy="50.4" r="1.3" fill="url(#gW)"/><circle cx="237.5" cy="-2.0" r="1.3" fill="url(#gW)"/><circle cx="220.7" cy="91.0" r="1.3" fill="url(#gW)"/><circle cx="253.4" cy="40.3" r="1.3" fill="url(#gW)"/><circle cx="206.6" cy="63.0" r="1.3" fill="url(#gW)"/><circle cx="129.1" cy="111.6" r="1.3" fill="url(#gW)"/><circle cx="257.3" cy="6.2" r="1.3" fill="url(#gW)"/><circle cx="198.0" cy="105.5" r="1.3" fill="url(#gW)"/><circle cx="117.0" cy="20.7" r="1.3" fill="url(#gW)"/><circle cx="245.0" cy="122.1" r="1.3" fill="url(#gW)"/><circle cx="270.0" cy="164.8" r="1.3" fill="url(#gW)"/><circle cx="220.0" cy="18.6" r="1.3" fill="url(#gW)"/><circle cx="120.9" cy="144.9" r="1.3" fill="url(#gW)"/><circle cx="177.6" cy="181.0" r="1.3" fill="url(#gW)"/><circle cx="165.4" cy="167.7" r="1.3" fill="url(#gW)"/><circle cx="192.8" cy="39.1" r="1.3" fill="url(#gW)"/><circle cx="170.2" cy="190.2" r="1.3" fill="url(#gW)"/><circle cx="281.7" cy="158.6" r="1.3" fill="url(#gW)"/><circle cx="128.2" cy="127.1" r="1.3" fill="url(#gW)"/><circle cx="178.5" cy="17.7" r="1.3" fill="url(#gW)"/><circle cx="218.4" cy="154.3" r="1.3" fill="url(#gW)"/><circle cx="132.5" cy="74.1" r="1.3" fill="url(#gW)"/><circle cx="103.0" cy="79.1" r="1.3" fill="url(#gW)"/><circle cx="158.2" cy="74.0" r="1.3" fill="url(#gW)"/><circle cx="178.2" cy="187.9" r="1.3" fill="url(#gW)"/><circle cx="122.8" cy="181.0" r="1.3" fill="url(#gW)"/><circle cx="233.8" cy="26.7" r="1.3" fill="url(#gW)"/><circle cx="124.5" cy="142.6" r="1.3" fill="url(#gW)"/><circle cx="181.1" cy="149.3" r="1.3" fill="url(#gW)"/><circle cx="239.7" cy="28.8" r="1.3" fill="url(#gW)"/><circle cx="153.3" cy="15.5" r="1.3" fill="url(#gW)"/><circle cx="146.4" cy="27.8" r="1.3" fill="url(#gW)"/><circle cx="215.8" cy="55.0" r="1.3" fill="url(#gW)"/><circle cx="231.3" cy="47.3" r="1.3" fill="url(#gW)"/><circle cx="237.4" cy="69.3" r="1.3" fill="url(#gW)"/><circle cx="259.6" cy="185.9" r="1.3" fill="url(#gW)"/><circle cx="206.4" cy="49.3" r="1.3" fill="url(#gW)"/><circle cx="220.2" cy="157.0" r="1.3" fill="url(#gW)"/><circle cx="237.5" cy="171.6" r="1.3" fill="url(#gW)"/><circle cx="104.2" cy="157.8" r="1.3" fill="url(#gW)"/><circle cx="166.6" cy="126.7" r="1.3" fill="url(#gW)"/><circle cx="230.4" cy="173.6" r="1.3" fill="url(#gW)"/><circle cx="220.2" cy="107.8" r="1.3" fill="url(#gW)"/><circle cx="163.0" cy="87.6" r="1.3" fill="url(#gW)"/><circle cx="253.1" cy="39.6" r="1.3" fill="url(#gW)"/><circle cx="257.1" cy="59.7" r="1.3" fill="url(#gW)"/><circle cx="166.2" cy="6.2" r="1.3" fill="url(#gW)"/><circle cx="178.2" cy="47.9" r="1.3" fill="url(#gW)"/><circle cx="143.0" cy="76.8" r="1.3" fill="url(#gW)"/><circle cx="272.4" cy="151.2" r="1.3" fill="url(#gW)"/><circle cx="269.7" cy="58.9" r="1.3" fill="url(#gW)"/><circle cx="152.2" cy="56.5" r="1.3" fill="url(#gW)"/><circle cx="167.0" cy="124.9" r="1.3" fill="url(#gW)"/><circle cx="275.0" cy="141.3" r="1.3" fill="url(#gW)"/><circle cx="119.7" cy="65.9" r="1.3" fill="url(#gW)"/><circle cx="126.4" cy="13.7" r="1.3" fill="url(#gW)"/><circle cx="209.6" cy="178.5" r="1.3" fill="url(#gW)"/><circle cx="250.4" cy="12.3" r="1.3" fill="url(#gW)"/><circle cx="143.8" cy="194.6" r="1.3" fill="url(#gW)"/><circle cx="201.5" cy="156.2" r="1.3" fill="url(#gW)"/><circle cx="113.5" cy="5.4" r="1.3" fill="url(#gW)"/><circle cx="139.4" cy="188.3" r="1.3" fill="url(#gW)"/><circle cx="142.1" cy="93.1" r="1.3" fill="url(#gW)"/><circle cx="216.2" cy="56.6" r="1.3" fill="url(#gW)"/><circle cx="253.5" cy="84.2" r="1.3" fill="url(#gW)"/><circle cx="234.3" cy="116.2" r="1.3" fill="url(#gW)"/><circle cx="250.2" cy="42.0" r="1.3" fill="url(#gW)"/><circle cx="141.5" cy="84.6" r="1.3" fill="url(#gW)"/><circle cx="158.3" cy="127.1" r="1.3" fill="url(#gW)"/><circle cx="104.1" cy="68.2" r="1.3" fill="url(#gW)"/><circle cx="267.4" cy="57.9" r="1.3" fill="url(#gW)"/><circle cx="209.8" cy="153.5" r="1.3" fill="url(#gW)"/><circle cx="163.3" cy="176.1" r="1.3" fill="url(#gW)"/><circle cx="214.6" cy="44.0" r="1.3" fill="url(#gW)"/><circle cx="239.7" cy="144.8" r="1.3" fill="url(#gW)"/><circle cx="213.1" cy="74.3" r="1.3" fill="url(#gW)"/><circle cx="202.4" cy="22.8" r="1.3" fill="url(#gW)"/><circle cx="137.7" cy="65.8" r="1.3" fill="url(#gW)"/><circle cx="241.6" cy="97.6" r="1.3" fill="url(#gW)"/><circle cx="213.0" cy="124.9" r="1.3" fill="url(#gW)"/><circle cx="173.9" cy="45.2" r="1.3" fill="url(#gW)"/><circle cx="191.9" cy="179.4" r="1.3" fill="url(#gW)"/><circle cx="197.4" cy="50.8" r="1.3" fill="url(#gW)"/><circle cx="167.2" cy="168.0" r="1.3" fill="url(#gW)"/><circle cx="187.9" cy="70.9" r="1.3" fill="url(#gW)"/><circle cx="223.8" cy="56.4" r="1.3" fill="url(#gW)"/><circle cx="110.4" cy="165.1" r="1.3" fill="url(#gW)"/><circle cx="181.8" cy="63.7" r="1.3" fill="url(#gW)"/><circle cx="132.6" cy="64.5" r="1.3" fill="url(#gW)"/><circle cx="206.7" cy="151.7" r="1.3" fill="url(#gW)"/><circle cx="242.6" cy="63.6" r="1.3" fill="url(#gW)"/><circle cx="107.5" cy="187.8" r="1.3" fill="url(#gW)"/><circle cx="242.2" cy="-0.3" r="1.3" fill="url(#gW)"/><circle cx="100.3" cy="157.5" r="1.3" fill="url(#gW)"/><circle cx="220.6" cy="30.7" r="1.3" fill="url(#gW)"/><circle cx="149.2" cy="11.0" r="1.3" fill="url(#gW)"/><circle cx="209.0" cy="55.8" r="1.3" fill="url(#gW)"/><circle cx="260.9" cy="38.9" r="1.3" fill="url(#gW)"/><circle cx="173.6" cy="165.7" r="1.3" fill="url(#gW)"/><circle cx="153.1" cy="8.6" r="1.3" fill="url(#gW)"/><circle cx="192.1" cy="136.9" r="1.3" fill="url(#gW)"/><circle cx="243.0" cy="151.9" r="1.3" fill="url(#gW)"/><circle cx="129.9" cy="80.3" r="1.3" fill="url(#gW)"/><circle cx="245.9" cy="53.4" r="1.3" fill="url(#gW)"/><circle cx="262.9" cy="78.4" r="1.3" fill="url(#gW)"/><circle cx="271.6" cy="0.6" r="1.3" fill="url(#gW)"/><circle cx="266.1" cy="132.1" r="1.3" fill="url(#gW)"/><circle cx="173.7" cy="51.8" r="1.3" fill="url(#gW)"/><circle cx="183.6" cy="195.5" r="1.3" fill="url(#gW)"/><circle cx="138.0" cy="43.6" r="1.3" fill="url(#gW)"/><circle cx="197.1" cy="59.8" r="1.3" fill="url(#gW)"/><circle cx="227.3" cy="5.4" r="1.3" fill="url(#gW)"/></g>
<path d="M13.3 166 L13.3 121 L10.4 121 L19.8 112.3 L28.4 121 L24.6 121 L24.6 166 Z" fill="url(#gGrn)"/>
<path d="M30 171.5 L77.5 171.5 L77.5 166.8 C80 167 83 172 83.3 178 C83 184 80 189 77.5 189.6 L77.5 185 L30 185 Z" fill="url(#gRed)"/>
<circle cx="18.7" cy="178.3" r="15.2" fill="url(#gB)"/>
<text x="20.5" y="185.5" font-size="17.0" text-anchor="middle" font-weight="normal" fill="#c8cdf0" font-style="italic">z</text>
<path d="M5.3 190.6 H360.8M5.3 190.6 v6.5M34.9 190.6 v3.2M64.5 190.6 v6.5M94.2 190.6 v3.2M123.8 190.6 v6.5M153.4 190.6 v3.2M183.1 190.6 v6.5M212.7 190.6 v3.2M242.3 190.6 v6.5M271.9 190.6 v3.2M301.6 190.6 v6.5M331.2 190.6 v3.2M360.8 190.6 v6.5" stroke="#3a3a3a" stroke-width="1.5" fill="none"/>
<text x="5.3" y="213.2" font-size="16.3" text-anchor="middle" font-weight="normal" fill="#444" stroke="#444" stroke-width="0.45">0</text>
<text x="64.5" y="213.2" font-size="16.3" text-anchor="middle" font-weight="normal" fill="#444" stroke="#444" stroke-width="0.45">10</text>
<text x="123.8" y="213.2" font-size="16.3" text-anchor="middle" font-weight="normal" fill="#444" stroke="#444" stroke-width="0.45">20</text>
<text x="183.1" y="213.2" font-size="16.3" text-anchor="middle" font-weight="normal" fill="#444" stroke="#444" stroke-width="0.45">30</text>
<text x="242.3" y="213.2" font-size="16.3" text-anchor="middle" font-weight="normal" fill="#444" stroke="#444" stroke-width="0.45">40</text>
<text x="301.6" y="213.2" font-size="16.3" text-anchor="middle" font-weight="normal" fill="#444" stroke="#444" stroke-width="0.45">50</text>
<text x="360.8" y="213.2" font-size="16.3" text-anchor="middle" font-weight="normal" fill="#444" stroke="#444" stroke-width="0.45">60</text>
<text x="153.6" y="239.5" font-size="24.5" text-anchor="middle" font-weight="normal" fill="#3a3a3a">(a)</text>
<path d="M24.0 403.0L24.0 332.0M44.7 395.8L44.7 324.8M65.3 388.5L65.3 317.5M86.0 381.2L86.0 310.2M106.7 374.0L106.7 303.0M127.3 366.8L127.3 295.8M148.0 359.5L148.0 288.5M24.0 403.0L148.0 359.5M24.0 388.8L148.0 345.3M24.0 374.6L148.0 331.1M24.0 360.4L148.0 316.9M24.0 346.2L148.0 302.7M24.0 332.0L148.0 288.5M148.0 359.5L148.0 288.5M178.5 364.5L178.5 293.5M209.1 369.5L209.1 298.5M239.6 374.5L239.6 303.5M270.2 379.5L270.2 308.5M300.7 384.5L300.7 313.5M328.2 389.0L328.2 318.0M148.0 359.5L328.2 389.0M148.0 345.3L328.2 374.8M148.0 331.1L328.2 360.6M148.0 316.9L328.2 346.4M148.0 302.7L328.2 332.2M148.0 288.5L328.2 318.0M24.0 403.0L148.0 359.5M54.5 408.0L178.5 364.5M85.1 413.0L209.1 369.5M115.7 418.0L239.6 374.5M146.2 423.0L270.2 379.5M176.8 428.0L300.7 384.5M204.2 432.5L328.2 389.0M24.0 403.0L204.2 432.5M44.7 395.8L224.9 425.2M65.3 388.5L245.6 418.0M86.0 381.2L266.2 410.8M106.7 374.0L286.9 403.5M127.3 366.8L307.6 396.2M148.0 359.5L328.2 389.0" stroke="#e3e3e3" stroke-width="0.9" fill="none"/>
<path d="M24.0 403.0L24.0 332.0M24.0 403.0h2.2M24.0 388.8h2.2M24.0 374.6h2.2M24.0 360.4h2.2M24.0 346.2h2.2M24.0 332.0h2.2" stroke="#8a8a8a" stroke-width="0.9" fill="none"/>
<path d="M24.0 403.0L204.2 432.5L328.2 389.0" stroke="#9a9a9a" stroke-width="0.9" fill="none"/>
<defs><clipPath id="clipS"><polygon points="57.4,364.0 60.4,366.2 79.0,357.2 88.7,356.4 96.7,354.0 103.0,347.6 112.7,342.8 122.3,341.0 126.0,338.0 142.0,334.0 154.9,330.0 165.3,326.5 170.0,334.0 177.9,338.6 196.4,339.9 213.6,344.5 222.8,353.8 230.8,361.7 241.3,368.3 251.9,373.6 260.0,376.2 264.1,378.6 287.9,382.8 309.0,386.6 328.5,389.8 201.1,433.2 73.2,411.6 69.4,411.4 59.0,376.6"/></clipPath></defs>
<g clip-path="url(#clipS)"><polygon points="57.4,364.0 60.4,366.2 79.0,357.2 88.7,356.4 96.7,354.0 103.0,347.6 112.7,342.8 122.3,341.0 126.0,338.0 142.0,334.0 154.9,330.0 165.3,326.5 170.0,334.0 177.9,338.6 196.4,339.9 213.6,344.5 222.8,353.8 230.8,361.7 241.3,368.3 251.9,373.6 260.0,376.2 264.1,378.6 287.9,382.8 309.0,386.6 328.5,389.8 201.1,433.2 73.2,411.6 69.4,411.4 59.0,376.6" fill="#8cc45e"/><polygon points="103.0,347.6 110.0,341.5 126.0,338.5 142.0,334.5 148.0,343.0 138.8,354.0 122.8,360.5 110.0,354.0 105.0,356.0" fill="#b5c73e"/><polygon points="55.0,372.5 71.0,371.7 77.4,370.0 91.9,368.5 105.0,358.0 110.0,356.0 122.8,361.5 138.8,355.0 147.5,344.0 165.0,342.5 170.0,340.6 177.9,338.6 200.0,335.0 330.0,335.0 330.0,450.0 55.0,450.0" fill="#5ec0b8"/><polygon points="55.0,392.0 105.0,390.0 110.0,369.0 116.0,365.5 134.0,364.3 150.0,361.5 170.0,360.4 193.8,356.4 207.0,352.5 213.6,344.5 330.0,344.0 330.0,450.0 55.0,450.0" fill="#42b3e3"/><polygon points="185.9,361.7 204.3,353.8 228.1,361.7 238.7,369.6 234.7,374.9 216.2,381.5 201.7,388.1 191.1,372.3" fill="#4472ba"/><polygon points="228.1,361.7 241.3,368.3 251.9,373.6 262.0,377.0 236.0,375.6 234.7,374.9 238.7,369.6" fill="#3d5fae"/><polygon points="98.0,386.0 112.1,387.6 131.3,379.7 150.0,377.0 155.4,374.0 163.8,369.5 170.0,372.3 162.4,383.3 176.6,400.3 169.5,401.7 155.4,404.5 141.2,410.2 120.0,411.6 113.2,400.0" fill="#4069b5"/><polygon points="161.0,373.4 170.0,372.3 180.6,372.3 191.1,372.3 201.7,388.1 191.1,393.4 183.6,398.0 176.6,400.3 162.4,383.3" fill="#43b5e5"/><polygon points="155.4,373.4 163.8,369.1 175.2,372.7" fill="#3b55a6"/><polygon points="72.6,381.3 77.4,376.5 95.0,374.9 110.0,368.5 119.6,374.9 128.0,378.0 112.1,387.6 98.0,385.9 89.5,398.9" fill="#8cc45e"/><polygon points="98.0,385.9 112.1,387.6 122.3,389.5 113.2,400.0" fill="#5ac0cc"/><polygon points="98.0,385.9 113.2,400.0 105.3,416.5 89.5,398.9" fill="#3f5fb0"/><polygon points="72.6,380.8 89.5,398.9 105.3,416.5 72.6,412.0" fill="#343c8e"/><polygon points="105.3,416.5 113.2,400.0 120.0,411.6 141.2,410.2 155.4,404.5 169.5,401.7 183.2,400.0 201.7,389.4 216.2,382.8 236.0,375.6 251.9,374.9 264.0,380.0 330.0,386.0 330.0,450.0 105.3,450.0" fill="#343c8e"/><polygon points="56.9,363.8 60.4,366.2 73.2,382.2 73.2,411.7 69.4,411.4 59.0,376.6" fill="#f5b022"/></g>
<polygon points="40.6,326.4 25.8,384.4 42.0,367.2" fill="#3a70c0"/>
<polygon points="40.6,326.4 42.0,367.2 58.3,376.6 56.9,363.8" fill="#8c2525"/>
<polygon points="25.8,384.4 42.0,367.2 48.4,373.0 33.6,383.0" fill="#42bde6"/>
<polygon points="33.6,383.0 48.4,373.0 58.6,376.4 60.2,379.0 36.4,385.2" fill="#3550a8"/>
<defs><linearGradient id="jet" x1="0" y1="1" x2="0" y2="0">
<stop offset="0" stop-color="#353591"/><stop offset="0.12" stop-color="#3a4ea8"/><stop offset="0.25" stop-color="#3a78c8"/>
<stop offset="0.36" stop-color="#40b0e2"/><stop offset="0.45" stop-color="#52c0b0"/><stop offset="0.53" stop-color="#9cc858"/>
<stop offset="0.62" stop-color="#eadf30"/><stop offset="0.74" stop-color="#f29030"/><stop offset="0.86" stop-color="#e03030"/><stop offset="1" stop-color="#782020"/>
</linearGradient></defs>
<rect x="339.6" y="293.2" width="7.7" height="129.8" fill="url(#jet)"/>
<text x="349.0" y="296.4" font-size="9.0" text-anchor="start" font-weight="normal" fill="#555">25</text>
<text x="349.0" y="322.4" font-size="9.0" text-anchor="start" font-weight="normal" fill="#555">20</text>
<text x="349.0" y="348.3" font-size="9.0" text-anchor="start" font-weight="normal" fill="#555">15</text>
<text x="349.0" y="375.1" font-size="9.0" text-anchor="start" font-weight="normal" fill="#555">10</text>
<text x="349.0" y="400.2" font-size="9.0" text-anchor="start" font-weight="normal" fill="#555">5</text>
<text x="349.0" y="426.2" font-size="9.0" text-anchor="start" font-weight="normal" fill="#555">0</text>
<text x="0.0" y="0.0" font-size="9.0" text-anchor="middle" font-weight="normal" fill="#555" transform="translate(46.9,420.1) rotate(8)">10</text>
<text x="0.0" y="0.0" font-size="9.0" text-anchor="middle" font-weight="normal" fill="#555" transform="translate(76.9,425.1) rotate(8)">20</text>
<text x="0.0" y="0.0" font-size="9.0" text-anchor="middle" font-weight="normal" fill="#555" transform="translate(108.1,430.7) rotate(8)">30</text>
<text x="0.0" y="0.0" font-size="9.0" text-anchor="middle" font-weight="normal" fill="#555" transform="translate(138.1,436.3) rotate(8)">40</text>
<text x="0.0" y="0.0" font-size="9.0" text-anchor="middle" font-weight="normal" fill="#555" transform="translate(168.8,441.3) rotate(8)">50</text>
<text x="0.0" y="0.0" font-size="9.0" text-anchor="middle" font-weight="normal" fill="#555" transform="translate(211.9,444.5) rotate(-12)">0</text>
<text x="0.0" y="0.0" font-size="9.0" text-anchor="middle" font-weight="normal" fill="#555" transform="translate(235.0,437.0) rotate(-12)">50</text>
<text x="0.0" y="0.0" font-size="9.0" text-anchor="middle" font-weight="normal" fill="#555" transform="translate(258.1,429.5) rotate(-12)">100</text>
<text x="0.0" y="0.0" font-size="9.0" text-anchor="middle" font-weight="normal" fill="#555" transform="translate(278.8,422.0) rotate(-12)">150</text>
<text x="0.0" y="0.0" font-size="9.0" text-anchor="middle" font-weight="normal" fill="#555" transform="translate(298.8,414.5) rotate(-12)">200</text>
<text x="0.0" y="0.0" font-size="9.0" text-anchor="middle" font-weight="normal" fill="#555" transform="translate(318.8,407.0) rotate(-12)">250</text>
<text x="0.0" y="0.0" font-size="9.0" text-anchor="middle" font-weight="normal" fill="#555" transform="translate(335.6,399.5) rotate(-12)">300</text>
<text x="0.0" y="0.0" font-size="8.5" text-anchor="middle" font-weight="normal" fill="#555" transform="translate(20.6,402.2) rotate(-90)">0</text>
<text x="0.0" y="0.0" font-size="8.5" text-anchor="middle" font-weight="normal" fill="#555" transform="translate(20.6,389.8) rotate(-90)">5</text>
<text x="0.0" y="0.0" font-size="8.5" text-anchor="middle" font-weight="normal" fill="#555" transform="translate(20.6,376.3) rotate(-90)">10</text>
<text x="0.0" y="0.0" font-size="8.5" text-anchor="middle" font-weight="normal" fill="#555" transform="translate(20.6,362.8) rotate(-90)">15</text>
<text x="0.0" y="0.0" font-size="8.5" text-anchor="middle" font-weight="normal" fill="#555" transform="translate(20.6,348.3) rotate(-90)">20</text>
<text x="0.0" y="0.0" font-size="8.5" text-anchor="middle" font-weight="normal" fill="#555" transform="translate(20.6,333.8) rotate(-90)">25</text>
<text x="0.0" y="0.0" font-size="9.0" text-anchor="middle" font-weight="normal" fill="#3c3c3c" textLength="78" lengthAdjust="spacingAndGlyphs" stroke="#3c3c3c" stroke-width="0.25" transform="translate(85.0,440.0) rotate(11)">Position (X-direction)</text>
<text x="0.0" y="0.0" font-size="9.0" text-anchor="middle" font-weight="normal" fill="#3c3c3c" textLength="38" lengthAdjust="spacingAndGlyphs" stroke="#3c3c3c" stroke-width="0.25" transform="translate(286.8,440.5) rotate(-20)">Time (ps)</text>
<text x="0.0" y="0.0" font-size="8.2" text-anchor="middle" font-weight="bold" fill="#444" textLength="90" lengthAdjust="spacingAndGlyphs" transform="translate(7.8,368) rotate(-90)">Li-concentration (M)</text>
<text x="150.8" y="524.8" font-size="25.0" text-anchor="middle" font-weight="normal" fill="#3a3a3a">(f)</text>
</svg>
</body></html>
